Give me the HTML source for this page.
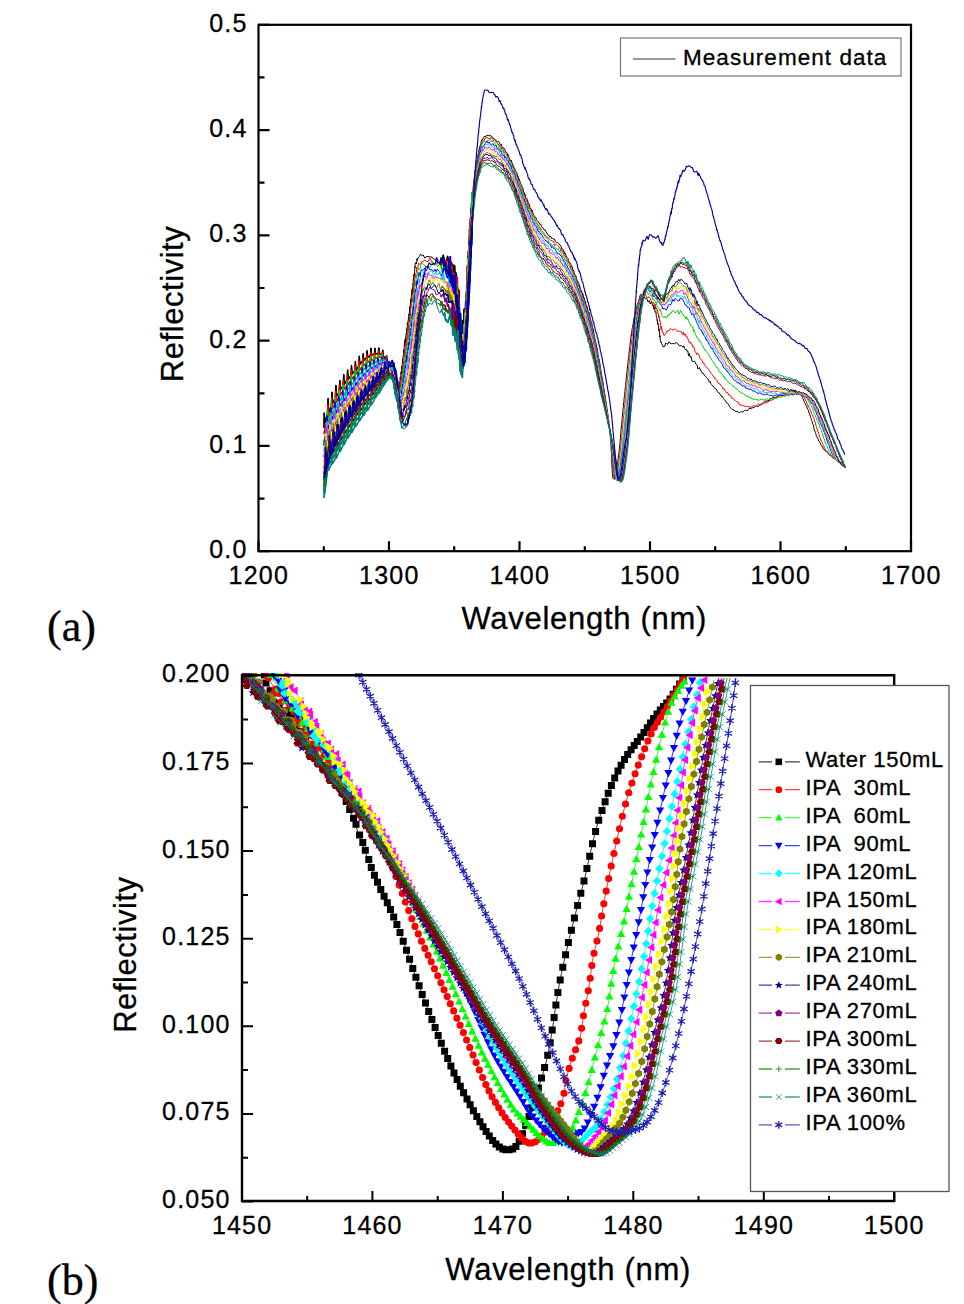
<!DOCTYPE html><html><head><meta charset="utf-8"><style>html,body{margin:0;padding:0;background:#fff;width:964px;height:1304px;overflow:hidden;position:relative}</style></head><body><svg width="964" height="1304" viewBox="0 0 964 1304" style="position:absolute;left:0;top:0">
<rect width="964" height="1304" fill="#fff"/>
<g fill="none" stroke-width="1.0" stroke-linejoin="round">
<path stroke="#000000" stroke-width="1.0" d="M324 428l.2-14.9 .6 9.9 2.8-9.8 .5-14.6 .6 13.8 2.8-7.1 .5-13.1 .6 11.3 2.8-5.9 .5-12.1 .6 10.9 2.8-4.9 .5-11.1 .6 9.3 2.8-4.1 .5-11 .6 9.9 2.8-4.9 .5-9.6 .6 9.5 2.8-4.2 .5-9.7 .6 8.5 2.8-3.6 .5-8.9 .6 8.8 2.8-4.8 .5-9.4 .6 8.2 2.8-3.7 .5-7 .6 6.9 2.8-3.1 .5-6.8 .6 6.7 2.8-2 .5-7.1 .6 6.6 2.8-.7 .5-5.9 .6 5.8 2.8-.7 .5-5.5 .6 5.9 2.8 .9 .5-4.5 .6 5.9 2.8 2.7 .5-3 .6 4.8 2.8 6.2 .5-1.7 .6 4.4 1.1-4.3 .5 6 .5-3.4 .4 1.8 .5 5.8 .4 2.4 .5-2.3 .5 1.6 .2 0 .3 1.3 .2 3.6 .2-1.8 .3 .8 .2 3.5 .5-.1 .5 4.6 1.1 .2 .3-1.6 .3-3.4 .2-2.3 .3-.7 .2-4.4 .1 3.7 .2-3.9 .2-1.3 .1-3 .2 1.4 .1-.2 .2-2.5 .1 2.2 .1-2.5 .2-4.3 .1 .8 .2 1.5 .1-4 .2-.7 .1-5 .2 1.7 .1-1.5 .2-1.7 .1-1.1 .2-.1 .1-1.6 .2-1.5 .1-3.5 .2 .6 .1 2.6 .2-5 .1-3.9 .2-1.3 .1 2.5 .2-4.4 .1-.9 .2-.9 .1 1.3 .2 2.6 .1-4.6 .2-1.4 .1-1.2 .2-.7 .2-1.5 .1 .8 .2 0 .1-2.5 .2-3.1 .2 .5 .1 .6 .2-6.4 .1-.6 .2 1.6 .2-.7 .1-1.5 .2-1.5 .2 .5 .1-3.6 .2 1.2 .2-.1 .1-4.8 .2 1.8 .1-2.1 .2 .1 .2-7 .1 4.9 .2-2.1 .2 .3 .1-1 .2-6.2 .2 1.3 .2-5.1 .2 1.9 .1 1.1 .2-6.2 .1 .1 .2-3 .1-.3 .2-1.1 .1-1.9 .1 5.2 .2-2 .1-4.1 .1 .8 .2-1.5 .1-2.3 .1-1.9 .2 .6 .1-1.9 .1-3.2 .2-.4 .1 .7 .1-1.1 .2-4.3 .2 1.5 .1 .5 .2-1.3 .2-2.8 .2-5.2 .2 1.2 .2-3.5 .2-1.6 .3 0 .3 .1 .3 1 .4-1.9 .3-3.5 .5 1.8 .6-2.4 1.2-1.3 1.2-2.4 1.3 1.2 1.4-.4 1.5 3 1.6-1.3 1.7-.1 1.9 .3 2.2 .2 1.1 1.6 1.2 .4 1.2 .8 1.2-2.6 1.1 2.9 1.2 1.4 1.1 2 1.1-2.5 2-6 1.7 8.4 1.4 .4 1.1-7.6 1 3.1 1.5 7.1 1.3-4.6 .7 2.4 .7 8.9 .5-1.5 .6-6.6 .4 4.7 .5-3.7 .4 12.6 .5-2.6 .2 4.5 .2-4.4 .2-3.2 .2 12.6 .2-2.2 .2-4.8 .2 11.4 .2-10.1 .1 7.8 .1-.5 .2 .4 .1 8.4 .1-2.4 .1 6.5 .1-1.1 .2-5.4 .1 2.8 .1 1 .1 8.2 .1-2.8 .2 6.1 .1-7.2 .1-11.5 .1 10.6 .1 8.6 .1-5.1 .1-.7 0 6.6 .1-2.1 .1 4.2 .1 2.1 0 7 .1 1.1 0-5.3 .1 7.7 .1-10 0 2.7 .1 2.5 0 5.9 .1-3.1 .1 4.9 0-12.3 .1 15.4 0-7 .1 6.5 .1 .1 .1 .7 0-1.1 .1 9.5 .1-9.4 .1 5.7 .1 6.7 .1-.2 .1-5.2 .1 2.7 .2 .5 .4 6.2 .5-4.1 .1-21.9 .2 14.6 .1 11.8 .2-15.1 .1 8.2 .1 2.2 .1-13.1 .1 4.5 .1-7.2 .1 5.1 .1-12.5 .1 5.7 .1-4.8 .1-11.1 .1 19.9 .1 .3 .1-3.6 .1-4.1 0 2.8 .1-2.7 .1-2.3 .1-4.4 .1 .3 .1-1.9 .1-4.8 0 9 .1-5.8 .1-2.3 .1 3.9 .1-8.1 .1-3.8 .1 2.1 0-2.9 .1 2.2 .1-.6 .1-1.3 .1-.1 .1 2.9 0-8 .1 5.9 .1-9.5 .1 4.4 .1-2.1 0 2.6 .1-8.9 .1 4.4 0-17.1 .1 8.2 .1-2 0 5.1 .1-2.2 0 2.3 .1-12.4 .1 8.7 0-3.8 .1-5.4 .1 7.2 0-4.4 .1-3.4 0-.2 .1 1.6 .1-12.9 0 1.1 .1-.6 0 4.1 .1-2.6 .1-7.9 0 5.8 .1 5.3 0-8.2 .1-5.9 .1-1.7 0 3.1 .1-1.6 0 1.6 .1 10.4 .1-9.9 0-.2 .1-12.3 .1 7.4 0-.3 .1-1.6 .1-7.2 0 2.3 .1 2.8 .1-6.2 0 2.2 .1-5.7 .1-.2 .1 2 .1-10.1 0 13 .1-9.2 .1-6.6 .1-1.6 .1 4.9 .1-1.7 .1-3.5 .1-4.2 0 7.5 .1-3.4 .1-1.8 .1-2.8 .1 4.9 .1-3.6 0-8.7 .1 8.2 .1-1 .1-10.3 0 5.6 .1-6 .1 4.3 .1-8.8 .1 .6 0 2.2 .1 4.4 .1 1.1 .1-7.5 .1-.4 .1-2 .1 0 .1-1.8 .1-1.5 .1-.4 .1-2 .1-2.4 .1-.1 .1-2.5 .1-.6 .1-.4 .1-2.5 .1-.6 .1-1.6 .1-.7 .1-1.6 .2 .1 .1-.8 .1-2 .1-.6 .2-1.1 .1-1 .1-1.3 .2-1.6 .1-1 .2-1.2 .2-1.8 .2-.6 .2-2.8 .2 .1 .2-1.5 .2-1.5 .2-.9 .2-.4 .2-1.5 .3-1.4 .2-.5 .2-1.2 .2-2.5 .2 .3 .2-1 .3-2 .3-.3 .3-3.2 .3 .4 .3-2.6 .3-.6 .3-.8 .3-1.3 .4-1 .5-2.3 .4-1.3 .8 .2 .8-2.6 .8-1 .9 .1 1.9-.8 1.1-.6 1.1 .8 1.3-.7 1.2 2 .9 0 .9 1.2 .9 .5 1 .7 1 1.5 .9 .4 .8 .1 .7 0 .7 1.6 .8 1.4 .7-.6 .8 2.5 .7 .5 .7 1.1 .8 0 .7 1.1 .7 2.6 .8 .1 .7 .8 .7 3 .7-1 .7 2.8 .6 1.4 .5 1.2 .6 .5 .5-.6 .6 2.1 .5 2.2 .5-.2 .4 1.4 .5 1.6 .5 .6 .5 .5 .4 1.8 .5 .8 .5 .8 .5 .5 .5 1.7 .5 3.1 .4-.8 .4 1.2 .4 2.7 .4-1.2 .4 1.4 .4 1.4 .4 1.2 .4 .9 .4 .8 .4 .7 .5 2.1 .4 0 .4 .7 .4 3 .4 1.2 .5 .1 .4 2.5 .5-.7 .4 3.1 .5 .6 .4 1 .5-.5 .4 2.9 .4-.5 .5 2 .4 1.1 .5-.2 .5 1.7 .4 2.7 .5 .6 .5-.1 .6 2.8 .5-1.3 .6 2.6 .5 1.5 .7 1.3 .7 .7 .6 1.5 .7-.2 .6 2.4 .6 .8 .9 1 .9 .6 .9 2.3 .9-.4 .8 2.3 .9 1.5 .9 .3 .9 1.8 .9-.3 .9 1.9 .9 1.5 1 1.9 .9 .2 1 1.9 .9-.7 .9 2.2 1-.1 .9 .5 .9 0 1 2.5 .9 .8 .9-.2 1 .9 .9 .9 1 1.4 .9 .6 .6 3 .6-.1 .7 .3 .6 2.4 .6-.3 .7 2.9 .6-1.1 .6 2.5 .6 1.4 .6 .4 .7 .9 .6 3 .6 .5 .7 1.6 .6-.1 .4 .6 .5 3.4 .5-.9 .4 .7 .5 3 .5 .5 .5-.4 .4 2.5 .5 1 .5 2.2 .4 .3 .5 0 .5 2.4 .5 1.7 .4 1.6 .5-.5 .5 1.9 .5-.1 .5 3.6 .4-.9 .4 2.4 .4 1.5 .4 .1 .4 2.3 .4-.4 .4 1.5 .4 1.8 .4-1.1 .4 3.3 .4 1.1 .3-.7 .4 2.5 .4 .1 .4 .9 .4 1.9 .3 1.7 .4 .3 .4 1.1 .4 .8 .3 2.1 .4 1.2 .3 2 .4 1.1 .4-.9 .3 1.5 .4 1.2 .3 1.6 .3 2.5 .4 .5 .3 1.9 .3 1.4 .2-.2 .3 .1 .3 1.6 .2 2.2 .3 .9 .2 .2 .3 2.5 .2-.7 .3 1.4 .2 2.1 .3 1.3 .2 2 .3-.2 .2 2.3 .3 .2 .2 .7 .2 2.9 .3 0 .2 1.7 .2 .1 .3 2.8 .2 .1 .2 .1 .3 1.2 .2 2 .2 1.4 .2 .4 .2 3.1 .3 .4 .2 2.2 .2 .5 .2 1.6 .2-.5 .2 .9 .3 1.7 .2 1.7 .2 .2 .2 3.2 .2 .1 .2 2 .2-.1 .2 2.6 .2 .3 .2 1.5 .2 1.3 .2 1.2 .2 .6 .2 1.1 .2 1.5 .2 1.4 .2 .2 .2 1.6 .2 .9 .2 2.6 .2 .9 .2 1.5 .1 .9 .2 0 .2 1.7 .2 2.2 .2 .5 .2 1 .2 .9 .2 2.5 .1-.2 .2 1.6 .2 1.2 .2 1.7 .1 1.7 .2 .9 .2 1.6 .2 0 .1 2 .2 1.1 .2 0 .1 2.2 .2 1.7 .2-.4 .1 1.5 .2 1.8 .1 1.2 .2 1.1 .1 1.8 .2 .2 .1 1.6 .1 .9 .2 1.7 .1 .3 .2 2.1 .1 1.1 .2 1.1 .1 1.7 .2 .8 .1 .6 .1 2.3 .1 0 .1 1.1 .1 1.6 .1 .9 .1 2 .1 .1 .1 2.1 0 .3 .1 .7 .1 1.7 .1 1.4 0 .5 .1 1.7 0 .9 .1 .4 0 1.2 .1 1.7 .1 1.7 0 .2 0 2.5 .1 .1 0 .6 .1 1.3 0 2.5 .1 1.1 0 .9 .1 .1 0 2.3 .1 .2 .1 1.7 .1 1 0 2.3 .1 1.7 .2 .3 .1 2.7 .2 .4 .2 1.8 .5-.1 1.2-.3 .3-1.3 .3-2.1 .3-.2 .4-1.5 .2-1.9 .2-1.5 .2-1.5 .3-.5 .2-2 .2-1.5 .2-.8 .2-1.7 .1-.2 .2-1.8 .2-1.4 .1-1.1 .2-1.4 .2-1.3 .1-1.6 .2-.4 .1-1 .1-1.9 .2-1 .1-1 .1-2.2 .1-.1 .2-1.8 .1-1 .1-1.4 .1-.5 .1-1.8 .1-.7 .1-2 .1-1.2 .1-.5 .1-.6 .1-2.4 .1-.1 .1-2 .1-1.4 .1 .1 .2-2.6 .1-.5 .1-.7 .1-1.2 .1-1 .1-2.4 .1-1.2 .1-.9 .1-.2 .2-1.1 .1-2.1 .1-1.4 .1-.6 .1-1.6 .1-1.9 .1-.1 .2-.6 .1-1.7 .1-1.1 .1-2.3 .2-.2 .1-.6 .1-2.4 .1-1.1 .2-1.4 .1-.6 .1-1.7 .1-.3 .2-1.5 .1-1.5 .1-.7 .1-2.1 .2-1.1 .1-.8 .1-1.2 .1-1.1 .1-.2 .2-2.3 .1-.2 .1-1.3 .1-2.1 .2-1 .1-1.9 .1 0 .1-1.5 .2-1.8 .1 .1 .1-2 .1-1.5 .2-.8 .1-1.8 .1-1 .1-.5 .2-1.2 .1-2.1 .1-.1 .2-1.1 .1-1.6 .1-1 .2-1.2 .1-.8 .1-1.3 .1-1 .2-1.6 .1-1.2 .1-1.7 .2-.1 .1-1.2 .1-.8 .2-1.4 .1-1.4 .1-1.9 .2-.1 .1-1.1 .2-2.2 .1-.9 .2-.8 .2-1.8 .1 .5 .2-2.9 .2 0 .1-.9 .2-2.6 .2-.4 .2-1.3 .2-.3 .2-1.2 .2-1.9 .3-1 .2-1.2 .3-2.7 .2-1.3 .3-.3 .3-.7 .2-1.6 .3-.8 .3-2.7 .4-1.2 .3-2.4 .4 .3 .3 .6 .3-4.5 .5-.5 .5-1.5 .5-.9 .5-2.4 .4-.5 .5-3 .8-1.5 1.5 1.3 1.3-.9 .8 3.1 .7 0 .9 .9 1 .1 1.1 3.3 1.1-1.4 1.2 3.3 1.2-2.2 1.2 4.2 .6-1 .6 4.3 .5-2.6 .5 4.8 .3 .8 .3-.5 .4-.3 .2 3.9 .2 1.2 .2 1.3 .3 .6 .2 1.9 .2-.7 .2 2.4 .2 2.3 .2-1.4 .2 1 .3 1.7 .2 0 .2 4.9 .2-1.7 .2 .5 .2 2.4 .2 2.1 .2 3.1 .2-1.3 .2 3.4 .3 1.6 .3 1.5 .3-.5 .4 1.6 .5 .9 .9 2.5 1.8-.3 .9-3.3 1 .3 1 1 1.2-2.6 1.2 1.5 1.4 .4 1.5-.1 1.6 .1 1.6-1.2 1.7 1.3 1.8 2.3 1.7-.7 1.7 1.9 .8-1.5 .8 2.6 .8 1.2 .8-.5 .8 2.1 .8-.3 .8 5.1 .8-2.5 .9 3.9 .8-.8 .9 4.5 .9 .8 .7-.5 .6-.3 .7 .3 .7 2.4 .7 .5 .7 .4 .8 4.2 .8-.4 .8-1.1 .9 2.7 .9 .9 .9 1.9 .7 .5 .7-.1 .7 1.8 .7 .8 .8 .5 .7 1.2 .7 .6 .8 .7 .7 1.2 .8 2.2 .7-.8 .7 1.8 .8 1.3 .7 1 .7 .1 .7 1.4 1 .7 .9 1.2 .9 .4 .8 2.2 .9 .9 .8 .1 .8 1.5 .7 .2 .8 2 .7-.2 .7 1 .7 1.4 .7 .7 .7 1.1 .7 .3 1 2.3 .9 .3 1 1 .9 2 1 1.5 .9 .7 .9 1 1-.1 .9 .8 1 1.1 1.7 .3 1.5 .5 1.3 .9 1.4-1.4 1.5 .6 2-1.4 1.2-.5 1.2 .5 1.1-.4 1-1.7 1.1-.3 1 0 1.1-.3 1-.4 1 0 1.1-1 1-.8 1 .9 1-.4 1.1-.9 1.1-.5 1.2-.3 1.1-.9 1.2-1 1.1-1.5 1-.2 1 .2 1-.7 1 .1 1.1-2 1 .3 1-1.1 1-.2 1-.3 1 .2 1-.4 1-.6 1.2-1 1.1-.3 1.1-.1 1.2-.6 1.1-1.4 1.3 .7 1.3-.5 1.2-.6 1.3-.6 1.4-.5 1.3-.9 1.4-.5 1.5 .1 1.6-.1 1.2 .6 1.1 1.7 1.9 .4 1.4 .6 .6 2.5 .6-.4 .6 1.9 .6 1.5 .6 .9 .7 2.5 .5 .4 .6 1.3 .5 1.6 .6 .3 .6 2.1 .6 1.2 .4 .8 .4 .8 .4 2.4 .5 .2 .3 1 .3 1.5 .4 .3 .3 1.5 .4 .7 .3 1.7 .3 .3 .4 1 .3 2.3 .4 .3 .3 .7 .4 1.4 .4 2.3 .3 1.4 .4 1.2 .4 .1 .3 1.2 .4 1.3 .4 1.7 .4 .8 .5 1.4 .5-.1 .6 2.1 .5 1.4 .6 .3 .5 1.4 .6 .5 .6 2.3 .7 .5 .7 .2 .7 2 .6 1.3 .8 0 .8 1.6 .8 .3 .8 .4 .9 1 .9 1.7 .8 .6 .9 0 .9 1 .9 .2 .9 1.6 .8 .7 1.2-.1 1.1 .9 1.2 1.9 1 0 1-.1 1.1 .8 1.3 2.2 1.3 1.1 .9-.7 1 2"/>
<path stroke="#000000" stroke-width="1.5" d="M324 428l.2-14.9 .6 9.9 2.8-9.8 .5-14.6 .6 13.8 2.8-7.1 .5-13.1 .6 11.3 2.8-5.9 .5-12.1 .6 10.9 2.8-4.9 .5-11.1 .6 9.3 2.8-4.1 .5-11 .6 9.9 2.8-4.9 .5-9.6 .6 9.5 2.8-4.2 .5-9.7 .6 8.5 2.8-3.6 .5-8.9 .6 8.8 2.8-4.8 .5-9.4 .6 8.2 2.8-3.7 .5-7 .6 6.9 2.8-3.1 .5-6.8 .6 6.7 2.8-2 .5-7.1 .6 6.6 2.8-.7 .5-5.9 .6 5.8 2.8-.7 .5-5.5 .6 5.9 2.8 .9 .5-4.5 .6 5.9 2.8 2.7 .5-3 .6 4.8 2.8 6.2 .5-1.7 .6 4.4 1.1-4.3 .5 6 .5-3.4 .4 1.8 .5 5.8 .4 2.4 .5-2.3 .5 1.6 .2 0 .3 1.3 .2 3.6 .2-1.8 .3 .8 .2 3.5 .5-.1 .5 4.6M440.2 263.6l1.1-2.5 2-6 1.7 8.4 1.4 .4 1.1-7.6 1 3.1 1.5 7.1 1.3-4.6 .7 2.4 .7 8.9 .5-1.5 .6-6.6 .4 4.7 .5-3.7 .4 12.6 .5-2.6 .2 4.5 .2-4.4 .2-3.2 .2 12.6 .2-2.2 .2-4.8 .2 11.4 .2-10.1 .1 7.8 .1-.5 .2 .4 .1 8.4 .1-2.4 .1 6.5 .1-1.1 .2-5.4 .1 2.8 .1 1 .1 8.2 .1-2.8 .2 6.1 .1-7.2 .1-11.5 .1 10.6 .1 8.6 .1-5.1 .1-.7 0 6.6 .1-2.1 .1 4.2 .1 2.1 0 7 .1 1.1 0-5.3 .1 7.7 .1-10 0 2.7 .1 2.5 0 5.9 .1-3.1 .1 4.9 0-12.3 .1 15.4 0-7 .1 6.5 .1 .1 .1 .7 0-1.1 .1 9.5 .1-9.4 .1 5.7 .1 6.7 .1-.2 .1-5.2 .1 2.7 .2 .5 .4 6.2 .5-4.1 .1-21.9 .2 14.6 .1 11.8 .2-15.1 .1 8.2 .1 2.2 .1-13.1 .1 4.5 .1-7.2 .1 5.1 .1-12.5 .1 5.7 .1-4.8 .1-11.1 .1 19.9 .1 .3 .1-3.6 .1-4.1 0 2.8 .1-2.7 .1-2.3 .1-4.4 .1 .3 .1-1.9 .1-4.8 0 9 .1-5.8 .1-2.3 .1 3.9 .1-8.1 .1-3.8 .1 2.1 0-2.9 .1 2.2 .1-.6 .1-1.3 .1-.1 .1 2.9 0-8 .1 5.9 .1-9.5 .1 4.4 .1-2.1 0 2.6 .1-8.9 .1 4.4 0-17.1 .1 8.2 .1-2 0 5.1 .1-2.2 0 2.3 .1-12.4 .1 8.7 0-3.8 .1-5.4 .1 7.2 0-4.4 .1-3.4 0-.2 .1 1.6 .1-12.9 0 1.1 .1-.6 0 4.1 .1-2.6 .1-7.9 0 5.8 .1 5.3 0-8.2 .1-5.9 .1-1.7 0 3.1 .1-1.6 0 1.6 .1 10.4 .1-9.9 0-.2 .1-12.3 .1 7.4 0-.3 .1-1.6 .1-7.2 0 2.3 .1 2.8 .1-6.2 0 2.2 .1-5.7 .1-.2 .1 2 .1-10.1 0 13 .1-9.2 .1-6.6 .1-1.6 .1 4.9 .1-1.7 .1-3.5 .1-4.2 0 7.5 .1-3.4 .1-1.8 .1-2.8 .1 4.9 .1-3.6 0-8.7 .1 8.2 .1-1 .1-10.3 0 5.6 .1-6 .1 4.3 .1-8.8 .1 .6 0 2.2 .1 4.4 .1 1.1 .1-7.5 .1-.4"/>
<path stroke="#ff0000" stroke-width="1.0" d="M324 433.8l.4-2.5 2.9-12.5 .5-13.6 .5 12.3 2.9-7.1 .5-12.8 .5 11.5 2.9-5.9 .5-11.7 .5 11.3 2.9-6.9 .5-10.9 .5 10.3 2.9-4.2 .5-10.9 .5 9.3 2.9-3.4 .5-10.2 .5 9.3 2.9-4.7 .5-10.3 .5 9 2.9-3.7 .5-9.9 .5 8.9 2.9-4.2 .5-9 .5 8.9 2.9-4 .5-7.6 .5 7.4 2.9-3.2 .5-7.7 .5 7.7 2.9-2.9 .5-7.2 .5 8.1 2.9-1.8 .5-6.6 .5 6.5 2.9-1.9 .5-6 .5 6.4 2.9-.8 .5-4.2 .5 5.5 2.9 2.4 .5-4.4 .5 6.5 2.9 4.9 .5-2.8 .5 4.5 1.5 2.5 .5-1.6 .5 5.1 .5-2.7 .4-.7 .5 5.4 .5 2.5 .5-1.6 .2-.1 .3 3 .2 5.8 .3-.1 .2-3.2 .3 2.2 .3 0 .2 .9 .6 6.6 1.1-4.8 .4 1.4 .3-2 .2-3.1 .3 2.6 .2-5.5 .2 2.4 .1-4.9 .2 1 .2-2.7 .2-.7 .1 3.8 .2-2.3 .1-4.6 .2 3 .1-5.9 .2 .1 .1 2 .2-2.7 .1-4.9 .2 5 .1-6.7 .2-.9 .1 2.4 .2-4.3 .1-1.5 .2-2.7 .1-1.1 .2 2.3 .2-3.6 .1 1.4 .2-2.7 .1-.6 .2 2.5 .1-4.5 .2-.7 .2 .7 .2-6.1 .2-1.5 .1 4.2 .2-1.7 .1-5.1 .2-1.5 .2 2.7 .1 .3 .2-6.3 .1 4.2 .2-1.6 .1-3.1 .2-2.4 .1-3.3 .2-1.6 .2 5.4 .1-6.2 .2 2.1 .1-4.2 .2 2.8 .1-2.7 .2-3.2 .2-1.9 .1 2.7 .2-5.7 .1 0 .2 1.2 .1 1 .2-2.8 .1-3.4 .2 3.3 .2-6 .1-2.7 .2 .5 .2-.1 .2-4.1 .2-.5 .2 0 .2 0 .1-4.4 .2 .5 .1 2.5 .1-.5 .2-3.4 .1-.9 .1-1.9 .2-4.3 .1-1.8 .1-1.3 .1 5.1 .2-2.6 .1 .7 .1-7.7 .2 3.2 .1-2.3 .2 .5 .1-4.3 .2 3.5 .2-7.8 .2 2 .2 .2 .1-.1 .2-2.4 .3-1.6 .3-.8 .3-.5 .3-5.1 .3 1.3 .3 .4 .6-1.5 .5-4.3 1.1 1 1.2-.5 1.3-2.5 1.4 .3 1.4-1.7 1.6 1.5 1.6 .2 1.9-3.7 2 4 1.2 2.7 1.1-.7 1.2-.8 1.1-2.2 1.1 2.7 1.2-.8 1.1-.7 1.1 4.1 1.9-6.9 1.7 7.3 1.4-6.6 1.1 6.4 1-.6 .9 3.8 .8-.3 .7-12.9 .6 15.7 .7-6 .7 8.1 .6 4.4 .6-1.9 .5-1.9 .5 8.3 .4-5.7 .5 1 .2 3.6 .2 6 .2 2.7 .2-9.6 .2 2.8 .2 3.3 .2 2.6 .2 6.3 .2-19 .2 23.7 .1-4.1 .1-8.6 .1 13.1 .1-5.8 .2-1.4 .1 6.7 .1 4.2 .1 5.5 .1-9.4 .2-3.6 .1 13.5 .1-4.9 .1 7.1 .1 0 .1-1.9 .1 14.8 0-7.8 .1-2.6 .1 7.6 .1-3.6 0 4.4 .1-3.4 .1-2.4 0 9.9 .1-.1 .1 3.8 0 2.4 .1-1.3 .1 2.9 .1-12 0 9.6 .1 3.7 .1-8.2 .1 2.7 0 9.8 .1-7.8 .1 9.3 .1 .7 .1-1.6 .1-4.5 .2 7.8 .2 4.4 .4-4.2 .5-.8 .4-3.8 .2 6.1 .1-1.9 .1-5.7 .2-5.8 .1 3.1 .1-7.9 .1 5.7 .1 2.7 .1-5.5 .1-7.1 .1 3.7 0 6 .1-7.4 .1-1.7 .1 5.4 .1-9.4 .1 3 .1-8.1 .1-2.7 0 1.6 .1 .1 .1 4.4 .1-9.7 .1 .5 .1 2.7 .1-3.5 .1 .9 .1-5.8 0 4.8 .1 1.8 .1-1.2 .1-2.9 .1 1 .1-9.3 0-2.5 .1 8.3 .1-10.2 0 3.1 .1-2.8 .1-5.2 0-4.6 .1 9.9 .1-1.1 .1-.3 0-2.2 .1-25 .1 20.6 0-.9 .1-6.5 0 8 .1-14.4 .1 13.7 0-3.7 .1-5.4 0-1.6 .1-7.1 0 10.5 .1-6.7 .1-1.8 0-4.6 .1-3.3 0 9.8 .1-.3 .1-7.6 0 .2 .1 3 .1 .3 0-3.1 .1-6.4 0 5.4 .1-2.8 .1-6.3 0-5.9 .1-3 .1 8.6 0-6.9 .1 4.9 0-1.3 .1-3 .1 5.4 0-5.4 .1 1.6 .1-3.4 .1-17.2 0-.2 .1 16.3 .1-6.8 0-.2 .1-.1 .1-9 .1 14.8 0-15.8 .1-1 .1 11.7 .1-10.4 .1 1.2 0-5.6 .1 2.7 .1 .9 .1-11.1 .1-.8 .1 8.7 .1 .8 .1-13.1 .1 17 .1-14.2 0 6.4 .1-7.6 .1 1.5 .1 2.4 .1-7.5 .1-2.3 .1-6.9 .1-.3 .1 6.4 .1-4.2 .1-.4 .1-1.6 .1-.3 .1-1.9 .1 0 0-1.3 .1-1.8 .1-2.5 .2-1.5 .1 .9 .1-1.4 .1-1.6 .1-1.9 .1-1.4 .1 0 .1-1.4 .1-1 .1-1 .2-.8 .1-2.6 .1-.9 .1 .7 .2-1.3 .1-1.3 .2-3.4 .1-1.1 .2-.6 .2-.9 .2-.7 .2-2.6 .2-.1 .2-2.5 .2-1 .2 .4 .2-1.5 .2-.9 .2-1.8 .3-1 .2-2 .3-1 .3-.2 .3-1 .2-3.2 .3-1 .3 .6 .4-1.9 .4-1 .4-2.8 .4-.6 .5-1.6 .4 .3 .8-2.6 .7-.6 .8 0 .9-2.7 1.9-.4 1.1 .6 1.1 .5 1.3-.8 1.2 .4 .9-.1 .9 2.7 .9-1.4 1 .9 .9 2.1 1 .7 .7 1.4 .8-.2 .7 2 .8-.9 .7 1.3 .7 2.1 .8-.6 .7 1.6 .8 2.1 .7 1 .7 0 .8 .7 .7 1.7 .7 2.1 .7 .2 .7 .5 .6 2.6 .5 .7 .6 1.9 .5 1.2 .6 .9 .5-.1 .5 2 .4-.3 .5 1.1 .5 1.3 .5 2.5 .4 1.1 .5-.5 .5 1.4 .5 1.2 .5 1.2 .5 1.3 .4 1 .4 .6 .4 2 .4 1.7 .4 .4 .4 1.8 .4 .4 .4 0 .4 2.6 .4 1.4 .5-.5 .4 .4 .4 2.3 .4 1.2 .4 1.2 .5 2.3 .4 .3 .5 1.6 .4-.7 .5 2.4 .4 1.7 .5-.7 .4 1 .4 2.8 .5 1.5 .4-1 .5 2.5 .5-.2 .4 2.6 .5 .8 .5 .1 .6 1 .5 2.5 .6 .5 .5 1.7 .7 .3 .7 1.1 .6 2.8 .7 .3 .6 .6 .6 1.2 .9 1.8 .9 1.4 .9 1.7 .9-.1 .8 2.2 .9 .8 .9 1.6 .9 1 .9 1.2 .9 1.3 .9 1.3 1 .2 .9 .6 1 1.4 .9 1.1 .9-.2 1 .7 .9 .1 .9 2.3 1 1.4 .9-.7 .9 .4 1 1.1 .9 1.6 1 .9 .9 3 .6-1.4 .6 1.6 .7 .5 .6 2.4 .6 1.3 .7-.5 .6 .8 .6 2.2 .6 1.4 .6 2 .7-1.1 .6 1.4 .6 1.5 .7 1.3 .6 1.3 .4 2.3 .5 .7 .5 0 .4 .9 .5 1.3 .5 .8 .5 2.6 .4-.1 .5 1.7 .5 1.8 .4 .2 .5 .6 .5 2.8 .5 1.3 .4-.3 .5 1.7 .5 2.3 .5 0 .5 .6 .4 .8 .4 3.4 .4 .6 .4 0 .4 1.4 .4 1 .4 .5 .4 3 .4 .2 .4 0 .4 .5 .3 2.3 .4 .9 .4 2.3 .4 .9 .4 .8 .4 0 .3 1.2 .4 1.6 .4 1 .3 2.8 .4 .2 .4 1.5 .3 2.2 .4-.7 .3 1.9 .4 .2 .3 2.8 .3-.7 .4 3.3 .3 1.3 .3 1.2 .3-.7 .3 1.8 .4 2.4 .3-.3 .2 2.1 .3 1 .2 2.4 .3 .1 .2 1.8 .3-.3 .2 2.4 .2 .1 .3 2.5 .2-1.1 .2 3.1 .3-.5 .2 2 .2 1.1 .3 .2 .2 2.9 .2-.2 .2 1.2 .3 .5 .2 1.8 .2 1.6 .2 1.8 .2 .3 .2 2 .2-.4 .3 2 .2 1.3 .2 2.5 .2 .8 .2 .7 .2-.5 .2 2.1 .2 1.9 .2 .3 .2 1.8 .2 1 .2 .3 .2 2.9 .2 .9 .2 0 .2 1.9 .2 .6 .2 1.3 .2 1.5 .2 .7 .2 1.2 .2 1.3 .2 1.6 .2 .5 .2 1.1 .2 2.1 .2 .5 .2 2.3 .2 .5 .2 1.4 .2 .5 .2 2.1 .2-.1 .2 1.3 .1 1.1 .2 2.2 .2 1.3 .2 .2 .2 1.6 .2 2 .1 .7 .2 .3 .2 1.4 .2 1.1 .1 1.1 .2 1.7 .2 .5 .2 2.7 .1 .3 .2 1.3 .1 1.4 .2 1.4 .2 1.2 .1 .3 .2 1.1 .1 1.2 .2 .4 .1 1.9 .2 1.6 .1 1.8 .2 .9 .1 1.1 .2 1.2 .2 .2 .1 1.9 .1 1.3 .2 1.9 .1 .3 .1 1.8 .1 1.4 .1 1.7 .1 1.2 .1 .7 .1 .4 .1 2.2 .1 1.4 0 .5 .1 .9 .1 1.4 0 .5 .1 2.2 .1 1.6 .1 .2 0 1.5 .1 1.4 0-.1 .1 2.5 .1 .6 0 .5 .1 1 .1 1.5 .1 1.8 .1 1.5 .1 .7 0 2.3 .1 .3 .2 1.5 .1 .8 .2 2.8 .2-.3 .3 2.7 .6 .3 1.2-1.7 .4-1.1 .3-1.7 .3-.4 .4-1.5 .2-1.6 .3-1.6 .2-2.1 .2 .1 .1-2 .2 0 .2-2.3 .2-.6 .2-.7 .1-2.4 .2-.5 .2-2.2 .2-1.4 .1-1.1 .2 .1 .2-1.4 .1-1.7 .1-1.9 .2-.6 .1-1.2 .2-1.8 .1-.8 .1-.8 .1-2.6 .1-.8 .1-.7 .2-1.8 .1-.9 .1-.9 .1-2 .2-.6 .1-1.8 .1-.6 .1-1.6 .1-.5 .1-2.3 .1 0 .1-2.1 .1 .3 .1-1.8 .2-1.4 .1-1.3 .1-.8 .1-1.1 .1-1 .1-1.2 .1-1.7 .1-.3 .2-1.4 .1-1.2 .1-2 .1-1.1 .1-1 .1-.6 .2-1.8 .1-1.2 .1-1.4 .1-.3 .2-2.2 .1-1.7 .1 0 .1-.9 .2-1.6 .1-1.5 .1-.9 .2-2.1 .1-.7 .1-2.1 .1-1 .2-.6 .1-1.1 .1-1.4 .1-1.7 .1-.1 .2-1.4 .1-1.8 .1-1.1 .1-1 .2-1.5 .1-1.5 .1 .3 .1-1.1 .2-1.8 .1-.9 .1-2 .1-.5 .2-2.3 .1-.3 .1-1.6 .2-.6 .1-2.7 .1 .1 .1-2.4 .2-.5 .1-.4 .1-2.9 .2-.8 .1-1.1 .1-1.1 .1-1.7 .2 .4 .1-1.3 .1-1.9 .2-1.2 .1-.7 .1-2.1 .2-1.2 .1 .4 .2-2.2 .1-.9 .1-.4 .2-1.1 .1-2 .2-1.7 .1-1 .2-.1 .2-1.2 .1-2.5 .2 0 .2-2.1 .2-1 .2-1.7 .2 0 .2-1 .2-2.6 .2-.6 .3-2.1 .2-.1 .3-2.9 .2-1 .3-.1 .2-2.4 .3 1.4 .3-1.5 .3-2.1 .3-3.9 .4 1.3 .3-.1 .3-3.4 .5-3.1 .5-.9 .4-.9 .5 .4 .4-3.3 .5-1.2 .8-1.4 .7 .9 1.4 .2 1.4-.9 .8 2 .9 1.7 1-.5 1.1-.6 1.2 1.5 1.3 4.1 1.2 .4 1.2 .1 .6 2.6 .6-1.5 .5 5 .6-1.2 .5 1.7 .5 1.4 .3-1.1 .3 3.6 .3-.3 .2 1.1 .3 3.6 .3-1.9 .3 2.1 .3 3.4 .2-1 .3 1.4 .3 2.4 .3-.4 .2 4.3 .3 1.5 .3-3.1 .4 3.2 .5 2.6 .9 .3 .9 3.2 1.9-2.6 1-2.4 1 .5 1.1-.6 1.1-2.1 1.3 1.1 1.4 .6 1.4-1 1.5 .2 1.5 1.9 1.7-.1 1.7 .2 1.7 3.1 .9-2.6 .9 3.5 .9-1.6 .9 3 .9-.3 .9 2.2 .7 2.4 .6 1 .6 1 .7-1.3 .6 2.2 .7-.2 .7 2.8 .6 .7 .7-.9 .7 3.7 .7 1.7 .7 .5 .8 2.5 .7-1.9 .8 1.1 .7 .5 .8 3.3 .8 1 .9 1.2 .8 .9 .9 2.1 .7-.3 .6 2.4 .7 .4 .7 .9 .7 1.4 .8 0 .7 .8 .7 1.3 .8 .5 .7 1.4 .8 1.6 .7 .8 .7 .5 .8 1.6 .7 0 .8 2.3 .7-.2 .8 1.1 .7 .7 .7 1.9 .7 1.1 .8 .8 .7-.4 .7 1.5 .9 .9 .9 .8 .9 2.4 .8-.7 .8 1.7 .9 1.5 .8 1.3 .8-.7 .8 1.5 .8 1.3 .8-.4 .8 1.2 1.2 2.3 1.1-.2 1.1 1.5 1.2 .9 1.1 1.1 1.1 .3 1.1 .6 1.1 2.5 1.1 .2 1.1 .6 1-.5 1.1 .5 1.7 1 1.7-.3 1.7 .4 1.8 .6 2.2-1.5 1.2-.3 1.3 .8 1.5-1 1.6-1.4 1.3 .3 1.3 0 1.2-1.4 1.2 0 1.2 .2 1.1-.1 1.2-.9 1 .1 1-1.2 1.1-.6 1 .4 1-1.2 1.1 .3 1.1-1.5 1-.2 1.1-.8 1.1 .3 1-1.1 1.1-.4 1.1-.4 1.1 .1 1-.7 1.3-.2 1.3 .5 1.2-.9 1.3-.1 1.1-1.5 1.2 .1 1.1-.8 1.1 .8 1.3-.6 1.2-.3 1.3-.5 1.4 .7 1.5 .4 1.1 .9 1.2 1.6 .9 .5 .9 .1 .8 1.2 .8 .8 .7 2.7 .6 .2 .7 2.2 .6 1.4 .5 1.4 .5-.5 .4 1.6 .6 1.2 .5 .6 .6 2.6 .6 .3 .5 2.1 .6 .8 .5 .4 .4 1.7 .4 .9 .4 .8 .5 1.5 .4 2 .4 .3 .4 1.8 .3 1.2 .4 1.3 .3 .3 .4 2.1 .3 .3 .3 1.9 .4 .9 .3 .1 .4 1.2 .3 1.2 .5 2.1 .4 .7 .5 1.2 .4 2.1 .5 0 .5 1.3 .5 1.2 .5 1 .5 .6 .5 1 .5 2 .5 .9 .8 1.5 .8 1.4 .8-.1 .9 1.6 .9 1.5 .9-.3 1 1.7 1 .8 1 1.4 .9 .7 1-.4 1 1.5 1-.3 .9 1.3 1 .6 1.3 .2 1.2 1.5 1.1 .6 1.1 1.1 1.6 .8"/>
<path stroke="#ff0000" stroke-width="1.5" d="M324 433.8l.4-2.5 2.9-12.5 .5-13.6 .5 12.3 2.9-7.1 .5-12.8 .5 11.5 2.9-5.9 .5-11.7 .5 11.3 2.9-6.9 .5-10.9 .5 10.3 2.9-4.2 .5-10.9 .5 9.3 2.9-3.4 .5-10.2 .5 9.3 2.9-4.7 .5-10.3 .5 9 2.9-3.7 .5-9.9 .5 8.9 2.9-4.2 .5-9 .5 8.9 2.9-4 .5-7.6 .5 7.4 2.9-3.2 .5-7.7 .5 7.7 2.9-2.9 .5-7.2 .5 8.1 2.9-1.8 .5-6.6 .5 6.5 2.9-1.9 .5-6 .5 6.4 2.9-.8 .5-4.2 .5 5.5 2.9 2.4 .5-4.4 .5 6.5 2.9 4.9 .5-2.8 .5 4.5 1.5 2.5 .5-1.6 .5 5.1 .5-2.7 .4-.7 .5 5.4 .5 2.5 .5-1.6 .2-.1 .3 3 .2 5.8 .3-.1 .2-3.2 .3 2.2 .3 0 .2 .9M441 266.2l1.9-6.9 1.7 7.3 1.4-6.6 1.1 6.4 1-.6 .9 3.8 .8-.3 .7-12.9 .6 15.7 .7-6 .7 8.1 .6 4.4 .6-1.9 .5-1.9 .5 8.3 .4-5.7 .5 1 .2 3.6 .2 6 .2 2.7 .2-9.6 .2 2.8 .2 3.3 .2 2.6 .2 6.3 .2-19 .2 23.7 .1-4.1 .1-8.6 .1 13.1 .1-5.8 .2-1.4 .1 6.7 .1 4.2 .1 5.5 .1-9.4 .2-3.6 .1 13.5 .1-4.9 .1 7.1 .1 0 .1-1.9 .1 14.8 0-7.8 .1-2.6 .1 7.6 .1-3.6 0 4.4 .1-3.4 .1-2.4 0 9.9 .1-.1 .1 3.8 0 2.4 .1-1.3 .1 2.9 .1-12 0 9.6 .1 3.7 .1-8.2 .1 2.7 0 9.8 .1-7.8 .1 9.3 .1 .7 .1-1.6 .1-4.5 .2 7.8 .2 4.4 .4-4.2 .5-.8 .4-3.8 .2 6.1 .1-1.9 .1-5.7 .2-5.8 .1 3.1 .1-7.9 .1 5.7 .1 2.7 .1-5.5 .1-7.1 .1 3.7 0 6 .1-7.4 .1-1.7 .1 5.4 .1-9.4 .1 3 .1-8.1 .1-2.7 0 1.6 .1 .1 .1 4.4 .1-9.7 .1 .5 .1 2.7 .1-3.5 .1 .9 .1-5.8 0 4.8 .1 1.8 .1-1.2 .1-2.9 .1 1 .1-9.3 0-2.5 .1 8.3 .1-10.2 0 3.1 .1-2.8 .1-5.2 0-4.6 .1 9.9 .1-1.1 .1-.3 0-2.2 .1-25 .1 20.6 0-.9 .1-6.5 0 8 .1-14.4 .1 13.7 0-3.7 .1-5.4 0-1.6 .1-7.1 0 10.5 .1-6.7 .1-1.8 0-4.6 .1-3.3 0 9.8 .1-.3 .1-7.6 0 .2 .1 3 .1 .3 0-3.1 .1-6.4 0 5.4 .1-2.8 .1-6.3 0-5.9 .1-3 .1 8.6 0-6.9 .1 4.9 0-1.3 .1-3 .1 5.4 0-5.4 .1 1.6 .1-3.4 .1-17.2 0-.2 .1 16.3 .1-6.8 0-.2 .1-.1 .1-9 .1 14.8 0-15.8 .1-1 .1 11.7 .1-10.4 .1 1.2 0-5.6 .1 2.7 .1 .9 .1-11.1 .1-.8 .1 8.7 .1 .8 .1-13.1 .1 17 .1-14.2 0 6.4 .1-7.6 .1 1.5 .1 2.4 .1-7.5 .1-2.3 .1-6.9 .1-.3 .1 6.4"/>
<path stroke="#00d000" stroke-width="1.0" d="M324 439.7l.1 4.2 2.8-19.2 .5-14.3 .6 12.3 2.8-7.4 .5-12.5 .6 12 2.8-5.6 .5-12 .6 11 2.8-6 .5-11.2 .6 10 2.8-4.9 .5-11.1 .6 11.3 2.8-6.1 .5-9.1 .6 8.7 2.8-3.8 .5-10.3 .6 9.4 2.8-3.9 .5-10.5 .6 8.9 2.8-3.2 .5-9.3 .6 7.7 2.8-2.8 .5-8.2 .6 6.7 2.8-3 .5-8.1 .6 7.7 2.8-2.3 .5-7.7 .6 7.8 2.8-3 .5-6.4 .6 7.6 2.8-2.4 .5-6 .6 6.5 2.8-1.4 .5-5.5 .6 5.4 2.8 1.7 .5-3.7 .6 5.7 2.8 3.8 .5-2.3 .6 4.4 1.8 1.5 .5 1.4 .5-2.4 .5 2.5 .5 2.5 .4 2.7 .6 3.8 .5 0 .3-2 .2 6.9 .3-1.3 .3 2.1 .2-.7 .3 2.9 .3 .9 .2 3.9 .6-2.9 1.3 3.1 .3-3.7 .4 2.5 .2-5.8 .2 .5 .3-.7 .2 .9 .2-5.2 .2 1.7 .2-2.9 .2-.8 .2 .1 .2 2.1 .2-4.7 .1 2.2 .2-6.7 .1 4.2 .2-5.1 .2-2.3 .1 2.7 .2 0 .1-7.5 .2 .6 .2 2.4 .1-4.2 .2-1.8 .1-2.8 .2-1 .2 2.9 .2 1.3 .1-1.3 .2-4.8 .2-4.7 .2 .8 .2 2 .2-1 .2-2.6 .2-4.2 .2 .8 .2-1.7 .1-.2 .2-3.9 .2 3.4 .2-1.7 .2-6.5 .2-.4 .2 2.7 .2-5.5 .2 3.3 .1-4.4 .2-.1 .2-1.3 .2-4.8 .2-.8 .2-1.6 .2 1.7 .1-1.3 .2-5.3 .2 3.9 .2-4.6 .2-2.6 .2 .1 .2 2.5 .1-4.3 .2-.8 .2 .7 .2-1.1 .2-2.7 .1-3.8 .2 .1 .1 1.1 .1-2 .2-2.6 .1-2.7 .1-1 .2 1.4 .1-2.3 .1-5 .1 3.7 .2 .2 .1-1.9 .1-.4 .2-1 .1-3.8 .1 .5 .2-4.3 .2-3.3 .2 .5 .1-1.5 .2 3.1 .2-3 .2-2.2 .3-.9 .2-4.9 .3 1.4 .3 0 .4-3.3 .3-2.2 .5-.2 .5-1.9 1.1 .7 1.2-5.1 1.2-1.2 1.3 1 1.4 2.4 1.5 .3 1.6-.9 1.8 1.8 2-3.9 1.1-2.2 1.1 3.4 1.1-.1 1.2-1.6 1.1 3.7 1.1-1.9 1-.4 1.1 .4 1.9 6.9 1.7-8.7 1.3 4.3 1.2-.1 1.1 0 .9 2.9 .8 7.7 .7-2 .7-2.2 .8 6.5 .7-4.1 .6 6.5 .6-2.8 .5-.6 .5 5.4 .5 .2 .4-.9 .3 .7 .2 1.7 .2-1.9 .2 6.9 .2-5.6 .2 4.7 .2 5.8 .2 5.2 .2-6.2 .2 6 .2 1.2 .1-1.1 .1-1 .2 2.8 .1 1.4 .1-2 .1 2.4 .1 9 .2 2.1 .1-6 .1 .5 .1 9 .1-8 .1-1.5 .1 1 0 3.2 .1 3 .1-.5 .1 10.7 0-9.5 .1 7.3 .1 1.1 0 5 .1-1 .1 1.2 0-1.9 .1 5.5 .1 4.1 .1 .3 0 2.6 .1-6.2 .1 3.6 0 4.4 .1-23.8 .1 5.1 .1 11.9 .1 8.2 .1 5.9 .1-9.5 .2 11.6 .2-8.6 .9 2.3 .2-3.1 .3-4.9 .1 11 .1-3.8 .1-6.9 .2 6.7 .1-15.2 .1 6.7 .1 3.6 .1-8 .1 6.2 .1-6.4 .1 .8 .1-4.8 .1-.8 .1-4.8 .1 10.5 0-11.1 .1-3.3 .1 6.2 .1-2.4 .1-.8 .1-5 .1 8.4 .1-8.2 .1-5.9 .1-.8 0 1 .1 6.7 .1-9.7 .1-.4 .1 2.4 .1-9.1 .1 8.7 .1-3.2 0-4.4 .1 4.5 .1-10.2 .1 5 0-3.3 .1-1.4 .1-2.1 0-1.6 .1 4.4 .1-4.3 0-1.4 .1 .5 0-4.8 .1-5.8 .1 9.6 0 1.3 .1-12.6 0 2.6 .1-3.5 .1-17.2 0 15.5 .1-3.8 0 2.5 .1 2 .1-7.5 0 8.9 .1-.1 0-9 .1 6.5 0-6.2 .1-5.1 0 6.7 .1-10 0 8 .1-10.9 .1 2 0-5.1 .1 5.1 0 3.4 .1-5.2 0 3 .1 2.7 .1-9.4 0 5.4 .1-9.3 0 3.7 .1-.7 0 .2 .1-8.2 .1-5.1 0-1.7 .1 .2 .1-1.3 0 4.3 .1 3 .1 .9 .1-9.3 0-2.9 .1 4.8 .1 .6 .1-8.7 0 1 .1-6.9 .1-.7 .1 3.9 0 1 .1-1.7 .1 4 .1-1.7 .1-8.7 .1 7.1 .1-4.4 .1-9.4 .1-2.1 0 3.9 .1 2.2 .1 .2 .1 .6 .1-13.3 .1 10.4 .1-6.8 .1-18.6 .1 16.1 .1 5.1 .1-6.8 .1-1.8 0-.4 .1-1.3 .1-.5 .1-1.6 .1-1.6 .1-1.4 .1-2.3 .1-.4 .1-1.2 .1-1.9 .1-1 .1-.6 .2-1.7 .1 0 .1-1.9 .1 .5 .1-2.1 .2-1.7 .1-1.4 .1-1.4 .2-1.7 .1 .8 .2-1.2 .1-1.8 .2-1.2 .1-2.4 .1-.1 .2-2.2 .2-.8 .2-.6 .2-2.2 .2-1.1 .2 .2 .2-1.7 .3-.1 .2-2.9 .2-1.3 .2 .9 .3-2.1 .2-1 .3-1.6 .3-2.2 .2 1 .3-2.4 .3-.1 .4-3.3 .4-1 .4-.6 .4-1.9 .4 .5 .5-2.6 .7-1.8 .7-1.1 .9-.6 .8 .9 1.9-1 1.1-.5 1.1-.6 1.3-.5 1.2 2.6 1.4-.9 1.3 1.1 1 1.5 .9 2 1-.9 1 .8 1 3.2 1-1.2 .7 2.8 .7-.6 .8 1.3 .7 .7 .8 1.7 .7 2.3 .7 .8 .8 .3 .7 0 .7 1.3 .7 1.5 .7 2.4 .6 1.4 .5-1.3 .6 1.9 .5 2.7 .6-1 .5 .9 .5 1.5 .4 2.7 .5-.5 .5 2.2 .5-.5 .4 2.5 .4-.3 .4 2.1 .4 1.5 .4 1.3 .4-.1 .5 2.5 .4-.5 .4 2.5 .4 1 .4 1.3 .4-1.2 .4 1.5 .4 2.2 .4 1.5 .4-.5 .4 2.4 .5 .3 .4-.1 .4 1.3 .4 .9 .4 1.6 .3 2.8 .4 .4 .4 1.5 .4 1.2 .4-.3 .4 1.8 .4 1 .5 1.2 .4-.5 .4 3.1 .5-.8 .4 1.9 .5 1.7 .5 1.2 .4 1.3 .5-.2 .5 1 .6 2.3 .5-.7 .6 3.3 .5-.4 .7 1.5 .7 1 .6 2.3 .7-.3 .6 .9 .6 .9 .6 1.1 .6 2.2 .6 1.9 .9-1.3 .9 2.4 .8 .9 .9 1 .9 1.2 .9 .5 .9 2 .9 .8 .9 .5 1 1.3 .9 3 1 .4 .9 1.5 .9 .3 1 .6 .9-.6 .9 .5 1 3.1 .9 .1 .9 .9 1-.5 .9 2.8 1 .5 .9 .1 .6 1.3 .6 2.9 .7 0 .6-.4 .6 1 .7 2.8 .6 0 .6 1.4 .6 .2 .6 1.2 .7 2 .6 1 .6 .6 .7 1.1 .6 2 .6 .4 .6 1.2 .6 2.4 .5-.1 .5 2.8 .5 1.2 .4 .8 .5 1.8 .5-.9 .4 1.7 .5 1.1 .5 .3 .5 3.2 .4-.9 .5 3.6 .5 .5 .5 2 .5-1.1 .5 3.4 .3 1.2 .4 .6 .4 .6 .4 1.2 .4 .6 .4 2.1 .4 .4 .4 1 .4 .7 .4 1.7 .4 1.1 .3 2 .4 .7 .4 0 .4 2.2 .4-.1 .3 1.8 .4 1.3 .4 1.7 .4-.5 .3 1.3 .4 1.3 .3 2.4 .4 0 .3 2.2 .4 2 .3 .1 .3 .7 .4 2.1 .3 .8 .3 1.3 .3 .5 .3 2.6 .3 .4 .4 2.9 .2 0 .3 1.7 .3 2 .3 1.4 .3-1.2 .2 3.4 .3-1 .2 3.3 .2 .7 .3-.3 .2 2.3 .2 .7 .2 .8 .3 1.6 .2 .7 .2 1.6 .2 1.2 .2-.6 .3 2.7 .2 1.3 .2 1.6 .2 .3 .2 1.1 .2 .1 .2 1.3 .2 2.9 .2-1 .2 3.3 .2-.8 .2 1.8 .2 1.7 .3-.4 .2 2.3 .2 1.8 .2 .4 .2 .7 .2 .9 .2 2.8 .2-.4 .2 2.1 .2 1.1 .2 .5 .2 1.7 .2 1.3 .2 .3 .2 1.2 .2 2.4 .2-.1 .2 1.6 .2 1.1 .2 1.8 .2 1.3 .2 1 .2 .9 .2 1.1 .2 .3 .2 2.1 .1 .9 .2 1.8 .2 .5 .2 .7 .2 1.6 .2 2 .2 .6 .2 1.5 .2 .1 .1 1.4 .2 1.3 .2 1.5 .2 .6 .2 2.6 .1 .1 .2 .5 .2 1.6 .2 1.6 .1 1.4 .2 1.5 .2-.2 .1 2.7 .2 .9 .1 .5 .2 1.3 .2 .5 .1 1 .2 1 .2 3 .2 1.2 .1 .5 .2 1.6 .1 1 .2 1.7 .1 .3 .2 2.5 .1 .1 .1 1.9 .1 1.2 .1 1.5 .1 .8 .1 .3 .1 2.3 .1 .4 .1 1.5 .1 1.6 .1 1.5 .1-.4 .1 1.7 0 .9 .1 2 .1 .4 .1 2 .1 .9 .1 .5 .1 1.9 .1 1.1 .1 .2 .1 1.5 .1 1 .1 2.6 .1 .5 .1 1.1 .2 2.1 .2 1.8 .2-.2 .3 2.2 .3 .3 1.3 1.4 .8-1.6 .3-1.3 .4-1.6 .2-1.9 .3 .2 .2-2.5 .3-.5 .2-.6 .3-2.6 .2-.8 .2-.7 .2-1.2 .2-1.7 .2-1 .1-.4 .2-1.5 .2-2.2 .2-.4 .2-1.1 .2-1.8 .2-.8 .1-2.4 .2-1.2 .1-.2 .2-2.3 .1-1.5 .1-1.1 .2 .2 .1-1.3 .1-2.2 .1-.2 .2-2.1 .1-.5 .1-2.4 .1-.2 .2-.9 .1-1.7 .1-1 .1-2 .1-.5 .1-.6 .1-1.8 .2-.5 .1-1.4 .1-.7 .1-1.3 .1-2 .1-.2 .1-1.2 .1-1.8 .2-.7 .1-1.7 .1-.9 .1-1.6 .1-.9 .1-1.5 .2-.1 .1-1.7 .1-1.2 .1-1.3 .1-1.3 .2-1.7 .1-.4 .1-1.5 .1-1.4 .2-.9 .1-1.8 .1-.1 .1-.9 .1-1.8 .1-1.5 .2 .4 .1-1.8 .1-1.6 .1-1.6 .1-.3 .1-1.9 .2 .1 .1-1.6 .1-2 .1-.9 .2-1.8 .1-.9 .1-.5 .1-.5 .1-1.9 .1-.2 .1-2.4 .1-1.4 .2 .2 .1-1.9 .1-1.3 .1-.8 .1-.9 .1-1.8 .1-1.3 .2-.3 .1-1 .1-1.3 .1-1.9 .1 .2 .1-1.9 .1-.9 .2-.5 .1-2.4 .1-.5 .1-1.2 .1-.7 .1-1.9 .2-1.1 .1-1.2 .1-.6 .2-1.7 .1 0 .1-1.3 .1-1.4 .2-1.8 .1-.4 .2-1.7 .1-.8 .1-.9 .2-2.8 .1 0 .2-1 .1-2.1 .2-1.3 .2-1.8 .1 .3 .2-2.4 .2-1.6 .2-1.1 .1-.4 .2-1 .2-.8 .2-1.6 .2-3.4 .3 2.3 .2-1.6 .3-1.6 .2-.8 .2-1.4 .3-1.8 .2-.8 .3-4.6 .3 2.9 .3-5.6 .3 .7 .3-.5 .3-1.4 .5-2.3 .4-.7 .4-2.1 .5 .2 .4-3.9 .4 .3 .8-.5 .7-2.1 1.4-3 1.4 2.3 1.7 3.1 1.1-.9 1.2 2.2 1.2 0 1.3 4.4 .7-1.1 .6 2.2 .7 .2 .6 1.8 .6-1 .6 3.3 1.2 2 1 1.4 .9 2 .4-1.3 .4 .9 .8 4.5 .8 1.6 .9 .6 .8 1 1-1.7 1.9 1.8 1.1-3.2 1 .8 1.1-2.7 1.1 .4 1.2-2.9 1.3 .4 1.3 1.9 1.4-.9 1.3-1.8 1.5 4.1 1.5-3.6 1.6 2.8 .9 2.1 .9 .2 .9 1.3 1 2.2 .6-2.7 .7 2.8 .7-.2 .7 2.7 .7 .5 .8 1.9 .5 1.7 .6-.3 .6 .6 .6 1.6 .6-.6 .6 4.3 .6-1.2 .5 1.6 .7 2.6 .6 1.1 .6 1.9 .6-.2 .7 .4 .6 .7 .6 2.7 .7 .4 .6-.3 .7 2.2 .6 1.3 .7 .5 .7 1.9 .6 .9 .7 1.4 .6-.1 .7 1.8 .7 .8 .7 .7 .7 .9 .7 .7 .7 2.5 .7 .1 .7 1.2 .8 .9 .7 1.7 .8 .9 .7 1.8 .8-.3 .7 1.6 .8 2 .7 1 .8-.3 .7 1.8 .8 2 .7 1.1 .8-.2 .7 1.8 .8 .2 .8 .5 .7 2.5 .7-.5 .8 2.5 .7-.1 1 1.8 1 .4 .9 1.9 1 .7 .9-.1 1 .7 .9 1.1 .9 1.6 1-.1 .9 .7 .9 1.3 1 .2 .9 1.1 .9 1.3 1-.1 1.3 1.9 1.4-.1 1.3 1 1.4 .8 1.3 1.5 1.3-.8 1.3 2 1.3-.7 1.3 2 1.2-.3 1.1 .7 1.1-.2 2.1 .7 2.1 .2 2.2-.9 1.2 0 1.2 1.3 1.3-1.4 1.3 0 1.5-.4 1.5 1.1 1.2-.1 1.1-1.5 1.2 1.4 1.3-1.7 1.4 .4 1.3-.3 1.1-.7 1.1-.2 1 0 1.1 .3 1.1-1.3 1.2-.3 1.1 1 1.1-1.5 1.1-.6 1.1 1.3 1.1-.3 1.1-1.5 1.4 .3 1.4 .4 1.4-1.2 1.3 0 1.3-.6 1.3 .2 1 1.1 1.1 .1 1.1 .9 1.4-.1 1.3 .5 1.1 1.2 1.1 .6 1 1.9 1 1.7 .5 .1 .6 1.7 .5 1.8 .6 .5 .5 .4 .5 1.7 .5 .2 .5 1.2 .5 2.4 .5 1.1 .5 1 .5 1.1 .5 .8 .6 2.1 .6 .7 .5 1.9 .6 1.1 .6 .6 .4 2 .4 .3 .5 1.5 .4 1.6 .4 1.4 .4 .5 .4 .5 .4 1.1 .5 2.4 .4 .3 .4 .9 .4 2 .4 .9 .4 1.8 .4 .2 .4 1.8 .5 1.9 .4-.2 .4 1.5 .4 1.1 .4 .6 .5 1 .4 1.3 .4 1.5 .6 .4 .6 2 .6 .6 .6 .8 .7 2 .6 .7 1 .6 1.1 .9 1.1 1.4 1.1 1.3 1.1 1 1.1 .7 1-.5 1.1 .9 .9 2.1 .9-.2 1.6 1 1.2 .1"/>
<path stroke="#00d000" stroke-width="1.5" d="M324 439.7l.1 4.2 2.8-19.2 .5-14.3 .6 12.3 2.8-7.4 .5-12.5 .6 12 2.8-5.6 .5-12 .6 11 2.8-6 .5-11.2 .6 10 2.8-4.9 .5-11.1 .6 11.3 2.8-6.1 .5-9.1 .6 8.7 2.8-3.8 .5-10.3 .6 9.4 2.8-3.9 .5-10.5 .6 8.9 2.8-3.2 .5-9.3 .6 7.7 2.8-2.8 .5-8.2 .6 6.7 2.8-3 .5-8.1 .6 7.7 2.8-2.3 .5-7.7 .6 7.8 2.8-3 .5-6.4 .6 7.6 2.8-2.4 .5-6 .6 6.5 2.8-1.4 .5-5.5 .6 5.4 2.8 1.7 .5-3.7 .6 5.7 2.8 3.8 .5-2.3 .6 4.4 1.8 1.5 .5 1.4 .5-2.4 .5 2.5 .5 2.5 .4 2.7 .6 3.8 .5 0 .3-2 .2 6.9 .3-1.3 .3 2.1 .2-.7 .3 2.9 .3 .9 .2 3.9M440.6 265l1.9 6.9 1.7-8.7 1.3 4.3 1.2-.1 1.1 0 .9 2.9 .8 7.7 .7-2 .7-2.2 .8 6.5 .7-4.1 .6 6.5 .6-2.8 .5-.6 .5 5.4 .5 .2 .4-.9 .3 .7 .2 1.7 .2-1.9 .2 6.9 .2-5.6 .2 4.7 .2 5.8 .2 5.2 .2-6.2 .2 6 .2 1.2 .1-1.1 .1-1 .2 2.8 .1 1.4 .1-2 .1 2.4 .1 9 .2 2.1 .1-6 .1 .5 .1 9 .1-8 .1-1.5 .1 1 0 3.2 .1 3 .1-.5 .1 10.7 0-9.5 .1 7.3 .1 1.1 0 5 .1-1 .1 1.2 0-1.9 .1 5.5 .1 4.1 .1 .3 0 2.6 .1-6.2 .1 3.6 0 4.4 .1-23.8 .1 5.1 .1 11.9 .1 8.2 .1 5.9 .1-9.5 .2 11.6 .2-8.6 .9 2.3 .2-3.1 .3-4.9 .1 11 .1-3.8 .1-6.9 .2 6.7 .1-15.2 .1 6.7 .1 3.6 .1-8 .1 6.2 .1-6.4 .1 .8 .1-4.8 .1-.8 .1-4.8 .1 10.5 0-11.1 .1-3.3 .1 6.2 .1-2.4 .1-.8 .1-5 .1 8.4 .1-8.2 .1-5.9 .1-.8 0 1 .1 6.7 .1-9.7 .1-.4 .1 2.4 .1-9.1 .1 8.7 .1-3.2 0-4.4 .1 4.5 .1-10.2 .1 5 0-3.3 .1-1.4 .1-2.1 0-1.6 .1 4.4 .1-4.3 0-1.4 .1 .5 0-4.8 .1-5.8 .1 9.6 0 1.3 .1-12.6 0 2.6 .1-3.5 .1-17.2 0 15.5 .1-3.8 0 2.5 .1 2 .1-7.5 0 8.9 .1-.1 0-9 .1 6.5 0-6.2 .1-5.1 0 6.7 .1-10 0 8 .1-10.9 .1 2 0-5.1 .1 5.1 0 3.4 .1-5.2 0 3 .1 2.7 .1-9.4 0 5.4 .1-9.3 0 3.7 .1-.7 0 .2 .1-8.2 .1-5.1 0-1.7 .1 .2 .1-1.3 0 4.3 .1 3 .1 .9 .1-9.3 0-2.9 .1 4.8 .1 .6 .1-8.7 0 1 .1-6.9 .1-.7 .1 3.9 0 1 .1-1.7 .1 4 .1-1.7 .1-8.7 .1 7.1 .1-4.4 .1-9.4 .1-2.1 0 3.9 .1 2.2 .1 .2 .1 .6 .1-13.3 .1 10.4 .1-6.8 .1-18.6 .1 16.1 .1 5.1"/>
<path stroke="#0000ff" stroke-width="1.0" d="M324 445.5l2.6-15.6 .5-13.9 .6 13.1 2.8-7.1 .5-14 .6 12.3 2.8-6.4 .5-11.8 .6 11.9 2.8-6.8 .5-10.8 .6 10.3 2.8-5.2 .5-10.6 .6 10.8 2.8-5.2 .5-11.2 .6 10.2 2.8-4.9 .5-8.8 .6 9.2 2.8-4.6 .5-9.3 .6 8.7 2.8-4.2 .5-9 .6 7.6 2.8-3.3 .5-8.8 .6 8.3 2.8-3.8 .5-8 .6 7.5 2.8-2.9 .5-7.3 .6 6.8 2.8-1.5 .5-6.7 .6 6.9 2.8-2.6 .5-6.4 .6 6.4 2.8-2.6 .5-4.8 .6 5.5 2.8-.6 .5-4.4 .6 6.1 2.8 2.9 .5-1.8 .6 4.7 2.1-.3 .5-.3 .5 4.3 .5-.1 .5 1.8 .5 1.5 .5 3.1 .3-.9 .3 5.2 .3 3.5 .3-2.5 .2 3.9 .3 3.1 .3-4.7 .3 2.2 .3 6 .3 1.6 .6 .5 .6-2.4 .7 .6 .7 2 .3-1 .2-1.7 .3-5.3 .3 3.2 .3-4.8 .2 1 .2-5.3 .2 4.5 .3-3.8 .2-.4 .1-4.7 .2 1.8 .2-1.4 .1-1 .2-2.7 .2 1.5 .1-3.9 .2-1.4 .2-2.1 .1 2.6 .2-5.2 .2-.3 .1-2.2 .2 3 .2-1.8 .2-1.3 .2-4.9 .2 1.6 .2-2 .1-3 .2-1.8 .2 5.7 .2-7.4 .2 0 .2-1.5 .2 1 .1-4.9 .2 1.5 .2-2.1 .2 2 .2-7.1 .2 1 .1-.2 .2 2 .2-4.5 .2-1.6 .2 .1 .1-4 .2-3.1 .2 1.9 .2 1.6 .1-2.6 .2-4.6 .2 1.6 .2-.1 .2-5.5 .1 1 .2-2.9 .2-2.1 .2-1 .1-1.9 .2-.3 .2-3.5 .2 1.2 .1-3.5 .2 3.5 .1-2.2 .1-5.3 .2 4.3 .1-5.2 .1 .9 .1-.7 .2-2.7 .1-1.4 .1-.1 .2-3.2 .1 3.9 .1-6.4 .1 3.9 .2-5.4 .1-.8 .2-.7 .2-3.9 .1-.6 .2 .3 .2-.6 .2 1.8 .2-.5 .2-7.7 .2 2.3 .2-3.9 .2 3.6 .3-4.6 .3 2.8 .3-3.6 .5-4.4 .5-2.3 .5 .7 .6 3.2 1.1-6.7 1.2 1.1 1.2-1.6 1.4-.8 1.4 2.7 1.6-4.5 1.7 3.3 2-.3 2.1 2.2 1.1-2.6 1.1 3.1 1.1-3 1.1 1.2 1 .7 1 3 1.9 1.4 1.7-7.1 1.3 1 1.2 4.8 1.1 3.6 .9-1.7 .9 7 .8-26.4 .7 26.6 .8 2.1 .7 .5 .7-1.2 .6 2.7 .5-6.5 .6 13.6 .5-8.4 .4-10.8 .3 13.7 .2 10.6 .2 0 .2-4.9 .3 6.2 .2-5.7 .1 10.3 .2-8.5 .2 5.4 .2 6.5 .2-9.5 .1 5.2 .2 4.2 .2 6.4 .1-.1 .1-3.3 .1-4.6 .2 2.9 .1-2.6 .1 16 .1-4.7 .1-2 .2-1.8 .1 11.8 0-5.4 .1 3.5 .1 11.6 .1-2 .1-.3 0-.3 .1-.7 .1-5.2 0 7.1 .1 1.9 .1 3.5 .1-4.3 0 2.8 .1 .2 .1 1.7 .1-.1 .1 9.4 .1-10.6 .1 6.5 .2 6.6 .2-3.4 .2 3 .9-7.7 .2-.7 .3 .5 .1-2.5 .1 .1 .2-4.9 .1-6.5 .1 6.8 .1-4 .1-.6 .1 6 .1 .2 .1-.6 .1 1.1 .1-12.3 .1 5.4 .1 2.5 .1-2.1 .1-5.2 .1-3.2 .1 2.6 .1-5.1 .1-3.7 .1-.4 .1 10 0-3.4 .1-13.7 .1 1.3 .1 5.3 .1 .6 .1-6.4 .1-5.7 0 3.3 .1 5.9 .1-6.6 .1-7 0 2.3 .1 .8 .1 4 .1-10.2 0 5.2 .1 4.1 .1-6 .1-2.6 0 3.4 .1-4.4 .1-4.6 0-1.9 .1 .4 0 1.6 .1 1.5 .1-4.6 0 1.5 .1 1.2 0-5.8 .1-5.5 0 2.5 .1-7.5 .1 8.7 0 .4 .1-2.2 0-10.3 .1 8.5 0-4.5 .1-8.5 0 4.5 .1 1.2 .1 2.5 0 7.3 .1-13.6 0 3.7 .1-4 0-2.4 .1-8.6 .1 10.4 0-3.9 .1-8.7 0 3 .1-6.1 0 4.4 .1-4.6 .1 8.1 0-7.6 .1-4.6 0-3 .1-1.9 .1 .5 0-3.9 .1 9 .1-1.8 0-8.7 .1 5.7 .1-8.2 0 4.1 .1 1.4 .1-10.1 .1 5 0 .3 .1-5.5 .1-.3 .1-3 0 7 .1-2.5 .1-8.2 .1 3.3 .1 2.4 .1-4.3 .1-6 .1 5.1 0-9 .1 8.4 .1-11.3 .1 5.9 .1 2.7 .1-5.8 .1-2.7 .1-1.2 .1 5.6 .1-4.3 .1 .9 .1-5.7 0-1.1 .1-1.9 .1-.3 .1-3.3 .1-.1 .1-2.4 .1 .1 .1-.9 .1-2.2 .1 .2 .1-2.1 .1-1.7 .1-1.1 .1-.1 .1-1.6 .1-2 .1-.5 .1 .7 .2-2.5 .1-.7 .1-1.9 .2-2.1 .1 .2 .1-2.2 .2-1.4 .1 .2 .2-.9 .1-2.9 .2 1.4 .1-3.5 .2-.8 .2-.8 .2 .1 .2-1.3 .2-1.2 .3-2.2 .2 0 .3-3.4 .2 .9 .3-3.6 .2-1 .3 .4 .2-1.2 .3-1.3 .3-2.2 .2 .5 .3-2 .4-2.1 .4-1.5 .4 1.1 .4-3.5 .4-.6 .4-.7 .7 .2 .8-1.4 .8-.8 .8-1.4 1.9-2.4 1.1 2 1.1-1.4 1.2 2.5 1.3 .6 1.3-1.5 1.4 2.7 1-.5 .9 .5 1 2.9 1-.1 1 .6 .9 1.8 .8-.4 .7 1.9 .8 1.5 .7 1.5 .8-.9 .7 3 .7-1 .8 1.3 .7 1.5 .7 .7 .7 .9 .7 2.6 .6 .4 .5 .5 .6 2 .5 0 .6 2.5 .5 1.9 .5-.2 .4 .9 .5 1.1 .5 1 .5 1.2 .4 .4 .4 1.3 .4 2.1 .4 .5 .4 0 .4 1.2 .5 2.8 .4-.1 .4 2.3 .4 .6 .4 1.1 .4 .4 .4 1.6 .4 .7 .4 1.4 .4 2.2 .4-1.1 .5 1.4 .4 2.9 .4 1.1 .4 .8 .4 1.2 .3-.9 .4 2.6 .4-.5 .4 3 .4-.2 .4 1.3 .4 1.2 .5 .3 .4 2 .4 1.9 .5 0 .4 1.1 .5 .9 .5 .7 .4 1.3 .5 2.6 .5 1.4 .6-.4 .5 .9 .6 1.2 .5 2.5 .7-.3 .7 1.1 .6 1.6 .7 .5 .6 1.2 .6 1.3 .6 2 .6 1.7 .6-.8 .9 1.3 .9 2 .8-.2 .9 1.3 .9 2.4 .9 .8 .9 .9 .9 1.3 .9 .1 1 1.7 .9 .7 1 1.1 .9 .4 .9 2.8 1-1.3 .9 1.8 .9 .1 1 .9 .9 2.3 .9 1.4 1 1 .9-.6 1 1.7 .9 1 .6 0 .6 1.8 .7 1.4 .6 .4 .6 2 .7 .1 .6 .7 .6 2.6 .6 .2 .6 .3 .7 2.8 .6 0 .6 1.5 .7 .8 .6 2.2 .6 1 .6 .5 .6 1.1 .5 2 .5 1.2 .5 .4 .4 1.8 .5 .1 .5 .8 .4 .9 .5 .9 .5 .9 .5 3.2 .4 .2 .5 0 .5 1.6 .5 1.8 .5 2.2 .5 1.4 .3 .8 .4-.1 .4 1.4 .4 2.4 .4-.4 .4 1.8 .4-.4 .4 2.2 .4 1.2 .4 2.2 .4 1.2 .4 .6 .3 .1 .4 2.6 .4 1.2 .4-1 .3 2.1 .4 1.5 .4 .5 .4 1.1 .3 2.6 .4-.3 .3 2.1 .4-.2 .3 2.3 .4 2.5 .3-1.3 .3 1.5 .4 3.2 .3 1.3 .3 .1 .3 .7 .3 1.2 .3 2.4 .3 .8 .3 .9 .3 1.9 .3-.3 .3 2 .3 2.5 .2 1.4 .3 .2 .3 2 .3 1.6 .2 .3 .2 .1 .3 1 .2 2.5 .2 .3 .2 1.5 .2-.2 .2 3.5 .2-.7 .2 2.1 .3 1 .2 .4 .2 .8 .2 2 .2 .5 .2 .4 .2 1.4 .2 .7 .2 3.4 .2-.7 .2 3 .2 .3 .2 2 .2-.2 .2 .8 .2 .8 .2 2 .2 1.3 .2 1.1 .2 1.5 .2-.4 .2 2.1 .2 1.3 .2 1.5 .2-.1 .2 2.3 .2-.5 .2 2.2 .2 .7 .2 1.5 .2 .5 .2 1.6 .2 1 .2 1.4 .2 1.1 .2 .8 .2 1.1 .2 1.7 .3 2.1 .1 .9 .2-.1 .2 2.1 .2 .3 .2 1.5 .2 2.3 .2 0 .2 .8 .2 1.9 .2 1.2 .2 1.1 .2 1.9 .1 .4 .2 .9 .2 .8 .2 1.8 .2 1.5 .2 .7 .1 .9 .2 .8 .2 2.2 .1 1.4 .2 .3 .2 1.4 .2 .5 .1 1 .2 1.1 .2 2.3 .2 1.8 .2 .9 .1 1.3 .2 1.6 .2 .5 .1 1.3 .1 .9 .2 2.1 .1 .9 .1 .9 .1 1.6 .1 1.4 .2-.4 .1 1.5 .1 1.6 .1 1.6 .1 .3 .1 1.5 .1 1.5 .1 .5 .1 1.8 .1 0 .1 1.7 .1 1.6 .1 1.6 .1 .6 .1 1.5 .1 1.2 .2 1.2 .1 .9 .1 1.1 .2 .9 .1 2.7 .2 1.1 .2 1.1 .2 1.5 .4 .4 .3 .9 1.5 .7 .8-1.8 .3-1.1 .4-.9 .3-2.1 .3-1.2 .2-.5 .3-1.1 .2-2 .3-1.3 .2-.6 .2-1.1 .2-2.7 .2 .5 .2-2.8 .2-.4 .2-1.3 .2-.4 .2-2.7 .2-1.7 .1 .3 .2-2.2 .2-1.2 .1-1.3 .2-1.5 .1-1.7 .2-.2 .1-1.8 .1-.6 .2-.2 .1-1.2 .1-2.3 .1-1.1 .2-1.6 .1-.4 .1-1.9 .1-1.4 .2 .2 .1-1.8 .1-.5 .1-2.3 .1-1.2 .1-.4 .1-.9 .2-2 .1-.5 .1-1.1 .1-1.2 .1-1.5 .1-.9 .1-1.8 .2-1.1 .1-1.3 .1 .3 .1-2.3 .1-.4 .1-2.2 .2 .3 .1-2.8 .1 .3 .1-1.7 .1-.5 .2-1.2 .1-2.8 .1-1.1 .1-.9 .2-1.5 .1 .3 .1-2.4 .1-.1 .1-.6 .1-1.6 .2-.6 .1-1.7 .1-1.6 .1-.1 .1-2.6 .2-.6 .1-1.5 .1-1 .1-1.6 .1-.1 .2-1.1 .1-1.7 .1-1.5 .1-.3 .1-1.2 .1-2.7 .1 .3 .2-2.5 .1-1.2 .1-.8 .1-1 .1-.9 .1-.3 .1-2.6 .2-.3 .1-1.4 .1-1.8 .1 .4 .1-1.3 .1-2.2 .1-.2 .2-1.9 .1-.7 .1-.7 .1-1.6 .1-1.7 .1-1.7 .2-.3 .1-1 .1-1.8 .1-.6 .2-2.3 .1-.7 .1-.8 .2-1.2 .1-.8 .1-2.1 .2-1.2 .1-.4 .2-2.1 .1-1.4 .2-.4 .1-1.8 .2-.8 .1-.5 .2-1.3 .1-1.5 .2-.9 .2-.8 .1-3.2 .2 1.3 .2-4.7 .2-.9 .2 .1 .2-3.1 .2 .8 .3-1.6 .2-2.8 .2 1.3 .2-4.1 .3 .7 .2-2.1 .3 1.6 .3-4.8 .3-.2 .3 .3 .2-2.9 .3 1.2 .4-4.6 .5-1.6 .4-1.5 .4 1.1 .4-1.5 .4-.9 .8-2.2 .7 .4 .7-3.9 1.3-1.1 1.6 .8 1 3.3 1 .6 1.2-1.6 .7 .4 .6 5.3 .7 .9 .7-2 .7 2.2 .6-1.1 .7 3.1 .7-.5 1.2 4 1.2-.9 1 2.9 .9 0 .8 1.6 .8 2.9 1.6-.9 1.9 2 1-1.7 1-3.2 1.1-1.2 1.1 1 1.1-1.7 1.2-4.1 1.2 1.9 1.3-2.7 1.3 1 1.3 1.3 1.3 .2 1.3-3 1.5 .6 1.5 1.7 .9 2.3 .9 2.5 1-.2 1 1.7 .7 1.3 .7-.5 .8 .7 .6 2.8 .6 .3 .6 2.1 .6 1.6 .6-1.2 .6 .6 .7 .2 .6 3.2 .6-.1 .5 1 .6 1.8 .5 2 .5 .9 .6 .1 .6 1.9 .5 .9 .6 2.4 .5 0 .6 .9 .6 0 .6 2.1 .5-.4 .6 2.5 .6-.4 .6 2.1 .5 .5 .6 .8 .6 2.1 .6-.2 .5 2 .6-.1 .6 1.1 .5 1.3 .8 1.5 .7 1.3 .7 .6 .7 2.1 .6-.5 .6 1.2 .6 1.3 .6 1.4 .6 1 .6 1.4 .6-.1 .6 1.5 .6 1.1 .6 0 .6 1.3 .6 1.1 .6 1.2 .6 .8 .6 .2 .8 1.3 .7 1.3 .8 .7 .7 2.4 .8 1.3 .8 .7 .8 .2 .7 1.7 .8-.1 .7 1.3 .8 1.1 .8 1.5 .7 .9 .8 .7 .8 .2 .7 1.4 1 1.4 1.1 1.2 1 0 1 1 1 1.6 1.1-.7 1 1.7 1-.2 1.1 1.9 1 .4 1.1-.5 1 .6 1 2.1 1-.6 1.1 1 1 .4 1 .1 1-.1 1.5 1.8 1.5-.1 1.4 .7 1.4 1.2 1.4 .7 1.4-.7 1.2 .5 1.3 1.1 1.2-.3 1.3 1 1.2-.8 1.2-.4 1.2 .6 1.2 1.2 1.3-.5 1.3 .8 1.3-.2 1.3-.2 1.5-.8 1.5 .5 1.6-.7 1.6 .6 1.2-.3 1.2 1.2 1.1-1.5 1.3 .2 1.2-.7 1.3 .1 1.3 .8 1.2-.7 1.3 .1 1.3 .4 1.2-.3 1.3-.9 1.2 1 1.2-.1 1.2-.1 1.1 0 1.1 1 1.1-.4 1.5-.3 1.4 2.1 1.3 .7 1.2 .4 .8 1.8 .7 1.1 .7 .6 .7 .6 .6 1.7 .7-.3 .6 1.1 .6 1.8 .6 1.4 .5 1.5 .6 1.3 .5 1 .6 1.1 .5 1.9 .6 1 .5 .7 .5 2 .6 1.1 .5 1.9 .6 1.1 .6 1.8 .5 .9 .6 .9 .6 1.6 .4 .4 .4 1.5 .5 1.9 .4-.5 .4 1.7 .4 1.2 .4 1.6 .4 .2 .4 2 .4 .1 .4 2.7 .4-.4 .4 2.1 .4 1.3 .4 .7 .4 .6 .4 1.2 .4 2 .4 .3 .4 1.2 .5 1.9 .5 .4 .5 1.8 .6 .7 .5 1.4 .5 .6 .8 .4 .8 1.3 .8 1.1 .8 .9 .9 1.4 .8 .5 1.6 1.1 1.6 .3 1.4 2.5 1.1-.2"/>
<path stroke="#0000ff" stroke-width="1.5" d="M324 445.5l2.6-15.6 .5-13.9 .6 13.1 2.8-7.1 .5-14 .6 12.3 2.8-6.4 .5-11.8 .6 11.9 2.8-6.8 .5-10.8 .6 10.3 2.8-5.2 .5-10.6 .6 10.8 2.8-5.2 .5-11.2 .6 10.2 2.8-4.9 .5-8.8 .6 9.2 2.8-4.6 .5-9.3 .6 8.7 2.8-4.2 .5-9 .6 7.6 2.8-3.3 .5-8.8 .6 8.3 2.8-3.8 .5-8 .6 7.5 2.8-2.9 .5-7.3 .6 6.8 2.8-1.5 .5-6.7 .6 6.9 2.8-2.6 .5-6.4 .6 6.4 2.8-2.6 .5-4.8 .6 5.5 2.8-.6 .5-4.4 .6 6.1 2.8 2.9 .5-1.8 .6 4.7 2.1-.3 .5-.3 .5 4.3 .5-.1 .5 1.8 .5 1.5 .5 3.1 .3-.9 .3 5.2 .3 3.5 .3-2.5 .2 3.9 .3 3.1 .3-4.7 .3 2.2 .3 6M440.2 274.1l1.9 1.4 1.7-7.1 1.3 1 1.2 4.8 1.1 3.6 .9-1.7 .9 7 .8-26.4 .7 26.6 .8 2.1 .7 .5 .7-1.2 .6 2.7 .5-6.5 .6 13.6 .5-8.4 .4-10.8 .3 13.7 .2 10.6 .2 0 .2-4.9 .3 6.2 .2-5.7 .1 10.3 .2-8.5 .2 5.4 .2 6.5 .2-9.5 .1 5.2 .2 4.2 .2 6.4 .1-.1 .1-3.3 .1-4.6 .2 2.9 .1-2.6 .1 16 .1-4.7 .1-2 .2-1.8 .1 11.8 0-5.4 .1 3.5 .1 11.6 .1-2 .1-.3 0-.3 .1-.7 .1-5.2 0 7.1 .1 1.9 .1 3.5 .1-4.3 0 2.8 .1 .2 .1 1.7 .1-.1 .1 9.4 .1-10.6 .1 6.5 .2 6.6 .2-3.4 .2 3 .9-7.7 .2-.7 .3 .5 .1-2.5 .1 .1 .2-4.9 .1-6.5 .1 6.8 .1-4 .1-.6 .1 6 .1 .2 .1-.6 .1 1.1 .1-12.3 .1 5.4 .1 2.5 .1-2.1 .1-5.2 .1-3.2 .1 2.6 .1-5.1 .1-3.7 .1-.4 .1 10 0-3.4 .1-13.7 .1 1.3 .1 5.3 .1 .6 .1-6.4 .1-5.7 0 3.3 .1 5.9 .1-6.6 .1-7 0 2.3 .1 .8 .1 4 .1-10.2 0 5.2 .1 4.1 .1-6 .1-2.6 0 3.4 .1-4.4 .1-4.6 0-1.9 .1 .4 0 1.6 .1 1.5 .1-4.6 0 1.5 .1 1.2 0-5.8 .1-5.5 0 2.5 .1-7.5 .1 8.7 0 .4 .1-2.2 0-10.3 .1 8.5 0-4.5 .1-8.5 0 4.5 .1 1.2 .1 2.5 0 7.3 .1-13.6 0 3.7 .1-4 0-2.4 .1-8.6 .1 10.4 0-3.9 .1-8.7 0 3 .1-6.1 0 4.4 .1-4.6 .1 8.1 0-7.6 .1-4.6 0-3 .1-1.9 .1 .5 0-3.9 .1 9 .1-1.8 0-8.7 .1 5.7 .1-8.2 0 4.1 .1 1.4 .1-10.1 .1 5 0 .3 .1-5.5 .1-.3 .1-3 0 7 .1-2.5 .1-8.2 .1 3.3 .1 2.4 .1-4.3 .1-6 .1 5.1 0-9 .1 8.4 .1-11.3 .1 5.9 .1 2.7 .1-5.8 .1-2.7 .1-1.2 .1 5.6 .1-4.3 .1 .9"/>
<path stroke="#00d8d8" stroke-width="1.0" d="M324 451.3l2.3-15.7 .5-13.8 .5 13 2.9-7.1 .5-14.1 .5 12.3 2.9-5.6 .5-12.1 .5 10.8 2.9-5.4 .5-11.8 .5 11.3 2.9-6.3 .5-10.7 .5 11.2 2.9-5.8 .5-10.4 .5 10.6 2.9-5.1 .5-10.5 .5 9.9 2.9-4.6 .5-10.1 .5 9.6 2.9-5.3 .5-8.6 .5 8.1 2.9-4.1 .5-7.2 .5 7.1 2.9-2.9 .5-8.5 .5 7.7 2.9-2.8 .5-7.5 .5 6.3 2.9-2.1 .5-6.7 .5 6 2.9-2.8 .5-5.1 .5 5.6 2.9-2.8 .5-5.3 .5 5.4 2.9-.3 .5-5.1 .5 5 2.9 3.2 .5-3.4 .5 4.7 2.5-1.8 .5 6.7 .6-2.6 .4 4.7 .5-1 .6 4.7 .5 3.4 .3 .2 .3 .7 .3 1.7 .3 1.2 .2 2.3 .2-2.4 .2 3.8 .2-.6 .2 5.5 .2 1.6 .3-4.6 .3 2 .3 5 .3 .2 .7-2.7 .8 3.8 .7 .7 .4-5.1 .4-2 .3 .2 .3 1.2 .3-6 .2-1 .2-1.9 .2 1.9 .3-2.3 .2-2.8 .2-.4 .2-3.8 .2 .6 .3 3.4 .2-4.1 .2-3.5 .2 3.2 .2-5.3 .2-2.1 .3-2.9 .2-.5 .2-.9 .2-1 .2 3.3 .2-5.5 .2-1.3 .1 1.3 .2 1 .2-5.6 .2 2.1 .2-4 .2 .1 .1-.9 .2 1.1 .2-2.5 .2-3 .1 1.1 .2-4.6 .2-1.2 .2 2.8 .1-4.2 .2 .3 .2-4.5 .1 2.9 .2-3.4 .2-3.8 .2 3.5 .1-4.6 .2-2.2 .2-1.8 .1-2.4 .2-.6 .2 2.2 .1-5.2 .2-.4 .2 0 .2-.6 .1-2.5 .2 1.6 .2-5.1 .1-.5 .2-.7 .1-3.2 .1-.5 .2-1.6 .1 2.9 .1-5.2 .1 2.5 .2-4.2 .1 1.8 .1-1.1 .1-3.2 .2 2.9 .1-3.1 .1-1.8 .1-4.7 .2 1.2 .2-2.4 .1 .1 .2 1.9 .2-1.8 .2-6.9 .2 3.1 .1 .5 .2-3.9 .2-4.2 .2 4.3 .2-4.2 .3 2.6 .3-2 .3-1.6 .5-.8 .5-7.6 .5 3.9 .5-4.7 .6-2.2 .5 .7 1.2-.1 1.2-5.3 1.3 2.1 1.4 1.6 1.5-2.6 1.7-.1 1.9-1.6 2.1 5.1 2.1-4.5 1 3.4 1.1 .2 2-3.7 1.8 9.4 1.6-6.8 1.4 8.3 1.2 .3 1.1 .7 1 2 .9-4.6 .8-4.6 .8 14.2 .8-2.1 .8-1.2 .7 .3 .6-3.7 .6 8.7 .5-.4 .5 9.4 .5-4 .3 .2 .2 1.7 .2-2.9 .3 1.6 .2 5.9 .2 1.1 .2 2.9 .1 2.5 .2-6.3 .2 7 .2-4.7 .1 8.6 .2 .3 .2 3.7 .2-2 .1-1 .2 5.7 .1 4.2 .1 1.8 .1-9.1 .1 8.8 .2 .7 .1 5.8 0-4.8 .1-5.1 .1 8.6 .1-2.8 .1 3.5 0-.7 .1 8.2 .1-5.9 0 10.2 .1-12.6 .1 13.4 0-8.6 .1-.1 .1 2.8 .1 9.1 .1-3.5 .1 9.5 .1-1.6 .1-1.8 .2 .6 .2-1 .2-2.2 .9 5.8 .2-9.3 .3-1.4 .1 .8 .2-2.9 .1 4 .1-6.9 .1 11.6 .1-2.2 .2-9.9 .1 8.7 .1-11.1 .1-11.5 .1 5.3 .1 10.2 .1 .7 .1-11.4 0 2.3 .1 4.5 .1 .5 .1-1.2 .1-1.3 .1-4.6 .1-7.6 .1-2.3 .1-2 .1 6 .1-7.2 .1 .8 .1 2.9 .1 2.3 0-10.7 .1-.9 .1 11.4 .1-11 .1 6.3 0-5.8 .1-3.4 .1 1.4 .1 2.9 0-7.3 .1-3.9 .1 10.8 .1-13 0-1.6 .1 2.2 .1-8.5 0 2.1 .1 1.5 0 5.7 .1-8.9 .1-3.2 0-.5 .1 2.9 0 1.2 .1 1.8 .1-1.4 0-7.9 .1 4.6 0-2.7 .1-5 0-3.8 .1 4.9 .1 1.9 0-11.2 .1-3.7 0 11 .1-5.8 0-15.9 .1 10 .1 1.1 0-10.1 .1 3.9 0 1.2 .1-2.3 0 5.4 .1-3.9 .1-9.5 0-6.8 .1 12.2 0-7.8 .1-2.1 .1 9.9 0-8.3 .1 7.8 0-1.1 .1-2.5 .1-2.5 0-1.1 .1-8.3 .1-4.4 0 3 .1 5.3 .1-7.8 0 7.6 .1-14.1 0 12.5 .1-16.6 .1 3.4 .1 9.7 .1-6.5 0-4.3 .1-.9 .1 4.6 .1-7.2 .1-2.3 0 4.6 .1-3 .1 3.1 .1-6.1 .1-5.6 .1 7.7 .1-12.1 .1 2.6 .1 6.2 .1-10.8 .1-5.7 .1 6.5 0-3.7 .1 1.4 .1-.6 .1-2.2 .1-.1 .1-.5 .1-1.5 .1-2.3 .1-.6 .1-2.1 .1-.2 .1-.4 .1-3.1 .1 .6 .1-.4 .1-3 .1-1.1 .2-.3 .1-2.6 .1-1 .1-.3 .2-1.5 .1-2 .1-1.1 .2-.4 .1-.2 .1-2.9 .2 0 .2-1.7 .1-1.9 .2-1 .2-.2 .2-3 .2 0 .2-1.3 .2-2.1 .2-.3 .2-1.9 .3-.7 .2-2.3 .3 .2 .2-.6 .3-1 .2-1 .3-2.9 .3 0 .4-2.5 .3-.5 .4-1.8 .4-.5 .3-2.1 .7 0 .6-2.8 .7-.3 .7-2.7 .8 .7 .8-2.2 1.9-.1 2.2 .1 1.2 1.2 1.3 .3 1.3 .1 1.4 2.5 1-1.5 .9 2 1-.1 1 1 .9 1.3 1 2.9 .8-1.5 .7 2.7 .8 .5 .7 1.6 .8 1.1 .7-.9 .7 3.1 .8-1 .7 1.1 .7 1.4 .7 2.4 .7 .8 .6 1.3 .5-.1 .6 1.8 .5 .6 .6 2.8 .5 .1 .5 1.4 .4 .4 .5 .3 .5 1 .5 1.4 .4 2.4 .4-.3 .4 1.8 .4 .7 .4 .5 .4 1.6 .5 1.4 .4 2.2 .4 .8 .4 .2 .4 .7 .4 1 .4 1.4 .4 1.6 .4 2.2 .4-1.2 .4 1.4 .5 1.7 .4 1.5 .4-.2 .4 1 .4 2.5 .3-.3 .4 3.1 .4 .7 .4 .5 .4 2.5 .4-.3 .4 2.3 .5-.8 .4 .8 .4 2 .5 1.4 .4 1.5 .5-.3 .5 2.6 .4 .1 .5 2.8 .5 .7 .6 1.1 .5-.8 .6 1.2 .5 1 .7 2.4 .7 .2 .6 1.6 .7 .8 .6 3.6 .6-.3 .6 .4 .6 .7 .6 1.2 .9 .9 .9 3 .8 1.5 .9 .9 .9-.8 .9 2.6 .9 1.8 .9 0 .9 2.1 1-.9 .9 2.2 1 1.6 .9 0 .9-.1 1 3.1 .9 .3 .9-.5 1 1.9 .9-.6 .9 2 1 1.3 .9 .7 1 .8 .9 2.2 .9 .3 1 .4 .6 1.2 .6 .9 .7 2.6 .6-.8 .6 3.3 .6 0 .6-.2 .7 3.3 .6 1.2 .6-.8 .7 2 .6 .3 .6 1 .6 1.1 .6 3.4 .5-.8 .5 1 .5 .9 .4 1.3 .5 2.8 .5-.8 .4 1 .5 .7 .5 2.9 .5-.4 .4 3 .5 1.5 .5-.5 .5 1.8 .5 2.1 .5 .5 .4 .6 .3 2.6 .4 1.3 .4-.9 .4 2.7 .4-1 .4 3.2 .4-.2 .4 2.8 .4-1.3 .4 1.6 .4 1.7 .3 1.4 .4 1.8 .4-.5 .4 1 .4 1.7 .3 .8 .4 3.4 .4 0 .3 .4 .4 1.5 .3 1.1 .4 1.6 .3 .9 .4 2 .3 .1 .3 2.4 .4 1.8 .3 .8 .3-.6 .3 2.2 .3 2.1 .3-.7 .3 3.4 .3-.9 .3 1.2 .3 1 .3 3.4 .2-1 .3 2.4 .3 1.6 .2 1 .3 2.5 .3 .2 .2-.3 .3 2.3 .2 .7 .3 3.1 .2-.4 .3 2.4 .2 .7 .3 1.2 .2 1.6 .2 .5 .3 2.3 .2 1.2 .3 1.8 .2 1.3 .2-.6 .3 3.2 .2 0 .2 3 .3 .2 .2 .6 .2 1.6 .2 1.2 .2 1 .2 .9 .2 1.4 .2 1 .2 1.6 .2 .3 .3 1.3 .2 .3 .2 2.4 .2-.1 .2 2.6 .2 .5 .2 1.2 .2 .8 .2 1.5 .2 .3 .2 1.2 .2 1.9 .2 .7 .3 1.5 .2 1.2 .2 2 .2 .6 .2 0 .2 2.3 .2 .6 .2 .9 .2 1.5 .2 2.1 .2 .9 .2 .6 .2 1.9 .2 .5 .2 .5 .2 2.1 .2 1.5 .1 .8 .2 .4 .2 1.5 .2 .5 .2 1.3 .2 .7 .2 2.8 .1 .6 .2 .7 .2 1.5 .2 1.2 .2 .9 .2 .9 .2 1.7 .2 1.3 .1 1 .2 1 .2 2 .2 1.4 .1 .5 .2 1 .1 2.2 .1 1.6 .2 .7 .1 1.3 .1 1 .1 .5 .2 1.5 .1 .9 .1 2.1 .1-.4 .1 2.8 .1-.5 .1 1.5 .2 1.5 .1 1.8 .1 1 .1 .9 .1 1 .1 1.4 .2 .4 .1 .8 .1 2.2 .2 .6 .1 1.7 .2 1.9 .1 1.6 .3-.2 .2 2.7 .2 .1 .3 1.6 .4 1.7 1.5-.3 .8-2.3 .3-.5 .4-2.7 .3-.1 .2-.9 .3-1.4 .3-2.8 .2-.9 .3-1.9 .2-.7 .2-1.1 .2-1.6 .2-.6 .1-.6 .2-1.5 .2-1.9 .2-1.5 .2-1.4 .2-.1 .2-2.3 .2-.8 .1-1.9 .2-.3 .1-2.3 .2-.6 .1-1.2 .1-1 .2-1.7 .1-.3 .1-.6 .1-2.4 .1-1.4 .2-.8 .1-1.1 .1-.3 .1-2.7 .2-1.2 .1-.3 .1-1.4 .1-1.7 .1-.5 .2-1.8 .1-.2 .1-2.6 .1-.6 .1-1.9 .2-1.2 .1 .4 .1-1.2 .1-1.4 .1-1.6 .1-.9 .1-1.9 .1-1.3 .2-1.1 .1-1.1 .1-.9 .1-1 .1-1.6 .1-1 .2-.4 .1-1.2 .1-2.2 .1-.6 .2-2 .1-.2 .1-1.1 .1-1.9 .1 .1 .1-1.6 .1-.4 .2-2.4 .1-1.3 .1-.1 .1-1.3 .1-2.2 .2-.8 .1-1.7 .1-.7 .1-.3 .2-2.5 .1-1 .1-.2 .1-1 .1-2 .1-1 .1-1.3 .1-.8 .2-.7 .1-1.2 .1-1.8 .1-1.3 .1-.5 .1-1.5 .2-.6 .1-2.7 .1-.1 .1-1 .1-2 .1-1.7 .1-.6 .2 0 .1-1.5 .1-1.9 .1-.2 .1-2.6 .1 .1 .2-1.5 .1-.4 .1-2.5 .1-1.1 .2-1.2 .1-1.1 .1-1.1 .2-1.7 .1-.8 .1-1.8 .1-.1 .2-.7 .1-2 .1-.9 .2-.1 .1-1.4 .1-1.3 .2-1.5 .1-.5 .2-2.2 .1-.6 .2-.1 .2-3.5 .1-1 .2-.2 .2-1 .2-1.3 .2-2.5 .2-1.9 .2 .9 .3-1.6 .2-2.2 .2-2.3 .2-1.9 .2 .8 .3 .6 .2-1.5 .3-1.8 .3-2.7 .3 .9 .3-1.1 .3-3.6 .4-.4 .4-2.2 .4-2 .4 0 .4-2.3 .4 2 .8-1.8 .7-4.7 .7-1.4 1.3-.8 1.6 3.4 1-1.9 1 2.9 1.2 2.3 .7-2 .7 3.2 .6-2.2 .7 .8 .7 3.9 .7-.5 .7 .7 .6 2.2 1.3 3.1 1.2-.3 1 1.4 .9 1.6 1.6-2 1.6 2 1.9-2.7 1 0 1-1.5 1.1-1.2 1.1 1.7 1.2-5.6 1.2 .7 1.2-2.8 1.3-.8 1.3 3.8 1.2-2 1.3 1.6 1.3-.7 1.5 .5 1.5 2 .9-2.4 .9 1.7 1 3.4 1 2.6 .7-2.4 .8 2 .7 2.4 .6 .6 .6 1.7 .7-1.9 .6 1.9 .5 2.9 .6 1.3 .5 .6 .5 1.6 .6 1 .5-2.5 .6 2.4 .5 .1 .6 1.3 .6 3.7 .6-.4 .5 3.3 .6-2.6 .6 3.1 .6 2.1 .6 0 .6 1.7 .6 1.5 .6 1 .5 .2 .6 1.3 .6 1.7 .6 .6 .6 .9 .6 2 .6-.2 .6 1.8 .6 .4 .6 1.5 .5 1.2 .6 1.2 .6 .8 .6 .4 .6 1.1 .6 1.1 .6 1.1 .5 1.3 .6-.6 .6 1 .6 2.6 .6 .4 .6 0 .6 1.4 .6 .7 .6 1.3 .6 .6 .7 2 .6-.1 .6 1.5 .6 .3 .6 1.5 .6 .7 .6 1.4 .6 .4 .7 .9 .7 1.3 .8 2.1 .8 1.2 .7-.4 .8 2 .8-.3 .8 1.5 .7 1.8 .8 .7 .8 .8 .7 .5 .8 .8 1.1 .2 1 2.1 1 .9 1.1 .3 1.1 .4 1 1 1.1 1.7 1.1-.7 1 1.6 1.1 .9 1.1 .5 1.1-.1 1 1.1 1.1-.4 1.1 .6 1 1.1 1.1-.5 1 1.1 1.5 .9 1.6-.6 1.5 .6 1.4 1.9 1.4 .5 1.4 .8 1.4-1.2 1.3 1.7 1.3-.3 1.3 .3 1.2-.5 1.3 .5 1.2-.2 1.3-.1 1.3 1.3 1.3-.9 1.4 .1 1.3 1.4 1.5 .2 1.4-1.1 1.6 .7 1.6-.5 1.1 .4 1.1 .1 1.2-.3 1.1 0 1.2 .2 1.2 .4 1.2-1 1.2-.1 1.2 .4 1.2-.3 1.2-.1 1.1-.1 1.2 1.3 1.1 .1 1.1-1.1 1.6 1.4 1.6 .1 1.4 0 1.4 .8 .8 2.5 .9-.9 .8 1.5 .7 1.3 .7 1.1 .8 .8 .6 0 .7 1.7 .6 .6 .6 2.4 .7 1.4 .6 .2 .5 2 .6 .7 .6 1.5 .5 1 .6 1.7 .5 1 .6 1.1 .5 2 .6 2.2 .5 .9 .6 1.3 .6 1 .5 .8 .6 1.5 .6 1 .4 2 .4 .3 .4 2 .5-.1 .4 2.4 .4 .2 .4 1 .4 1.6 .4 .7 .4 2.1 .4 .9 .4 .8 .4 1.2 .4 1.5 .4 .9 .4 .6 .5 1.6 .5 1.1 .5 1.7 .5 1.5 .5 1.1 .5 1.6 .8-.3 .7 1.6 .7 1.2 .8 2.7 .7-.2 .8 1.1 1.5 1.3 1.4 1.1 1.4 1.2 1.2 .5 1-.2"/>
<path stroke="#00d8d8" stroke-width="1.5" d="M324 451.3l2.3-15.7 .5-13.8 .5 13 2.9-7.1 .5-14.1 .5 12.3 2.9-5.6 .5-12.1 .5 10.8 2.9-5.4 .5-11.8 .5 11.3 2.9-6.3 .5-10.7 .5 11.2 2.9-5.8 .5-10.4 .5 10.6 2.9-5.1 .5-10.5 .5 9.9 2.9-4.6 .5-10.1 .5 9.6 2.9-5.3 .5-8.6 .5 8.1 2.9-4.1 .5-7.2 .5 7.1 2.9-2.9 .5-8.5 .5 7.7 2.9-2.8 .5-7.5 .5 6.3 2.9-2.1 .5-6.7 .5 6 2.9-2.8 .5-5.1 .5 5.6 2.9-2.8 .5-5.3 .5 5.4 2.9-.3 .5-5.1 .5 5 2.9 3.2 .5-3.4 .5 4.7 2.5-1.8 .5 6.7 .6-2.6 .4 4.7 .5-1 .6 4.7 .5 3.4 .3 .2 .3 .7 .3 1.7 .3 1.2 .2 2.3 .2-2.4 .2 3.8 .2-.6 .2 5.5 .2 1.6 .3-4.6M441.7 280.5l1.6-6.8 1.4 8.3 1.2 .3 1.1 .7 1 2 .9-4.6 .8-4.6 .8 14.2 .8-2.1 .8-1.2 .7 .3 .6-3.7 .6 8.7 .5-.4 .5 9.4 .5-4 .3 .2 .2 1.7 .2-2.9 .3 1.6 .2 5.9 .2 1.1 .2 2.9 .1 2.5 .2-6.3 .2 7 .2-4.7 .1 8.6 .2 .3 .2 3.7 .2-2 .1-1 .2 5.7 .1 4.2 .1 1.8 .1-9.1 .1 8.8 .2 .7 .1 5.8 0-4.8 .1-5.1 .1 8.6 .1-2.8 .1 3.5 0-.7 .1 8.2 .1-5.9 0 10.2 .1-12.6 .1 13.4 0-8.6 .1-.1 .1 2.8 .1 9.1 .1-3.5 .1 9.5 .1-1.6 .1-1.8 .2 .6 .2-1 .2-2.2 .9 5.8 .2-9.3 .3-1.4 .1 .8 .2-2.9 .1 4 .1-6.9 .1 11.6 .1-2.2 .2-9.9 .1 8.7 .1-11.1 .1-11.5 .1 5.3 .1 10.2 .1 .7 .1-11.4 0 2.3 .1 4.5 .1 .5 .1-1.2 .1-1.3 .1-4.6 .1-7.6 .1-2.3 .1-2 .1 6 .1-7.2 .1 .8 .1 2.9 .1 2.3 0-10.7 .1-.9 .1 11.4 .1-11 .1 6.3 0-5.8 .1-3.4 .1 1.4 .1 2.9 0-7.3 .1-3.9 .1 10.8 .1-13 0-1.6 .1 2.2 .1-8.5 0 2.1 .1 1.5 0 5.7 .1-8.9 .1-3.2 0-.5 .1 2.9 0 1.2 .1 1.8 .1-1.4 0-7.9 .1 4.6 0-2.7 .1-5 0-3.8 .1 4.9 .1 1.9 0-11.2 .1-3.7 0 11 .1-5.8 0-15.9 .1 10 .1 1.1 0-10.1 .1 3.9 0 1.2 .1-2.3 0 5.4 .1-3.9 .1-9.5 0-6.8 .1 12.2 0-7.8 .1-2.1 .1 9.9 0-8.3 .1 7.8 0-1.1 .1-2.5 .1-2.5 0-1.1 .1-8.3 .1-4.4 0 3 .1 5.3 .1-7.8 0 7.6 .1-14.1 0 12.5 .1-16.6 .1 3.4 .1 9.7 .1-6.5 0-4.3 .1-.9 .1 4.6 .1-7.2 .1-2.3 0 4.6 .1-3 .1 3.1 .1-6.1 .1-5.6 .1 7.7 .1-12.1 .1 2.6 .1 6.2 .1-10.8 .1-5.7 .1 6.5 0-3.7"/>
<path stroke="#ff00ff" stroke-width="1.0" d="M324 457.2l1.9-14 .6-16.6 .5 14.1 2.8-8.5 .6-12.1 .5 11.1 2.8-5.1 .6-12.3 .5 11.6 2.8-5.7 .6-12.5 .5 10.9 2.8-5 .6-11.5 .5 10.4 2.8-5.2 .6-9.5 .5 9.9 2.8-5 .6-10.8 .5 10.4 2.8-5.4 .6-9.8 .5 9.2 2.8-4.7 .6-9.4 .5 9.1 2.8-4.5 .6-8.2 .5 8.5 2.8-4.2 .6-8.2 .5 8.2 2.8-3.2 .6-8 .5 7.7 2.8-4.3 .6-6.7 .5 6.6 2.8-1.9 .6-6.7 .5 6.1 2.8-3.4 .6-5.5 .5 6.2 2.8-2.9 .6-5.1 .5 5.5 2.8 1.5 .6-2.1 .5 4 2.8 .9 .5 2.5 .6-.4 .5 7.4 .5-2.1 .3 .3 .2 1.6 .3 4.7 .3-2.5 .3 5.5 .3-2.7 .2 1.8 .2-1.4 .2 6.9 .2 .4 .2-1 .2-1.4 .3 3.9 .2 .3 .2 4.5 .3 2.2 .3 .2 .4-1.9 .3-.5 .7 7.4 1.6-1.1 .4-6.9 .4 1 .3-1.4 .3 2.3 .3-7.8 .3-1 .2 4.3 .2-3 .3-1.9 .2 1 .2-2.5 .3-.6 .2-4.3 .2-2.5 .2-1.8 .3 1 .2 .9 .2-3.1 .2-1.5 .3 .6 .2-.7 .2-1.9 .2-3.2 .2 2.4 .2-1.3 .2-.5 .2-1.2 .1-7.2 .2 3.4 .2-3.4 .2-.9 .2-.3 .1-3.8 .2-.5 .2 4 .1-5.8 .2 2.9 .2-2.9 .1-3.8 .2-1.2 .2 .8 .1-.6 .2-3.8 .2-3.2 .1-.5 .2 3.6 .1-2.2 .2-5.6 .2 3.8 .1-3 .2-3 .1 2.7 .2-6.7 .2-1.4 .1 .4 .2 1.5 .2-2.6 .1-1.7 .2 1.6 .2-4.9 .1 1.5 .2-6.6 .1 4.3 .1-5.5 .2 2.4 .1 .2 .1-2.4 .1-1.7 .2-1.3 .1 .2 .1-3.8 .1-2.1 .2 1.2 .1-1.4 .1-4 .1 1.8 .2-1.6 .1-3.2 .1 2.7 .2-.6 .1-4.1 .2 2.4 .1-.5 .2-3.5 .2-3.1 .2-2.1 .2-2.1 .2-.2 .2 4 .3-7.9 .3 4.7 .3-2.9 .3-.5 .3-5.8 .3 2.7 .5-4.5 .5 1.9 .5-.3 .5-1.7 .6-2.3 .6 1.5 1.1-6.2 1.3-1.8 1.3 3.9 1.5-6.4 1.6 2.1 1.9 0 2 3.6 2-2.9 1 1.8 1.1-.1 1.9 .8 1.8 .8 1.6 .9 1.4 2.2 1.2-.7 1.1 1 1.1 6.1 .9 3.6 .9-7.1 .8 8.7 .9-1.8 .7 .7 .8-6.6 .6 7.6 .6 .7 .6 1.9 .5 6.9 .5 4.7 .3-5.5 .2 2.3 .2-3.8 .3 8.8 .2-.2 .2 1.5 .2 3.8 .2-8.3 .1 11.5 .2 1.1 .2-7.2 .2 10.5 .1-2.2 .2-5.7 .2 13.4 .1-1.3 .2-3.5 .2 7 .1-3.5 .1 .4 .2 7.8 .1-6.4 0 10.4 .1-16 .1 7.9 .1 1.4 .1-.8 .1 10.1 .1-5.1 0 4.9 .1-2.3 .1 11.2 .1-4.5 .1 7.2 .1-4.7 .1 4.8 .1-1.1 .1-6.8 .1 3.8 .2 3.6 .2 3.9 .2-2.6 .9 3.4 .2-1 .3 1 .1-4.6 .2-9.1 .1 4 .2-5.1 .1 5.2 .1-4.5 .1-1.4 .1-4.6 .1 2.4 .1 6.2 .2-13 .1 .1 .1 7.8 .1-2.8 .1-3.7 .1-5 .1 9.2 .1-2 .1-4.9 .1-8.7 .1-.4 .1 8.2 .1-.6 .1-12.1 .1-1 .1 0 0 6 .1-2.8 .1-4.7 .1 2.9 .1-.2 0-9 .1 2.5 .1-4.6 .1 4.2 0-7.4 .1 6.6 .1-1.9 .1 1.3 .1-.5 0-12.4 .1 0 .1 1.5 0 3.8 .1 2.6 .1-6.9 0-6.2 .1 1.6 0 4.9 .1-1.7 .1-12 0 10.5 .1-4.1 0-15.4 .1 3.9 0 7.9 .1 2.4 .1-5.4 0-8.1 .1 10.7 0-10.5 .1 4.4 0-3.5 .1 1.2 0 1.7 .1-13.5 0 2.8 .1-.2 0 2.2 .1-8.7 0 3.2 .1 .6 0-.7 .1 4.8 .1-9.3 0 5.4 .1-3.9 0-9.9 .1-.3 0-1.6 .1 5.7 0 2.9 .1-12.2 .1 9.2 0-9.7 .1 5.7 0 2.1 .1 6.6 0-12.3 .1-7.5 .1 9.1 0-5 .1-19.2 .1 20.6 0-7.4 .1 .1 .1 4.8 .1-.5 0-8 .1-16.1 .1 22.1 .1-9.1 .1-5.8 0 1.3 .1-5.9 .1 9.9 .1-9.3 .1-2.6 .1 9.2 .1-11.8 .1-2.9 .1 4 .1-1.9 .1 2.7 0-9.3 .1 1 .1 2.1 .1-1.5 .1-1.4 .1-.8 .1-1.5 .1-.8 .1-.5 .1-.3 .1-1.4 .1-2.2 .1 .4 .1-2.6 .1-.9 .1-.8 .1-1 .1-1.4 .1-.7 .1-2.5 .1-1.1 .2-.9 .1-1 .1-1.7 .1-.3 .2-2.4 .1-.2 .1-1 .2-.8 .1-2.3 .2 .1 .2-1.7 .1-.1 .2-3.3 .2-.5 .2-.1 .2-.7 .1-1.4 .2-.9 .2-2.3 .3-1.8 .2-1.2 .3-.2 .2-1.2 .3-1.7 .2-1.7 .3 .6 .2-2.5 .3-1.6 .4 .2 .3-1.4 .4-1.4 .4-.9 .3-1.6 .6-1.3 .6-2 .7-1.7 .7 .9 1.6-3.5 1.9 1.1 2.2-1 1.2 1.6 1.3 .9 1.3 .5 1.4-1.1 .9 3 1-.9 1 .9 1 2.9 .9 .6 1-.8 .8 2.7 .7-.6 .8 1.8 .7 1.4 .8-.9 .7 1.3 .7 .8 .8 1.1 .7 3.1 .7-1.1 .7 1.8 .7 2.5 .6-1 .5 2.2 .6 2.1 .5 1.3 .6 .8 .5-.9 .5 1.1 .4 2.9 .5 .4 .5 1.2 .5 1.6 .4 1.4 .4-.3 .4 2.8 .4-.6 .4 2.5 .4-1 .5 1 .4 2.6 .4 1.5 .4 .8 .4-.3 .4 3.3 .4 1.1 .4 1.1 .4 .6 .4-.7 .4 2.3 .5 .5 .4 1.2 .4 1.8 .4 2.1 .4 .5 .3 2 .4-.6 .4 .4 .4 2.9 .4 1.3 .4 .1 .4 .4 .5 2.2 .4 .2 .4 1.5 .5 1.6 .4 1.5 .5 1.2 .5-.6 .4 1.9 .5 1.5 .5 .6 .6 .5 .5 1.6 .6 1.6 .5 1.7 .7 2.2 .7-.7 .6 2.2 .7 .2 .6 .9 .6 1.5 .6 1.3 .6 2.1 .6-.5 .9 3 .9 .8 .8 .2 .9 2.4 .9-.4 .9 .5 .9 2.3 .9 1.6 .9 1.3 1-.6 .9 .9 1 2.7 .9 1.5 .9-.3 1 1.5 .9-.8 .9 .7 1 1.7 .9 2.1 .9-1.3 1 2 .9 1.4 1-.5 .9 3.2 .9-.3 1 3 .6 .4 .6-.5 .7 1.3 .6 1.5 .6 .1 .6 2.7 .6 .2 .7 .3 .6 1.3 .6 2.3 .7 .5 .6 1.3 .6 .4 .6 1.4 .6 1.1 .7 1.9 .6 .5 .6 1 .5 3.5 .5 1.1 .4-1.4 .5 3.3 .5-.4 .5 1.8 .4 1.1 .5 .1 .5 1.9 .5 1.5 .5 1.6 .5 1.2 .4 .7 .4 1.4 .3 .1 .4 2.6 .4 .8 .4 .1 .4 1.8 .4 1.2 .4 1.2 .4 .4 .4 1.8 .4 1.4 .4 2.3 .3 .8 .4 .9 .4 .1 .4 1.7 .3 .6 .4 1.9 .4 1.7 .3 1.2 .4 1.6 .3 .7 .4 1.3 .4 .3 .3 .6 .3 1.5 .3 1.6 .4 1.1 .3 1.2 .3-.1 .3 3.7 .3-.4 .3 1 .3 2.6 .3 0 .3 2.2 .2-.6 .3 2.3 .3-.1 .3 2.4 .2 2 .3-.2 .2 2.2 .3 1.4 .2 .4 .3 .6 .2 2.6 .3 1.6 .2 1.4 .3 1.4 .2 .9 .2-.1 .3 2.3 .2 1.3 .2 .3 .3 2.5 .2-.8 .2 2.9 .3 1.1 .2 0 .2 1 .3 2.7 .2-.3 .3 1.8 .2 2.6 .2 .9 .3 .7 .2 1.3 .3 1 .2 1.9 .2 .8 .2 1.2 .2 .4 .2 2.3 .2-.1 .2 1.9 .3 1.7 .2 .9 .2-.4 .2 2 .2 1.5 .2 .6 .2 .9 .2 1 .3 1.4 .2 1.7 .2 .9 .2 1.7 .2 .2 .2 1.8 .2 1.7 .2 0 .3 1.3 .2 1 .2 .7 .2 1.4 .2 2.2 .2 .3 .2 1 .2 2.2 .2-.4 .2 1.7 .2 .9 .2 1.4 .2 .7 .2 2.2 .2 .3 .1 1.8 .2 .1 .2 2.4 .2-.2 .2 2.4 .2 .1 .2 1.8 .2 1.6 .2 .3 .2 2.1 .2 1.4 .2 .9 .2 1.9 .2 .9 .1 .2 .1 2.5 .2 1.5 .1-.4 .2 1.2 .1 1.9 .1 1.2 .2 .9 .1 .6 .1 1.7 .1 .9 .2 1.5 .1 1.8 .1 .2 .1 2.2 .1 1 .2-.2 .1 1.6 .1 .5 .2 1.3 .1 1.9 .1 .3 .2 2.5 .1 1.2 .2 1.8 .2 .8 .1 1.5 .3 .3 .2 2.5 .2-.1 .4 2.4 .4 1.1 1.5-.5 .8-1.8 .3-2.6 .4-.3 .3-2.3 .2-1.3 .3-1.4 .2-.2 .3-1.5 .3-2 .1-1.9 .2-1 .2 0 .2-1.4 .2-2 .2 0 .2-1.9 .2-2.2 .2 .4 .1-2.5 .2-1.2 .2-.5 .2-1.2 .1-2.4 .1-.1 .2-2.3 .1-1.7 .1-1 .2-.9 .1-.4 .1-1.7 .1 0 .1-2 .2-1.7 .1-.5 .1-1.9 .1-1.3 .1 .4 .1-2.7 .2-1.2 .1-1 .1-1.5 .1-.7 .2-.9 .1-1.7 .1-.9 .1-2 .1-.9 .1-1 .1-.5 .1-.9 .1-.7 .1-2.1 .1-1.6 .2-.9 .1-1.1 .1-.2 .1-1.6 .1-1.5 .1-1.2 .2-.8 .1-1.2 .1-.8 .1-1.9 .1-.8 .2-.8 .1-1.2 .1-2.4 .1 .3 .1-1.9 .1-.5 .1-1.1 .2-1.2 .1-1.2 .1-1.2 .1-.6 .1-1.9 .1-1.6 .1-.6 .1-1 .1-.7 .1-1.5 .1-1.4 .2-.6 .1-1.6 .1-1.6 .1 .1 .1-1.7 .1-1.2 .1-.8 .2-1.6 .1-1.4 .1-1.9 .1-.1 .1-1.8 .1-.6 .1-.6 .2-1.6 .1-1.1 .1-2.3 .1-.2 .1-.7 .1-1.8 .2-.9 .1-1.8 .1-.5 .1-1.9 .1-.7 .1-.7 .2-1.6 .1-1 .1-2 .2-.6 .1-1.1 .1-1.1 .1-2.1 .2-.6 .1-1.3 .1-1 .2-1.8 .1 .1 .1-1.5 .1-1.7 .2 .2 .1-1.8 .1-2.1 .2-.9 .1-1.5 .2-1.7 .1-1.7 .2-1.5 .2-1.3 .1 1.5 .2-2.7 .2-1.2 .2-1.2 .2 1.3 .2-1.5 .2-4.2 .2 .6 .3-.1 .2-1.6 .2-2.8 .2 .3 .2-3.7 .3 .9 .3-3.3 .3 .8 .2-2.9 .3 1.5 .3-4.6 .4-.5 .4-1.9 .4 0 .4-3.2 .4-.7 .4-.8 .8-2.9 .7 1.4 .6-.5 1.4-.6 1.6-2.2 1 .4 1 1.7 1.3 .5 .6-.5 .7 2.7 .7 2.9 .7-1.3 .7 1.3 .7 1.4 .6 3.1 .7-.9 1.3 1.6 1.2 .8 1 .3 1.7 3.7 1.6 0 1.7-1.6 1-1.7 1-2 1.1 0 1.1-1.8 1.1-3 1.2 .3 1.2-.6 1.2-2 1.3-2 1.3 2.5 1.2-.4 1.2-1.1 1.3-1.2 1.4 .3 1.6 4.2 .9-1.8 .9 .1 1 2.1 1 3.8 .7 1.1 .8 1.5 .8 1.1 .6 .4 .6 .6 .7 2 .6 .1 .6 2.8 .5-1.9 .6-.1 .5 4.1 .6 .1 .6 2.8 .6-.9 .5 1.7 .6-.8 .6 2.4 .5-.2 .5 .3 .5 2.4 .5 2.1 .5 1.3 .5-.5 .5 2.3 .5 .5 .6 .8 .5 .2 .5 2.7 .5 .4 .6 .2 .6 1.8 .6 .8 .6 1.2 .6 .6 .6 2.6 .6 .1 .6 .5 .6 1.2 .6 1.2 .6 2.2 .6 .2 .6 .7 .6 1.8 .6-.5 .6 2.2 .6-.2 .6 2 .6 1.2 .6 1.1 .6 .8 .6 .7 .6 2 .6 .7 .6-.4 .6 .9 .6 1.2 .7 1.5 .6 .5 .6 1.2 .6 .5 .6 1.4 .6 .8 .6 .9 .7 2.2 .7 .8 .8 1.3 .8 .3 .8 .7 .7 1 .8 1.8 .8 .2 .8 .8 .8 1.4 .7 .8 .8 .7 .8 1.1 1.1 1.5 1.1 .8 1 .3 1.1 1 1.1 1.8 1.1 .8 1.1-.5 1.1 .5 1.1 .6 1.1 .9 1.1 1.4 1.1-.9 1.1 1.3 1.2 .8 1.1-.8 1 1.6 1.1-.7 1.1 .8 1.1 .6 1 .2 1.1 .3 1.5 .3 1.5 1 1.5 1.3 1.4 .5 1.4-.5 1.4-.1 1.3 1.2 1.4 0 1.3 .7 1.3-.2 1.3-.2 1.3-.3 1.3 .8 1.4-.4 1.3 .3 1.4 .4 1.4 .6 1.5 .1 1.5 .2 1.5-.4 1.6 .2 1.7-.1 1.1 .3 1.1 .2 1.1 .2 1.1 .5 1.2-1.3 1.1 .5 1.1 1.4 1.1-.6 1.1-.6 1.6 1.5 1.6 .1 1.5 .3 1.5 1.3 1.4-.3 1.3 1.1 .8 .3 .8 1.9 .8-.3 .7 1.8 .8 1.4 .7 1.3 .7 .5 .6 .8 .7 1 .6 1.5 .6 .8 .6 2.9 .5-.4 .4 2.4 .4 .1 .5 .5 .4 2.5 .4 1.1 .5-.5 .4 2.6 .4-.3 .4 1.7 .4 .7 .5 .6 .5 1.5 .6 2.4 .6 .8 .5 1.2 .6 .8 .6 2.2 .4 .7 .4 1.4 .4 1.1 .5 1.6 .4 .5 .4 1.1 .4 .5 .4 .8 .4 2.6 .4-.1 .4 2.1 .4 .9 .4-.2 .4 2.4 .4-.1 .4 1.4 .5 .9 .5 1.7 .5 1.9 .4 .6 .5 1.8 .5 1.1 .7 .5 .7 2.2 .7 .6 .6 2 1.4 1.4 1.3 0 1.3 1.8 1.2-.4 1 1.7 1.6-.3"/>
<path stroke="#ff00ff" stroke-width="1.5" d="M324 457.2l1.9-14 .6-16.6 .5 14.1 2.8-8.5 .6-12.1 .5 11.1 2.8-5.1 .6-12.3 .5 11.6 2.8-5.7 .6-12.5 .5 10.9 2.8-5 .6-11.5 .5 10.4 2.8-5.2 .6-9.5 .5 9.9 2.8-5 .6-10.8 .5 10.4 2.8-5.4 .6-9.8 .5 9.2 2.8-4.7 .6-9.4 .5 9.1 2.8-4.5 .6-8.2 .5 8.5 2.8-4.2 .6-8.2 .5 8.2 2.8-3.2 .6-8 .5 7.7 2.8-4.3 .6-6.7 .5 6.6 2.8-1.9 .6-6.7 .5 6.1 2.8-3.4 .6-5.5 .5 6.2 2.8-2.9 .6-5.1 .5 5.5 2.8 1.5 .6-2.1 .5 4 2.8 .9 .5 2.5 .6-.4 .5 7.4 .5-2.1 .3 .3 .2 1.6 .3 4.7 .3-2.5 .3 5.5 .3-2.7 .2 1.8 .2-1.4 .2 6.9 .2 .4 .2-1 .2-1.4 .3 3.9 .2 .3 .2 4.5M441.3 279.2l1.6 .9 1.4 2.2 1.2-.7 1.1 1 1.1 6.1 .9 3.6 .9-7.1 .8 8.7 .9-1.8 .7 .7 .8-6.6 .6 7.6 .6 .7 .6 1.9 .5 6.9 .5 4.7 .3-5.5 .2 2.3 .2-3.8 .3 8.8 .2-.2 .2 1.5 .2 3.8 .2-8.3 .1 11.5 .2 1.1 .2-7.2 .2 10.5 .1-2.2 .2-5.7 .2 13.4 .1-1.3 .2-3.5 .2 7 .1-3.5 .1 .4 .2 7.8 .1-6.4 0 10.4 .1-16 .1 7.9 .1 1.4 .1-.8 .1 10.1 .1-5.1 0 4.9 .1-2.3 .1 11.2 .1-4.5 .1 7.2 .1-4.7 .1 4.8 .1-1.1 .1-6.8 .1 3.8 .2 3.6 .2 3.9 .2-2.6 .9 3.4 .2-1 .3 1 .1-4.6 .2-9.1 .1 4 .2-5.1 .1 5.2 .1-4.5 .1-1.4 .1-4.6 .1 2.4 .1 6.2 .2-13 .1 .1 .1 7.8 .1-2.8 .1-3.7 .1-5 .1 9.2 .1-2 .1-4.9 .1-8.7 .1-.4 .1 8.2 .1-.6 .1-12.1 .1-1 .1 0 0 6 .1-2.8 .1-4.7 .1 2.9 .1-.2 0-9 .1 2.5 .1-4.6 .1 4.2 0-7.4 .1 6.6 .1-1.9 .1 1.3 .1-.5 0-12.4 .1 0 .1 1.5 0 3.8 .1 2.6 .1-6.9 0-6.2 .1 1.6 0 4.9 .1-1.7 .1-12 0 10.5 .1-4.1 0-15.4 .1 3.9 0 7.9 .1 2.4 .1-5.4 0-8.1 .1 10.7 0-10.5 .1 4.4 0-3.5 .1 1.2 0 1.7 .1-13.5 0 2.8 .1-.2 0 2.2 .1-8.7 0 3.2 .1 .6 0-.7 .1 4.8 .1-9.3 0 5.4 .1-3.9 0-9.9 .1-.3 0-1.6 .1 5.7 0 2.9 .1-12.2 .1 9.2 0-9.7 .1 5.7 0 2.1 .1 6.6 0-12.3 .1-7.5 .1 9.1 0-5 .1-19.2 .1 20.6 0-7.4 .1 .1 .1 4.8 .1-.5 0-8 .1-16.1 .1 22.1 .1-9.1 .1-5.8 0 1.3 .1-5.9 .1 9.9 .1-9.3 .1-2.6 .1 9.2 .1-11.8 .1-2.9 .1 4 .1-1.9 .1 2.7 0-9.3 .1 1"/>
<path stroke="#e8e800" stroke-width="1.0" d="M324 463l1.6-13.9 .5-15.6 .6 12.7 2.8-8.1 .5-13.4 .6 12.9 2.8-6.7 .5-11.7 .6 10.7 2.8-5.6 .5-11.4 .6 10.5 2.8-4.7 .5-11.5 .6 11 2.8-4.9 .5-11.5 .6 10.8 2.8-5.1 .5-10.2 .6 8.5 2.8-4.3 .5-9.2 .6 8.5 2.8-4.8 .5-8.9 .6 8.4 2.8-3.7 .5-9 .6 8.1 2.8-3.7 .5-7.5 .6 6.7 2.8-3.9 .5-6.1 .6 6.9 2.8-3.4 .5-7.3 .6 6.2 2.8-3.5 .5-6.2 .6 6.3 2.8-3.8 .5-5.1 .6 5.7 2.8-3.5 .5-4.1 .6 4.9 2.8 .5 .5-3.8 .6 5 2.8 3.6 .3-1.5 .6 1.1 .5-1.3 .2 1.9 .3 1.7 .3 2.3 .2 .9 .3 2.3 .3 2 .3-.6 .3 .6 .3 2.8 .3 4.5 .2 0 .3 .2 .2 2.3 .2-2.8 .2 .4 .2 1.2 .2 1.4 .3 .5 .2 5.6 .2 3.2 .2-4.5 .3 5.1 .3 3.2 .4 .1 .7-2.6 1.6 2.4 .5-3.9 .4-1.8 .4-2.3 .3 2.4 .3 1.6 .3-7.1 .3-1.2 .4 .3 .2-3.6 .3 1.8 .2 .7 .2-3.1 .3-4.2 .2-1.2 .2-.1 .3 2.1 .2 .5 .2-4.1 .3-4 .2-.5 .2 .3 .2-3.3 .2-1.1 .2 1.1 .2 1.8 .2-5.3 .2 3.4 .1-1.1 .2-4.3 .2-2.6 .2-1.4 .1 2.3 .2-.1 .2-.9 .1-5.7 .2 .3 .1-4 .2 .8 .2-1.3 .1-2.3 .2-1.6 .1 5.2 .2-6 .1 .1 .2-1 .1-1.6 .2-.4 .1-1.9 .2-1.3 .1-4.1 .2 2.6 .1-.9 .2-.9 .2-4.1 .1-.2 .2 1.1 .2-1.8 .1-6 .2 .7 .1-2.5 .2 2.7 .1-3.3 .1-1.2 .1-2.2 .2 .5 .1 .7 .1-1.7 .1-4 .2 0 .1 .5 .1-5.1 .1 4.8 .2-7.3 .1 3.1 .1-4.5 .1 4.6 .2-3 .1-4.4 .1 .9 .2 1.3 .1-1.3 .2-2.6 .2-1.5 .2-.5 .2 0 .2-4 .2-.5 .1 .2 .3-3.4 .3-3.4 .3 1.2 .3-2.8 .3 1.4 .3-.9 .5-.5 .5-7.1 .5-2 .5 5 .5-2.5 .5 .7 .6-2.3 .6 0 1.2-7.2 1.3-1.1 1.4 2 1.6 .5 1.8-4.5 1.9 6.2 2-4.4 2 .8 1.9 2.6 1.7-1.7 1.6 .1 1.4 .8 1.2 .6 1.2 2.4 1 6.5 1 3.4 1-3.7 .8-2.8 .9 5.6 .8 1.2 .7 6.7 .7-8.5 .6 2.6 .6 6.4 .6 4.5 .5 4 .2-8.6 .3 5.4 .2 2.1 .3-17.4 .2 19.4 .2 1.9 .2-3.1 .2 1.6 .1 1.7 .2 7.1 .2-1.5 .2-3.7 .1 7.9 .2 7.7 .2-3.5 .1-2.9 .2 3.3 .2 4 .1-6.1 .1 13 .2-7.5 .1 10.4 0 1.5 .1-.1 .1-7 .1 10.3 .1-6.4 .1 1.2 .1 2 0-2 .1-6.4 .1 7.1 .1 13.5 .1 .7 .1-1.1 .1 2 .1 1.2 .1-6 .1 2.6 .1 5.8 .5-5.5 .9-19.9 .3 15.9 .2-3.9 .2-10.2 .1 11.8 .1-3 .2 4 .1 .7 .1-6.5 .1 1.2 .1 7 .2-5.6 .1 2.6 .1-15 .1 12.6 .1-2 .1-2.7 .1-6.6 .1-.3 .1 .6 .1-3.7 .1 1.3 .1 .4 .1-20.5 .1 13.2 .1 .6 .1 3.5 .1-7.1 .1 2.9 .1 1.1 .1-1.1 .1-10.6 .1 2.1 0-4.2 .1 4.3 .1-7.7 .1 9.5 0-10.3 .1-.6 .1 7.9 0-9.6 .1-5.4 .1 .9 .1 8.4 0-12.4 .1 2 0 2.8 .1-2.5 .1-6.9 0 8 .1-4.4 0 6.5 .1-2.4 0-1 .1-12.3 0 10.9 .1-4.1 .1 1.1 0-11.4 .1 6.9 0-3.9 .1-2.6 0-5.7 .1 8.7 0-7.2 .1 5 0 .9 .1-27.7 0 21.4 .1-14 0 6.5 .1-2.9 .1 5.1 0 3.6 .1-7.1 0-4.5 .1-6.5 0 6.8 .1-4.7 0 6.8 .1-1.9 0-9 .1-3 .1 1.8 0-1.6 .1 9.3 0-14.1 .1 5.7 0-12 .1 6.7 .1 6.5 0-2.8 .1-8 0 4.5 .1 .9 .1-9.4 0 7.6 .1-8.9 .1 7.7 0-4.5 .1-2.6 .1-5.6 0-3.2 .1 6 .1 .8 .1-7.8 .1-4.2 0 2.2 .1 5.2 .1-10.2 .1 .2 .1 7.7 .1-6.4 .1 0 .1-8.4 .1 9.2 .1-9.3 0 6.1 .1-5.9 .1-3.9 .1 1.1 .1-.5 .1-2.6 .1 1.2 .1-2.5 .1-1 .1 .1 .1-2.6 .1-2.2 .1-.3 .1-2 .1-1.2 .1 .9 .1-1.4 .1-1.5 .1-1.4 .2-2 .1-.6 .1-1.9 .1-.4 .1-.7 .2-2.2 .1-1.5 .1-1.1 .2-1.6 .2 .5 .1-1.6 .2-2.6 .2-1.7 .1-.2 .2-.5 .2-2.4 .1 0 .3-2.3 .2-1.8 .3 .2 .2-1.5 .2-2.1 .3-.4 .2-2.2 .3 0 .2-1.3 .3-1.4 .2-1.7 .2-.2 .4-2.3 .3 .6 .3-2.3 .4-.6 .3-2.9 .4-.9 .6-.7 .6-1.7 .7-.5 .7-.4 1.5-.9 1.9-2.2 2.2 1.7 1.2-1 1.3 2.1 1.3 1.1 1.4 .4 .9-.1 1 .7 .9 1.8 1 1.3 1-1 1 1.4 .8 2.4 .7 .7 .8-.6 .7 .7 .8 .7 .7 1.6 .7 2.5 .8 .3 .7 .1 .7 1.1 .7 .9 .7 1.9 .6 .4 .5 1.1 .6 2.2 .5 .1 .6 .7 .5 1.2 .5 3.1 .4 .8 .5-.6 .5 3.6 .5 .8 .4-1.1 .4 3.4 .4-1.3 .4 1.7 .4 .8 .4 2.2 .5 1.4 .4 0 .4 2.1 .4 1.6 .4-.7 .4 1.4 .4 2.7 .4-.9 .4 1.9 .4 1.1 .4 2 .5-.4 .4 1.1 .4 2.8 .4 1.4 .4-.6 .3 2.5 .4 0 .4 2.7 .4 .7 .4 1 .4 .1 .4 1.7 .5 2.5 .4-.1 .4 1.6 .5 1.4 .4-.1 .5 1.2 .5 2.9 .4 .4 .5-.2 .5 2.1 .6 .6 .5 2.1 .6 1.1 .5 1.7 .5 .2 .5-.2 .5 2 .5-.1 .7 2.1 .6 1 .6 1 .6 .6 .6 .8 .6 1.2 .9 2.3 .9 0 .8 2 .9 2.5 .9 1.2 .9 .6 .9 .5 .9 1.4 .9 .9 1 2.1 .9-.1 1-.1 .9 3 .9-.9 1 2.6 .9 .7 .9-.8 1 .7 .9 2.5 .9 .9 1 0 .9-.1 1 2.2 .9 2.3 .9-.2 1 2.1 .9 2 1 .4 .6 .4 .6 1.6 .6 .2 .6 2.4 .7-.6 .6 2.4 .6 .5 .7 .3 .6 2.9 .6 1.2 .6-.9 .6 1.7 .7 2.7 .6-.6 .6 2.8 .5-.1 .5 1.5 .4 .6 .5 .4 .5 2.4 .5 2.2 .4-.7 .5 2.5 .5-.3 .5 3.3 .5-1 .5 1.9 .4 1.1 .4 2.1 .4 .8 .3 1.5 .4 .8 .4 1.9 .4-.6 .4 1.2 .4 2 .4 1.7 .4 .3 .4 2.4 .4-.5 .4 2.8 .3 .2 .4 1.8 .4 1.8 .4 1 .3 .9 .4 .9 .4 .3 .3 2.2 .4 .9 .3 1.1 .4 0 .3 3.1 .3 1 .3 1.5 .4 0 .3 .8 .3 1.8 .3 1.9 .3-.2 .3 1.1 .3 2 .3 2 .2 .2 .3 1.6 .3 .2 .3 .2 .2 3.3 .3 .1 .2 1.6 .3 .2 .2 2.6 .3-.6 .2 2.2 .2 2.1 .3 .8 .2-.6 .2 3.2 .3 1.5 .2 1.1 .2-.6 .3 .6 .2 2.6 .2 1.4 .3-.1 .2 2.1 .2 .1 .3 1.3 .2 3.4 .2 .4 .3 .4 .2 2 .2 .4 .3 1.6 .2 1.9 .3 .5 .2 .9 .3 2.8 .2-.3 .3 2.3 .2 .9 .3 1.5 .2 1.5 .2 .2 .2 1.4 .2 .9 .3 1.4 .2 1.4 .2 .8 .2 1.8 .2 .9 .3 1.1 .2 .7 .2 .9 .2 1.6 .2 1.3 .3 .9 .2 2 .2-.3 .2 1.8 .2 1.9 .3-.1 .2 2 .2 1.1 .2 1.5 .2 .2 .2 .9 .2 1.9 .2 1.2 .2 .8 .2 1 .3 .3 .1 1.8 .2 .9 .2 1.8 .2 1.5 .2 .2 .2 1.7 .2 .4 .3 1.3 .2 1.7 .2 .4 .2 1.7 .2 .6 .2 1.8 .2 2.2 .2 1.5 .2-.1 .1 1.7 .2 1.1 .1 .2 .2 1.4 .1 2 .2 .2 .1 2.5 .1 1.2 .2 0 .1 .7 .2 1.2 .1 1.2 .1 2.5 .1 .7 .2 1.7 .1 .5 .1 1.3 .2 .5 .1 1.6 .2 1.7 .1-.2 .2 1.1 .1 1.1 .2 1.9 .2 1.1 .1 1.3 .2 1.5 .3 1.4 .2 1.2 .3 1 .3 2.1 .4-.2 1.6 .8 .7-2.2 .4-2.7 .4-.8 .2-.3 .3-2 .2-2.1 .2 .2 .2-2.2 .2-.4 .2-.7 .2-2.6 .1 .6 .2-2.8 .2-1.3 .2-.8 .2-1.7 .2-.1 .2-1.7 .1-1.2 .2-1.2 .2-2.2 .2-.9 .1-.1 .2-1.3 .1-1.8 .1-1.3 .2-.7 .1-.9 .1-2.7 .1-.4 .1-.1 .1-1.5 .2-1.3 .1-1.1 .1-2.3 .1 0 .1-1.6 .1-2 .1-1 .2-1.2 .1-1 .1-1.4 .1-.5 .1-1.2 .1-1.1 .2-1.5 .1-1.1 .1-1.3 .1-.8 .1-1 .1-2.3 .1 .2 .1-.9 .1-1.1 .1-2.4 .1-1.3 .1 .1 .1-1.4 .1-2.5 .2-.3 .1-1.1 .1-2.1 .1 .4 .1-2.5 .2 0 .1-2.4 .1-1.5 .1-.7 .1-1.5 .1 .1 .1-1.3 .2-1.8 .1-.1 .1-2.1 .1-.9 .1-1.3 .1-.6 .1-.4 .1-1.3 .1-1 .1-1.1 .1-1.4 .2-1.9 .1-.6 .1-1.4 .1-1 .1-1.4 .1-1.5 .1 0 .2-1.5 .1-1.3 .1-1.3 .1-1.9 .1-.5 .1-2 .1-.5 .2-1.3 .1-.9 .1-.9 .1-2.1 .1-1.2 .1-1.2 .2-.9 .1-.4 .1-2.1 .1-.7 .1-1.8 .1 .3 .2-1.1 .1-1.2 .1-1.3 .1-2.6 .2-.6 .1-1.5 .1-1.1 .2-.8 .1-.7 .1-1.3 .1-2.4 .2-.1 .1-.7 .1-1.7 .2-1.7 .1 .4 .1-4.1 .1-.5 .2-2.1 .1 .2 .2-.8 .2-.1 .1-3.3 .2-2 .2 .9 .1-3.3 .2 1.7 .2-2.1 .2-1.9 .2-.8 .2-3.4 .2 1 .3-1.6 .2 .8 .2-1.1 .2-1.4 .2-4.9 .3-.4 .3 2 .2-1.6 .3-.8 .3-2.4 .3-3.3 .4-.5 .4-1.4 .4 .7 .4-4 .4 .6 .4-1.3 .7-.3 .7-2.3 .7-1.3 1.3-1.3 1.6-1.3 1 .4 1.1 1.2 1.2 .3 .7 4.3 .7-3 .7 3.5 .7 2.8 .7 1.3 .7-2 .6 1.3 .7 .8 1.3 5.1 1.2 .3 1-1.4 1.7 2.6 1.6-2.9 .8-1.9 .9 .8 1-1.1 1 .1 1.1-4 1.1 1.4 1.1-2.6 1.2-4 1.2-1.3 1.3-1.8 1.3 2.9 1.3-2.3 1.2 1.7 1.2-1.1 1.3-2.2 1.3 1.1 1.6 3.6 .9-1.3 .9 .6 .6 3.9 .7 1.9 .7-1.8 .8 3.9 .7 1.2 .8-1 .7 1.5 .6-.2 .7 4.2 .6 1 .6 .3 .6-.6 .5 .8 .6-.2 .6 5.1 .6-.3 .6 0 .6 .1 .6 3.7 .6 2.6 .5 .3 .5-1.1 .5 2.1 .6-.2 .5 2.7 .5 .6 .5 .5 .5 1.3 .6 .7 .5 1.1 .5 1.2 .5 1.5 .6 .6 .5 1.5 .5 .1 .5 1.6 .5 .6 .6 1.2 .6 1.1 .6 .5 .6 1.8 .6 .2 .6 .4 .6 1 .6 2.7 .6-.1 .6 1 .6 2.2 .6-.6 .6 1.3 .6 2 .6 .5 .6 1.2 .6 .1 .7 2.3 .6-.1 .6 1.6 .6 1.1 .6 1.8 .6-.1 .6 .8 .6 1.3 .6 1.1 .6 1.3 .7 .9 .6 1.5 .6 0 .6 1.9 .8 .1 .8 .8 .8 1.8 .7 .7 .8 .7 .8 1.9 .8 1.4 .8-.1 .8 1.9 .8 .5 .8 .1 .8 .4 1 1.7 1.1 1.8 1.1 .3 1.1 .6 1.1 1.4 1.2 .5 1.1 1 1.1 .1 1.2 .8 1.1 .1 1.1 1.5 1.2 .4 1.1-.7 1.2 .8 1.1-.3 1.1 .4 1.1 2 1.1 .2 1.1 .5 1.1-.6 1.1 .3 1-.1 1.1 1.3 1-.1 1.5 1 1.5 .4 1.4 .5 1.4 .3 1.4-.2 1.4 .5 1.3-.2 1.4 1.2 1.3-.7 1.4 .2 1.3 1.5 1.4 .2 1.4 .3 1.3-.8 1.5 .5 1.4 .5 1.5 .3 1.5 .5 1.5-.1 1.6-.7 1.6 1.2 1.6-.7 1.6 0 1.6 .1 1.6-.2 1.6 1.6 1.5 .1 1.5 .6 1.4 .5 1.4-.3 1.4 .9 1.3 2.1 .7 1.3 .8 .3 .8 1 .7 1.6 .8-.2 .7 .8 .6 1.1 .7 1.2 .7 1.4 .5 1.2 .4 2.3 .5 .9 .5 .5 .4 .2 .4 1.7 .5 1.9 .4 1.2 .5-.6 .4 1.1 .4 1.6 .5 1.4 .4 .2 .4 2.4 .4 .3 .5 1.2 .5 .9 .6 2.4 .6 .6 .6 1.1 .5 1.5 .6 2.3 .4 1.1 .4 .4 .5 1.5 .4 1.1 .4 .2 .4 2 .4 .9 .4 .6 .4 .8 .4 1.5 .4 1.1 .4 1.2 .5 .6 .5 2.5 .5 0 .5 1.3 .5 2.8 .5-.4 .5 2.1 .4 1 .5 1.3 .7 1.6 .6 1.2 .7 1.4 .6-.4 1.3 1.9 1.2 1.8 1.1 .4 1-.2 1.7 1.9"/>
<path stroke="#e8e800" stroke-width="1.5" d="M324 463l1.6-13.9 .5-15.6 .6 12.7 2.8-8.1 .5-13.4 .6 12.9 2.8-6.7 .5-11.7 .6 10.7 2.8-5.6 .5-11.4 .6 10.5 2.8-4.7 .5-11.5 .6 11 2.8-4.9 .5-11.5 .6 10.8 2.8-5.1 .5-10.2 .6 8.5 2.8-4.3 .5-9.2 .6 8.5 2.8-4.8 .5-8.9 .6 8.4 2.8-3.7 .5-9 .6 8.1 2.8-3.7 .5-7.5 .6 6.7 2.8-3.9 .5-6.1 .6 6.9 2.8-3.4 .5-7.3 .6 6.2 2.8-3.5 .5-6.2 .6 6.3 2.8-3.8 .5-5.1 .6 5.7 2.8-3.5 .5-4.1 .6 4.9 2.8 .5 .5-3.8 .6 5 2.8 3.6 .3-1.5 .6 1.1 .5-1.3 .2 1.9 .3 1.7 .3 2.3 .2 .9 .3 2.3 .3 2 .3-.6 .3 .6 .3 2.8 .3 4.5 .2 0 .3 .2 .2 2.3 .2-2.8 .2 .4 .2 1.2 .2 1.4 .3 .5M440.9 280.3l1.6 .1 1.4 .8 1.2 .6 1.2 2.4 1 6.5 1 3.4 1-3.7 .8-2.8 .9 5.6 .8 1.2 .7 6.7 .7-8.5 .6 2.6 .6 6.4 .6 4.5 .5 4 .2-8.6 .3 5.4 .2 2.1 .3-17.4 .2 19.4 .2 1.9 .2-3.1 .2 1.6 .1 1.7 .2 7.1 .2-1.5 .2-3.7 .1 7.9 .2 7.7 .2-3.5 .1-2.9 .2 3.3 .2 4 .1-6.1 .1 13 .2-7.5 .1 10.4 0 1.5 .1-.1 .1-7 .1 10.3 .1-6.4 .1 1.2 .1 2 0-2 .1-6.4 .1 7.1 .1 13.5 .1 .7 .1-1.1 .1 2 .1 1.2 .1-6 .1 2.6 .1 5.8 .5-5.5 .9-19.9 .3 15.9 .2-3.9 .2-10.2 .1 11.8 .1-3 .2 4 .1 .7 .1-6.5 .1 1.2 .1 7 .2-5.6 .1 2.6 .1-15 .1 12.6 .1-2 .1-2.7 .1-6.6 .1-.3 .1 .6 .1-3.7 .1 1.3 .1 .4 .1-20.5 .1 13.2 .1 .6 .1 3.5 .1-7.1 .1 2.9 .1 1.1 .1-1.1 .1-10.6 .1 2.1 0-4.2 .1 4.3 .1-7.7 .1 9.5 0-10.3 .1-.6 .1 7.9 0-9.6 .1-5.4 .1 .9 .1 8.4 0-12.4 .1 2 0 2.8 .1-2.5 .1-6.9 0 8 .1-4.4 0 6.5 .1-2.4 0-1 .1-12.3 0 10.9 .1-4.1 .1 1.1 0-11.4 .1 6.9 0-3.9 .1-2.6 0-5.7 .1 8.7 0-7.2 .1 5 0 .9 .1-27.7 0 21.4 .1-14 0 6.5 .1-2.9 .1 5.1 0 3.6 .1-7.1 0-4.5 .1-6.5 0 6.8 .1-4.7 0 6.8 .1-1.9 0-9 .1-3 .1 1.8 0-1.6 .1 9.3 0-14.1 .1 5.7 0-12 .1 6.7 .1 6.5 0-2.8 .1-8 0 4.5 .1 .9 .1-9.4 0 7.6 .1-8.9 .1 7.7 0-4.5 .1-2.6 .1-5.6 0-3.2 .1 6 .1 .8 .1-7.8 .1-4.2 0 2.2 .1 5.2 .1-10.2 .1 .2 .1 7.7 .1-6.4 .1 0 .1-8.4 .1 9.2 .1-9.3 0 6.1 .1-5.9 .1-3.9"/>
<path stroke="#808000" stroke-width="1.0" d="M324 468.8l1.3-11.9 .5-16.3 .5 12.6 2.9-9.7 .5-12.8 .5 12.5 2.9-6.2 .5-13 .5 11.5 2.9-5.4 .5-11.1 .5 10.2 2.9-5.3 .5-11.2 .5 11.1 2.9-5.1 .5-11.3 .5 10.8 2.9-6.4 .5-9 .5 9.5 2.9-6 .5-8.7 .5 8.7 2.9-4.2 .5-10.1 .5 8.9 2.9-4 .5-8.8 .5 7.5 2.9-4.4 .5-6.7 .5 6.9 2.9-3 .5-8.7 .5 8 2.9-3.5 .5-6.9 .5 5.4 2.9-3.2 .5-7 .5 7 2.9-4.1 .5-5.2 .5 4.7 2.9-2.5 .5-5.3 .5 4.4 2.9-.8 .5-2.8 .5 3.7 2.9 3.8 .6-3.7 .6 5.6 .5-2.1 .3 4 .2 .8 .3 1.2 .3-1.7 .3 4.9 .3 3.1 .3-3 .3 1.4 .3 5.5 .3-.8 .3-.9 .2-.6 .2 6.5 .2-1.5 .2 2.1 .3 0 .2 3.9 .2 2 .3-1.6 .2-.4 .3 7.6 .2 .7 .4-4.8 .3 5.3 .8 2.8 1.7-2.5 .5 1.2 .5 .5 .3-3.7 .3-2.5 .4-2.4 .3-1 .3-2 .4-1.6 .2-.4 .3 3.3 .2-3.3 .3 .8 .2-.4 .3-1.9 .2-6.5 .3 5 .2-7 .2 3.6 .2-.7 .3-2.4 .2-2.9 .2-3.4 .2-1 .2 2.8 .3-4.2 .2 .7 .3-3.3 .2-2.1 .2-.6 .2 1.6 .2-2.8 .2-1.8 .1-.4 .2-.7 .1-1.4 .2-1.6 .1 2.5 .2-2.7 .1-4.8 .1-.6 .2-2.1 .1 .1 .2-3.6 .1 3.9 .2-2.5 .1-2.2 .1 2.1 .2-5.2 .1 .6 .2 1.2 .1-3.8 .2-.9 .2-2.9 .1 3.2 .2-3 .1-4.4 .2-1 .2 .4 .1-1.6 .1-1.1 .1-3.4 .1 1.6 .2-.2 .1-.7 .1-3.3 .1-1.2 .2-.7 .1-.9 .1-1.6 .1-4.3 .1 .6 .2 3.9 .1-2.2 .1-3.7 .2 .9 .1-4.9 .1-.7 .1 .6 .2 0 .2-6 .2 1.8 .1 1.7 .2-3.2 .2 1.4 .2-7.4 .2 4.4 .3-1.9 .3-7.1 .2 2.2 .3 .3 .3-5 .3 1.8 .3 .3 .3-1.6 .3-3.6 .5-4.2 .5 1.9 .5-3.8 .5 1.1 .6-3.1 .5-.6 .6 .4 .6 .9 1.2-.5 1.4-5.1 1.5-3.4 1.8 5.1 1.8-2.5 1.9 3.7 2 1.5 1.8-4.5 1.7 6.7 1.6-3.4 1.4 1.4 1.2 1.3 1.2 3.2 1.1-1.6 1 3.9 1-3.7 .9 9.3 .9-5.1 .9 1.8 .7 9.7 .7-5.2 .7 5.1 .6 1.8 .5-3.2 .6 2.2 .5 4.3 .2 9 .3-5.5 .2-2.2 .2 9.6 .2-5.2 .2 7.2 .2-5.3 .1 .7 .2-2.1 .2 8 .1 6.9 .2-8.8 .2 0 .1 11.1 .2 4.2 .2-7.7 .1 9.8 .1-6.1 .2 7.9 .1-.5 0-6.4 .1 10 .1-5 .1-3.8 .1 12.9 .1-9.5 .1 0 0 7.2 .1-2 .1 10 .1-.7 .1-6.2 .1 10.8 .2-7.6 .1 3.2 .1-1.5 .1 9.3 .4-2.2 1 .5 .3 1.7 .2-10.7 .2 2.5 .1 1.8 .2 2.5 .1-2.4 .2-6.7 .1 5.7 .1-1.6 .2-14.4 .1 1.1 .1-3.5 .2-4.5 .1 10 .1-5.5 .1-1.8 .1 2.9 .1-1.5 .1 1.2 .1-2.4 .1 3.5 .1-13.1 .1 3.9 .1 2.7 .1 5.2 .1-16.8 .1-.8 .1 5.4 .1-9.2 0-.2 .1-.6 .1 13.4 .1-14 .1-8 .1 6.3 0-1.2 .1-21.1 .1 21 .1-2.3 .1 4.2 0-8.7 .1 4.8 .1-2 0-9.5 .1-1.6 .1 11.3 0-11.3 .1 5.4 0-8.9 .1 3 .1-3.3 0 2.2 .1-6.4 0 9.2 .1-4.1 0 .8 .1-10.9 0 4.9 .1-2.4 0 1.4 .1-23 0 15.6 .1 6.7 .1-12.1 0 10.5 .1 .4 0-6.9 .1-.2 0 .5 .1-2.9 0 1.1 .1-15.3 .1 3.2 0 7 .1-18 0 14.7 .1-6.5 0 4.8 .1 2.2 0-7.9 .1 2 .1-.8 0-14.2 .1 6 0 4.6 .1-5 0-7.4 .1 2.5 .1 2.3 0-23 .1 18.3 .1-3.2 0 7.7 .1 1.6 .1-15.4 0 7.4 .1-5.6 .1 2.2 0-9.6 .1 3 .1 3.9 .1-7.7 0 6.6 .1 .3 .1-8.7 .1 .7 .1 1.5 .1-.5 .1-3.2 0 3.2 .1-6 .1 1 .1-.6 .1 3.3 .1-19.3 .1 7.9 .1-1 .1 .8 .1-1.6 .1-2.3 .1-.9 .1-.8 .1-1.9 .1-1.6 .1-.3 .1-.1 0-.8 .1-2 .2-.8 .1-2.2 .1-.3 .1-1.1 .1-1 .1-3.1 .2-.2 .1-2.3 .1 .1 .1-1.4 .2-.8 .1-1.3 .1-1.8 .2-1.7 .1-.8 .2-.1 .2-2.6 .1 .7 .2-1.5 .2-2.6 .2-.7 .1-.2 .3-3.4 .2 .7 .2-2.2 .3-.6 .2-2.9 .2 .5 .3-2.7 .2-.5 .3-.5 .4-1.4 .3-2 .3-1.5 .3-.9 .3-1.4 .6-1.7 .5-1.5 .6-.6 .6-.5 .6-.7 .7-2.1 1.6 .3 1.8-2 2.2 1.5 1.2 .4 1.2 .3 1.4 1.2 1.4 0 .9 1.5 1-.9 .9 1.4 1 1.1 1 .8 1-.3 .8 1.4 .7 1.8 .8 .2 .7 1.7 .8 1.1 .7 .5 .7-.1 .8 1.8 .7 2.4 .7-.5 .7 .6 .7 2.9 .6 0 .5 .7 .6 1.9 .5 2.2 .6 .2 .5 .2 .5 .6 .4 2.2 .5 .7 .5 3 .5 .9 .4 1.3 .4 .9 .4-.5 .4 2 .4 .9 .4 1 .5 1.1 .4 .3 .4 1 .4 .9 .4 2.8 .4-.2 .4 3 .4 .6 .4 .2 .4 2.7 .4-.9 .5 1.4 .4 2.7 .4 .1 .4 2.6 .4 0 .3-.2 .4 3.5 .4 1.3 .4-.3 .4 1.8 .4 1 .4-.3 .5 2.8 .4 .5 .4 1.7 .5-.6 .4 2.2 .5 .6 .5 3.1 .4-1.2 .5 1.1 .5 2 .6 2.4 .5-.4 .6 2.4 .5 1.5 .5 .5 .5 .4 .5 1.9 .5-.6 .7 1.5 .6 2.7 .6-.6 .6 1.1 .6 .7 .6 2 .9 2.3 .9-.7 .8 2.2 .9 2.2 .9-1 .9 2.2 .9 .8 .9 1.8 .9 2.2 1 1.1 .9-.6 1 .6 .9 1.7 .9 1.9 1-1 .9 .9 .9 1 1 2.3 .9-.8 .9 .5 1 1.6 .9 1.3 1 .3 .9 2.6 .9-.2 1 2.1 .9 .9 1 2.6 .6 1.2 .6-.4 .6 .7 .6 1 .7 1.6 .6-.3 .6 .8 .7 1.6 .6 1.8 .6 .6 .6 .7 .6 2.1 .7 2.3 .6 1.3 .6-.6 .5 .9 .5 2.3 .4 1.5 .5-.9 .5 2.2 .5 .7 .4 2.8 .5 1.1 .5-.5 .5 3.1 .5-.8 .5 1.5 .4 2.9 .4-.4 .4 2.6 .4 .2 .4 1.2 .3 1.9 .4 .7 .4 .1 .4 1.4 .4 .9 .4 .9 .4 1.4 .4 2.2 .4 .5 .4 .2 .3 3.1 .4 .8 .4 1.9 .3 .3 .4 .6 .4 2.4 .3 .9 .4 .9 .3 1.2 .4 .6 .3 .9 .3 .5 .3 2.2 .4 1.4 .3 .3 .3 3.1 .3 1 .3-.4 .3 .7 .3 1 .2 2.5 .3 1.5 .3 .2 .2 2.1 .3-.3 .3 1.3 .2 .9 .3 .6 .2 1.1 .2 3.4 .3-.8 .2 1 .2 2.6 .3 .3 .2 1.7 .2-.2 .3 1.2 .2 2.2 .2 2.4 .2-.9 .3 1.1 .2 2.8 .2 1.1 .2 .5 .3 1.8 .2 .1 .2 .9 .3 1.5 .2 1 .2 2 .3 1.7 .2 1.1 .2 .9 .3 .4 .2 2.2 .3 .4 .3 1.1 .2 1.7 .3 2.3 .2 .2 .2 1.6 .3 1.3 .2 .8 .2 .3 .2 2 .3 1.1 .2 .4 .2 .8 .2 1 .3 2.3 .2 1.5 .2-.5 .3 1.9 .2 1.8 .2 1.2 .2 1 .3 .1 .2 1.4 .2 .6 .2 1.8 .3 1.7 .2 .3 .2 2.4 .2-.2 .2 1.6 .3 1.2 .2 1.1 .2 1.4 .2 .8 .2 1.6 .3 .9 .2 2 .3 1 .2 1.4 .2 1.4 .3 .7 .2 .8 .2 .8 .2 1.4 .3 1.7 .2 1.7 .2 .8 .2 .5 .2 1.7 .2 1.7 .1 .4 .2 2.5 .2 0 .1 .8 .2 2.6 .1 .3 .2 .7 .1 .9 .2 1.9 .1 1.9 .2 0 .1 1.2 .2 2 .1 .7 .1 1.4 .2-.3 .1 2.6 .1 1.3 .2 .1 .2 2 .1 0 .2 1.4 .1 2.4 .2 0 .2 1.5 .2 1.2 .2 .9 .3 2.7 .2-.3 .3 2.9 .4-.1 .4 1.7 1.5-1.1 .4-1.1 .4-.5 .4-.9 .3-2.1 .3-2.1 .2-.5 .3-1.2 .2-.6 .1-2.1 .2-.2 .2-1.9 .2-.3 .2-2 .1-1.7 .2-.4 .2-.9 .2-2.6 .2-.9 .2-1 .1-.6 .2-1.3 .2-2.6 .2-.6 .1-1.2 .1-1.4 .2-2.1 .1-.5 .1-.4 .1-2.2 .1 .1 .2-1.4 .1-1.8 .1-1.4 .1-1.1 .1 0 .1-1.6 .1-.8 .1-1.9 .1-.8 .1-1.7 .2-1.6 .1-.7 .1-1.7 .1-.8 .1-1.4 .1-1.6 .1-.9 .1 0 .1-1.2 .1-1.1 .1-2.3 .1-.7 .1-.7 .1-2.1 .1-.7 .2-.5 .1-.8 .1-2.6 .1-.6 .1-1.1 .1-1.3 .1-.4 .1-2.7 .2 .2 .1-1.1 .1-2 .1-.5 .1-1.1 .1-1.8 .1-1.6 .1-1 .2 .2 .1-2.2 .1-.3 .1-2.4 .1 .2 .1-2.1 .1-.4 .1-1.8 .1-.3 .1-1.1 .2-.6 .1-2.5 .1-.8 .1-.3 .1-1.6 .1-2.1 .1-1.2 .1-.3 .1-2 .2-1.3 .1-.4 .1-1.5 .1-.9 .1-1.1 .1-.9 .2-2.1 .1 .2 .1-2.7 .1 .1 .1-1.9 .1-1.1 .2-1 .1-1.5 .1-1 .1-.2 .1-1.9 .1-1.2 .2-1.7 .1 0 .1-1.6 .1-1.8 .1 .1 .1-2.4 .2 .2 .1-1.1 .1-1.4 .1-2 .1 .1 .1-1.9 .2-2 .1-.3 .1-.9 .1-1.7 .2-2.9 .1-.4 .1-.9 .2-.6 .1-1.6 .2 .2 .1-.3 .2-2.2 .1-1.6 .2-2.5 .2-.3 .2-1.8 .1-.9 .2-1.7 .2 1.8 .2-3.3 .2-1.8 .2 .9 .3-2.8 .2 .1 .2-1.4 .2-.4 .2-4.2 .3 .5 .3-.3 .2-3.4 .3 1.1 .3-4.7 .2-1 .4-.8 .4-.9 .4-1.7 .4-1.1 .4 0 .4-.9 .7-3.3 .7 .9 .7-.8 1.4-1.4 1.5-1.2 1.1 1.7 1-.3 1.3 2.5 .6-.8 .7 3.2 .7-3 .7 4.2 .7 1.1 .8-1.3 .6 4.2 .7-.9 1.3 4.1 1.2 1.4 1.9-2.2 1.7 1.1 .7-4.6 .9-.8 .8 1.8 1-1.5 1-3.3 1.1-1 1.2-1.7 1.1-.5 1.2-4.7 1.2 .9 1.3-.6 1.3-.4 1.3-3.2 1.2 .6 1.2-.1 1.2 1.2 1.4 1.7 1.5 .6 .9 .3 .9 1.2 .6 2.8 .7 1.4 .7 0 .6-1.1 .6-.1 .6 3.5 .6-1.8 .7 2.2 .6 .7 .7 1.7 .7 .3 .6 1.2 .5 5.1 .6 .8 .6-2.7 .6 4.8 .5 .7 .5 1.7 .5 .3 .5-1.2 .6 3 .5-1.9 .5 3 .5 1.5 .6-.3 .5 1.3 .5 2.4 .6 .2 .5 .5 .5 1.4 .6 1 .5 .5 .6 2.5 .5 .3 .5 1.3 .6 1.1 .5 1.5 .5 .8 .6 .5 .5 .7 .6 1.5 .6 .4 .7 1 .6 2.1 .6 1.5 .6 .9 .6-.4 .6 2.2 .6 1 .6 1.1 .6 .4 .7 1.2 .6 1.6 .6-.1 .6 1.5 .6 .5 .6 2 .6 .5 .6 1.8 .6-.2 .6 2.6 .6 .3 .7 .8 .6 .4 .6 1.4 .6 1.7 .6 .5 .6 .5 .7 .9 .6 1.7 .8 .2 .7 2.1 .8 .9 .8 1.3 .8 .2 .8 2.3 .8-.2 .8 2 .8 .9 .8 1.1 .8 .4 .8 .9 1.1 1 1.1 .4 1.1 .8 1.2 .8 1.1 1.8 1.1 .2 1.2 .6 1.2 1.5 1.1 .2 1.2 .4 1.2 .5 1.1-.4 1.2 1.1 1.2-.2 1.1 1.5 1.2-.1 1.1-.2 1.2 .7 1.1 1.4 1.1 .1 1.1-.3 1.1 0 1 .2 1.1 .9 1.5-.2 1.6 1.3 1.4 .3 1.5 .3 1.4 .9 1.4-.5 1.4 1.1 1.4-.8 1.4 1.2 1.4-.3 1.3 .1 1.4 .2 1.4-.1 1.4 .5 1.4-.2 1.4 1 1.5 .7 1.4-.5 1.5 .6 1.5 0 1.5 0 1.6 1.8 1.5 .2 1.5-.2 1.5-.5 1.5 1.6 1.4-.9 1.5 .8 1.3 .1 1.4 2.5 1.2-.5 1.3 2.4 .8 .8 .7 .8 .8 1.2 .7 1.2 .7 .4 .8 1.4 .6 1 .7 1 .7 1.4 .5 1.9 .4 1 .5 .1 .5 1.3 .4 1.2 .5 .9 .4 .7 .5 1.8 .4 .1 .5 2.9 .4-.2 .5 1.8 .4 .8 .4 1.5 .4 1.3 .5-.3 .6 1.5 .5 2.8 .6 1.2 .6 .2 .5 2 .6 .5 .4 1.5 .5 1.2 .4 1.5 .4 .4 .4 1.3 .4 .8 .4 .9 .4 .7 .4 1.6 .4 1.7 .4 1.4 .4 0 .5 2.2 .5 .1 .5 2.3 .5 1.5 .5 1.2 .5 1.5 .4 1 .5 .9 .4-.1 .7 2.2 .6 1.5 .6 .9 .6 .9 1.1 1.8 1.1-.3 1 2.1 1.6 .6 1.2-.5"/>
<path stroke="#808000" stroke-width="1.5" d="M324 468.8l1.3-11.9 .5-16.3 .5 12.6 2.9-9.7 .5-12.8 .5 12.5 2.9-6.2 .5-13 .5 11.5 2.9-5.4 .5-11.1 .5 10.2 2.9-5.3 .5-11.2 .5 11.1 2.9-5.1 .5-11.3 .5 10.8 2.9-6.4 .5-9 .5 9.5 2.9-6 .5-8.7 .5 8.7 2.9-4.2 .5-10.1 .5 8.9 2.9-4 .5-8.8 .5 7.5 2.9-4.4 .5-6.7 .5 6.9 2.9-3 .5-8.7 .5 8 2.9-3.5 .5-6.9 .5 5.4 2.9-3.2 .5-7 .5 7 2.9-4.1 .5-5.2 .5 4.7 2.9-2.5 .5-5.3 .5 4.4 2.9-.8 .5-2.8 .5 3.7 2.9 3.8 .6-3.7 .6 5.6 .5-2.1 .3 4 .2 .8 .3 1.2 .3-1.7 .3 4.9 .3 3.1 .3-3 .3 1.4 .3 5.5 .3-.8 .3-.9 .2-.6 .2 6.5 .2-1.5 .2 2.1 .3 0 .2 3.9M440.5 289.8l1.6-3.4 1.4 1.4 1.2 1.3 1.2 3.2 1.1-1.6 1 3.9 1-3.7 .9 9.3 .9-5.1 .9 1.8 .7 9.7 .7-5.2 .7 5.1 .6 1.8 .5-3.2 .6 2.2 .5 4.3 .2 9 .3-5.5 .2-2.2 .2 9.6 .2-5.2 .2 7.2 .2-5.3 .1 .7 .2-2.1 .2 8 .1 6.9 .2-8.8 .2 0 .1 11.1 .2 4.2 .2-7.7 .1 9.8 .1-6.1 .2 7.9 .1-.5 0-6.4 .1 10 .1-5 .1-3.8 .1 12.9 .1-9.5 .1 0 0 7.2 .1-2 .1 10 .1-.7 .1-6.2 .1 10.8 .2-7.6 .1 3.2 .1-1.5 .1 9.3 .4-2.2 1 .5 .3 1.7 .2-10.7 .2 2.5 .1 1.8 .2 2.5 .1-2.4 .2-6.7 .1 5.7 .1-1.6 .2-14.4 .1 1.1 .1-3.5 .2-4.5 .1 10 .1-5.5 .1-1.8 .1 2.9 .1-1.5 .1 1.2 .1-2.4 .1 3.5 .1-13.1 .1 3.9 .1 2.7 .1 5.2 .1-16.8 .1-.8 .1 5.4 .1-9.2 0-.2 .1-.6 .1 13.4 .1-14 .1-8 .1 6.3 0-1.2 .1-21.1 .1 21 .1-2.3 .1 4.2 0-8.7 .1 4.8 .1-2 0-9.5 .1-1.6 .1 11.3 0-11.3 .1 5.4 0-8.9 .1 3 .1-3.3 0 2.2 .1-6.4 0 9.2 .1-4.1 0 .8 .1-10.9 0 4.9 .1-2.4 0 1.4 .1-23 0 15.6 .1 6.7 .1-12.1 0 10.5 .1 .4 0-6.9 .1-.2 0 .5 .1-2.9 0 1.1 .1-15.3 .1 3.2 0 7 .1-18 0 14.7 .1-6.5 0 4.8 .1 2.2 0-7.9 .1 2 .1-.8 0-14.2 .1 6 0 4.6 .1-5 0-7.4 .1 2.5 .1 2.3 0-23 .1 18.3 .1-3.2 0 7.7 .1 1.6 .1-15.4 0 7.4 .1-5.6 .1 2.2 0-9.6 .1 3 .1 3.9 .1-7.7 0 6.6 .1 .3 .1-8.7 .1 .7 .1 1.5 .1-.5 .1-3.2 0 3.2 .1-6 .1 1 .1-.6 .1 3.3 .1-19.3"/>
<path stroke="#000080" stroke-width="1.0" d="M324 474.7l1-9.5 .5-17.5 .5 11.2 2.9-10 .5-13.2 .5 12.8 2.9-6.2 .5-12.3 .5 11.4 2.9-5.9 .5-11 .5 10.4 2.9-5.2 .5-10.9 .5 10.5 2.9-5.2 .5-11.6 .5 10 2.9-4.5 .5-10.3 .5 8.9 2.9-4.3 .5-9.4 .5 9 2.9-5.8 .5-8.9 .5 8 2.9-3.2 .5-9.6 .5 8.7 2.9-4.4 .5-8 .5 7.5 2.9-3.5 .5-7.8 .5 6.6 2.9-4 .5-6.6 .5 7.2 2.9-5 .5-5.9 .5 6 2.9-4.6 .5-6.1 .5 6.2 2.9-3.9 .5-5.6 .5 5.2 2.9-2.6 .5-3.1 .5 4.1 2.9 2.8 .5-1.5 .4 2.2 .6 2.1 .2-.9 .3-2 .3 1.6 .3 1.2 .2 .8 .3 5.3 .3 .5 .3-1 .3 6.3 .4-.6 .3 2.7 .3 1.8 .3 .3 .2 .2 .2 4.5 .3-4.5 .2 5.3 .2 2.8 .3-1.4 .2 3.8 .3-3.1 .2 3 .3 .3 .2 2.2 .3 3.2 .2-2.9 .3 2.5 .4 4.6 .4-2.7 .9-.5 .9 5.3 .5-4.2 .5-4.6 .5 2.4 .5-4.5 .4-1.1 .3 2.7 .4-1.8 .3-3 .4-.8 .3-1.1 .3-1.8 .2-3.6 .3 3.6 .2-1.1 .3-3.6 .2-1.2 .2 .4 .3-2.1 .3-1.8 .3 1.9 .2-1.2 .3-6.6 .2-1.2 .3 3 .2-.2 .2-3 .2-4.4 .2-3.1 .2 4 .2-.8 .2-2.3 .1-1.2 .2 .5 .1-4.2 .1 1.7 .2-5.9 .1-2.4 .1 4.2 .2-2.1 .1-.5 .1-5.8 .2 0 .1 .8 .1-4.8 .2 .6 .1 .7 .2 1.2 .1-2.8 .2-3.4 .1-1.1 .2-.6 .1 .3 .2 .6 .2-8.2 .1 5 .2-2.2 .1-6.6 .2 .1 .1-1 .1-1.6 .1-1.5 .1-1.3 .2 2.7 .1-2.8 .1-3.5 .1 4 .2-1.2 .1-5.1 .1 2.9 .1-1.5 .2-2.9 .1-4.2 .1 3.3 .2-.2 .2-1.3 .1-.9 .2-6.8 .2 4.5 .2-7.4 .2 .6 .2 0 .2-.4 .2-1.8 .2 1.5 .2-2 .3-.7 .2-2.6 .3-2.8 .3-4.3 .3 3.2 .3 .7 .3-6.3 .3 4.5 .3-8 .5 1.1 .5 1 .5-1.7 .6-2.3 .5-3.2 .6-1.4 .6-1.7 .6 2.6 1.3-5.7 1.5 0 1.7 4.1 1.7-1.5 1.9-2.2 1.8 3.9 1.9 4.7 1.6-1.6 1.6-1.3 1.3-.3 1.3 4.9 1.2-1.3 1.2 1.7 1.1-.6 1 7.4 .9 .2 1-1.3 .8 1.6 .8-2 .7 13.8 .7-7.3 .6 12.8 .6-8.5 .6 10.3 .5-9.1 .2 4.8 .3 3.8 .2 4.9 .2-5.8 .2 .1 .2 3 .2 6.2 .1 4 .2-10.8 .2 1.6 .1 13.9 .2-11.1 .2 3.7 .1 4.3 .2 6.9 .2-6.2 .1-.8 .1 1.3 .2 .7 .1 10.2 .1-1.7 .1 4.5 .1 3 .1-1.9 .1 .6 .1-.3 0 4.5 .1-6.8 .1 .8 .1 3.7 .1-1.9 .1 8.1 .2-1.2 .1-1.4 .2-.3 .4 5 1 3.3 .3-5.3 .2-.4 .2 4.5 .2-4.7 .2-6.6 .2-5.3 .1-2.1 .2 8.5 .1 4.9 .2-8.2 .1 1.4 .1-1.8 .1 .3 .1-3.4 .1-4.5 .1 2 .2-9.3 .1 3.9 .1 1.9 .1-2.9 .1-5.7 .1 1.9 .1-7.1 .1 6.3 .1-.5 .1 5.6 .1-7.3 0-3.9 .1 3.5 .1-4.8 .1-10 .1 2.3 .1-2.7 0-4.7 .1 12.5 .1-11.9 .1-6.8 0 7.7 .1 1.3 .1-.5 0-4.1 .1 2.4 .1-11.3 0 2.5 .1 .5 .1-11 0 11.3 .1-7.6 0 8.2 .1-9.7 .1 11.3 0-22.7 .1 19.6 0-7.1 .1-3.3 0-5.5 .1 6.2 0 4.1 .1-5.6 .1 3.5 0-4.3 .1-3.1 0 1.7 .1-3.6 0-7.8 .1-8.1 0 9.1 .1-5.1 0 3.4 .1-1.1 0 6.2 .1-5.1 0-5.7 .1-3.4 0 .5 .1-.3 0-3.1 .1 6.1 0-6.8 .1 2.6 0-5.6 .1-3.9 0 1.6 .1-4.7 0 4.9 .1-6.6 .1 2.8 0 3.9 .1-18.7 0 19.2 .1-4.5 0 .7 .1-1.4 0-.5 .1-.3 .1-5.5 0-7.3 .1 .1 0 1 .1 4.7 .1-3.3 0-1.6 .1-8 .1 5.1 0 2.6 .1-4.3 .1-3 0-.4 .1 2.4 .1-4 .1 2.1 0-1.8 .1-3.3 .1 1.2 .1-10.4 .1 1.2 0 8.4 .1-12.7 .1 9.5 .1-4 .1-2.2 .1-3.1 .1-.8 .1 .6 .1-1.4 .1-.9 .1-1.9 0-.3 .1-3.4 .1-.1 .1-2 .1 1.3 .1-1.4 .1-1.6 .1-1.5 .2-1.2 .1-1.1 .1-2 .1-1.6 .1 .7 .1-1.1 .2-2.6 .1-.7 .1-1.1 .1-.2 .2-2.2 .1-.3 .2-2.7 .1 .9 .2-1.9 .1-1.9 .2-.8 .2-.6 .2-1.5 .1-2.2 .2-1 .2-1.4 .3 .1 .2-.3 .2-3.5 .3 .8 .2-1.3 .2-2.5 .3-.5 .3-2.3 .3 .5 .3-2.2 .3-.1 .3-2.3 .3-1.1 .6-1.1 .5-.8 .5-1.7 .6-.9 1.3-2.3 1.6-1.6 1.8-.3 2.2 1.8 1.2-1.6 1.2 2.5 1.4 0 1.3 .3 1 1 1 .6 .9 1.5 1 1 1 1.4 1-.3 .8 1.3 .7-.4 .8 2.2 .7-.9 .7 3.1 .8 1.2 .7-.3 .8 .2 .7 1.2 .7 2.3 .7-.5 .7 1.9 .6 .4 .5 1.2 .6 1.2 .5 3.3 .6 .7 .5 .3 .5 1.8 .4-.4 .5 2.7 .5-.1 .5 2.4 .4 .2 .4 2.4 .4-1 .4 1.1 .4 3.2 .4 1 .5-.1 .4 .6 .4 2.2 .4 1.1 .4 .9 .4 2.3 .4-.8 .4 2 .4 1.8 .4 .8 .4 1 .5 1.6 .4 .1 .4 2 .4 0 .4 1.7 .3 .5 .4 1.8 .4 .5 .4 3.6 .4 .9 .4-1.2 .4 1.4 .5 3.3 .4 1.2 .4 1.2 .5 1.3 .4-.1 .5 2.4 .5 1.2 .4-.6 .5 1.7 .5 1.1 .6 2.5 .5 .3 .6 .4 .5 2.3 .5-.1 .5 1.7 .5 .2 .5 1.4 .7 1.3 .6 0 .6 2.7 .6 1.4 .6-1 .6 1.4 .9 2.4 .9 .6 .8 .4 .9 1.8 .9 1 .9 3.1 .9 .8 .9-.6 .9 2.1 1 2.2 .9-.3 1 .7 .9 .8 .9 1.2 1 1.9 .9 1.2 .9 .8 1 .6 .9-1.4 .9 2.5 1 .9 .9-.4 1 .9 .9 2.3 .9 .8 1 2.7 .9 .8 1 .5 .9 2.4 .9-.7 .6 2.2 .7 .3 .6 1 .6 1.7 .7 1.3 .6 1.8 .6-.1 .6 .4 .6 2.9 .7 1 .6 1.3 .6 .4 .5-.3 .5 3 .4-.8 .5 2 .5 .5 .5 2.5 .4 .5 .5 2.4 .5 1.2 .5-.3 .5 1.2 .5 2.5 .4 1.5 .4 1.2 .4 0 .4 .6 .4 .9 .4 2.6 .3 0 .4 2.5 .4 1.5 .4 .4 .4 .8 .4 2.3 .4 .6 .4 .9 .4 1.2 .3 1 .4 .6 .4 .5 .4 2.7 .3-.3 .4 2.2 .3 1 .4 2.3 .3 .9 .4 1.7 .3 .4 .3 .9 .4 .4 .3 1.3 .3 1.5 .3 1.4 .3 .9 .3 .4 .3 1.3 .3 2.6 .2 .5 .3 0 .2 1.4 .3 1.1 .3 .5 .2 2.6 .2 .7 .3 .9 .2 2 .3 .7 .2 1.1 .2 1.6 .3 .7 .2-.5 .2 3.1 .2 1.4 .2 .7 .3-.8 .2 3.1 .2 .7 .2 .4 .2 1.8 .3 .7 .2 2 .2 .7 .2 1.3 .3 1.1 .2 .4 .2 0 .2 2.6 .3 1 .2 1.5 .3 1.4 .2 1 .3 .3 .2 1.4 .3 1 .3 2.6 .2-.1 .3 1.2 .2 2.6 .2 .5 .3 1.2 .2 1.6 .2-.7 .2 2.1 .3 .7 .2 2 .2-.2 .3 1.2 .2 2.1 .2 1.5 .3 .8 .2 .3 .3 1.4 .2 .9 .2 1.4 .3 1 .2 1.7 .2 1.3 .2 .4 .3 1.4 .2 1.7 .2 0 .3 2.2 .2-.2 .2 1.4 .2 1.9 .3 .6 .2 1 .2 1.5 .3 .6 .3 1.8 .2 1 .3 .8 .2 2.2 .2 1.4 .3 .2 .2 1.2 .2 1.3 .2 1.3 .3 1.4 .2 1.9 .2 .9 .2 .9 .2 1.8 .1 1.4 .2 1.1 .2 1.3 .1 .8 .2 .7 .2 1.5 .1 .5 .2 2.2 .1-.4 .2 2.5 .1 .1 .2 2.2 .1 1.1 .2 1.3 .1 .6 .2 .7 .1 1 .2 1 .2 2.3 .1 .2 .2 1.4 .2 1.1 .2 1 .2 1.9 .2 1.8 .2 .6 .3 1 .2 .5 .3 2.5 .4 .7 .4 .8 1.6-.9 .4-.4 .4-.4 .3-3.3 .4-.1 .2-2.5 .3-1.5 .2-.6 .2-2 .2-1.1 .1 .2 .2-1 .2-2.4 .2-.8 .2-1.1 .1-1.6 .2-1.6 .2-1.2 .2-.2 .1-2.3 .2-1.5 .2-.7 .2-.9 .1-1.3 .2-1.8 .1-1.1 .1-1.5 .2-.3 .1-1.4 .1-2.2 .1-1.2 .2-1.3 .1-.5 .1-1.9 .1-1 .1-.9 .1-1.6 .1-1.7 .1-.5 .1-1.3 .2-.9 .1-1.9 .1-.6 .1-2 .1-.8 .1-1.2 .1-1 .1-.7 .1-.6 .1-1.7 .1-1.2 .1-.8 .1-2.1 .1-.5 .1-.7 .1-1.7 .1-1.4 .1-.7 .1-1.6 .1-.4 .1-1.8 .1-1.2 .2-.1 .1-2.1 .1-1.2 .1-1.1 .1-2 .1-.8 .1-.6 .2-2 .1 .1 .1-.7 .1-1.8 .1-.6 .1-1.3 .1-1.5 .1-2.1 .1-.3 .1-.5 .1-1.8 .2-.2 .1-1.6 .1-1.8 .1-1 .1-1.2 .1-.3 .1-1.7 .1-2 .1-.2 .2-.6 .1-2.4 .1-1.2 .1-1.1 .1-.2 .1-1.4 .2-2 .1-.8 .1-1.2 .1-.9 .1-2 .1-.2 .2-2 .1-1.1 .1-1.6 .1-.9 .1-.3 .1-1.6 .2-2 .1 .3 .1-1.5 .1-1.5 .1-1.1 .2-.7 .1-1.9 .1 0 .1-2.6 .1-.9 .1-.8 .1-1.3 .2-1.2 .1-1 .1-.3 .1-2.1 .2 .4 .1-2.5 .1-1.8 .1 2 .2-2.1 .1-3.1 .2-1.2 .1 .7 .2-1.5 .2-3.1 .1-1.7 .2 2 .2-1.2 .2-2.4 .1-1.2 .2-1.5 .2-.6 .2-.6 .3-3.4 .2 .3 .2-3.9 .2 .7 .2-1 .2-3.8 .3-.8 .2 2.2 .3-2.3 .3-.5 .2-2.5 .3-2.6 .4 .2 .4 .3 .4-3.1 .4-2.2 .4-2.2 .3 2.2 .4-2.3 .4-2 .7-.5 .6-1.1 .7-1.5 1.4 .3 1.8-.2 1.2 2.5 1.2-.2 .7 .4 .7 1.2 .7 3.8 .7 1.2 .7 .9 .7 .1 .7 2.8 .7-1.6 1.3 2.6 1.2 .1 2-1.5 .8 2.9 .8-2.3 .8-2.8 .8-2.1 .9-.3 .9 .1 1.1-2.1 1.1-2.8 1.1-.8 1.2-2.7 1.2 .5 1.2-2.3 1.3-2.2 1.3 .6 1.3-2.9 1.1 2 1.2-2 1.2 .8 1.4 1.6 1.5 2.5 .9-.8 .9 .3 .6 2.3 .7 2 .7 1.4 .6 1.1 .6-2.8 .6 3.1 .6-.9 .6 3.4 .5 0 .6 3.5 .5-2.8 .6 .7 .6 2.6 .6-.1 .6 2 .6 4.2 .6-2.4 .5 3.9 .5 1.2 .6-1.8 .5 1.5 .5 1 .6 2.1 .5 1.2 .6 .1 .5 2 .5 0 .6 2 .5 .7 .6 2 .5 .9 .6 1.1 .5 .4 .6 2.2 .5 .3 .6 1 .5 1.8 .6 0 .5 .6 .6 2.3 .5 .7 .7 1.5 .6 .6 .6 1 .6 1.5 .7 1.1 .6 .7 .6 .3 .6 1.7 .6 1.2 .7 1.6 .6-.3 .6 2.7 .6 .7 .6 .6 .6 .4 .6 1.9 .6 .4 .6 1.2 .7 1 .6 1.6 .6 1 .6 .7 .6 1 .6 .5 .6 1.3 .7 1 .6 1.6 .6 1.6 .6-.4 .6 1.4 .7 .9 .6 .9 .6 .4 .7 1.8 .6 1.2 .8 0 .8 1.8 .8 .1 .8 1.6 .8 .9 .8 .6 .8 1.1 .8 .5 .9 1.9 .8 .4 .9 .5 .8 1 1.2 0 1.1 1.1 1.2-.1 1.2 1.3 1.2 1.7 1.2-.5 1.2 1.1 1.2-.4 1.2 1.7 1.2 .1 1.2 0 1.2 .3 1.1 .7 1.2 .7 1.2 .4 1.1-.4 1.2 .3 1.1 .7 1.1 .1 1.1 .2 1.1 .6 1.5 .7 1.6-.3 1.5 1.4 1.5 .4 1.5-.5 1.5 .1 1.4 1.4 1.4 .5 1.4-.1 1.4-.9 1.4 1.4 1.4 .6 1.4-.9 1.4 1.6 1.4-1.3 1.4 2.1 1.4-1.3 1.5 1.2 1.4 .4 1.5 1.1 1.4-.3 1.4 .8 1.5-1.3 1.4 1.4 1.4 .4 1.4-.4 1.4 1.2 1.3 .4 1.3 1 1.3 1.5 .8 .6 .8 .7 .8-.2 .8 1.4 .8 1.8 .7-.5 .7 1.5 .7 .9 .8 2.4 .5 .6 .5 .6 .5 1 .5 .8 .5 1.3 .4 1.3 .5 1.3 .5 1.9 .5 .5 .4 .7 .5 2.2 .5 .1 .4 .9 .4 1 .5 1.3 .4 1.4 .5 .8 .4 .7 .5 1.2 .4 2.2 .4 1.5 .5-.1 .4 1.6 .4 1 .6 .9 .6 2.4 .5 0 .4 .7 .5 1.7 .4 1.5 .4 1.3 .4 .9 .4 .5 .4 1.2 .4 1.1 .4 1.8 .4 .7 .4 .6 .4 1.8 .5 .7 .5 1.3 .5 .9 .5 1 .5 1.5 .4 2 .5 1.1 .4-.5 .5 1.8 .6 .6 .6 2.8 1.1 .3 1 2.1 .9 1.6 1.6 .2 1.2 1"/>
<path stroke="#000080" stroke-width="1.5" d="M324 474.7l1-9.5 .5-17.5 .5 11.2 2.9-10 .5-13.2 .5 12.8 2.9-6.2 .5-12.3 .5 11.4 2.9-5.9 .5-11 .5 10.4 2.9-5.2 .5-10.9 .5 10.5 2.9-5.2 .5-11.6 .5 10 2.9-4.5 .5-10.3 .5 8.9 2.9-4.3 .5-9.4 .5 9 2.9-5.8 .5-8.9 .5 8 2.9-3.2 .5-9.6 .5 8.7 2.9-4.4 .5-8 .5 7.5 2.9-3.5 .5-7.8 .5 6.6 2.9-4 .5-6.6 .5 7.2 2.9-5 .5-5.9 .5 6 2.9-4.6 .5-6.1 .5 6.2 2.9-3.9 .5-5.6 .5 5.2 2.9-2.6 .5-3.1 .5 4.1 2.9 2.8 .5-1.5 .4 2.2 .6 2.1 .2-.9 .3-2 .3 1.6 .3 1.2 .2 .8 .3 5.3 .3 .5 .3-1 .3 6.3 .4-.6 .3 2.7 .3 1.8 .3 .3 .2 .2 .2 4.5 .3-4.5 .2 5.3 .2 2.8 .3-1.4M440.1 291.7l1.6-1.3 1.3-.3 1.3 4.9 1.2-1.3 1.2 1.7 1.1-.6 1 7.4 .9 .2 1-1.3 .8 1.6 .8-2 .7 13.8 .7-7.3 .6 12.8 .6-8.5 .6 10.3 .5-9.1 .2 4.8 .3 3.8 .2 4.9 .2-5.8 .2 .1 .2 3 .2 6.2 .1 4 .2-10.8 .2 1.6 .1 13.9 .2-11.1 .2 3.7 .1 4.3 .2 6.9 .2-6.2 .1-.8 .1 1.3 .2 .7 .1 10.2 .1-1.7 .1 4.5 .1 3 .1-1.9 .1 .6 .1-.3 0 4.5 .1-6.8 .1 .8 .1 3.7 .1-1.9 .1 8.1 .2-1.2 .1-1.4 .2-.3 .4 5 1 3.3 .3-5.3 .2-.4 .2 4.5 .2-4.7 .2-6.6 .2-5.3 .1-2.1 .2 8.5 .1 4.9 .2-8.2 .1 1.4 .1-1.8 .1 .3 .1-3.4 .1-4.5 .1 2 .2-9.3 .1 3.9 .1 1.9 .1-2.9 .1-5.7 .1 1.9 .1-7.1 .1 6.3 .1-.5 .1 5.6 .1-7.3 0-3.9 .1 3.5 .1-4.8 .1-10 .1 2.3 .1-2.7 0-4.7 .1 12.5 .1-11.9 .1-6.8 0 7.7 .1 1.3 .1-.5 0-4.1 .1 2.4 .1-11.3 0 2.5 .1 .5 .1-11 0 11.3 .1-7.6 0 8.2 .1-9.7 .1 11.3 0-22.7 .1 19.6 0-7.1 .1-3.3 0-5.5 .1 6.2 0 4.1 .1-5.6 .1 3.5 0-4.3 .1-3.1 0 1.7 .1-3.6 0-7.8 .1-8.1 0 9.1 .1-5.1 0 3.4 .1-1.1 0 6.2 .1-5.1 0-5.7 .1-3.4 0 .5 .1-.3 0-3.1 .1 6.1 0-6.8 .1 2.6 0-5.6 .1-3.9 0 1.6 .1-4.7 0 4.9 .1-6.6 .1 2.8 0 3.9 .1-18.7 0 19.2 .1-4.5 0 .7 .1-1.4 0-.5 .1-.3 .1-5.5 0-7.3 .1 .1 0 1 .1 4.7 .1-3.3 0-1.6 .1-8 .1 5.1 0 2.6 .1-4.3 .1-3 0-.4 .1 2.4 .1-4 .1 2.1 0-1.8 .1-3.3 .1 1.2 .1-10.4 .1 1.2 0 8.4 .1-12.7 .1 9.5 .1-4"/>
<path stroke="#800080" stroke-width="1.0" d="M324 480.5l.6-4.6 .5-19.6 .6 10.3 2.8-11.7 .5-13.8 .6 13.6 2.8-7.1 .5-12.6 .6 12 2.8-5.8 .5-11.6 .6 10.8 2.8-5.9 .5-10.9 .6 10.5 2.8-5.1 .5-11.2 .6 9.8 2.8-5.1 .5-9.6 .6 9.3 2.8-4.7 .5-9.5 .6 8.4 2.8-5.4 .5-8.2 .6 8.5 2.8-5.2 .5-8.2 .6 7.5 2.8-3.4 .5-8.2 .6 7.5 2.8-3.8 .5-8.7 .6 7.6 2.8-3.8 .5-7 .6 6 2.8-4.5 .5-6.1 .6 5.3 2.8-3.4 .5-7.3 .6 6.2 2.8-3.9 .5-6.3 .6 5.6 2.8-2.8 .5-4.5 .6 4.7 2.8 1.5 .5-1.1 .6 2 .2-5.4 .6 4.5 .2-.7 .3 5.3 .3-1.8 .3 .4 .3 2.4 .3 2.2 .3 3.7 .3-.5 .3 .3 .4 4.1 .2-3.3 .2 2.3 .2 4.4 .3 1.8 .2-3.1 .3 1.1 .1 4.2 .2 2.2 .2-3.4 .2 4.1 .2-.1 .2-.2 .2 1.8 .2 1.9 .2 2.7 .3-1.1 .3 4.9 .2 3 .3-.2 .3-3.2 .4 5.3 .4 1.1 .9-3.4 1 1.5 1 .7 .5 .7 .6-1.5 .3-3.6 .4-1.1 .4 1.5 .3-6.6 .4 .8 .4-4.5 .3 3.6 .4-2.2 .3-4.5 .3-1.5 .4 .9 .3 .2 .3-5.6 .3 0 .3 0 .2-3 .2 3.1 .3-2.4 .2 .3 .2-3.5 .2-1.1 .2-4.1 .2 .1 .2-1.9 .2-1.1 .2-4.3 .1 4.1 .2-6 .1 1 .1 2.2 .1-4 .2 1.4 .1-5.4 .1 .3 .1-1.7 .2-1.6 .1-.8 .1-.7 .2 1.6 .1-.2 .2-7.4 .1 2.9 .2-2.2 .1-2.1 .2-3.8 .1 1 .2-1.6 .1-1 .2 .2 .1-2.9 .2-1.9 .1-1.2 .1 3.8 .1-5.3 .1 3 .2-6.8 .1 2.4 .1-1.9 .1-.1 .1-2.5 .2 1.4 .1-3.1 .1-5 .1 3.4 .2-1.6 .1-3.7 .2 2 .1-.6 .2-5.2 .2-2.3 .2-.3 .1 .9 .2-2.3 .2-3.8 .2 1.5 .2-.5 .2-.9 .2-2.7 .3 1.7 .3-2.2 .2-4.3 .3-.7 .3 2.7 .3-6.2 .3 .3 .3-2.2 .3 .7 .3 .3 .3-5.9 .3-.7 .5-2.4 .5-1.1 .5 1.4 .6-1.5 .5 2.1 .6-4.5 1.3-1 1.4-4.3 1.6 1.2 1.8 1 1.7 .4 1.8 5 1.8-1.3 1.6-.7 1.5 4.1 1.4-2.6 1.3 1.5 1.3 5.7 1.2-3.7 1.1 8.2 1-1.6 1.1 8.9 .9 0 .9-6.2 .8 8.4 .7 5.1 .7-17 .7 7.7 .6 15.7 .6 2 .5-2.8 .5-6.4 .4 15 .4-6.6 .4 7.3 .1 5.2 .2-10.6 .1-.1 .2 2.9 .2 5.5 .1 10.8 .2-4.2 .2-1.4 .2 1.3 .2-3.5 .1-.7 .1 11.4 .1-1.4 .1-4.6 .1 15.6 .1-11.5 .2 4.7 .1 .4 .1 9.4 .1-7.7 .1 3.7 .1 2.2 .2-6.6 .2 10.9 .4 3.6 .5-10.2 .5 8 .3-8.6 .3 2.9 .2-7 .2 4.5 .2 0 .1-6.7 .2-5.5 .1 9.3 .2-.2 .1-4.4 .1-8.1 .1-10.5 .2 7.1 .1 5.6 .1 2.9 .1-12 .1-2.9 .1 .7 .1 2.8 .1-5.5 .1 1.5 .1-.4 .1 6.2 .1-4.8 .1-3 .1-6.6 .1 7.2 .1-11.4 .1-.7 .1 2.6 .1-.8 .1 0 .1-6.5 0 6 .1-7.2 .1 9.3 0-10 .1-.3 .1 7.4 .1-8.5 0 1.7 .1-.9 0-9.1 .1 5.1 .1 3.4 0-5.2 .1 4.4 0-10.7 .1 4.7 .1-2.8 0 2.4 .1-5.6 0-5.5 .1 7.5 0 1.2 .1-10.5 0-2 .1 .3 0 8 .1-5.2 0-9 .1-2.2 0 6.5 .1-5.5 0 2.8 .1-1.9 0 2.8 .1-1.1 0-5.6 .1 3.5 0-7.3 .1 5.6 0-6.7 .1 .8 .1-5.9 0 8.4 .1-3.8 0-3.5 .1-4.1 0 4.3 .1-.9 0-.3 .1-5.7 0 2.1 .1-9.6 0 5.7 .1-10 0 7.4 .1-8.1 .1 5.9 0-4.1 .1 .5 0-6 .1 .7 0 4.4 .1-6.3 0 .1 .1-4.5 .1 3.7 0 2.4 .1-11.2 .1 7.6 0-7.8 .1-12.9 0 19.8 .1-4.3 .1-5.3 .1-3.5 0 .7 .1 5.4 .1 1 .1-1.2 0-2.4 .1-6.8 .1 .8 .1-7.3 0 3.9 .1-5.5 .1-2.2 .1 3.5 .1-1 .1 1.1 .1-3.4 .1 .4 .1-2.3 0-.5 .1-1.4 .1-.9 .1-2.2 .1-1 .2-1.6 .1 .4 .1-3.1 .1 .5 .1-2.3 .1-1.6 .1 .7 .2-1.4 .1-2.7 .1-.9 .1 .2 .2-2.5 .1-.1 .1-1.7 .2-1.4 .1-1.9 .2-.5 .2-.3 .1-3.2 .2-.2 .1-1.1 .2-2.6 .2-.6 .3-1.5 .2-.1 .2-1.2 .2-1.3 .3-1.8 .2-.2 .3-1.3 .3-1.8 .3-3.1 .3-.9 .3 .4 .3-2.8 .3-.1 .3-.2 .4-2.7 .5-1 .4-1.5 .6-.6 .6-1.6 1.3-1.8 1.5 1 1.8-1.8 2.2 1.8 1.2-.9 1.2-.4 1.4 1 1.3 1.2 1 2.2 1-.7 .9-.2 1 1.5 1 1 1 1.4 .8-.4 .7 1.3 .8 .3 .7 1.4 .7 1.4 .8 1.7 .7-.7 .8 .9 .7 1.2 .7 1.8 .7 2.4 .7 1.4 .6-.2 .5 2.2 .6-.4 .5 1.2 .6 .8 .5 1.9 .5 .4 .4 2.8 .5 .9 .5 1 .5 1 .4 .3 .4 1.1 .4 1.9 .4 .4 .4 1.7 .4 .1 .5 2.2 .4 1.8 .4 .7 .4 .3 .4 1.1 .4 1.3 .4 1.2 .4 2.4 .4-.7 .4 2.6 .4 .1 .5 2.1 .4 1.6 .4 .5 .4 .6 .4 2.1 .3 .4 .4 1.8 .4 1.6 .4 .1 .4 1.7 .4 1.2 .4 1 .5 .6 .4 1 .4 2.9 .5-.6 .4 1.1 .5 .8 .5 3.7 .4-.6 .5 2.3 .5 .3 .6 1.9 .5 1.1 .6 .4 .5 1.5 .5 2.4 .5 .4 .5-.4 .5 2.8 .7 .1 .6 .1 .6 2.5 .6 1.8 .6 .4 .6 .1 .9 2.1 .9 .1 .8 1.2 .9 1.2 .9 2.4 .9 1.2 .9 .9 .9 1.8 .9 .1 1 3.1 .9-1.1 1 1.6 .9 1.4 .9-.5 1 3.1 .9-1.6 .9 2.5 1-.9 .9 1.9 .9 1.9 1 .3 .9-.1 1 2.9 .9-.8 .9 1.2 1 2.1 .9 1.6 1 .5 .9 1.7 .9 1.3 1 .5 .9 1.9 .6 .4 .7 2.8 .6 .3 .6-.2 .6 1.9 .6 .6 .7 2.3 .6 2 .6-.7 .5 2 .5 .1 .4 1.4 .5 1.2 .5 1.1 .5 1.2 .4 1.2 .5 1.2 .4 1.8 .4 1.1 .4-.7 .4 1.9 .4 1.7 .4 1.5 .4-.3 .4 .7 .4 2.3 .4 1.7 .4-.8 .4 1.5 .4 2.2 .3-.3 .4 1.5 .4 1.5 .4 1 .4 1.8 .4 1 .4 .5 .3 2.6 .4 .7 .4 1.8 .4-.6 .3 3.4 .4-.1 .3 1.9 .4 .8 .3 2.3 .4 1.1 .3 0 .3 .8 .4 .1 .3 1.4 .3 1.4 .3 2.6 .3-.2 .3 .7 .3 2.5 .2-.4 .4 1.4 .3 2 .3 2.8 .3-.3 .3 1.8 .3 1.3 .3 0 .3 2 .3 1 .2 1.5 .3 1.5 .3 1.6 .3 1.4 .2 1.3 .3 .6 .3 1.3 .2 .7 .2 3.2 .2 .3 .2 .3 .2 1.6 .3 0 .2 3.4 .2 1.1 .3 0 .2 .9 .2 .4 .3 3.1 .2-.3 .3 1.7 .2 2 .3 1.2 .2-.3 .3 1.7 .3 1.9 .2 1.3 .3 .5 .3 1.8 .3 1 .2 2.1 .3 1.3 .3 1.1 .2 .7 .2 1 .3 1.2 .2 .1 .2 2 .3 .8 .2 1.1 .3 .8 .2 1.1 .3 1.4 .2 1.9 .2 1.3 .3 .2 .2 1.2 .3 1.6 .2 .3 .2 2.3 .3 .2 .2 .4 .2 1.5 .3 1.6 .2 1.7 .2 0 .3 1.4 .3 1.4 .2 .6 .3 1.1 .3 2.7 .2-.1 .3 2.4 .2 1.4 .3 1.3 .2-.3 .2 2.1 .3 .4 .2 1.4 .2 1.5 .3 1.6 .1 1 .2 .7 .2 1.7 .2 1.5 .2 .5 .1 1.7 .2 .5 .2 2 .2 1 .1 .7 .2 .9 .2 1 .1 1 .2 .7 .2 2 .1 1.5 .2 .5 .2 1.2 .2 2 .2 0 .1 1.5 .2 2 .2 1 .3 .1 .2 1.7 .2 1.6 .3 .7 .3 2.1 .3 1.3 .3-.1 .4 2 .5-.1 1.7 .1 .4-2.1 .4-.1 .2-2.1 .3-1.2 .3 .1 .2-2.6 .3-.8 .2-1.9 .2-.3 .2-1.7 .2-.9 .2-.6 .2-1.6 .2-.9 .1-1.1 .2-2.4 .2-1.1 .2-1.4 .2-.2 .2-1.6 .1-2.1 .2-1.3 .2-1.5 .2-.7 .1-1.6 .2-.9 .1-1 .1-.8 .2-1.5 .1-1.4 .1-1.6 .2-.5 .1-2.3 .1-1.2 .1-.9 .1 .1 .1-2.7 .1 .1 .2-1.1 .1-1 .1-1.2 .1-1.7 .1-2.2 .1-1.1 .1-.2 .1-1.3 .1-1.6 .1-1.7 .2-.2 .1-2.3 .1-.8 .1-.7 .1-2 .1-.7 .1-1.7 .1-.4 .1-1 .1-2.6 .2-.4 .1-.2 .1-1.2 .1-2 .1-1.9 .1-1.2 .1 .2 .2-1.6 .1-2.1 .1 .3 .1-2.7 .1-.7 .1-.4 .1-2.4 .1-.2 .2-1.2 .1-.7 .1-1.7 .1-1 .1-1.2 .1-1.6 .1-.2 .1-1.8 .1-.6 .1-1.3 .1-.8 .2-1.2 .1-2.1 .1-.2 .1-1.3 .1-1.5 .1-1.8 .1-1.6 .2 .4 .1-1.6 .1-2.2 .1 .4 .1-1.6 .1-1.8 .1-1 .1 .1 .1-2.4 .1-1 .1-.6 .1-1.6 .2-1.6 .1-.4 .1-2.1 .1-1.4 .1 0 .2-.5 .1-.5 .1-4.8 .1-1 .1-.7 .1-1.5 .2-1.4 .1 .1 .1-1.5 .1 .9 .1-3.8 .1 .8 .2 .7 .1-4.9 .1-1.3 .1 .6 .2 .2 .1-3.3 .1-1.5 .1 1.1 .2-2.9 .1-.8 .1-.6 .2-1.6 .1-1.1 .1-.4 .2 .6 .1-1.1 .2-3.9 .2-2.7 .1 1.4 .2-2 .2-1.4 .2 .6 .2-4.8 .2 1.6 .2-1 .2-.8 .2-1.3 .2-2.1 .3-2 .2-.8 .3-2.5 .3-2.2 .4-.3 .4 .4 .3-1.1 .4-2.4 .4-2.9 .3-1.7 .4 .7 .4 1.2 .3-4.8 .7-1.6 .7-2.2 .6 1.2 .7-1.1 1.6-1.1 1.1-1.4 1.1 2.7 .6 2.6 .7-.3 .7 2.6 .7 .7 .7 2.5 .8-2.8 .7 4.8 .8 .1 .7 2.6 .7 .5 1.4 2.7 1.2 .8 1-1.2 .9-4.3 .4 .2 .4-.8 .4 .4 .4-2.8 .4-1.9 .4-.8 .4-2.5 .4 .1 .4-4.7 .5 1.7 .5-.7 .5-2 .5-1.2 .5 .6 .6-1.3 .6-2.9 .6 1.3 .6-4.4 .6 1 .6-3.4 .7 1.4 .6-2.2 1.3-2.4 1.3-.4 1.3-2.3 1.2 2.6 1.1-.8 2.2 1 1.3 .4 1.4 .5 .9-.9 .9 3 .7-.3 .7 3.7 .8-.4 .6 1.8 .7 1 .6 1.3 .7 .8 .6-.5 .6 .9 .6 1.6 .6 2.5 .6 .6 .6-.2 .5 2.1 .6 2.4 .5 .8 .6 .1 .5 3.5 .5-2 .6 2 .5 1.4 .5 .5 .5 .9 .5 2.1 .5 .1 .5 1.4 .5 .3 .6 .8 .5 1.2 .5 1.9 .5 1.7 .6 .9 .5 1 .5 .2 .5 1.9 .6 .4 .5 .8 .5 .6 .5 2.3 .5 .3 .6 1.5 .5 1 .5 .3 .5 .7 .5 1.2 .5 1.6 .6 .7 .6 .7 .5 1.4 .6 1.6 .6 .6 .5 2.2 .6 .2 .5 1.7 .6 .7 .5-.1 .5 1.3 .6 1.9 .5 .7 .5 .8 .5 .3 .6 1.1 .5 .8 .5 .6 .6 1.9 .7 1.1 .6 1.8 .6-.3 .6 1.2 .7 1.5 .6 2 .6 .5 .6 1.6 .6 1.4 .7 .1 .6 1.9 .6 .6 .6 1.4 .7 .2 .6 1.9 .7 .1 .6 1.8 .6 .5 .7 1.6 .8-.1 .8 2.2 .9 1.1 .8 0 .8 1.6 .9 1 .9 .5 .8 .9 .9 .8 .9 .7 .9 .7 1-.1 1.2 .8 1.3 2.2 1.3-.1 1.3 1.3 1.3-.1 1.3 .8 1.3-.1 1.4 1.2 1.3-.3 1.3 .8 1.4-.2 1.3 .7 1.3 .3 1.3 .2 1.3-.1 1.3-.4 1.3 1 1.2 .3 1.2 1 1.2-.7 1.2 1.5 1.2 .2 1.1-.6 1.2 0 1.1 .8 1.2 1.3 1.1-.4 1.1 .5 1.1 .1 1.1 .8 1.1-1.3 1.1 .5 1 1.3 1.6-.3 1.6-.3 1.5 1.6 1.5 .6 1.4-.2 1.4 .4 1.4 1.3 1.4-.6 1.2 2.1 1.3 .1 1.2 1.1 1.1-.7 1.1 2.3 1.1-.7 1.1 1.2 1 1.3 1 1 1-.3 1 2.4 1 .2 1 2.5 1 .3 .7 1.4 .6 0 .7 1.6 .7 1 .7 2.4 .7 0 .5 1.3 .5 1 .6 .9 .5 1.4 .5 1.9 .5-.2 .5 1.2 .6 1.8 .5 2.2 .5-.2 .5 2.3 .5 1.4 .4 .1 .4 2.3 .4 .8 .4-.4 .4 1.7 .5 1.3 .5 1.9 .5 .6 .4 1.1 .5 .9 .5 2.3 .4 .8 .5 1.7 .4 .6 .5 1.5 .4 .9 .5 .1 .5 1.1 .6 1.5 .6 1.9 .5 2.2 .6-.1 .5 1.3 .6 1.2 .5 2.1 .5 1.4 .6 1.7 .5 1 .5 .6 .5 2.2 .4-.3 .5 2.6 .5 .7 .4 1.6 .4-.3 .6 1.1 .5 1.3 .5 1.4 .5 .8 .7 2.6 .8 1.5"/>
<path stroke="#800080" stroke-width="1.5" d="M324 480.5l.6-4.6 .5-19.6 .6 10.3 2.8-11.7 .5-13.8 .6 13.6 2.8-7.1 .5-12.6 .6 12 2.8-5.8 .5-11.6 .6 10.8 2.8-5.9 .5-10.9 .6 10.5 2.8-5.1 .5-11.2 .6 9.8 2.8-5.1 .5-9.6 .6 9.3 2.8-4.7 .5-9.5 .6 8.4 2.8-5.4 .5-8.2 .6 8.5 2.8-5.2 .5-8.2 .6 7.5 2.8-3.4 .5-8.2 .6 7.5 2.8-3.8 .5-8.7 .6 7.6 2.8-3.8 .5-7 .6 6 2.8-4.5 .5-6.1 .6 5.3 2.8-3.4 .5-7.3 .6 6.2 2.8-3.9 .5-6.3 .6 5.6 2.8-2.8 .5-4.5 .6 4.7 2.8 1.5 .5-1.1 .6 2 .2-5.4 .6 4.5 .2-.7 .3 5.3 .3-1.8 .3 .4 .3 2.4 .3 2.2 .3 3.7 .3-.5 .3 .3 .4 4.1 .2-3.3 .2 2.3 .2 4.4 .3 1.8 .2-3.1 .3 1.1 .1 4.2 .2 2.2 .2-3.4 .2 4.1M441.2 297.1l1.4-2.6 1.3 1.5 1.3 5.7 1.2-3.7 1.1 8.2 1-1.6 1.1 8.9 .9 0 .9-6.2 .8 8.4 .7 5.1 .7-17 .7 7.7 .6 15.7 .6 2 .5-2.8 .5-6.4 .4 15 .4-6.6 .4 7.3 .1 5.2 .2-10.6 .1-.1 .2 2.9 .2 5.5 .1 10.8 .2-4.2 .2-1.4 .2 1.3 .2-3.5 .1-.7 .1 11.4 .1-1.4 .1-4.6 .1 15.6 .1-11.5 .2 4.7 .1 .4 .1 9.4 .1-7.7 .1 3.7 .1 2.2 .2-6.6 .2 10.9 .4 3.6 .5-10.2 .5 8 .3-8.6 .3 2.9 .2-7 .2 4.5 .2 0 .1-6.7 .2-5.5 .1 9.3 .2-.2 .1-4.4 .1-8.1 .1-10.5 .2 7.1 .1 5.6 .1 2.9 .1-12 .1-2.9 .1 .7 .1 2.8 .1-5.5 .1 1.5 .1-.4 .1 6.2 .1-4.8 .1-3 .1-6.6 .1 7.2 .1-11.4 .1-.7 .1 2.6 .1-.8 .1 0 .1-6.5 0 6 .1-7.2 .1 9.3 0-10 .1-.3 .1 7.4 .1-8.5 0 1.7 .1-.9 0-9.1 .1 5.1 .1 3.4 0-5.2 .1 4.4 0-10.7 .1 4.7 .1-2.8 0 2.4 .1-5.6 0-5.5 .1 7.5 0 1.2 .1-10.5 0-2 .1 .3 0 8 .1-5.2 0-9 .1-2.2 0 6.5 .1-5.5 0 2.8 .1-1.9 0 2.8 .1-1.1 0-5.6 .1 3.5 0-7.3 .1 5.6 0-6.7 .1 .8 .1-5.9 0 8.4 .1-3.8 0-3.5 .1-4.1 0 4.3 .1-.9 0-.3 .1-5.7 0 2.1 .1-9.6 0 5.7 .1-10 0 7.4 .1-8.1 .1 5.9 0-4.1 .1 .5 0-6 .1 .7 0 4.4 .1-6.3 0 .1 .1-4.5 .1 3.7 0 2.4 .1-11.2 .1 7.6 0-7.8 .1-12.9 0 19.8 .1-4.3 .1-5.3 .1-3.5 0 .7 .1 5.4 .1 1 .1-1.2 0-2.4 .1-6.8 .1 .8 .1-7.3 0 3.9 .1-5.5 .1-2.2 .1 3.5"/>
<path stroke="#800000" stroke-width="1.0" d="M324 486.3l.3 .8 .5-21.3 .6 9.4 2.8-14 .5-14.8 .6 13.4 2.8-5.8 .5-12.5 .6 11.6 2.8-6.4 .5-11.4 .6 11.8 2.8-7.1 .5-10.9 .6 11.4 2.8-6.3 .5-11 .6 10.1 2.8-4.5 .5-11 .6 9.7 2.8-5 .5-9.4 .6 8.6 2.8-5.7 .5-8.5 .6 7.8 2.8-4.7 .5-8.5 .6 8.8 2.8-5.1 .5-7.6 .6 6.9 2.8-4.3 .5-7.8 .6 8.1 2.8-4 .5-8.1 .6 6.6 2.8-4.7 .5-6 .6 5.5 2.8-4.7 .5-5.6 .6 5.4 2.8-4.6 .5-6.2 .6 5.7 2.8-3.7 .5-4.7 .6 3.5 2.8 1 .5-1.6 .6 3.4 .5 .8 .3-1.8 .3-.6 .3-.4 .2 4.7 .3 .7 .3 .8 .3 5.3 .3 .4 .3-3.6 .4 6.9 .3-4.7 .3 6.1 .3-1.2 .2 4.1 .3 2.7 .2-1.5 .2 3.1 .3-3.5 .2 5.4 .2-2.6 .2 3.5 .2 .3 .2-.6 .2 5.9 .2-3.4 .2 2.3 .2-.1 .2 5.2 .2-1.4 .2-.7 .3 1.1 .2 2.6 .3 3.2 .5-2.1 .4 1.4 .9 5.7 1.1-1.8 1-3.7 .6 0 .5-2.5 .4-.1 .4-.2 .4-2.3 .4-1.4 .3-1 .4-.7 .4 .4 .3 1 .4-3 .3-2.7 .4-4.4 .3 0 .3 1.8 .3-2.8 .3 1.9 .2-.8 .3-5.5 .2-.7 .2-1.7 .2 1.3 .2-5.3 .2 0 .2 2.9 .2-4.9 .1 2.8 .2-5.4 .2 1.8 .1-4.1 .2-4 .1 2 .2-3.7 .1 3.9 .1-2.7 .1-2.3 .1 1.6 .2-3.7 .1 1.8 .1-2.9 .1-4.9 .2-.4 .1 2.7 .2-6.4 .1 4.9 .2-7.8 .1 3.7 .2-2.2 .1-2.8 .2 0 .1-1.4 .1-2.9 .2-1.7 .1-2.7 .1 3.1 .1 .4 .1-4.6 .2 2.2 .1-4.3 .1-2.2 .1 2.7 .1-.3 .2-6.9 .1 4.3 .1-5 .2 2.1 .1-4.5 .1 3.5 .2-6 .2-2.2 .1-2.5 .2-.7 .2-1.6 .2 3.9 .2-6.9 .2-.5 .1-.3 .2-1.8 .2 3.2 .2-6.4 .2 3.6 .2-3.4 .2-2.5 .3-.9 .3 .7 .3-3.4 .2-.4 .3-1.4 .3-.3 .3-.1 .3-4.2 .3 1 .3-.4 .3-4.1 .3 2.1 .5-6.3 .6 1.4 .5-2.2 .6-2.8 1.2 2 1.4 .5 1.5-2.8 1.7-.4 1.7 4.7 1.7 1.8 1.7-1.1 1.7 .9 1.4 2.2 1.4 1.9 1.3 1.1 1.3 .1 1.2 3.7 1.2 1.6 1.1 1.4 1.1-2.1 .9 3.7 .9 1.3 .9 8.1 .8 1.6 .7 2.5 .6-8.3 .7 13.6 .5-10.6 .6 2.2 .5-13.2 .4 22.6 .4 2.5 .4 4.1 .3 2.8 .3-1.9 .2 1.7 .1 5.6 .2-7.6 .2 3.1 .2 5.5 .2 4.2 .1-8 .1 12.2 .1-1.1 .1-6 .1 4.6 .1 .3 .2 7.6 .1-2 .1-4.6 .1 4.3 .1 8.7 .1-11.6 .2 13.1 .2 1.7 .4-9.6 .5 9.3 .5-6.7 .3-7.2 .3 9.5 .2-11.7 .2 5.2 .2-7.1 .1 7.3 .2-4.6 .1-4.1 .2 4.3 .1-5.1 .2-3.6 .1 5.6 .1-7.7 .1 3.4 .1 7.7 .2-18.7 .1 9.4 .1-14.1 .1 14.8 .1-9.5 .1 1.2 .1-5.2 .1 1.3 .1 1.4 .1-17.8 .1-.4 .1 10.2 .1-3.6 .1-2 .1 9.8 .1-5 0-6.2 .1 5.8 .1-10.3 .1-4.8 .1 7.6 0 3.3 .1 1 .1-12.9 .1 7.4 0-9.5 .1 .7 0-8.5 .1 10.6 .1 3.5 0-9.3 .1-5.9 0 4.8 .1-3.4 .1 1.2 0-22.7 .1 25.9 0-6.6 .1-6.4 0 10.2 .1-10.3 0-4.3 .1 12.3 0-7.4 .1-7.5 0-.7 .1-13.6 0 11.5 .1 9 0-.5 .1-9.9 0-3.6 .1 3.7 0-3.4 .1-13.2 0 19.6 .1-2.6 0-9.2 .1 3.7 0 .3 .1 3.3 0-4.7 .1 2.9 0-4.5 .1 1.6 0-7.1 .1 .5 0-6.8 .1 8.2 0-3.2 .1-.9 0-10.6 .1 1.3 0-3.9 .1-6.3 0 9.9 .1-4.4 .1 1.7 0 4 .1-8.1 0 6.1 .1-9.9 0 6.1 .1-2.1 .1-1.1 0-9.4 .1 .8 .1 3 0-9.7 .1 3.3 0 9.4 .1-2.4 .1-16 .1 4.8 0 9 .1-11.8 .1 1.7 0 2.1 .1-10.1 .1 4.9 .1-10.8 .1 7.9 0-4.9 .1 8.8 .1-6.7 .1 1 .1-3 .1-.8 0-1.8 .1-.7 .1-1.4 .1 .4 .1-.6 .1-3.3 .1-.8 .1 .3 .1-1.9 .1-.5 .1-2.6 .2-1.9 .1-.3 .1-1.3 .1-1.8 .1 .2 .1-.9 .2-1.6 .1-.8 .1-1 .1-.9 .2-1.6 .1-2.3 .2 .3 .1-1.2 .2-1.3 .1-.9 .2-3.5 .1 1.1 .2-1.1 .2-2.6 .2-1.7 .2 .3 .2-1.1 .3-2.3 .2-2.1 .2-.9 .3-.7 .3-.5 .3-1 .3-3.1 .3-1.3 .3 .2 .3-1.6 .4-1.4 .5-.4 .4-3.6 .5 .4 .6-1.7 .5-.5 1.3-2.2 1.5 .7 1.8-1.3 2.1 .6 1.3 .8 1.2-.1 1.4-.1 1.3 1.7 1-.3 .9 1.6 1 1.2 1 1.3 1-.1 1 .9 1 1.1 1 1.1 1 .3 .7 1.3 .8 .1 .7 1 .8 2.8 .7-.6 .7 .9 .7 3.6 .7-1.1 .6 1.1 .5 1.2 .6 2 .5 1.3 .6 .4 .5 2.5 .5 1.2 .4 .3 .5 .5 .5 1 .5 3.1 .4-.7 .4 3 .4-.3 .4 2.7 .4-.5 .4 2.1 .5-.6 .3 1.8 .4 2.2 .3 1.4 .4 1 .4 1.1 .3 1.2 .4 .3 .3 .4 .4 .4 .3 2.2 .4 1.5 .4 .4 .3 .2 .4 2.1 .3 1.1 .4 .5 .4 .5 .3 2.6 .4-.3 .4 .8 .4 2.8 .4 .9 .4 2.2 .4-.7 .3 1.1 .4 2.4 .4 .4 .3 1.7 .4 .9 .4 .6 .5 .1 .5 1.9 .4 2.5 .5-1.3 .5 2.9 .6 1.8 .5 .7 .6 .6 .5 1.6 .5 .7 .5 .7 .5 2.6 .5 .8 .7-.5 .6 .7 .6 3 .6 .2 .6 1.3 .6 0 .9 3.4 .9 1.2 .8 .6 .9 2 .9-1.1 .9 2.5 .9 0 .9 3.2 .9 .3 1 1.7 .9 .2 1 .2 .9 1.3 .9 1.5 1 1.2 .9 1.4 .9 .4 1 .8 .9 1 .9-.4 1 1.5 .9-.1 1 1.6 .9 2.3 .9-.3 1 1.1 .9 1.5 1 .3 .9 1.9 .9 .9 1 2.2 .9 .6 .6 2.5 .7 .3 .6 1.4 .6-.1 .6 1.8 .6 2.1 .7 1 .6-.1 .6 1.7 .5 1 .5-.2 .4 2.8 .5-.5 .5 1.7 .5 .1 .4 2.8 .5 1 .4 1.8 .4-.8 .4 .7 .4 .9 .4 .9 .4 3.2 .4-.2 .4 .7 .4 2.1 .4 .6 .4 2.7 .4-1.1 .4 3.2 .4 .8 .4 1.9 .3-.6 .4 2.3 .4-.4 .4 3 .4-.4 .4 1 .3 2.5 .4 2.1 .4 .8 .3 1.3 .4 1 .3 1.1 .4 1.6 .3-.9 .4 1.8 .3 .7 .3 1 .4 3.3 .3-1.1 .3 3.5 .4-.4 .3 1.9 .4 .8 .3 2.1 .3 .8 .4 .8 .3 .8 .3 3.4 .3-.9 .3 3 .2 1.6 .3-.8 .3 1.3 .3 2 .2 2.3 .3-.2 .3 1.1 .2 2.8 .3 1.7 .2-.3 .3 3.1 .3-1.2 .2 2.6 .3 1.2 .3 2.3 .3 1.7 .2 .3 .3 1.8 .3 .8 .2-.1 .2 3 .3-.5 .2 1.4 .3 2.4 .3 1.2 .2 .8 .3 .8 .3 .9 .3 1.2 .2 .9 .3 1.2 .3 1.3 .3 2.1 .2 1.2 .3 1.7 .2 .9 .3 .3 .2 .5 .3 2.1 .2 1.4 .3 .1 .2 .9 .3 2.7 .2 .5 .3 .5 .2 1.8 .3-.1 .2 1.5 .3 2.2 .2 .3 .3 1.6 .2 1.2 .2 .9 .3 .6 .2 1 .3 1.3 .2 1.6 .3 .8 .3 .4 .2 2.1 .3 1.3 .3 1.4 .2 1 .3 1.3 .3 1.8 .2 1.1 .3 .4 .2 .8 .2 2.6 .3 .8 .2 .2 .3 2.1 .2 1.4 .1 1.7 .2 0 .2 .7 .2 1.7 .2 .5 .2 2.4 .2-.1 .2 2.7 .1-.7 .2 2.3 .2 1.8 .2-.3 .1 1.2 .2 .8 .2 1.9 .2 1.1 .1 .6 .2 1.8 .2 .9 .2 1.3 .2 1.6 .2 .5 .3 1.6 .2 1.5 .3 .6 .2 1.4 .3 2 .3 0 .4 1.4 .9 2.6 1.7-.5 .4-2.4 .4-.4 .3-2.5 .2-.9 .3-.7 .2-1.7 .3-1.3 .2-.8 .2-1 .2-1.5 .2-1.2 .2-2.3 .1 .3 .2-1.5 .2-2.4 .2-.5 .2-1.9 .1-1.5 .2-.4 .2-1.1 .2-1 .1-2.1 .2-1.9 .2-1 .1-1 .2-1.7 .1 .4 .1-2.4 .1-.2 .2-2.2 .1-.4 .1-1.9 .1-1.5 .2-.6 .1-1.7 .1-1.1 .1-.2 .1-1.8 .1-.6 .1-1.2 .1-1.2 .1-1.1 .1-1 .1-2.8 .1-.5 .1-1 .1-1.2 .1-2.1 .2-.6 .1-.5 .1-2.2 .1-1.6 .1-.4 .1-1 .1-1.4 .1-.6 .1-1.1 .1-2 .1-.5 .1-1 .1-2.3 .1-1.6 .2 .1 .1-1.1 .1-2.3 .1-.2 .1-1.5 .1-1.7 .1-1.5 .1-1 .2 .2 .1-2.4 .1 .1 .1-2.3 .1-1.1 .1 0 .1-2.2 .1-.8 .1-.7 .1-2.3 .1-1 .2-.4 .1-1.3 .1-1.3 .1-.3 .1-2.6 .1-.7 .1-1 .1-.3 .2-1.7 .1-1.7 .1-.2 .1-1.3 .1-1.3 .1-1.1 .1-1.1 .1-2.2 .1-.6 .1-1.2 .1-1.4 .1-1.5 .2-1.2 .1-.9 .1-1.4 .1 .2 .1-.5 .1-2 .2-1.3 .1-2.3 .1-2.3 .1 2.4 .1-1.9 .2-3.8 .1 .9 .1-2.8 .1-1.6 .1-.3 .1 .4 .2-1.3 .1-1.1 .1-.3 .1-.8 .1-2.8 .2 .7 .1-4.6 .1 1.9 .1-3.4 .2-.7 .1-.6 .1-1.6 .2-1.4 .1-1.1 .1-2.2 .2-1.4 .1 2.2 .2-4 .1 .7 .2-2.5 .2-.3 .2-.9 .2-1.8 .2 .3 .2-2.3 .2-1.7 .2-3.2 .1 0 .2 .7 .2-2.1 .3-.3 .2-3.4 .3 .5 .3-3.5 .4-1.2 .4-.5 .3-2.1 .4-1.9 .4-.1 .3-2.9 .4 1.9 .4-2.9 .3 .5 .7-1.8 .6-2.3 .7-1.8 .7 .9 1.6-2.5 1.1-1.2 1.1 3.5 .6-.5 .7 2.9 .7 1.2 .7 .8 .7 1.1 .8 0 .7 3 .8-.9 .7 4.8 .7-2 1.4 .9 1.2 1.2 1 2.4 1-2.6 .4-3.1 .4 1.3 .4-1.6 .4-2.9 .3-2.3 .4 1.2 .4-5.1 .4-.8 .5 .2 .4-4.1 .5 1.9 .5-2 .5-.5 .6-4.2 .6-.8 .5 2.2 .6-4.4 .6 0 .7-2.4 .6 1 .6-1.2 .7-.4 1.3-2.7 1.3-2.2 1.3 1.5 1.2-2.7 1.1 2 2.2 .3 1.2 1.1 1.5-.1 .8 2 .9-.6 .8 2.9 .7 1.8 .7-1 .7 1.5 .6 1.9 .7 2.3 .6-1.2 .7 0 .6 2.9 .6 2 .6 1.2 .6 1.6 .6 1.6 .6-1.2 .5-.4 .6 1 .6 3.7 .5-.1 .5 2.5 .5 1 .6 .8 .5-.2 .5 1.5 .5 2.4 .5-.3 .6 .7 .5 1.7 .5 1.3 .6 1 .5 1.9 .5-.2 .6 1.8 .5 .6 .5 1.6 .6 .7 .5 1.8 .5 1.4 .6 .7 .5 .1 .5 1.2 .5 1.3 .6 .3 .5 2.6 .5 .4 .5 1.6 .5 .6 .6 1.5 .6 .7 .6 1.2 .5 .7 .6 .7 .6 1.5 .5 1 .6 .5 .5 1.5 .6 1.1 .5 1 .6 .5 .5 .5 .5 1.7 .5 .3 .6 2.4 .5-.2 .5 1.8 .7 .8 .6 .8 .6 1.5 .6 1.4 .6 1.1 .7 .1 .6 1.6 .6 1.2 .6 2.1 .7 .8 .6 .1 .6 2.4 .6 .4 .7 .7 .6 1.6 .6 0 .7 1.6 .6 .5 .7 1.4 .6 1.5 .8-.2 .9 .9 .8 2.7 .8 1.1 .9-.3 .9 .7 .8 1.4 .9 1.6 .9 .1 .9 1.3 1 .6 .9 1.2 .9-.4 1 .5 1 .2 1 .3 1.3 1.7 1.3 .5 1.4 .8 1.3-.1 1.4-.4 1.3 1.8 1.4 .1 1.3-1.3 1.4 1.3 1.3 .9 1.3-1 1.4 1.3 1.3 .3 1.3 .5 1.2 .4 1.3-1.1 1.2 .1 1.2 .8 1.2 .9 1.1 .2 1.2-.1 1.2 1.1 1.1 .3 1.2 .7 1.1-1.1 1.1 0 1.2 .3 1.1 1.3 1.1-.8 1.1 .3 1.5 .3 1.6 .4 1.5 .6 1.6 .4 1.4 1.4 1.4 .3 1.4 .2 1.3 1.1 1.3 1.5 1.2 0 1.2 1 1.1 .7 1 .1 1.1 .8 .9 1.7 1 1.2 1 .9 .9 1 .9-.3 1 2 .9 .5 .9 1.7 .7 .9 .6 1.5 .7 .4 .7 1.8 .7 .8 .6 2.3 .6-.2 .5 2.7 .5 .9 .5 .8 .5 1.6 .6 .3 .5 2.3 .5 1.1 .4 0 .4 1 .4 1.2 .5 1 .4 .8 .4 1.9 .4 1.1 .4 .9 .4 .5 .4 .6 .5 1.3 .5 2.4 .5 1.1 .5 1.7 .4 .8 .5 .3 .5 1.8 .4 2 .5 .8 .4 1.4 .5 1 .4 .4 .6 1.5 .5 1.8 .6 1.2 .6 .6 .5 1.3 .6 1.3 .5 1.6 .5 .9 .6 2.5 .5 1.3 .5-.2 .5 2.4 .5 1.1 .5 1 .4 .8 .7 1.5 .6 1.5 .6 .7 .5 1.1 .5 1.5 .4 .5 .6 2.7 .6-.3 0-.8"/>
<path stroke="#800000" stroke-width="1.5" d="M324 486.3l.3 .8 .5-21.3 .6 9.4 2.8-14 .5-14.8 .6 13.4 2.8-5.8 .5-12.5 .6 11.6 2.8-6.4 .5-11.4 .6 11.8 2.8-7.1 .5-10.9 .6 11.4 2.8-6.3 .5-11 .6 10.1 2.8-4.5 .5-11 .6 9.7 2.8-5 .5-9.4 .6 8.6 2.8-5.7 .5-8.5 .6 7.8 2.8-4.7 .5-8.5 .6 8.8 2.8-5.1 .5-7.6 .6 6.9 2.8-4.3 .5-7.8 .6 8.1 2.8-4 .5-8.1 .6 6.6 2.8-4.7 .5-6 .6 5.5 2.8-4.7 .5-5.6 .6 5.4 2.8-4.6 .5-6.2 .6 5.7 2.8-3.7 .5-4.7 .6 3.5 2.8 1 .5-1.6 .6 3.4 .5 .8 .3-1.8 .3-.6 .3-.4 .2 4.7 .3 .7 .3 .8 .3 5.3 .3 .4 .3-3.6 .4 6.9 .3-4.7 .3 6.1 .3-1.2 .2 4.1 .3 2.7 .2-1.5 .2 3.1 .3-3.5 .2 5.4 .2-2.6 .2 3.5M440.8 302.2l1.4 1.9 1.3 1.1 1.3 .1 1.2 3.7 1.2 1.6 1.1 1.4 1.1-2.1 .9 3.7 .9 1.3 .9 8.1 .8 1.6 .7 2.5 .6-8.3 .7 13.6 .5-10.6 .6 2.2 .5-13.2 .4 22.6 .4 2.5 .4 4.1 .3 2.8 .3-1.9 .2 1.7 .1 5.6 .2-7.6 .2 3.1 .2 5.5 .2 4.2 .1-8 .1 12.2 .1-1.1 .1-6 .1 4.6 .1 .3 .2 7.6 .1-2 .1-4.6 .1 4.3 .1 8.7 .1-11.6 .2 13.1 .2 1.7 .4-9.6 .5 9.3 .5-6.7 .3-7.2 .3 9.5 .2-11.7 .2 5.2 .2-7.1 .1 7.3 .2-4.6 .1-4.1 .2 4.3 .1-5.1 .2-3.6 .1 5.6 .1-7.7 .1 3.4 .1 7.7 .2-18.7 .1 9.4 .1-14.1 .1 14.8 .1-9.5 .1 1.2 .1-5.2 .1 1.3 .1 1.4 .1-17.8 .1-.4 .1 10.2 .1-3.6 .1-2 .1 9.8 .1-5 0-6.2 .1 5.8 .1-10.3 .1-4.8 .1 7.6 0 3.3 .1 1 .1-12.9 .1 7.4 0-9.5 .1 .7 0-8.5 .1 10.6 .1 3.5 0-9.3 .1-5.9 0 4.8 .1-3.4 .1 1.2 0-22.7 .1 25.9 0-6.6 .1-6.4 0 10.2 .1-10.3 0-4.3 .1 12.3 0-7.4 .1-7.5 0-.7 .1-13.6 0 11.5 .1 9 0-.5 .1-9.9 0-3.6 .1 3.7 0-3.4 .1-13.2 0 19.6 .1-2.6 0-9.2 .1 3.7 0 .3 .1 3.3 0-4.7 .1 2.9 0-4.5 .1 1.6 0-7.1 .1 .5 0-6.8 .1 8.2 0-3.2 .1-.9 0-10.6 .1 1.3 0-3.9 .1-6.3 0 9.9 .1-4.4 .1 1.7 0 4 .1-8.1 0 6.1 .1-9.9 0 6.1 .1-2.1 .1-1.1 0-9.4 .1 .8 .1 3 0-9.7 .1 3.3 0 9.4 .1-2.4 .1-16 .1 4.8 0 9 .1-11.8 .1 1.7 0 2.1 .1-10.1 .1 4.9 .1-10.8 .1 7.9 0-4.9 .1 8.8"/>
<path stroke="#008000" stroke-width="1.0" d="M324 492.2l.5-16.6 .5 8.8 2.9-17.9 .5-14.3 .5 12.5 2.9-5.3 .5-12.5 .5 11.7 2.9-5.8 .5-12.2 .5 10.7 2.9-5.4 .5-11 .5 9.8 2.9-4.6 .5-11.6 .5 10.1 2.9-5.8 .5-8.9 .5 9.2 2.9-5.1 .5-10.1 .5 8.2 2.9-4.7 .5-9 .5 8 2.9-3.7 .5-9.5 .5 7.8 2.9-3.7 .5-9.2 .5 8.8 2.9-5.1 .5-7.6 .5 6.9 2.9-4.2 .5-7.8 .5 6.4 2.9-3.5 .5-7.7 .5 6.7 2.9-5.5 .5-5.4 .5 5.4 2.9-4.9 .5-5.9 .5 4.7 2.9-3.9 .5-5.7 .5 4.4 2.9-1.4 .5-2.7 .5 4.8 .9 .2 .3-2.2 .3 .8 .3 1.9 .3 .8 .3 5.7 .2-2.8 .4-1.1 .3 2 .3 6 .3 3.5 .4-1.9 .3 1.6 .3 1.6 .2 2.6 .3-2.4 .2 3.8 .1 .8 .2 1.6 .2-2 .2 1.2 .2 2.5 .2 5.2 .2-2.8 .2 3 .2-.8 .2-.2 .3 1 .2 6.4 .2 .9 .2-1.6 .2 3.3 .3 1.3 .3 2.9 .3 1.7 .5-2.4 .4 5.5 1 1.3 1-3.2 1.1 1.4 .6-3.9 .6-1.9 .6-2.4 .6 2.9 .4-6.1 .4-1.8 .4 4 .3-1.5 .4-3.3 .4 1.3 .3-6.8 .4 .2 .3-1 .3-.3 .3-2.9 .3-1.8 .2 .7 .3 2.8 .2-.6 .2-2.8 .2-3.1 .2-2.8 .2 3.7 .2-4.3 .2 .2 .1-6.2 .2-.1 .1 3.1 .2-1.7 .1-.7 .1-3.4 .2-2.6 .1-.4 .2 .5 .1-4.9 .1 .5 .1-3 .1 2.4 .2-6.5 .1 3.6 .1 .7 .2-7.6 .1 2.7 .2-.9 .1 .3 .2-3.1 .1-3.7 .2-.3 .1 2.6 .1-1.7 .2-6.5 .1-1.4 .1-1.1 .1-1.6 .1 1.8 .1-3.3 .2 4 .1-2.7 .1-4.8 .1 1.7 .2-2.6 .1 0 .1-3 .1-1.5 .2-1 .1 .2 .1 1.2 .2-2.2 .1-4.6 .1 3.5 .2-.1 .2-2 .1-1.2 .2-6.8 .2 2 .2-4 .2 3.7 .2-5.3 .2 2.6 .2-4.4 .1 2 .2-3.8 .2-3.1 .2 1.3 .2-1.7 .2 3 .2-5.3 .2 .3 .2-.8 .2 1.7 .3-7.4 .3 2.1 .3-2 .3 .3 .3 .3 .3-5.8 .3 1.6 .3-2.3 .4-.9 .5-4.8 .5 3.9 .6 .2 .6-5.3 1.3-1.3 1.5 4.5 1.6-5.7 1.7 .7 1.6 1.3 .9 5.9 .8 .3 1.6-.7 1.4 2.9 1.4-4.7 1.3 7.7 1.3-.5 1.3 2.5 1.2 .5 1.2 1.5 1.1-3 1 4.6 .9 9.9 .9-3 .4 0 .4 4.5 .3-6.6 .4 6.8 .3 6.6 .4-2.6 .3 1.6 .3 1.5 .6-4.2 .6 4 .5 8.2 .4-4.3 .4 1 .4-.4 .3 1 .3 14.1 .3 2.3 .2-2.5 .2-4.1 .2 6.2 .2 5.2 .1-8.6 .1-.3 .1 1.8 .1 2.3 .1 10.6 .1-5.8 .2-1 .1 2.7 .1-1.5 .2-.6 .1 14.3 .2-11.7 .2 1.5 .4 10.4 .5-11 .5 0 .3 3.5 .3-2.7 .2 4.5 .2-16.5 .2 8.3 .2-3.7 .1 7.4 .2-2.8 .1-10.5 .2 8.2 .1-5.5 .1 1.1 .2-3.1 .1-3 .1-1 .1 2.7 .1-12.6 .1 11.1 .1-22 .1 17.1 .2 1 .1-9 .1 4.8 .1 .9 .1 .2 .1-17 .1 10.8 .1-6.2 .1 3.2 0 3.8 .1-.4 .1-10.9 .1 8.4 .1-1 .1-8.3 0 6.5 .1-14 .1 7.3 0 .9 .1-9.4 .1 4.1 0-5.7 .1 3.7 0 1.4 .1-12.7 .1 2.5 0 7.7 .1-16.6 0 11 .1-.1 .1-3 0-1.3 .1-5.1 0 4.5 .1 .3 0-8.1 .1 .6 0-2.8 .1 5.3 .1-3.2 0 1 .1 2.4 0-9.7 .1 1.6 0 4.7 .1-11.9 0 7 .1-11.7 0 9.6 .1-6.2 0 1.2 .1-.2 0-.4 .1-8.1 0 6.5 .1-9.5 0-.1 .1 3.9 0 1.6 .1-3.2 0-7.6 .1 2.7 0-5 .1 .5 0-.7 .1-3.6 0 2 .1 5.3 0-13.2 .1 6.8 0-2.5 .1-3 0 2.5 .1-5.3 .1 2.9 0-2.9 .1 2.1 0-5.3 .1 .6 .1-8.2 0-.1 .1 1.1 0-14.3 .1 9.4 .1 8.5 0-11.5 .1-1.1 .1 7.8 0-2 .1-9.8 .1-5 .1 9.6 0-1.9 .1-8.3 .1 3.2 .1-.6 0-5.7 .1 10.9 .1-6.4 .1-2.1 .1 .8 .1-3.3 0 1.2 .1-1.6 .1-1.3 .1-1.6 .1-2.1 .1-.7 .1-.3 .1-1.2 .1-1.8 .1-.1 .1-3.2 .1-.6 .1-1.7 .1-.6 .2 0 .1-1.3 .1-2.9 .1-.9 .2-1.8 .1 .1 .2-1.9 .1-1.7 .2-.8 .1 .1 .2-2.3 .1-.5 .2-1.5 .2-1.8 .2-1.1 .2-1.8 .2-1.7 .2-.4 .2-1.7 .2-1.2 .3-1.5 .2 .8 .2-2.3 .2-1.7 .3-1.8 .3-.8 .3 .4 .3-2.5 .3-.3 .3-2.3 .4-.3 .5-2 .4-.4 .5-1.6 1.1-2.2 1.2-1.5 1.5 .2 1.8 .5 2.1 0 1.3-.2 1.2 0 1.4 2.2 1.3 .5 1-1.1 .9 2 1 .9 1 .5 1 1.6 1 .6 1-.6 1 3 1-.7 .7 1.1 .8 2.5 .7-1.2 .8 1.6 .7 1.7 .7 .2 .7 1.1 .7 2.5 .6 .7 .5 1.4 .6 1.3 .5 1.3 .6 1.2 .5 1 .5 1.6 .4-.1 .5 1.7 .5 .7 .5 2.4 .4 .3 .4 .6 .4 1.7 .4 .2 .4 .7 .4 1.8 .5 .5 .3 .7 .4 1.3 .3 2 .4 1.9 .4-.8 .3 2.6 .4-.3 .3 2.1 .4 .5 .3 1.4 .4 1.8 .4 .3 .3 1 .4 1.9 .3-.5 .4 1.7 .4 2.1 .3 1.5 .4 1.5 .4-.7 .4 2.1 .4 .4 .4 2.2 .4 1.4 .3-.8 .4 1.6 .4 2.6 .3-.5 .4 1.8 .4 1.5 .5-.2 .5 2.5 .4-.8 .5 2.1 .5 .8 .6 1.7 .5 .9 .6 .7 .5 3.3 .5-.6 .5 2 .5 1 .5 1.8 .7 1.2 .6 .6 .6 0 .6 2.6 .6-.8 .6 3.2 .9-.2 .9 1.2 .8 1.1 .9 1.8 .9 2.2 .9 1.4 .9 .9 .9 1.2 .9-.1 1 1.4 .9 .9 1 1.4 .9 2 .9 1.2 1-1.6 .9 3.1 .9 .7 1-.4 .9 1.4 .9 1.1 1-.6 .9 2 1 2.1 .9 .8 .9 1.2 1-.9 .9 2.7 1 .6 .9 2.3 .9-.8 1 2.3 .9 .1 .6 2.7 .7 .7 .6-.9 .6 1.7 .6 .6 .6 2.3 .7 1.2 .6-.4 .6 3.5 .7 1.4 .6-.1 .6 1.7 .5 .6 .5 1.7 .4 .7 .5 1.2 .4 1.9 .4-.5 .4 1.4 .4 2.2 .4-.4 .4 .8 .4 3.3 .4-.8 .4 1.7 .4 .9 .4 1.1 .4 1.4 .4 1.7 .4 0 .4 2.3 .4 0 .3 1.3 .4 1.5 .4 1.3 .4 1.5 .4 1.1 .3 2.6 .4 .8 .4 .7 .4 2 .3 .9 .4 .2 .3 2 .4 1.5 .3 .6 .3 1.7 .3 .8 .4 1.9 .3-.6 .3 2.1 .4 2.1 .3 .2 .4 2.3 .3-.9 .3 2.9 .3 .1 .3 2.5 .3 .4 .3 1.5 .3 .5 .3 1.2 .3 2.8 .2 .6 .3 1.2 .2-.1 .3 1.6 .2 3 .3-.8 .2 2.1 .3 1.6 .3 .8 .2 1.4 .3 2.3 .2 .7 .3-.1 .3 1.8 .3 1.3 .2 2 .3 1.1 .2 0 .3 2.2 .2 .4 .3 .4 .2 1.7 .3 1.3 .3 .9 .3 2 .2 1.8 .3 1.1 .3 .7 .3 1.7 .3 .6 .3 1.4 .2 1.6 .3-.4 .2 1.6 .3 1.1 .2 1 .3 1.2 .2 .5 .3 2.2 .3 1.6 .2-.2 .3 1 .2 1.4 .3 1.9 .2 .1 .3 2 .3 .1 .2 1.8 .3 1.3 .2 1 .3 .1 .2 2.6 .3 .9 .2 .4 .3 1.8 .3 .8 .2 .5 .3 1.6 .3 2 .3 .7 .3 .4 .2 1.4 .3 1.3 .3 1.9 .2 1.3 .3 .9 .2 1.1 .3 2.2 .2 .2 .3 1.8 .2 .2 .2 1.7 .2 .5 .2 1 .2 1.5 .2 .7 .2 1.6 .1 1.6 .2 .9 .2 1.6 .2 .5 .2 .5 .2 2.4 .2 .7 .3 2 .2 1.6 .2 .5 .2 .7 .2 1.4 .2 1.4 .2 .9 .3 .7 .2 1.8 .3 1.7 .2 1.5 .3 1.2 .3 1.4 .3 1 .3 .5 1 2.4 1.7-2.2 .4 .1 .4-1.4 .2-2 .3-.8 .2-1.5 .3-.5 .2-2.1 .3-.8 .1-.9 .2-1.5 .2-1.9 .2-1.3 .1-.2 .2-1.3 .2-2.6 .2-1 .1-.5 .2-1.3 .2-2.2 .2-1 .1-.4 .2-2.9 .2-1 .1-.6 .2-.8 .1-1.1 .1-2 .1-.6 .2-.8 .1-2.4 .1-1.5 .1-1.2 .1-.3 .2-2.4 .1-.4 .1-.5 .1-2.4 .1-.4 0-1.3 .1-.3 .1-2 .1-1.3 .1-.4 .1-1.5 .1-2.3 .1 0 .2-2 .1-.2 .1-1.3 .1-2.1 .1-1.4 .1-1.6 .1-1 .1-1.3 .1-1.2 .1-.1 .1-2.4 .1-.1 .1-1.2 .1-.9 .1-1.5 .1-.5 .1-2.3 .1-1.6 .1-.3 .2-1.7 .1 .1 .1-1.2 .1-1.6 .1-.9 .1-2.2 .1-.7 .1-1.3 .1-1.2 .1-1.1 .2-.9 .1-.9 .1-2.2 .1-.2 .1-1.9 .1 .4 .1-1.9 .1-1.1 .1-1.7 .1-.5 .2-1.2 .1-.9 .1-1.8 .1-1.8 .1-.5 .1-2.3 .1 .1 .1-1.9 .2-.4 .1-2.2 .1-.3 .1-1.8 .1-1.4 .1-.7 .1-.1 .1-1.9 .1-.9 .1-.6 .1-.8 .1-3 .1 .9 .1-.8 .1-1 .2-3.1 .1-.5 .1 .3 .1-3.5 .1-.1 .1-.5 .1-.2 .1-3.8 .2 .7 .1-3.1 .1-1.4 .1 .3 .1-.4 .2-1.2 .1 .2 .1-4.6 .1 .4 .2-1.4 .1-2.1 .1 1.7 .1-4.5 .2-.6 .1-2.1 .1 1.6 .2-1.1 .1-3 .1 2 .2-2.4 .1-3.2 .2 2 .2-1.6 .1-3.6 .2 1.1 .2-4.5 .2-.4 .2-1 .2 1.1 .2-4 .2-.7 .2-1.8 .2 1.6 .2-4 .3 1.7 .2-3.5 .4-.6 .3-.1 .4-4 .4-.2 .3-.7 .4-1.5 .3-2 .4-.1 .4-2.6 .3-1.9 .7-2.6 .7 1 .6-1.5 .7 .1 1.6-3.6 1.1 2.9 1.1-.3 .6 1.3 .7 2.4 .7-.1 .7 1 .8 2.4 .7-.8 .8 4.6 .7-.1 .8-.9 .7 3.1 1.3 3.6 1.3 .6 1-3.3 .9-2.5 .4 1.7 .4-4.2 .4-2.7 .4-.5 .3-.1 .2-.2 .3-3.7 .3 0 .2 .7 .3-2.8 .4-2.2 .5 .8 .5-2.5 .5-.1 .5-2 .6 .3 .5-2.5 .6 .9 .6-1.9 .6-1.5 .6-2.1 .7-.6 .6-2 .7-2.3 1.3 2 1.3-1.6 1.3-1 1.2 0 1.1-1.8 2.1 2 1.3-1.5 1.4 3.7 .9-2.8 .9 2.4 .7 1.9 .7 2.2 .8-.2 .6 2.3 .7-.7 .7 2.5 .6 1.7 .5 .1 .6-1.6 .5 3.8 .5-1.9 .5 2.3 .5 .2 .6 4 .6-1.5 .6 3.6 .5-1.7 .6 1.7 .6 3.3 .5 1 .5-.5 .5 2 .6 .7 .5 1.5 .5 .1 .5 .9 .6 1.2 .5 2.6 .5 .4 .6 1.3 .5 .3 .6 2.1 .5 1.5 .5-.2 .6 2.1 .5 1.3 .6 1.3 .5 .3 .5 1.3 .6 .5 .5 1.8 .5 .2 .6 1.6 .5 1.1 .5 1.7 .5 .6 .6-.2 .5 1.2 .6 1.5 .6 1.1 .6 1.7 .6 .2 .5 1.6 .6 .8 .5 .8 .6 1.6 .5 .6 .6 2 .5-.6 .5 2.4 .6 .6 .5 .6 .5 .3 .6 2.1 .5 1.2 .5 .2 .5 1.6 .6 .7 .5 .2 .5 2.3 .5 0 .6 1.4 .7 1.7 .6 1.3 .6 1.1 .6 .2 .7 1.9 .6-.1 .6 1.7 .6 .9 .7 1.8 .6 .7 .7 .9 .6 1.2 .6 .2 .7 1.1 .8 .5 .9 1.5 .8 .8 .8 2 .9-.1 .9 2.3 .8 .3 .9 .7 .9 .1 1 1.3 .9 .9 .9 0 1 2 1-.5 1 .6 .9 .3 1.4 .7 1.3 .3 1.4 1.6 1.4-1 1.3 .9 1.4 .8 1.4 0 1.3 .1 1.4 .5 1.3-.5 1.4 .7 1.3 .5 1.3 .9 1.3-.3 1.3 .2 1.3 .8 1.2-.4 1.2 .9 1.2-.3 1.2 1.1 1.2 .2 1.2 .5 1.1 .7 1.2 .2 1.1 .6 1.2-1.1 1.1 1.5 1.1-.6 1.1 .1 1.2 .4 1 1.1 1.1 .3 1.1 0 1.5-.4 1.5 .1 1.5 .7 1.4 1.4 1.4 .8 1.3-.5 1.2 .7 1.3 2.5 1.1-.4 1.1 .2 1 1.6 1 .2 .9 2.2 .9 .4 .9 1.2 .9 1.6 .9-.3 .9 1.3 .9 2.4 .9 1.1 .6 .8 .7 .9 .6 1.5 .7 1.9 .7 1.3 .6 1.2 .6 1.2 .5-.4 .5 1 .5 2.5 .5 .2 .6 1.8 .5 1.1 .5 2.2 .4 0 .4 .5 .4 1.2 .5 2.3 .4 .9 .4-.2 .4 2.6 .4 0 .4 1.7 .4 .8 .4 1.5 .4 .4 .4 .2 .4 2 .4 1.6 .5 .4 .5 1.9 .4 .6 .5 1 .4 1.1 .5 .9 .4 1.6 .5 1.9 .5 .7 .6 1.6 .6 .3 .5 1.7 .6 1.7 .5 1 .6 .6 .5 2.8 .5 0 .6 2.2 .5 1.8 .5-.1 .4 1.1 .5 1.2 .5 1.5 .6 2.3 .6 0 .6 1.5 .5 2.4 .9 .9 .6 2"/>
<path stroke="#008000" stroke-width="1.5" d="M324 492.2l.5-16.6 .5 8.8 2.9-17.9 .5-14.3 .5 12.5 2.9-5.3 .5-12.5 .5 11.7 2.9-5.8 .5-12.2 .5 10.7 2.9-5.4 .5-11 .5 9.8 2.9-4.6 .5-11.6 .5 10.1 2.9-5.8 .5-8.9 .5 9.2 2.9-5.1 .5-10.1 .5 8.2 2.9-4.7 .5-9 .5 8 2.9-3.7 .5-9.5 .5 7.8 2.9-3.7 .5-9.2 .5 8.8 2.9-5.1 .5-7.6 .5 6.9 2.9-4.2 .5-7.8 .5 6.4 2.9-3.5 .5-7.7 .5 6.7 2.9-5.5 .5-5.4 .5 5.4 2.9-4.9 .5-5.9 .5 4.7 2.9-3.9 .5-5.7 .5 4.4 2.9-1.4 .5-2.7 .5 4.8 .9 .2 .3-2.2 .3 .8 .3 1.9 .3 .8 .3 5.7 .2-2.8 .4-1.1 .3 2 .3 6 .3 3.5 .4-1.9 .3 1.6 .3 1.6 .2 2.6 .3-2.4 .2 3.8 .1 .8 .2 1.6 .2-2 .2 1.2 .2 2.5M440.4 306.1l1.4-4.7 1.3 7.7 1.3-.5 1.3 2.5 1.2 .5 1.2 1.5 1.1-3 1 4.6 .9 9.9 .9-3 .4 0 .4 4.5 .3-6.6 .4 6.8 .3 6.6 .4-2.6 .3 1.6 .3 1.5 .6-4.2 .6 4 .5 8.2 .4-4.3 .4 1 .4-.4 .3 1 .3 14.1 .3 2.3 .2-2.5 .2-4.1 .2 6.2 .2 5.2 .1-8.6 .1-.3 .1 1.8 .1 2.3 .1 10.6 .1-5.8 .2-1 .1 2.7 .1-1.5 .2-.6 .1 14.3 .2-11.7 .2 1.5 .4 10.4 .5-11 .5 0 .3 3.5 .3-2.7 .2 4.5 .2-16.5 .2 8.3 .2-3.7 .1 7.4 .2-2.8 .1-10.5 .2 8.2 .1-5.5 .1 1.1 .2-3.1 .1-3 .1-1 .1 2.7 .1-12.6 .1 11.1 .1-22 .1 17.1 .2 1 .1-9 .1 4.8 .1 .9 .1 .2 .1-17 .1 10.8 .1-6.2 .1 3.2 0 3.8 .1-.4 .1-10.9 .1 8.4 .1-1 .1-8.3 0 6.5 .1-14 .1 7.3 0 .9 .1-9.4 .1 4.1 0-5.7 .1 3.7 0 1.4 .1-12.7 .1 2.5 0 7.7 .1-16.6 0 11 .1-.1 .1-3 0-1.3 .1-5.1 0 4.5 .1 .3 0-8.1 .1 .6 0-2.8 .1 5.3 .1-3.2 0 1 .1 2.4 0-9.7 .1 1.6 0 4.7 .1-11.9 0 7 .1-11.7 0 9.6 .1-6.2 0 1.2 .1-.2 0-.4 .1-8.1 0 6.5 .1-9.5 0-.1 .1 3.9 0 1.6 .1-3.2 0-7.6 .1 2.7 0-5 .1 .5 0-.7 .1-3.6 0 2 .1 5.3 0-13.2 .1 6.8 0-2.5 .1-3 0 2.5 .1-5.3 .1 2.9 0-2.9 .1 2.1 0-5.3 .1 .6 .1-8.2 0-.1 .1 1.1 0-14.3 .1 9.4 .1 8.5 0-11.5 .1-1.1 .1 7.8 0-2 .1-9.8 .1-5 .1 9.6 0-1.9 .1-8.3 .1 3.2 .1-.6 0-5.7 .1 10.9"/>
<path stroke="#008080" stroke-width="1.0" d="M324 498l.1-11 .6 6.8 2.8-22.3 .5-12.9 .6 11.6 2.8-6.2 .5-11.9 .6 11.8 2.8-5 .5-12.7 .6 12.1 2.8-7 .5-10.9 .6 11 2.8-6.1 .5-10.5 .6 9.8 2.8-6.5 .5-9.1 .6 9.1 2.8-5.8 .5-9.9 .6 10 2.8-5.6 .5-8.8 .6 8.3 2.8-4.7 .5-9.4 .6 8.3 2.8-4.7 .5-8.8 .6 8.6 2.8-5.4 .5-7.2 .6 7.4 2.8-5 .5-8.1 .6 7.5 2.8-5 .5-7.7 .6 5.9 2.8-4.3 .5-7.3 .6 6.7 2.8-5.5 .5-6 .6 4.8 2.8-4.2 .5-4.7 .6 3.1 2.8-3.5 .5-2.1 .6 3 1.2-.1 .3 .8 .3 .4 .3 3 .3 .3 .3-1.6 .3 7.8 .3-2.9 .3 2.1 .2 .9 .3 4.8 .2 1.3 .2-2 .3 .4 .2-1 .3 6.9 .2-3.8 .3 3.9 .2-.2 .2 1.1 .2 1.3 .2 .1 .2 .2 .2 4.8 .2 3.1 .2 .2 .2-1.8 .2 4.7 .2-3.1 .2 3.8 .3 4.1 .2 1.9 .2-2 .2 3.9 .3-1 .4 1.6 .3 1.8 .4 4.4 .5-.1 1-.2 1.1 1.4 1.1-1 .6-3 .6 2 .7-1.1 .6-2.8 .4 1.2 .4-7.5 .4 2.3 .4-.2 .4-3.2 .4-2.4 .3 2.5 .4-3 .3-2.3 .3-2.7 .3 5.4 .3-5.4 .2-2.7 .3-.4 .2-.8 .2 3.1 .2-5.9 .2-.5 .2-2.4 .2 1.4 .1-3.1 .2-.3 .1 1.5 .1 .1 .2-2 .1-6.9 .1 1.1 .2 1.9 .1-7.1 .1-.2 .2 .6 .1-2.2 .2 1.1 .1-1.4 .1-2.9 .2-2.6 .1-1.3 .1-1 .2-2.6 .1 3 .2-4.8 .1 3.8 .1-3 .2-5.4 .1 1.7 .1-.4 .2-5 .1 2 .1-4.3 .1 4 .1-6.4 .2 3.2 .1 1.3 .1-2.1 .1-5.4 .1 1 .2-3.9 .1 .2 .1 2.5 .1-1.4 .2-6.8 .1 1.5 .1 .7 .2-4.4 .1 3.3 .2-.7 .1-3.7 .2-2.7 .2 2.1 .2-3.6 .1-3.5 .2-.6 .2-2.1 .2 3.6 .2-3.5 .2 .1 .1-.4 .2-.1 .2-6.7 .2 .3 .2 2.1 .2-2 .2-3.9 .2 .7 .2-4.4 .2-1.4 .2-1.9 .2 1.1 .2-2.1 .2 .6 .3 1.7 .3-7.1 .3 1.6 .3 .9 .4-3 .5-2 .5 .2 .5-6.3 .6 5.4 1.3-2.9 1.4 .6 1.5 .6 1.6-4.1 1.6 1.2 .8 1.5 .8 3.1 1.6 4.6 1.4 2.4 1.4-3.6 1.3 3.6 1.4 2.8 .6-3.2 .7 7.3 .6 .7 .6-1.3 .6 2.8 .6-.1 .6 .1 .6-4.2 .5-2.2 .5-4 .5 6.6 .5 4.2 .4 3.1 .5-.7 .4 .5 .4 9 .4 .9 .3-3.8 .4-4.3 .3 3.7 .4-2.6 .3 7.4 .3 5.3 .3-9.2 .6 6.4 .5 4.8 .5 3 .3 3.9 .4-4.5 .3-15.4 .3 20.3 .3-1.4 .4 7.9 .2-7.4 .2 9.2 .1-3.2 .2 11.3 .1-6.3 .1-2 .1 11.6 .1-.2 .2 1.7 .1-7.8 .2 7.9 .1 .3 .4 1.5 .7 2.5 .7 1.6 .3-12 .3-2.9 .2-2.5 .2 2.3 .2-3.9 .2 7 .2-9.4 .1 6 .2-10.2 .1 10 .1 .7 .2-19.2 .1 10.3 .1-6.6 .1 1.2 .2 1.6 .1 .7 .1-6.7 .1-3 .1-.8 .1 5.3 .1-.1 .1-4 .1-4.1 .2-6.5 .1 8.6 .1 3.6 0-6.8 .1 1.3 .1-8.6 .1 9.4 .1-9.8 .1 6.5 .1-9.1 0 6 .1-8.3 .1-4.5 0 2.7 .1 .8 .1-16.9 0 18.9 .1-2.9 .1-.7 0-10.1 .1 1.5 .1 6.7 0-8.3 .1 10.8 0-5.8 .1-.2 .1-13.2 0 2.8 .1-1.5 0-3.5 .1 2.2 0-3.9 .1 .2 0 2.2 .1 2.9 0-8.3 .1-.6 0 5.1 .1-1.5 0-10 .1 3.3 0-3.9 .1-1.7 0 10 .1-15.7 0 2.2 .1 8.6 0-3.6 .1-3.9 0-.8 .1-1.2 0-16.1 .1 7.3 0 1.4 .1 2.6 0-6.5 .1 6.5 0-3.5 .1-7.9 0 9.6 .1-10.9 0-4.2 .1 7.4 .1-2.7 0-4.7 .1 5.4 0 2.5 .1-9.4 0-3.2 .1 7.9 0-6.3 .1 6.9 0-8.9 .1 3.7 0-4.9 .1 3 0-13.1 .1 11.3 .1-5.2 0-7.2 .1 4.4 0 1.7 .1 .5 .1-2.8 0 3.1 .1-6.6 0-3.5 .1-1.8 .1 3.8 .1-1.5 0-6.1 .1 4.4 .1-.7 .1-8.3 0 7.1 .1-6.4 .1-2.2 .1-.7 .1-1.1 0-1.1 .1-.3 .1-2.3 .1-1 .1-1.2 .1 .6 .1-.5 .1-1.7 .1-1.8 .1-2.1 .1 .5 .1-2.8 .1-1.3 .1-.1 .1-.3 .1-2.6 .1 .3 .1-2.6 .2 .4 .1-1.9 .2-.9 .1-1 .2-1.7 .1-2.7 .1-.4 .2-1 .1-.7 .2-2.4 .2-.4 .2-2 .2-1.6 .2-.6 .2-.2 .2-1.8 .2-1.7 .2-1.5 .3-1 .3-1.4 .3-1.7 .3-1.1 .3-1.5 .3-1.1 .3-.1 .3-1.2 .2-1.1 .5-.5 .4-2 .4-2.5 .5-.3 1-1.3 1.3-.5 1.4-1.1 1.8-1.2 2.1 1.4 1.3 .9 1.2 .7 1.3-.2 1.4 0 1 .2 .9 1.8 1 1.3 1-.9 1 1.9 1 1 1 .9 1 .2 1 .6 .7 .8 .8 1.6 .7 2.5 .8-.3 .7 2.6 .7 .7 .7 .5 .7 .7 .6 1.5 .5 1.9 .6-.2 .5 .7 .6 3.1 .5 .5 .5 .5 .4 1.2 .5 .4 .5 2.4 .5 1.8 .4 .4 .4 1.7 .4 1.2 .4 .1 .4 2 .4 2 .5 .5 .3-.3 .4 2.3 .3 1 .4 1.4 .4 .9 .3 1.6 .4 1.3 .3-1 .4 1.8 .3 0 .4 3.5 .4-1.2 .3 1.9 .4 1.6 .3 .6 .4 .4 .4 2 .3 .5 .4 1.9 .4 1.7 .4 .1 .4 1.6 .4 1.6 .4 .9 .3 1.7 .4 1.3 .4 1.3 .3-1.1 .4 1.9 .4 .1 .4 2.6 .4 .2 .4 2.2 .4 .1 .4 1.8 .4-.9 .6 2.7 .5 .8 .6 2.3 .5-.7 .5 1 .5 2.6 .5 .1 .5 1.4 .7 1.1 .6 2.7 .6 .2 .6 1.6 .6 1.1 .6 1 .9 .3 .9 1 .8 1.8 .9 2.3 .9 1.2 .9 .2 .9 2.3 .9 .9 .9-.7 1 2.7 .9 1.4 1-.9 .9 1.7 .9 1.6 1 .5 .9 .8 .9-.3 1 1.2 .9 2.4 .9-.5 1 1.3 .9 1.2 1 .3 .9 1.4 .9 1.3 1 2.1 .9 1.1 1-.7 .9 2 .9 1.8 1 1.6 .9 .2 .9 1.6 1 1.3 .6 1.1 .6 1.6 .6 1.2 .7 1.1 .6-1.1 .6 2.7 .7 .4 .6 1 .6 .9 .5 3.2 .5 1.1 .4 .2 .5 1.1 .4 .2 .4 3 .4 .6 .4-.5 .4 2.1 .4 2.2 .4-.8 .4 1.5 .4 1.1 .4 1.1 .4 .6 .4 2.5 .4 .2 .4 2.3 .4 .7 .4 2.2 .4 .9 .3 1.5 .4-.6 .4 2.9 .4 1.2 .4-.1 .3 .5 .4 1.5 .4 2.9 .3 1.7 .4-1.1 .3 1.6 .4 1.6 .3 .3 .3 2.6 .3 1.6 .4 1.1 .3-.6 .3 3 .3 .9 .4-.4 .3 3.1 .4 1.5 .3 1.1 .3 .9 .3 1.3 .3 .5 .3-.2 .2 2.9 .3 .7 .3 .3 .2 1.1 .3 3.1 .2 1.2 .3-1.1 .2 1.1 .3 2.9 .2 .1 .3 2.7 .2 .1 .3 1.9 .2-.6 .3 3.1 .3-.2 .2 1.8 .3 1.4 .3 .9 .3 1.1 .3 1.9 .3 .3 .3 1.9 .3 1.1 .3 2.4 .2 .2 .3 2.4 .3 1 .3-.1 .3 2.5 .3 1.4 .3 .3 .3 1.3 .3 1.6 .3 .9 .3 .9 .3 2.1 .3 .4 .3 1.4 .2 .4 .3 1.6 .3 2 .2-.1 .3 1.2 .3 1.4 .2 .9 .3 .6 .3 1.2 .2 1.3 .3 2.2 .2 1 .3 1.2 .3 .8 .2 1.7 .3-.3 .2 1.9 .3 .8 .3 2.1 .3 .4 .3 1.7 .3 1.4 .3 1.5 .3 .8 .2 .4 .3 1.8 .3 1.4 .3 1.5 .2 0 .3 2.1 .2 1.2 .3 .2 .2 1 .2 1.9 .2 1.2 .2 .6 .2 1.6 .2 .2 .2 1.9 .2 1.1 .2 1.6 .2 .9 .2 0 .2 2 .3 .5 .2 2 .2 1.6 .2 1.3 .3 0 .2 2.1 .2 .6 .2 1.7 .3 1.2 .2 1.1 .2 1.8 .3 .3 .3 1.6 .2 .8 .4 1.1 .3 2 .3 .3 1 3 1.7-2 .4-1.7 .4-.1 .3-2.6 .2-.7 .2-.6 .2-2.2 .2 .1 .2-1.3 .2-.3 .1-2.4 .2-.3 .2-1 .1-2.1 .2-2 .2-.8 .1-.5 .2-2.7 .2-.2 .2-1.5 .1-.9 .2-1.9 .2-.4 .1-2.8 .2-.8 .2-1.5 .1-.7 .1-1.8 .1-.9 .1-1 .1-.3 .2-2.9 .1-.8 .1-1.5 .1-.2 .1-1.2 .1-2.5 .1 .3 .1-.9 .1-1.9 .1-.9 .1-.8 .1-.9 .1-2.5 .1-.3 .1-2.3 .1-.7 0-.2 .2-1.7 .1-1.5 .1-1.4 .1-1.2 .1-2 .1-.3 .1-.5 .1-2.6 .1-1.3 .1-.8 .1-1.8 .1-1.8 .1-.2 .2-1.1 .1-2 .1-.1 .1-1.7 .1-.7 .1-2.2 .1-.9 .1-.6 .1-1.1 .1-.8 .1-1 .2-1.6 .1-2.4 .1-.3 .1-.8 .1-.9 .1-2 .1-1.6 .1-.2 .1-1.8 .1-.6 .1-1.7 .1 .1 .1-2.7 .1-.1 .1-.5 .1-1.5 .2-2 .1-.4 .1-.6 .1-1.4 .1-.6 .1-1.3 .1-1.9 .1-1.6 .1-.1 .1-1.5 .1-.5 .1-1.8 .1-.6 .1-2.2 .1 0 .1-.9 .1-.4 .2-1.3 .1-1.5 .1-3.3 .1-.4 .1-1.3 .1-1.1 .1 .2 .1-2.1 .1 .2 .1-.1 .1-.7 .2-5.5 .1 1.5 .1-1.3 .1-1.8 .1 .2 .2-.5 .1-4 .1 .6 .1-3.3 .1 .1 .2-1.5 .1 .9 .1-.8 .1-1.3 .2-2.7 .1-.3 .1-1.4 .2-1.6 .1-2.9 .1-.5 .2 1.9 .1-2.7 .2-3.4 .1-.1 .2-2.3 .2-1.3 .1-.1 .2-1.7 .2-2.5 .2 .8 .2 .6 .3-3.5 .2-1.7 .3-1.6 .2-1.7 .3-.9 .2-1.8 .4-.5 .3 .6 .4-3.7 .3 .9 .4-2.9 .4-.6 .3-1.9 .4-1.6 .4 1 .3-2.4 .7-3.8 .6-1.2 .7-.9 .7-.3 1.6-1.7 1.1 .2 1.1 .8 .6 4.1 .7-.1 .7 1.9 .7 1.5 .5-2.3 .5 2.7 .5 1.8 .8 .4 .7 1.6 .8 1.7 .7 1.2 1.4-.5 1.2-.2 1 0 .5-2 .5 .2 .4-2.6 .4-1.1 .2 1.3 .3-3.1 .3 1.2 .2-2.5 .3 .7 .2-2.4 .3 .2 .3-3.2 .2-1.2 .3 1.2 .3-2.1 .3-2.2 .5 .6 .5-2 .5-1.5 .6-3.9 .6 2.6 .6-4.7 .6-1.6 .6 .3 .6-1.8 .7-.9 .6 .1 .6-.9 1.4-.9 1.3-.4 1.3-1.5 1.2 .2 1.1-2.3 2.1-1.2 1.2 3.2 1.4 2.7 .9-2.4 .9 3.1 .7 .1 .8 3.7 .7-3.1 .7 3.2 .7 .6 .6 1.2 .7 2.8 .5-2.2 .6 2.2 .5 4 .5-1.2 .5-1 .6 3.7 .5 1.2 .4 2.2 .5 .8 .5 1.3 .5-2.1 .5 1.3 .5 2.1 .6 .5 .5 1.1 .5 .5 .6 1.4 .5 1 .5 1.5 .6 1.7 .5 .2 .6 1.3 .5 .7 .6 1.8 .5 1.4 .6 1.2 .5 1.2 .5 .9 .6 1.4 .5 1.3 .6 1.2 .5-.4 .6 2.8 .5 .3 .6 2 .5 .6 .5 .5 .6 .3 .5 1.2 .5 2.3 .6-.4 .6 1.2 .6 2.3 .5 .9 .6 1.2 .6 0 .6 2.7 .6 .7 .5-.4 .6 2.1 .5 .5 .6 .9 .5 1.7 .5 1.7 .6-.7 .5 2.4 .5 1.2 .6-.5 .5 2.5 .5-.6 .5 1.5 .6 .4 .5 1.3 .5 1 .5 1.7 .7 .9 .6 2.1 .6 .7 .6-.1 .7 1.2 .6 1.4 .6 2.1 .6 1 .7 1.1 .6 1.2 .6 .7 .7 .7 .6 1.4 .7 1 .6 1 .9 1.2 .8 .4 .8 .3 .9 2 .9 1.1 .8 1.4 .9 .5 .9 1.2 .9 .8 1-.4 .9 1.8 1 .1 .9 .3 1 .5 1 .7 1 .3 1.4 1.1 1.4-.3 1.3 .8 1.4 .8 1.4 .9 1.4-.1 1.4 0 1.4 0 1.4 .7 1.3 .8 1.4-1.4 1.4 .9 1.3 .1 1.3 1.1 1.3 .1 1.3-.9 1.2 2 1.3-.6 1.2-.1 1.2 .3 1.2 .3 1.2 .6 1.2 0 1.2 1.4 1.1-.7 1.2 .8 1.2 .7 1.1-.2 1.1 0 1.2 .6 1 .3 1.1 .5 1.1 .3 1.6 0 1.5 1.1 1.5 .9 1.4 .8 1.4 .1 1.3 .1 1.2 .3 1.2 1.6 1 1.8 1.1 .9 .9 .4 1-.1 .9 1 .8 .9 .9 1.6 .8 2.1 .8-.1 .8 2.4 .6 .4 .6 .5 .6 1.3 .6 .4 .6 2.1 .6 1.6 .5 0 .5 2.1 .5-.2 .5 1.1 .5 1.8 .5 .3 .5 .8 .5 2 .6 1.2 .5 .7 .5 1.3 .5 1.2 .5 1.2 .4 1 .4 1.9 .4 1.5 .4 .6 .5 .4 .4 1.7 .4 1.8 .4 0 .4 1.7 .4-.2 .4 2.4 .4 1.2 .4 .5 .4 1.7 .5 .7 .5 1.5 .5 .8 .4 1 .5 .9 .4 1.6 .5 1.5 .4-.2 .6 2.5 .5 .2 .6 2.4 .5 1.5 .6 1.6 .6 .9 .5 1.3 .5 1.3 .6 1.3 .5 1.2 .5 1.2 .5 1.5 .5 .2 .4 2.1 .5-.2 .6 1.2 .6 1.4 .6 2.1 .5 1.8 .8 .6 .5 2.6-.4-1.7"/>
<path stroke="#008080" stroke-width="1.5" d="M324 498l.1-11 .6 6.8 2.8-22.3 .5-12.9 .6 11.6 2.8-6.2 .5-11.9 .6 11.8 2.8-5 .5-12.7 .6 12.1 2.8-7 .5-10.9 .6 11 2.8-6.1 .5-10.5 .6 9.8 2.8-6.5 .5-9.1 .6 9.1 2.8-5.8 .5-9.9 .6 10 2.8-5.6 .5-8.8 .6 8.3 2.8-4.7 .5-9.4 .6 8.3 2.8-4.7 .5-8.8 .6 8.6 2.8-5.4 .5-7.2 .6 7.4 2.8-5 .5-8.1 .6 7.5 2.8-5 .5-7.7 .6 5.9 2.8-4.3 .5-7.3 .6 6.7 2.8-5.5 .5-6 .6 4.8 2.8-4.2 .5-4.7 .6 3.1 2.8-3.5 .5-2.1 .6 3 1.2-.1 .3 .8 .3 .4 .3 3 .3 .3 .3-1.6 .3 7.8 .3-2.9 .3 2.1 .2 .9 .3 4.8 .2 1.3 .2-2 .3 .4 .2-1 .3 6.9 .2-3.8 .3 3.9 .2-.2 .2 1.1 .2 1.3 .2 .1 .2 .2 .2 4.8M441.4 309.5l1.3 3.6 1.4 2.8 .6-3.2 .7 7.3 .6 .7 .6-1.3 .6 2.8 .6-.1 .6 .1 .6-4.2 .5-2.2 .5-4 .5 6.6 .5 4.2 .4 3.1 .5-.7 .4 .5 .4 9 .4 .9 .3-3.8 .4-4.3 .3 3.7 .4-2.6 .3 7.4 .3 5.3 .3-9.2 .6 6.4 .5 4.8 .5 3 .3 3.9 .4-4.5 .3-15.4 .3 20.3 .3-1.4 .4 7.9 .2-7.4 .2 9.2 .1-3.2 .2 11.3 .1-6.3 .1-2 .1 11.6 .1-.2 .2 1.7 .1-7.8 .2 7.9 .1 .3 .4 1.5 .7 2.5 .7 1.6 .3-12 .3-2.9 .2-2.5 .2 2.3 .2-3.9 .2 7 .2-9.4 .1 6 .2-10.2 .1 10 .1 .7 .2-19.2 .1 10.3 .1-6.6 .1 1.2 .2 1.6 .1 .7 .1-6.7 .1-3 .1-.8 .1 5.3 .1-.1 .1-4 .1-4.1 .2-6.5 .1 8.6 .1 3.6 0-6.8 .1 1.3 .1-8.6 .1 9.4 .1-9.8 .1 6.5 .1-9.1 0 6 .1-8.3 .1-4.5 0 2.7 .1 .8 .1-16.9 0 18.9 .1-2.9 .1-.7 0-10.1 .1 1.5 .1 6.7 0-8.3 .1 10.8 0-5.8 .1-.2 .1-13.2 0 2.8 .1-1.5 0-3.5 .1 2.2 0-3.9 .1 .2 0 2.2 .1 2.9 0-8.3 .1-.6 0 5.1 .1-1.5 0-10 .1 3.3 0-3.9 .1-1.7 0 10 .1-15.7 0 2.2 .1 8.6 0-3.6 .1-3.9 0-.8 .1-1.2 0-16.1 .1 7.3 0 1.4 .1 2.6 0-6.5 .1 6.5 0-3.5 .1-7.9 0 9.6 .1-10.9 0-4.2 .1 7.4 .1-2.7 0-4.7 .1 5.4 0 2.5 .1-9.4 0-3.2 .1 7.9 0-6.3 .1 6.9 0-8.9 .1 3.7 0-4.9 .1 3 0-13.1 .1 11.3 .1-5.2 0-7.2 .1 4.4 0 1.7 .1 .5 .1-2.8 0 3.1 .1-6.6 0-3.5 .1-1.8 .1 3.8 .1-1.5 0-6.1 .1 4.4 .1-.7 .1-8.3 0 7.1"/>
<path stroke="#0000a0" stroke-width="1.15" d="M324 478l2.1-7.3 .5-17.3 .6 13.6 2.8-11.4 .5-14 .6 12.6 2.8-7.9 .5-13.1 .6 12.1 2.8-6.7 .5-13.4 .6 11.6 2.8-6.5 .5-12.6 .6 12.1 2.8-7 .5-11.5 .6 11.2 2.8-6.4 .5-10.1 .6 10.5 2.8-5.7 .5-9.5 .6 9.3 2.8-4.5 .5-10.2 .6 9.1 2.8-5 .5-9.6 .6 8.9 2.8-3.7 .5-9.3 .6 8 2.8-4 .5-8.7 .6 8.1 2.8-5.3 .5-7.8 .6 8 2.8-5.4 .5-6.3 .6 6.1 2.8-4 .5-6.7 .6 5.5 2.8-5.1 .5-6 .6 6 2.8-2 .5-4.9 .6 4.5 2.6-5.6 .8 3 .8-.3 .3 3.4 .4 2.5 .4-.9 .3 5.5 .4-3.6 .4 2.7 .3 1.6 .2 2.3 .3 3.9 .2-1.7 .2 3.6 .2 2.8 .2-4.3 .2 6.3 .1-.8 .2 2.2 .2 .1 .1-.3 .2-1 .1 1.5 .2 1.4 .1 1.2 .2 .9 .1 1.6 .2 3.6 .1 2.7 .2 1.3 .1 1.5 .2-4 .1 6.1 .2-3.4 .1 .3 .2 2.6 .1 3.3 .2-2.6 .2 2.4 .2 2.4 .2 4.3 .2-1.8 .2 1.4 .3 1.2 .3-.5 .2 6.7 .3 1.6 .5 .6 .4-.6 .4 1.3 1.6-1 .7 1.2 .7-1.6 .3-3.4 .4 2.9 .4-2.4 .4-4.9 .2 3.1 .3-2.1 .3-4 .2-1 .3 1.8 .3-6 .1 1.3 .2 2.5 .2-6.1 .2 .5 .2 1.8 .1-1.4 .2-1.7 .1-2.9 .2 1.7 .1-5.8 .1 3.2 .2-4.4 .1 .6 .1-1.4 .2-3.4 .1 1.6 .1-1.7 .1 1.6 .1-3.4 .1-2.7 .1-1.6 .1 2.4 .1-4.9 .1 1.2 .1-1 .1 .8 .1-6.5 .1 2.2 .1-4.6 0 2.2 .1-1.1 .1-.6 .1-.3 .1-5.7 .1 3.3 .1-4.8 .1-.8 .1-3.2 .1 1.7 .1-5 .1 1 .1 1.3 .1-.7 .1-5.3 .1 3.1 .1-3.6 0-2.8 .1 2.6 .1-1.3 .1-3.1 .1-.8 .1-.6 .1-1.1 .1-.2 .1-1.2 .1-5.1 .1-2.4 .1-.5 .1 .2 .1 .8 .1 1.5 0-4.9 .2-1.6 .1 .2 .1 1.5 .1-3.7 .1-3.3 .1 2.1 .1 .4 .1-2.5 .1-3.9 .1-2.7 .1 .9 .1-3.4 .1-1.1 .1 1 .1 1.7 .1-2.1 .1-3.1 .1 2.6 .1-6.6 .1-.6 .1-1 .1 1 .1 1.1 .1-4.6 .1 2 0-.4 .1-4.3 .1 1.8 .1-1.3 .1-4.1 .2-3.4 .1-1.9 .1-.1 .1 .3 .1-4.3 .1 1 .1 0 .2-2.3 .1 1.6 .1-2.3 .1-1.6 .2-.6 .1-1.6 .2-2.5 .1-3 .2 1.8 .2-4.9 .2-1.2 .1 1 .2-1.9 .3 2.5 .2-5.4 .3 .8 .2 .6 .4-3.2 .4 1.4 .3-6 .7-1.1 .6-.6 .7-.5 .7 .4 1.4-4 1.5 1.5 1.5 .3 1.4-1 1.4 .6 1.3-5.7 1.3 3.9 1.2 .2 1.3 1.8 1.2-6.3 1.2 .1 1.3 7.9 1.2 .4 .6-3.8 .7 8 .7-.4 .6 .2 .7 3.9 .7-12.3 .4 12.8 .5-9.3 .4 16.1 .4-12.2 .5 13.6 .4-8.2 .4 9 .4-8.8 .5 12.3 .3-.1 .4-11.7 .4 7.6 .3 10.3 .4-.5 .3-8.3 .2 .4 .2 8.6 .3-2.8 .2 11.6 .2-5.4 .1 7.1 .2-9.2 .2 4.4 .2-2.7 .2 11.9 .1-3.5 .2 .2 .1-9.9 .2 17.2 .1-7 .2 .7 .1 3.2 .1 2.9 .2 6.1 .1-5.6 .1 5.4 .2-4.3 .1 .9 .1 4.6 .2 6.3 .1 .4 .1 2.7 .2-1.4 .1-.9 .1 1.7 .2 .9 .1-.3 .1-3.7 .2 10.9 .1-6.9 .1-15.5 .2 9.1 .1 11.4 .1 1.1 .2 1.9 .1-1.2 .1 1.8 .1 3 .2 .5 .1 7 .1-1.9 .1 .4 .2 4.4 .1-6.2 .1 3.9 .1-7.3 .1 8 .2 9.2 .2-3.4 .1 8.2 .5 2.2 .5-3.9 .5-7.3 .2 7.9 .1-4.8 .2-2.2 .1-3.8 .1-7.3 .2-.5 .1 7.9 .1-1 .1-2.1 .1 1.8 .1-.4 .1-7.7 .1-7.3 .1 14.4 0-12 .1-9.1 .1 8.2 .1 2.9 .1-.8 0-2.2 .1-9.4 .1 4 .1 3.8 0-2.5 .1-3.2 .1 3.2 0-4.7 .1-10.4 .1 4.8 .1 5.3 0-11.2 .1 5.5 .1-8.1 0 7.7 .1-10.6 .1 6.6 .1-5.7 0 1.5 .1-8 .1-1.5 0 5.5 .1-8.8 .1 8.7 .1-7.4 0-.4 .1-11.7 .1 4.9 0 10.7 .1-8.6 .1 3 0-3.3 .1-23.1 0 24.7 .1-8.7 .1-1.8 0 .2 .1-5.4 0 11.1 .1-1.2 0-2.5 .1-4 0 3.8 .1-6.7 .1 2.8 0-12.7 .1 3.4 0-5.4 .1 11.6 0-2.9 .1-8.2 0 3.9 .1-6.7 .1-.5 0-3.8 .1-2.1 0 9.7 .1-8.2 0 6.6 .1-1.3 0-8.8 .1 6.5 .1-9.7 0-3.8 .1 1.1 0 .5 .1 2.4 0-8.7 .1 6.3 0 2.8 .1-6.9 .1-2.9 0-3.2 .1 .6 0-1.7 .1-2.8 0 2.6 .1 2.8 0-10.3 .1-1.9 .1 11.2 0-1.6 .1-3.9 .1-10.6 0 8 .1-5.1 0 3.2 .1-4.3 .1-2.5 0-1.6 .1-.7 0 .8 .1-2.6 .1 .1 0-1 .1-1.3 0-2.1 .1-1.8 0-.3 .1-.7 .1-1.3 0-2.9 .1-1.1 0-1.2 .1-.5 0-.8 .1-1.1 0-.2 .1-1.1 .1-2.3 0-1 .1 .3 0-1.7 .1-3 .1-.5 .1-2 0-2.1 .1-.7 .1-.5 0-2.6 .1-1 .1 .3 0-2.4 .1-1.2 .1 .3 .1-1.3 0-2.9 .1-2.1 .1-.7 0 .8 .1-1.9 .1-2.4 .1 .5 .1-1.3 0-1.6 .1-3 .1 .1 .1-2 .1-1.1 0-.8 .1-1.2 .1 .1 .1-2.5 .1-1.8 .1-1.2 .1-.4 .1-1.7 .1 .2 .1-1.7 .1-1 .1-2.7 .1-.2 .1-.9 .1-2.8 .1-.2 .1-.4 .2-2.5 .1 1 .1-3.1 .1-1.3 .1 .3 .1-.3 .1-1.7 .1-1.8 .1-1.7 .1-1.4 .1-1.5 .1-.7 .1-.1 .2-2.1 .1 .8 .1-3.3 .1-.8 .1-.7 .1 .3 .2-2.7 .1-1.5 .1 .2 .1-2.9 .2-.2 .1-1.8 .1 .8 .2-2.6 .1-1 .2-.1 .1-2.1 .2-.4 .1-2.7 .2-.1 .1-2.4 .2-1.7 .2 .5 .2-2.2 .2-2.5 .2-.2 .2-1 .2-2.7 .2-.4 .2-1.3 .2-1.9 .3 .1 .3-1.7 .3-.9 .3-1.4 .6-1.1 1.3 0 1.6 .4 1.1 1.8 1.3 .5 1.4-.4 1.6 .3 .8 1.7 .8 .5 .9 2.2 .9-.6 .9 .5 .8 1.4 .9 3.2 .9-.7 .6 3.1 .6-.1 .6 1.3 .6 1.8 .6 1.6 .6-.6 .4 2.3 .5 .1 .5 3.2 .4 .7 .5-.1 .5 1.5 .5 2.9 .4 1.3 .4 .6 .4-.8 .4 1.5 .4 2.1 .3 .1 .4 1.9 .4-.2 .4 2.4 .4 1.1 .4 2.1 .3-.1 .4 2.5 .4-.5 .4 .5 .4 2.3 .4 .3 .3 3.2 .4 .7 .4 1.4 .4-.8 .4 3 .5 1.4 .4-.3 .5 2.6 .4 .1 .5 .7 .4 2.5 .5 .4 .4 1.1 .5 2.1 .4 1.3 .4-.5 .5 1.3 .4 2.5 .4 .1 .5 1.2 .4 3.4 .4 1.2 .5 .6 .4 1.7 .4 .6 .5 1.8 .4-1.3 .4 2.2 .5 1.1 .4 1 .4 1 .5 1.2 .4 2.2 .4 1.6 .5 1 .4-.3 .5 1.6 .4 .1 .5 1.2 .4 2.6 .6 .3 .6 .1 .6 2.2 .6 2 .7 .9 .6-.3 .6 1.9 .6 .9 .7 .9 .6 1.1 .6 2.6 .6 .3 .7 1.7 .6 0 .6 2.1 .7-1.1 .6 1.9 .6 .6 .7 1.2 .6 2.2 .6-.5 .6 2.9 .7 .2 .6 1.8 .6-1.3 .6 1.1 .7 1 .6 3.4 .6-.4 .7-.1 .6 1.5 .6 1 .6 .7 1 1.5 .9 1.2 .6 .9 .7 1.4 .6 .1 .6 2.2 .6 1.5 .6-.7 .7 2.2 .6 1.1 .6 0 .7 1.3 .6 .4 .6 2.3 .6 2.1 .7 .6 .6-.4 .6 1.7 .7 1.4 .6 .6 .7 2.9 .6 1 .7 .1 .7 .7 .6 2.6 .7 .6 .6 1.8 .6 1.6 .7 1.6 .6 .8 .6-.2 .6 2.2 .5 1.4 .4-.4 .5 3.1 .4-.8 .4 2.5 .5-1.1 .4 1.2 .4 .8 .4 1.3 .4 1 .4 1.1 .4 2.7 .3 1.6 .4 .8 .3 1.1 .4 1 .3-.5 .4 1.7 .3 .2 .4 1.5 .3 1.2 .3 1.8 .4 2.3 .3-.3 .3 2 .3 1.1 .4 .3 .3 .4 .3 1.7 .3 1.1 .3 2.1 .4 .6 .3 2.1 .3 1.2 .4-.1 .3 3.2 .4 .1 .3 .7 .4 .8 .3 2.4 .4 .4 .3 2.9 .4-.1 .4 1.2 .3 2 .4 .4 .4 3.4 .4 1.2 .3-1 .3 1.5 .3 2.6 .3 .9 .3 .5 .3 1.4 .3 .5 .3 1.5 .3 1.1 .3 1.5 .3 1.7 .3-.1 .3 .1 .3 2.8 .3 1.7 .3 0 .3 2.2 .3 .7 .3 1.2 .3 1.2 .3 .8 .3-.1 .3 1.3 .3 3.1 .3 .6 .3 .1 .3 1.4 .3 2.9 .3-.6 .3 2.4 .2 1.6 .3-.1 .2 .4 .3 2.1 .2 1.8 .3 1.5 .2 .7 .3 .2 .2 1.4 .3 1.8 .2 .7 .3 1 .2 1.3 .3 2.4 .2 .5 .3 2.2 .2 1.4 .3 .2 .2 1.7 .2 .2 .2 1.2 .2 1 .2 1.7 .2 .3 .2 2.4 .2 .9 .2 .1 .2 1.4 .2 1 .3 2.4 .2 1 .2-.1 .1 1.8 .2 1.3 .2 .7 .2 .7 .2 2.1 .2-.4 .2 2.7 .2 .9 .2 1 .2 .6 .2 .9 .2 1.8 .2 1.4 .2 1.3 .2 .5 .2 1.5 .1 .8 .2 .9 .2 2 .2 1.1 .1 1.3 .2 .9 .1 1.5 .2 1.6 .1 .2 .1 1.4 .2 1 .1 1.1 .1 .2 .2 1.3 .1 2 .1 1.1 .1 .7 .1 1.1 .1 .6 .1 2.2 .2 1 .1 .3 .1 1.4 .1 1.4 .1 1.4 .1 1.8 .1 1.6 .1 .8 .2 1.7 .1 .3 .1 1.4 .1 1.7 .1 1.5 .1 1.3 .1 .8 .1 .2 .1 1.8 .1 .2 .1 1.3 .1 1.5 .1 1.5 .1 .5 .1 1.6 .2 1.1 .1 .9 .1 2.6 .2 1.1 .1 1.2 .1 .1 .2 2.4 .1 1.4 .1-.3 .1 1.6 .2 1.2 .1 1.1 .1 1.8 .1 1.5 .2 1.2 .1 2 .2 .9 .2 1.5 .1 .7 .2 1.8 .2 .4 .3 2 .5 1.5 1.1-.2 .3-1.1 .3-1.7 .2-.4 .2-1.7 .2-.6 .2-1.4 .2-1.6 .2-.6 .2-1.8 .2-1 .1-.7 .2-2.1 .1-.4 .2-2.1 .2-1.9 .1-.9 .2-1.2 .1-.5 .2-2 .2-.4 .1-1.7 .2-.5 .1-.7 .2-1.5 .2-1.2 .2-1.4 .2-1.2 .3-1.7 .3-1 .3-2 .3-1.4 .3-.8 .3-1.7 .2-2.5 .2-.7 .2-1.3 .1-1.3 .2-1.4 .2-.6 .1-1.3 .1-1 .2-1.7 .1-.5 .1-1.4 .2-1 .1-2.8 .1 .2 .1-.9 .1-2 .1-1.2 .1-.6 .1-2.2 .1-.3 .1-1.7 0-.5 .1-1.3 .1-1.6 .1-1.7 .1-.9 0-.5 .1-1.7 .1-1.4 .1-1 0-.8 .1-1 .1-.9 .1-2.4 0-.2 .1-2.1 .1-.3 0-1.8 .1-.2 .1-1.6 .1-1.9 0-.4 .1-1.2 .1-.7 0-.8 .1-1 0-1.2 .1-2.7 .1-.3 0-1.4 .1-.4 .1-2.1 .1-2.5 .1-1.2 0-.9 .1-1 .1-.3 0-1.8 .1-.8 0-.7 .1-2.4 .1-.5 0-.8 .1-1 .1-2.3 0-.6 .1-.6 0-2.1 .1-1.3 .1 .2 0-2.3 .1-.4 0-1.5 .1-.9 .1-.4 0-1.3 .1-1.2 .1-.9 0-1.1 .1-1.4 0-2.3 .1-.3 .1-1.8 0 .1 .1-1.4 .1-1 0-1.7 .1-1.4 .1-1.3 .1-1.3 .1-2.5 0-1.3 .1-.1 0-1.8 .1-.7 .1-1 0-1.5 .1-1.7 .1-.4 0-.4 .1-1.9 .1-1.7 0-1.2 .1 .4 .1-1.6 0-1.8 .1-.8 .1-.4 0-1.9 .1-1.6 .1 0 .1-1.7 0-1.3 .1-1.8 .1-.4 .1-1.3 .1-1.7 0 .1 .1-2.1 .1-1 .1-1 .1-3.1 .1-1.7 .1 2.5 0-3.6 .1-.7 .1-2.3 .1 .5 .1-.5 .1-2.8 .1-.9 .1-2.2 .1 .6 .1-2.5 .1 1 .1-.9 .1-4.9 .1 1.4 .1-2.3 .1-1.5 .1-1.2 .1-.9 .1-2.2 .1-1 .1-1.5 .2 0 .1 1.3 .2-3.8 .1 .9 .1-4.2 .2 1.3 .1-.1 .2-4.4 .1 .6 .2-.7 .2-4.6 .2-1.2 .3 .6 .2-2 .2-.8 .3-.8 .4-.5 .3-3.5 .3 1.5 .7-4 .6 .7 1.5-.1 1.9-4.4 1.2 3.1 1.3-4.7 1.5 0 1.6 2.2 1.5-.1 1.5 1.4 1.3-.9 1.1-1.7 .9 2.3 .8 3.2 .6 .8 .6 1.2 .5-.6 .5 1.9 1.1 1 .5-3.1 .5 .3 .4-1.4 .5-2.3 .2 .5 .3-3.5 .3-.5 .3 .5 .3-2.7 .3-1.6 .3-.3 .3-1.2 .2-1.7 .3-1.9 .3-.2 .3 .5 .2-3.4 .3 0 .3-2.9 .3 0 .2-2.2 .3-1.1 .3-1.7 .2-1.3 .3-1.5 .3-1.4 .2 2.8 .3-2.4 .2-3.2 .3-.1 .2 .6 .3-4.3 .2-.9 .3-1.6 .3 .4 .2-1.2 .3-3 .3 1 .3-1.1 .2-.7 .3-1.6 .3-3.6 .3-1.1 .3 .7 .3-2.3 .3-.9 .2 .5 .3-1 .3-2.6 .3 1.1 .3-4.2 .3-1.1 .3-.8 .3 2.1 .5-2.7 .4-.7 .4-4.1 .4 1.2 .5 .1 .5-2.5 .5-.1 .6-2.7 .5-1.2 1.1 1.2 1.1-1.4 1.2-3.8 1.1 .8 1.2-1 1.2 .3 1.2 1.2 1.3 .2 1.2 3.6 1.2 .8 .9-.3 .8-.5 .8 1.2 .8 3.3 .8-2.5 .8 2.5 .6 .7 .5 1.9 .6 .7 .6 1.1 .6 .4 .5 1.7 .6 .9 .5 2.6 .4 .2 .4 .3 .3 1.3 .4 1.5 .3 .8 .4 1.5 .4 1.8 .3 .3 .4 1.5 .3 .6 .4 2.3 .4 .7 .3 1.8 .3 .3 .3 1.9 .3-.3 .3 2.5 .3 .4 .3 .4 .3 2 .3 .7 .3 .6 .3 1.3 .3 1 .3 1.9 .3 1.9 .3 .7 .3 1.3 .3 .2 .3 2.1 .3 .8 .3 .6 .3 1.7 .3 1.8 .3 .8 .3 1.3 .2-.3 .3 1.5 .3 2.5 .3-.6 .4 1.3 .3 1.6 .4 .6 .3 1.4 .4 2.4 .3 .7 .3 1.1 .4 1.2 .3 1.3 .4-.3 .3 1.3 .3 .7 .4 1.6 .3 1.7 .4 .5 .3 1.5 .3 1.7 .4 .1 .4 1.5 .4 1.2 .4 1.1 .4 .6 .4 1.7 .4 2 .4 1.1 .4 1.4 .4 1.3 .4 1.1 .4 .3 .4 2.2 .4 .1 .3 1.1 .4 .8 .4 1.3 .4 1.9 .4 1.2 .4-.2 .4 2.4 .5 1.5 .5 .6 .5 .5 .5 2 .5 .8 .5 1.7 .5 .1 .5 1.2 .5 1.6 .5 .9 .5 1.9 .5-.3 .6 1.4 .6 2.1 .7 1.3 .6 1.5 .6 .6 .6 .2 .7 1.1 .6 1.8 .6 .6 .7 0 .6 1.9 .7 .6 1 1.8 1 0 1 2.2 1.1 1.9 .8 .1 .7 .6 .8 .4 .8 .7 .8 1.4 .9 .7 .8 1 .9-.1 .9 1.2 .9 1.5 .9-.6 1 .9 .9 1.7 .9-.5 1 .9 .9 1 1 1.2 1 .6 .9-.3 1 .8 .9 .7 1 .2 .9 1.3 1-.5 .9 1.7 .9-.4 .9 1.2 .9 .7 .9 1.5 .9-.3 .9 1.1 .9 .8 .9 0 .9 1.8 1-.1 .9 .5 .9 2.4 .9 .6 .9 0 .9 .3 .8 1 .9 .9 .9 1.2 .9-.3 .8 .6 1.3 2.4 1.2 .9 1.2 .9 1.2 .7 1.1 .5 1.2 1.4 1.1 .9 1.1 .7 1-.7 1.1 .9 1 .6 1 1.3 1-.4 1 2.1 .9 .9 1-.3 .9 1 .9 2 .8 .5 .9 .8 .8 1.9 .8 .8 .5 2.1 .5 .8 .5 .9 .5 2 .4 1 .5 0 .4 1.6 .5 1.4 .4 .6 .4 1.4 .5 1.6 .4 2.1 .4 .9 .4 .9 .5 2.2 .3 1.4 .3 .3 .3 1 .4 .9 .3 1.5 .3 .4 .4 .9 .3 2.2 .3 .2 .4 2.2 .3 .9 .4 1.4 .3 .5 .3 2.3 .4-.3 .3 1.2 .3 2.1 .4 .8 .3 .9 .3 2.1 .4 2 .3 .5 .3 1.3 .4 2 .3 1.4 .4 .2 .3 2.2 .3 1.2 .4 .7 .3 .9 .4 2.6 .3 .2 .4 1.7 .3 1.2 .4 1.8 .3 .9 .4 1.5 .4 1.6 .3 .6 .4 0 .4 2.9 .4 .1 .4 1.2 .4 .9 .5 2.2 .4 .3 .5 .6 .4 1.9 .5 .8 .5 1.5 .4 .4 .5 2.6 .5 1.3 .4 .7 .5 .7 .5 .6 .4 1.2 .5 1.8 .4 .1 .5 1.7 .5 2.1 .6 1.4 .5 .9 .5 .6 .4 .7 .5 1.2 .5 1.7 .5 .2"/>
<path stroke="#0000a0" stroke-width="2.0" d="M324 478l2.1-7.3 .5-17.3 .6 13.6 2.8-11.4 .5-14 .6 12.6 2.8-7.9 .5-13.1 .6 12.1 2.8-6.7 .5-13.4 .6 11.6 2.8-6.5 .5-12.6 .6 12.1 2.8-7 .5-11.5 .6 11.2 2.8-6.4 .5-10.1 .6 10.5 2.8-5.7 .5-9.5 .6 9.3 2.8-4.5 .5-10.2 .6 9.1 2.8-5 .5-9.6 .6 8.9 2.8-3.7 .5-9.3 .6 8 2.8-4 .5-8.7 .6 8.1 2.8-5.3 .5-7.8 .6 8 2.8-5.4 .5-6.3 .6 6.1 2.8-4 .5-6.7 .6 5.5 2.8-5.1 .5-6 .6 6 2.8-2 .5-4.9 .6 4.5 2.6-5.6 .8 3 .8-.3 .3 3.4 .4 2.5 .4-.9 .3 5.5 .4-3.6 .4 2.7 .3 1.6 .2 2.3 .3 3.9 .2-1.7 .2 3.6 .2 2.8 .2-4.3 .2 6.3 .1-.8M440.1 264.4l1.2-6.3 1.2 .1 1.3 7.9 1.2 .4 .6-3.8 .7 8 .7-.4 .6 .2 .7 3.9 .7-12.3 .4 12.8 .5-9.3 .4 16.1 .4-12.2 .5 13.6 .4-8.2 .4 9 .4-8.8 .5 12.3 .3-.1 .4-11.7 .4 7.6 .3 10.3 .4-.5 .3-8.3 .2 .4 .2 8.6 .3-2.8 .2 11.6 .2-5.4 .1 7.1 .2-9.2 .2 4.4 .2-2.7 .2 11.9 .1-3.5 .2 .2 .1-9.9 .2 17.2 .1-7 .2 .7 .1 3.2 .1 2.9 .2 6.1 .1-5.6 .1 5.4 .2-4.3 .1 .9 .1 4.6 .2 6.3 .1 .4 .1 2.7 .2-1.4 .1-.9 .1 1.7 .2 .9 .1-.3 .1-3.7 .2 10.9 .1-6.9 .1-15.5 .2 9.1 .1 11.4 .1 1.1 .2 1.9 .1-1.2 .1 1.8 .1 3 .2 .5 .1 7 .1-1.9 .1 .4 .2 4.4 .1-6.2 .1 3.9 .1-7.3 .1 8 .2 9.2 .2-3.4 .1 8.2 .5 2.2 .5-3.9 .5-7.3 .2 7.9 .1-4.8 .2-2.2 .1-3.8 .1-7.3 .2-.5 .1 7.9 .1-1 .1-2.1 .1 1.8 .1-.4 .1-7.7 .1-7.3 .1 14.4 0-12 .1-9.1 .1 8.2 .1 2.9 .1-.8 0-2.2 .1-9.4 .1 4 .1 3.8 0-2.5 .1-3.2 .1 3.2 0-4.7 .1-10.4 .1 4.8 .1 5.3 0-11.2 .1 5.5 .1-8.1 0 7.7 .1-10.6 .1 6.6 .1-5.7 0 1.5 .1-8 .1-1.5 0 5.5 .1-8.8 .1 8.7 .1-7.4 0-.4 .1-11.7 .1 4.9 0 10.7 .1-8.6 .1 3 0-3.3 .1-23.1 0 24.7 .1-8.7 .1-1.8 0 .2 .1-5.4 0 11.1 .1-1.2 0-2.5 .1-4 0 3.8 .1-6.7 .1 2.8 0-12.7 .1 3.4 0-5.4 .1 11.6 0-2.9 .1-8.2 0 3.9 .1-6.7 .1-.5 0-3.8 .1-2.1 0 9.7 .1-8.2 0 6.6 .1-1.3 0-8.8 .1 6.5 .1-9.7 0-3.8 .1 1.1 0 .5 .1 2.4 0-8.7 .1 6.3 0 2.8 .1-6.9 .1-2.9 0-3.2 .1 .6 0-1.7 .1-2.8 0 2.6 .1 2.8 0-10.3 .1-1.9 .1 11.2 0-1.6 .1-3.9 .1-10.6 0 8 .1-5.1 0 3.2"/>
</g>
<rect x="258.5" y="24.8" width="652.5" height="526.4000000000001" fill="none" stroke="#000" stroke-width="2.2"/>
<path d="M258.5,551.2V541.2M323.8,551.2V546.2M389.0,551.2V541.2M454.2,551.2V546.2M519.5,551.2V541.2M584.8,551.2V546.2M650.0,551.2V541.2M715.2,551.2V546.2M780.5,551.2V541.2M845.8,551.2V546.2M911.0,551.2V541.2M258.5,551.2H269.5M258.5,498.6H264.5M258.5,445.9H269.5M258.5,393.3H264.5M258.5,340.6H269.5M258.5,288.0H264.5M258.5,235.4H269.5M258.5,182.7H264.5M258.5,130.1H269.5M258.5,77.4H264.5M258.5,24.8H269.5" stroke="#000" stroke-width="2.2"/>
<g font-family='"Liberation Sans", sans-serif' font-size="25" fill="#000" stroke="#000" stroke-width="0.3" style="letter-spacing:1.2px">
<text x="247.5" y="558.2" text-anchor="end">0.0</text>
<text x="247.5" y="452.9" text-anchor="end">0.1</text>
<text x="247.5" y="347.6" text-anchor="end">0.2</text>
<text x="247.5" y="242.4" text-anchor="end">0.3</text>
<text x="247.5" y="137.1" text-anchor="end">0.4</text>
<text x="247.5" y="31.8" text-anchor="end">0.5</text>
<text x="258.8" y="583.8" text-anchor="middle">1200</text>
<text x="389.3" y="583.8" text-anchor="middle">1300</text>
<text x="519.8" y="583.8" text-anchor="middle">1400</text>
<text x="650.3" y="583.8" text-anchor="middle">1500</text>
<text x="780.8" y="583.8" text-anchor="middle">1600</text>
<text x="911.3" y="583.8" text-anchor="middle">1700</text>
</g>
<text x="584.3" y="629.2" text-anchor="middle" font-family='"Liberation Sans", sans-serif' font-size="31" stroke="#000" stroke-width="0.3" style="letter-spacing:0.72px">Wavelength (nm)</text>
<text transform="translate(183,303.9) rotate(-90)" text-anchor="middle" font-family='"Liberation Sans", sans-serif' font-size="31" stroke="#000" stroke-width="0.3" style="letter-spacing:0.55px">Reflectivity</text>
<text x="47" y="641.3" font-family='"Liberation Serif", serif' font-size="44" stroke="#000" stroke-width="0.3">(a)</text>
<rect x="620.5" y="38" width="280.5" height="38" fill="#fff" stroke="#777" stroke-width="1.2"/>
<line x1="633" y1="59" x2="675.5" y2="59" stroke="#334" stroke-width="1.2"/>
<text x="683" y="64.9" font-family='"Liberation Sans", sans-serif' font-size="22.5" stroke="#000" stroke-width="0.3" style="letter-spacing:1.05px">Measurement data</text>
<defs><clipPath id="bclip"><rect x="242" y="673" width="660" height="530"/></clipPath></defs>
<g clip-path="url(#bclip)">
<path fill="none" stroke="#000000" stroke-width="0.8" d="M264.5 675l.5 1.2 .6 1.5 .7 1.8 .9 2.1 .9 2.1 .9 2.2 1 2.1 1 2 1 1.9 1 1.9 1.1 1.8 1.2 1.9 1.1 1.9 1.2 1.8 1.2 1.9 1.2 1.9 1.3 1.9 1.3 1.9 1.3 1.8 1.3 1.9 1.3 1.9 1.4 1.8 1.3 1.9 1.3 1.9 1.3 1.9 1.2 1.9 1.3 1.8 1.2 1.9 1.3 1.9 1.3 1.8 1.2 1.9 1.3 1.9 1.4 1.9 1.3 1.9 1.4 1.8 1.4 1.9 1.4 1.9 1.4 1.8 1.4 1.9 1.4 1.9 1.3 1.9 1.4 1.9 1.4 1.8 1.4 1.9 1.3 1.9 1.4 1.8 1.3 1.9 1.3 1.9 1.3 1.9 1.3 1.9 1.2 1.8 1.2 1.9 1.3 1.9 1.2 1.8 1.3 1.9 1.3 1.9 1.2 1.5 1.1 .8 1 .6 1.1 .7 1.3 1.2 1.5 2.1 1.8 3.3 2.3 4.8 2.8 6.8 3.4 8.7 3.7 10 3.9 10.8 4 11.1 4 10.8 3.8 10 3.5 8.8 3.2 7.5 3 6.6 2.9 6.1 2.8 5.8 2.8 5.6 2.8 5.8 2.7 6 2.8 6.6 2.8 7.2 2.9 7.6 2.8 7.9 2.8 8 2.8 8 2.7 7.8 2.6 7.5 2.6 7 2.4 6.6 2.4 6.2 2.2 6 2.2 5.8 2.2 5.7 2.2 5.6 2.2 5.5 2.2 5.6 2.2 5.6 2.3 5.6 2.2 5.5 2.2 5.4 2.3 5.4 2.2 5.3 2.3 5.1 2.3 5.1 2.3 5 2.4 4.8 2.3 4.8 2.4 4.6 2.4 4.6 2.4 4.5 2.4 4.4 2.4 4.3 2.5 4.3 2.6 4.4 2.6 4.3 2.6 4.2 2.6 4 2.5 3.7 2.4 3.3 2.2 2.8 2 2.3 1.9 1.9 1.8 1.6 1.7 1.3 1.7 .9 1.6 .6 1.6 .3 1.7 .1 1.6 0 1.6-.1 1.5-.3 1.5-.7 1.5-1.1 1.7-1.8 1.7-2.5 1.9-3.5 2.1-4.8 2.4-6 2.6-7 2.6-7.5 2.6-7.8 2.4-7.6 2.3-7.1 2-6.2 1.7-5.3 1.4-4.5 1.3-4.2 1.2-3.9 1-4.1 1.1-4.3 1.1-4.9 1.2-5.8 1.2-6.7 1.3-7.6 1.3-8.2 1.2-8.4 1.2-8.6 1.3-8.3 1.3-8 1.2-7.2 1.2-6.6 1.3-6.2 1.3-6 1.2-5.6 1.2-5.5 1.3-5.4 1.3-5.4 1.2-5.3 1.3-5.4 1.3-5.4 1.3-5.4 1.3-5.2 1.3-5.1 1.3-4.8 1.1-4.6 1.1-4.1 .9-3.5 .7-2.8 .7-2.3 .6-2.2 .6-2.3 .7-2.6 .8-3.2 1-4.1 1.2-5.1 1.3-5.9 1.4-6.5 1.5-6.8 1.6-7 1.6-6.9 1.7-6.7 1.7-6.1 1.7-5.8 1.9-5.7 1.8-5.6 2-5.4 1.9-5.2 1.9-5.1 2-4.7 1.8-4.5 1.8-4.1 1.7-3.8 1.7-3.5 1.7-3.3 1.7-3.1 1.7-3.1 1.8-3 1.9-3.1 2-3.1 2.1-3 2.2-2.9 2.2-2.9 2.2-2.9 2.2-2.8 2.1-2.7 2-2.7 1.9-2.7 1.8-2.6 1.8-2.6 1.7-2.6 1.8-2.5 1.6-2.4 1.7-2.4 1.7-2.2 1.7-2.1 1.6-1.8 1.6-1.8 1.6-1.7 1.6-1.7 1.6-1.8 1.6-1.9 1.7-2.2 1.8-2.6 2-2.9 2-3.2 2-3.2 1.9-3.2 1.8-2.8 1.4-2.4 1.1-1.7"/>
<path fill="#000000" d="M264.5 675m-3.5 -3.5l7 0 0 7 -7 0zM265.9 683m-3.5 -3.5l7 0 0 7 -7 0zM270.1 690.7m-3.5 -3.5l7 0 0 7 -7 0zM274.9 692.8m-3.5 -3.5l7 0 0 7 -7 0zM274.3 702.9m-3.5 -3.5l7 0 0 7 -7 0zM279.2 704.4m-3.5 -3.5l7 0 0 7 -7 0zM286.9 710.4m-3.5 -3.5l7 0 0 7 -7 0zM289.3 715.2m-3.5 -3.5l7 0 0 7 -7 0zM291.3 718m-3.5 -3.5l7 0 0 7 -7 0zM294.5 726.8m-3.5 -3.5l7 0 0 7 -7 0zM297 730.9m-3.5 -3.5l7 0 0 7 -7 0zM301 731.8m-3.5 -3.5l7 0 0 7 -7 0zM304.7 739.2m-3.5 -3.5l7 0 0 7 -7 0zM305.6 740.8m-3.5 -3.5l7 0 0 7 -7 0zM311.8 747.6m-3.5 -3.5l7 0 0 7 -7 0zM314.2 753.9m-3.5 -3.5l7 0 0 7 -7 0zM317.6 758.7m-3.5 -3.5l7 0 0 7 -7 0zM319.4 762.7m-3.5 -3.5l7 0 0 7 -7 0zM323 768m-3.5 -3.5l7 0 0 7 -7 0zM328.1 769m-3.5 -3.5l7 0 0 7 -7 0zM328.2 774.6m-3.5 -3.5l7 0 0 7 -7 0zM334.8 779.9m-3.5 -3.5l7 0 0 7 -7 0zM336.7 782.1m-3.5 -3.5l7 0 0 7 -7 0zM339.5 786m-3.5 -3.5l7 0 0 7 -7 0zM342.1 793.1m-3.5 -3.5l7 0 0 7 -7 0zM346.2 801.4m-3.5 -3.5l7 0 0 7 -7 0zM349.7 809.6m-3.5 -3.5l7 0 0 7 -7 0zM353.5 818.3m-3.5 -3.5l7 0 0 7 -7 0zM356 824.2m-3.5 -3.5l7 0 0 7 -7 0zM359.6 835m-3.5 -3.5l7 0 0 7 -7 0zM362.8 842.5m-3.5 -3.5l7 0 0 7 -7 0zM365.3 850.2m-3.5 -3.5l7 0 0 7 -7 0zM368.8 859.6m-3.5 -3.5l7 0 0 7 -7 0zM371.3 867.6m-3.5 -3.5l7 0 0 7 -7 0zM374.4 875.2m-3.5 -3.5l7 0 0 7 -7 0zM377.5 882.3m-3.5 -3.5l7 0 0 7 -7 0zM380.8 889.4m-3.5 -3.5l7 0 0 7 -7 0zM384.1 896.2m-3.5 -3.5l7 0 0 7 -7 0zM387.3 902.7m-3.5 -3.5l7 0 0 7 -7 0zM390.5 909.4m-3.5 -3.5l7 0 0 7 -7 0zM393.7 916.9m-3.5 -3.5l7 0 0 7 -7 0zM396.9 924.4m-3.5 -3.5l7 0 0 7 -7 0zM400 932.5m-3.5 -3.5l7 0 0 7 -7 0zM403.2 941.3m-3.5 -3.5l7 0 0 7 -7 0zM406.5 950.3m-3.5 -3.5l7 0 0 7 -7 0zM409.6 959.2m-3.5 -3.5l7 0 0 7 -7 0zM412.8 968.5m-3.5 -3.5l7 0 0 7 -7 0zM415.9 977.2m-3.5 -3.5l7 0 0 7 -7 0zM419.1 985.8m-3.5 -3.5l7 0 0 7 -7 0zM422.2 994.4m-3.5 -3.5l7 0 0 7 -7 0zM425.5 1002.9m-3.5 -3.5l7 0 0 7 -7 0zM428.7 1011.4m-3.5 -3.5l7 0 0 7 -7 0zM431.9 1019.6m-3.5 -3.5l7 0 0 7 -7 0zM435.1 1027.6m-3.5 -3.5l7 0 0 7 -7 0zM438.2 1035.6m-3.5 -3.5l7 0 0 7 -7 0zM441.3 1043.3m-3.5 -3.5l7 0 0 7 -7 0zM444.6 1051.2m-3.5 -3.5l7 0 0 7 -7 0zM447.7 1058.6m-3.5 -3.5l7 0 0 7 -7 0zM450.9 1066.1m-3.5 -3.5l7 0 0 7 -7 0zM454 1073m-3.5 -3.5l7 0 0 7 -7 0zM457.1 1079.5m-3.5 -3.5l7 0 0 7 -7 0zM460.3 1086.2m-3.5 -3.5l7 0 0 7 -7 0zM463.6 1092.7m-3.5 -3.5l7 0 0 7 -7 0zM467 1099m-3.5 -3.5l7 0 0 7 -7 0zM470.1 1104.8m-3.5 -3.5l7 0 0 7 -7 0zM473.4 1110.7m-3.5 -3.5l7 0 0 7 -7 0zM476.8 1116.5m-3.5 -3.5l7 0 0 7 -7 0zM479.9 1121.7m-3.5 -3.5l7 0 0 7 -7 0zM483 1126.8m-3.5 -3.5l7 0 0 7 -7 0zM486.1 1131.5m-3.5 -3.5l7 0 0 7 -7 0zM489.3 1136.1m-3.5 -3.5l7 0 0 7 -7 0zM492.7 1140.6m-3.5 -3.5l7 0 0 7 -7 0zM495.9 1144.1m-3.5 -3.5l7 0 0 7 -7 0zM499.3 1147.1m-3.5 -3.5l7 0 0 7 -7 0zM502.8 1149.1m-3.5 -3.5l7 0 0 7 -7 0zM506 1149.8m-3.5 -3.5l7 0 0 7 -7 0zM509.1 1149.8m-3.5 -3.5l7 0 0 7 -7 0zM512.7 1149.1m-3.5 -3.5l7 0 0 7 -7 0zM515.9 1146.4m-3.5 -3.5l7 0 0 7 -7 0zM519.2 1141.3m-3.5 -3.5l7 0 0 7 -7 0zM522.5 1133.8m-3.5 -3.5l7 0 0 7 -7 0zM525.7 1125.6m-3.5 -3.5l7 0 0 7 -7 0zM529 1116.6m-3.5 -3.5l7 0 0 7 -7 0zM532.1 1107.4m-3.5 -3.5l7 0 0 7 -7 0zM535.3 1097.6m-3.5 -3.5l7 0 0 7 -7 0zM538.4 1087.9m-3.5 -3.5l7 0 0 7 -7 0zM541.5 1078.1m-3.5 -3.5l7 0 0 7 -7 0zM544.6 1067.4m-3.5 -3.5l7 0 0 7 -7 0zM547.7 1055.2m-3.5 -3.5l7 0 0 7 -7 0zM550.2 1042.8m-3.5 -3.5l7 0 0 7 -7 0zM552.2 1030.1m-3.5 -3.5l7 0 0 7 -7 0zM554.1 1017.5m-3.5 -3.5l7 0 0 7 -7 0zM555.9 1005.1m-3.5 -3.5l7 0 0 7 -7 0zM557.9 992.5m-3.5 -3.5l7 0 0 7 -7 0zM560.2 979.9m-3.5 -3.5l7 0 0 7 -7 0zM562.8 967.2m-3.5 -3.5l7 0 0 7 -7 0zM565.6 954.7m-3.5 -3.5l7 0 0 7 -7 0zM568.4 942.4m-3.5 -3.5l7 0 0 7 -7 0zM571.4 930.2m-3.5 -3.5l7 0 0 7 -7 0zM574.4 917.9m-3.5 -3.5l7 0 0 7 -7 0zM577.6 905.6m-3.5 -3.5l7 0 0 7 -7 0zM580.8 893.3m-3.5 -3.5l7 0 0 7 -7 0zM584 881.1m-3.5 -3.5l7 0 0 7 -7 0zM586.9 868.5m-3.5 -3.5l7 0 0 7 -7 0zM589.7 856.2m-3.5 -3.5l7 0 0 7 -7 0zM592.5 843.7m-3.5 -3.5l7 0 0 7 -7 0zM595.6 831.4m-3.5 -3.5l7 0 0 7 -7 0zM598.7 820.2m-3.5 -3.5l7 0 0 7 -7 0zM602 810.4m-3.5 -3.5l7 0 0 7 -7 0zM605.1 801.7m-3.5 -3.5l7 0 0 7 -7 0zM608.2 793.2m-3.5 -3.5l7 0 0 7 -7 0zM611.4 785.5m-3.5 -3.5l7 0 0 7 -7 0zM614.7 778m-3.5 -3.5l7 0 0 7 -7 0zM618 771.1m-3.5 -3.5l7 0 0 7 -7 0zM621.1 765.3m-3.5 -3.5l7 0 0 7 -7 0zM624.5 759.6m-3.5 -3.5l7 0 0 7 -7 0zM627.7 754.4m-3.5 -3.5l7 0 0 7 -7 0zM631.1 749.7m-3.5 -3.5l7 0 0 7 -7 0zM634.2 745.5m-3.5 -3.5l7 0 0 7 -7 0zM637.3 741.5m-3.5 -3.5l7 0 0 7 -7 0zM640.7 737.1m-3.5 -3.5l7 0 0 7 -7 0zM644 732.6m-3.5 -3.5l7 0 0 7 -7 0zM647.3 727.8m-3.5 -3.5l7 0 0 7 -7 0zM650.5 723.1m-3.5 -3.5l7 0 0 7 -7 0zM653.6 718.6m-3.5 -3.5l7 0 0 7 -7 0zM657 714m-3.5 -3.5l7 0 0 7 -7 0zM660.3 710.1m-3.5 -3.5l7 0 0 7 -7 0zM663.5 706.6m-3.5 -3.5l7 0 0 7 -7 0zM666.7 703.1m-3.5 -3.5l7 0 0 7 -7 0zM670 699m-3.5 -3.5l7 0 0 7 -7 0zM673.2 694.3m-3.5 -3.5l7 0 0 7 -7 0zM676.4 689.2m-3.5 -3.5l7 0 0 7 -7 0zM679.7 683.9m-3.5 -3.5l7 0 0 7 -7 0zM682.9 678.7m-3.5 -3.5l7 0 0 7 -7 0z"/>
<path fill="none" stroke="#ff0000" stroke-width="0.8" d="M266.6 675l.7 1.2 .9 1.5 1.1 1.8 1.2 2.1 1.2 2.1 1.4 2.2 1.3 2.1 1.3 2 1.2 1.9 1.3 1.9 1.4 1.8 1.3 1.9 1.4 1.9 1.4 1.8 1.4 1.9 1.4 1.9 1.5 1.9 1.4 1.9 1.5 1.8 1.5 1.9 1.5 1.9 1.5 1.8 1.5 1.9 1.4 1.9 1.5 1.9 1.4 1.9 1.4 1.8 1.4 1.9 1.3 1.9 1.4 1.8 1.4 1.9 1.4 1.9 1.4 1.9 1.5 1.9 1.4 1.8 1.4 1.9 1.4 1.9 1.5 1.8 1.4 1.9 1.3 1.9 1.4 1.9 1.4 1.9 1.3 1.8 1.3 1.9 1.3 1.9 1.4 1.8 1.3 1.9 1.2 1.9 1.3 1.9 1.3 1.9 1.2 1.8 1.2 1.9 1.2 1.9 1.3 1.8 1.2 1.9 1.3 1.9 1.3 1.9 1.3 1.9 1.3 1.8 1.4 1.9 1.3 1.9 1.4 1.8 1.3 1.9 1.4 1.9 1.4 1.9 1.4 1.9 1.4 1.8 1.5 1.9 1.4 1.9 1.4 1.8 1.4 1.9 1.3 1.9 1.3 1.9 1.2 1.9 1.2 1.8 1.2 1.9 1.2 1.9 1.1 1.8 1.2 1.9 1.1 1.9 1 1.4 .8 .7 .7 .5 .7 .6 .8 1.1 1.2 2.1 1.7 3.4 2.2 5.2 3 7.4 3.7 9.6 4.1 11 4.5 11.9 4.5 12.2 4.5 11.8 4.1 10.9 3.7 9.2 3.2 7.6 2.9 6.6 2.6 5.8 2.6 5.4 2.5 5.2 2.5 5.3 2.7 5.7 3 6.4 3.2 7.1 3.4 7.4 3.5 7.8 3.6 7.9 3.6 8 3.6 8 3.6 8 3.5 7.8 3.4 7.8 3.4 8 3.4 8.1 3.3 8 3.3 7.8 3.4 7.5 3.4 7.2 3.4 6.6 3.5 6.2 3.8 6 3.7 5.7 3.8 5.4 3.7 5 3.5 4.4 3.2 4 2.8 3.3 2.4 2.7 2.1 2.1 1.7 1.6 1.6 1 1.5 .7 1.5 .3 1.5-.1 1.7-.3 1.8-.7 1.9-1.2 1.9-1.5 1.9-1.9 1.9-2.2 1.9-2.4 1.9-2.5 1.8-2.6 1.9-2.8 1.9-3.2 2-3.5 1.9-3.6 1.8-3.7 1.7-3.6 1.5-3.4 1.3-3.2 1-2.9 .7-2.8 .4-2.6 .4-2.6 .3-2.5 .3-2.5 .4-2.5 .5-2.6 .6-2.6 .7-2.6 .7-2.6 .8-2.6 .7-2.7 .8-2.6 .8-2.6 .9-2.7 .9-2.7 1.1-2.7 1-2.6 1.1-2.8 1.1-2.7 1-2.8 1-2.8 .8-2.9 .7-3 .6-3 .4-3.2 .5-3.1 .4-3.2 .4-3.2 .5-3.2 .5-3.1 .6-3.1 .6-3.1 .6-3 .7-3 .7-3.1 .6-3.2 .6-3.2 .6-3.3 .5-3.5 .5-3.5 .5-3.7 .4-3.7 .5-3.8 .5-3.7 .5-3.6 .6-3.5 .7-3.4 .7-3.3 .8-3.2 .8-3.2 .8-3.2 .8-3.2 .7-3.2 .7-3.3 .6-3.2 .5-2.9 .4-2.9 .5-2.9 .4-3.1 .6-3.5 .7-3.9 .8-4.6 1-5.3 1.1-5.8 1.2-6.3 1.4-6.7 1.3-6.9 1.5-7 1.5-7 1.5-7 1.6-7.1 1.6-7.4 1.7-7.5 1.8-7.6 1.8-7.6 1.8-7.3 1.9-7 1.8-6.5 1.9-6.1 1.9-6 2-5.7 2-5.4 1.9-5.1 1.9-4.9 1.8-4.6 1.6-4.2 1.5-3.8 1.3-3.4 1.3-3 1.1-2.8 1.2-2.6 1.1-2.4 1.2-2.5 1.3-2.5 1.3-2.5 1.4-2.4 1.4-2.3 1.4-2.2 1.4-2.1 1.4-2.2 1.4-2.1 1.3-2.2 1.3-2.2 1.3-2.1 1.2-2.1 1.3-2.2 1.2-2.1 1.2-2.1 1.3-2.1 1.2-2.1 1.3-2.2 1.4-2.4 1.5-2.5 1.4-2.5 1.4-2.3 1.2-2 1-1.8 .8-1.3"/>
<path stroke="#ff0000" stroke-width="7.14" stroke-linecap="round" fill="none" d="M266.6 675h.01M268.5 677.7h.01M275.5 689.1h.01M273.7 693h.01M279 693.4h.01M281.4 701.7h.01M288.2 701.3h.01M289.8 705.6h.01M293.7 711.5h.01M297.9 719.3h.01M298.8 723.5h.01M300.9 722.4h.01M305.9 726.8h.01M307 733.3h.01M312.3 736.1h.01M312.5 744h.01M317.1 748.6h.01M323.2 750h.01M324.4 755.3h.01M328.6 760.4h.01M331.4 765.1h.01M336.3 769.4h.01M337.3 775.3h.01M339.7 778.3h.01M345.9 783.8h.01M347.6 786.6h.01M350.4 793.4h.01M352.2 798h.01M357.6 800.1h.01M360.8 805.7h.01M364.3 810.1h.01M367.7 816.4h.01M368.8 819.5h.01M374.1 827.3h.01M376.1 829.2h.01M380.4 835.8h.01M383 843.3h.01M386.2 852h.01M389.2 859.7h.01M392.7 868h.01M395.9 876.6h.01M399.1 885.1h.01M402.3 893.5h.01M405.4 902h.01M408.7 910.5h.01M411.9 918.7h.01M415 926.4h.01M418.3 933.9h.01M421.5 941.3h.01M424.8 948.4h.01M428.1 955.3h.01M431.2 961.8h.01M434.5 968.8h.01M437.7 975.8h.01M440.9 982.8h.01M444 989.7h.01M447.2 996.6h.01M450.3 1003.7h.01M453.6 1010.9h.01M456.9 1018.2h.01M460.1 1025.3h.01M463.4 1032.6h.01M466.6 1040h.01M469.8 1047.5h.01M473 1055h.01M476.1 1062.6h.01M479.3 1070h.01M482.6 1077.5h.01M485.8 1084.6h.01M489 1090.9h.01M492.1 1096.7h.01M495.4 1102.4h.01M498.7 1107.7h.01M502 1112.9h.01M505.2 1117.5h.01M508.6 1122h.01M511.7 1126.1h.01M514.9 1130.1h.01M518.3 1134.2h.01M521.7 1137.9h.01M525.2 1141.4h.01M528.8 1142.9h.01M531.9 1143h.01M535.3 1141.7h.01M538.6 1139.6h.01M541.7 1136.3h.01M544.9 1132.2h.01M548 1128h.01M551.3 1122.8h.01M554.5 1117.1h.01M557.6 1110.8h.01M560.8 1103.8h.01M564 1093.2h.01M565.9 1080.5h.01M569.1 1068.4h.01M572.3 1058.3h.01M575.6 1049.7h.01M578.8 1040.9h.01M581.6 1028.3h.01M583.4 1015.7h.01M585.8 1003.3h.01M588.3 990.8h.01M590.2 978.3h.01M591.8 965.6h.01M594 953.3h.01M597 941h.01M599.6 928.4h.01M601.6 916h.01M603.8 903.7h.01M606.2 891.1h.01M608.7 878.6h.01M611.2 866h.01M613.9 853.5h.01M616.7 841h.01M619.5 828.8h.01M622.4 816.3h.01M625.5 804h.01M628.7 792.8h.01M631.9 783.1h.01M635.1 773.8h.01M638.3 765.1h.01M641.6 756.7h.01M644.7 748.7h.01M647.9 741h.01M651.1 733.9h.01M654.3 727.5h.01M657.5 722.3h.01M660.7 717.2h.01M664 712h.01M667.3 706.5h.01M670.5 701h.01M673.7 695.5h.01M676.9 690.1h.01M680.2 684.4h.01M683.5 678.9h.01"/>
<path fill="none" stroke="#00ff00" stroke-width="0.8" d="M271 675l.6 1.2 .9 1.5 1.1 1.8 1.1 2.1 1.3 2.1 1.3 2.2 1.3 2.1 1.2 2 1.2 1.9 1.3 1.9 1.3 1.8 1.3 1.9 1.3 1.9 1.4 1.8 1.3 1.9 1.4 1.9 1.3 1.9 1.5 1.9 1.4 1.8 1.4 1.9 1.5 1.9 1.4 1.8 1.5 1.9 1.4 1.9 1.3 1.9 1.4 1.9 1.4 1.8 1.3 1.9 1.4 1.9 1.3 1.8 1.3 1.9 1.4 1.9 1.4 1.9 1.3 1.9 1.4 1.8 1.4 1.9 1.4 1.9 1.3 1.8 1.4 1.9 1.3 1.9 1.3 1.9 1.3 1.9 1.3 1.8 1.2 1.9 1.3 1.9 1.3 1.8 1.2 1.9 1.2 1.9 1.3 1.9 1.2 1.9 1.2 1.8 1.2 1.9 1.1 1.9 1.2 1.8 1.3 1.9 1.2 1.9 1.3 1.9 1.2 1.9 1.3 1.8 1.3 1.9 1.3 1.9 1.3 1.8 1.4 1.9 1.3 1.9 1.3 1.9 1.4 1.9 1.4 1.8 1.4 1.9 1.4 1.9 1.4 1.8 1.3 1.9 1.3 1.9 1.3 1.9 1.2 1.9 1.2 1.8 1.2 1.9 1.2 1.9 1.1 1.8 1.2 1.9 1.1 1.9 1 1.4 .5 .6 .4 .3 .5 .5 .8 1 1.2 2.1 1.9 3.6 2.8 5.5 3.9 8 5 10.2 5.8 11.8 6.1 12.8 6.3 13.1 6.2 12.8 5.7 11.9 4.9 10.4 4.2 8.9 3.7 8 3.4 7.4 3.2 6.9 3 6.8 3.1 6.7 3.1 7 3.3 7.3 3.5 7.8 3.4 8 3.5 8.1 3.5 8.1 3.6 8.1 3.5 7.9 3.5 7.7 3.5 7.3 3.6 7.2 3.7 7.2 3.7 7.1 3.8 6.8 3.6 6.5 3.4 6.1 3.3 5.4 2.9 4.7 2.6 3.8 2.2 3.1 2.1 2.4 1.9 1.9 1.7 1.6 1.8 1.6 1.8 1.7 1.9 1.9 2 2.2 2.1 2.2 2.1 2.2 2.1 2.2 2.1 2.1 2 1.9 1.8 1.7 1.8 1.5 1.6 1.3 1.4 1.1 1.3 1 1.3 .8 1.2 .6 1.3 .3 1.4 .1 1.5-.2 1.7-.6 2-1.1 2-1.4 2.1-1.6 2-1.7 2-1.7 1.7-1.5 1.5-1.4 1.2-1 .9-.6 .7-.5 .6-.6 .6-.7 .7-1 .8-1.7 1-2.3 1.3-3.2 1.5-3.9 1.6-4.5 1.8-4.8 1.7-5 1.7-5 1.5-4.8 1.4-4.4 1.2-4.1 1.2-4.1 1-4 1-4 .9-3.9 .9-3.7 .9-3.7 .9-3.5 .9-3.4 .8-3.2 .8-3 .8-3 .8-3 .8-2.9 .7-3 .8-3 .8-3 .8-2.9 .7-2.8 .8-2.8 .8-3 .8-3.1 .7-3.5 .8-3.8 .8-4.3 .8-4.8 .7-5.1 .8-5.3 .8-5.4 .7-5.2 .8-5 .8-4.5 .8-4.1 .8-3.9 .7-3.7 .8-3.6 .8-3.4 .8-3.4 .7-3.4 .8-3.5 .7-3.2 .6-2.8 .7-2.6 .6-2.6 .6-2.9 .8-3.5 .9-4.2 1.1-5.2 1.3-6.3 1.4-7.3 1.6-8 1.7-8.6 1.7-8.9 1.8-9.1 1.8-9 1.7-8.8 1.7-8.8 1.7-9 1.7-9.2 1.8-9.2 1.7-9.3 1.8-9.1 1.8-8.8 1.8-8.6 1.9-8.5 1.9-8.7 2-8.6 2-8.4 1.9-8 1.9-7.4 1.8-6.7 1.6-5.7 1.5-4.6 1.4-3.7 1.3-2.9 1.2-2.4 1.1-1.9 1.2-1.8 1.1-1.7 1.2-2 1.2-2.1 1.3-2 1.3-1.9 1.3-1.8 1.2-1.6 1.1-1.5 .9-1.2 .7-.9"/>
<path fill="#00ff00" d="M270.9 675m0 -4.2l4.1 7.2 -8.2 0zM276.1 677.4m0 -4.2l4.1 7.2 -8.2 0zM278 687.9m0 -4.2l4.1 7.2 -8.2 0zM279.5 689.6m0 -4.2l4.1 7.2 -8.2 0zM286 694.5m0 -4.2l4.1 7.2 -8.2 0zM285.3 700.4m0 -4.2l4.1 7.2 -8.2 0zM291.6 702.7m0 -4.2l4.1 7.2 -8.2 0zM292.5 708.4m0 -4.2l4.1 7.2 -8.2 0zM298.7 713.2m0 -4.2l4.1 7.2 -8.2 0zM302 715.8m0 -4.2l4.1 7.2 -8.2 0zM302.1 722.7m0 -4.2l4.1 7.2 -8.2 0zM308.3 725.9m0 -4.2l4.1 7.2 -8.2 0zM308 728.7m0 -4.2l4.1 7.2 -8.2 0zM312.8 733.5m0 -4.2l4.1 7.2 -8.2 0zM317.6 741.6m0 -4.2l4.1 7.2 -8.2 0zM317.7 743.2m0 -4.2l4.1 7.2 -8.2 0zM324 749.4m0 -4.2l4.1 7.2 -8.2 0zM327.2 752.6m0 -4.2l4.1 7.2 -8.2 0zM327.2 757.1m0 -4.2l4.1 7.2 -8.2 0zM333.7 762.1m0 -4.2l4.1 7.2 -8.2 0zM334.7 767.5m0 -4.2l4.1 7.2 -8.2 0zM338.4 772.7m0 -4.2l4.1 7.2 -8.2 0zM343.7 776.7m0 -4.2l4.1 7.2 -8.2 0zM343.1 784.7m0 -4.2l4.1 7.2 -8.2 0zM349.8 789.4m0 -4.2l4.1 7.2 -8.2 0zM351.4 794m0 -4.2l4.1 7.2 -8.2 0zM356.5 795.8m0 -4.2l4.1 7.2 -8.2 0zM359.1 802.5m0 -4.2l4.1 7.2 -8.2 0zM362.2 805.9m0 -4.2l4.1 7.2 -8.2 0zM364.2 810.1m0 -4.2l4.1 7.2 -8.2 0zM367.4 814.2m0 -4.2l4.1 7.2 -8.2 0zM371.7 820.2m0 -4.2l4.1 7.2 -8.2 0zM375.6 824.6m0 -4.2l4.1 7.2 -8.2 0zM379.2 831m0 -4.2l4.1 7.2 -8.2 0zM382.3 837.4m0 -4.2l4.1 7.2 -8.2 0zM385.5 843.1m0 -4.2l4.1 7.2 -8.2 0zM386.5 849.7m0 -4.2l4.1 7.2 -8.2 0zM390 855m0 -4.2l4.1 7.2 -8.2 0zM394 862.3m0 -4.2l4.1 7.2 -8.2 0zM397.3 869.1m0 -4.2l4.1 7.2 -8.2 0zM400.6 875.9m0 -4.2l4.1 7.2 -8.2 0zM403.9 882.8m0 -4.2l4.1 7.2 -8.2 0zM407.2 889.5m0 -4.2l4.1 7.2 -8.2 0zM410.5 896.4m0 -4.2l4.1 7.2 -8.2 0zM413.8 903.2m0 -4.2l4.1 7.2 -8.2 0zM417.1 910.1m0 -4.2l4.1 7.2 -8.2 0zM420.3 917m0 -4.2l4.1 7.2 -8.2 0zM423.6 923.8m0 -4.2l4.1 7.2 -8.2 0zM426.8 930.5m0 -4.2l4.1 7.2 -8.2 0zM430.1 937.5m0 -4.2l4.1 7.2 -8.2 0zM433.4 944.6m0 -4.2l4.1 7.2 -8.2 0zM436.6 951.6m0 -4.2l4.1 7.2 -8.2 0zM439.8 958.5m0 -4.2l4.1 7.2 -8.2 0zM443 965.7m0 -4.2l4.1 7.2 -8.2 0zM446.3 973m0 -4.2l4.1 7.2 -8.2 0zM449.4 979.9m0 -4.2l4.1 7.2 -8.2 0zM452.6 986.8m0 -4.2l4.1 7.2 -8.2 0zM455.8 994.1m0 -4.2l4.1 7.2 -8.2 0zM459.1 1001.6m0 -4.2l4.1 7.2 -8.2 0zM462.4 1009.1m0 -4.2l4.1 7.2 -8.2 0zM465.6 1016.5m0 -4.2l4.1 7.2 -8.2 0zM468.8 1024m0 -4.2l4.1 7.2 -8.2 0zM472.1 1031.5m0 -4.2l4.1 7.2 -8.2 0zM475.4 1038.8m0 -4.2l4.1 7.2 -8.2 0zM478.6 1045.7m0 -4.2l4.1 7.2 -8.2 0zM481.8 1052.5m0 -4.2l4.1 7.2 -8.2 0zM484.9 1058.8m0 -4.2l4.1 7.2 -8.2 0zM488.1 1065.1m0 -4.2l4.1 7.2 -8.2 0zM491.4 1071.3m0 -4.2l4.1 7.2 -8.2 0zM494.6 1077.2m0 -4.2l4.1 7.2 -8.2 0zM497.7 1083m0 -4.2l4.1 7.2 -8.2 0zM501 1088.9m0 -4.2l4.1 7.2 -8.2 0zM504.3 1094.5m0 -4.2l4.1 7.2 -8.2 0zM507.4 1099.7m0 -4.2l4.1 7.2 -8.2 0zM510.7 1104.8m0 -4.2l4.1 7.2 -8.2 0zM513.9 1109.6m0 -4.2l4.1 7.2 -8.2 0zM517.4 1113.6m0 -4.2l4.1 7.2 -8.2 0zM520.5 1116.8m0 -4.2l4.1 7.2 -8.2 0zM523.7 1119.7m0 -4.2l4.1 7.2 -8.2 0zM526.9 1123.1m0 -4.2l4.1 7.2 -8.2 0zM530.1 1126.4m0 -4.2l4.1 7.2 -8.2 0zM533.3 1129.7m0 -4.2l4.1 7.2 -8.2 0zM536.4 1132.9m0 -4.2l4.1 7.2 -8.2 0zM539.9 1136.2m0 -4.2l4.1 7.2 -8.2 0zM543.2 1138.9m0 -4.2l4.1 7.2 -8.2 0zM546.3 1141.4m0 -4.2l4.1 7.2 -8.2 0zM549.6 1142.9m0 -4.2l4.1 7.2 -8.2 0zM553 1143m0 -4.2l4.1 7.2 -8.2 0zM556.2 1141.5m0 -4.2l4.1 7.2 -8.2 0zM559.5 1139.2m0 -4.2l4.1 7.2 -8.2 0zM562.8 1136.6m0 -4.2l4.1 7.2 -8.2 0zM566.1 1133.7m0 -4.2l4.1 7.2 -8.2 0zM569.3 1131m0 -4.2l4.1 7.2 -8.2 0zM572.7 1127.6m0 -4.2l4.1 7.2 -8.2 0zM575.8 1120.4m0 -4.2l4.1 7.2 -8.2 0zM578.9 1112m0 -4.2l4.1 7.2 -8.2 0zM582.2 1102.7m0 -4.2l4.1 7.2 -8.2 0zM585.4 1092.9m0 -4.2l4.1 7.2 -8.2 0zM588.6 1082.2m0 -4.2l4.1 7.2 -8.2 0zM591.8 1069.9m0 -4.2l4.1 7.2 -8.2 0zM594.9 1057.5m0 -4.2l4.1 7.2 -8.2 0zM598.1 1045.3m0 -4.2l4.1 7.2 -8.2 0zM601.3 1033m0 -4.2l4.1 7.2 -8.2 0zM604.4 1021.5m0 -4.2l4.1 7.2 -8.2 0zM607.3 1009.1m0 -4.2l4.1 7.2 -8.2 0zM609.4 996.4m0 -4.2l4.1 7.2 -8.2 0zM611.3 983.7m0 -4.2l4.1 7.2 -8.2 0zM613.3 971m0 -4.2l4.1 7.2 -8.2 0zM615.7 958.7m0 -4.2l4.1 7.2 -8.2 0zM618.4 946.4m0 -4.2l4.1 7.2 -8.2 0zM621.1 934m0 -4.2l4.1 7.2 -8.2 0zM624 921.4m0 -4.2l4.1 7.2 -8.2 0zM626.6 909.1m0 -4.2l4.1 7.2 -8.2 0zM629 896.8m0 -4.2l4.1 7.2 -8.2 0zM631.5 884.3m0 -4.2l4.1 7.2 -8.2 0zM634 871.8m0 -4.2l4.1 7.2 -8.2 0zM636.4 859.3m0 -4.2l4.1 7.2 -8.2 0zM638.8 847m0 -4.2l4.1 7.2 -8.2 0zM641.2 834.6m0 -4.2l4.1 7.2 -8.2 0zM643.6 822m0 -4.2l4.1 7.2 -8.2 0zM645.9 809.5m0 -4.2l4.1 7.2 -8.2 0zM648.3 797m0 -4.2l4.1 7.2 -8.2 0zM650.8 784.5m0 -4.2l4.1 7.2 -8.2 0zM653.5 772m0 -4.2l4.1 7.2 -8.2 0zM656.2 759.8m0 -4.2l4.1 7.2 -8.2 0zM659 747.3m0 -4.2l4.1 7.2 -8.2 0zM662 734.8m0 -4.2l4.1 7.2 -8.2 0zM665.1 722.6m0 -4.2l4.1 7.2 -8.2 0zM668.2 711.8m0 -4.2l4.1 7.2 -8.2 0zM671.5 702.7m0 -4.2l4.1 7.2 -8.2 0zM674.8 696.5m0 -4.2l4.1 7.2 -8.2 0zM678 691m0 -4.2l4.1 7.2 -8.2 0zM681.3 685.8m0 -4.2l4.1 7.2 -8.2 0zM684.5 681.4m0 -4.2l4.1 7.2 -8.2 0z"/>
<path fill="none" stroke="#0000ff" stroke-width="0.8" d="M274 675l.6 1.2 .9 1.5 1 1.8 1.2 2.1 1.3 2.1 1.2 2.2 1.3 2.1 1.2 2 1.2 1.9 1.3 1.9 1.2 1.8 1.3 1.9 1.2 1.9 1.3 1.8 1.4 1.9 1.3 1.9 1.3 1.9 1.4 1.9 1.4 1.8 1.4 1.9 1.4 1.9 1.4 1.8 1.4 1.9 1.4 1.9 1.3 1.9 1.4 1.9 1.3 1.8 1.3 1.9 1.3 1.9 1.3 1.8 1.4 1.9 1.3 1.9 1.3 1.9 1.3 1.9 1.4 1.8 1.3 1.9 1.4 1.9 1.3 1.8 1.3 1.9 1.3 1.9 1.2 1.9 1.3 1.9 1.2 1.8 1.3 1.9 1.2 1.9 1.2 1.8 1.2 1.9 1.2 1.9 1.2 1.9 1.2 1.9 1.2 1.8 1.1 1.9 1.2 1.9 1.2 1.8 1.2 1.9 1.2 1.9 1.2 1.9 1.2 1.9 1.3 1.8 1.3 1.9 1.3 1.9 1.2 1.8 1.3 1.9 1.3 1.9 1.4 1.9 1.3 1.9 1.4 1.8 1.4 1.9 1.3 1.9 1.4 1.8 1.3 1.9 1.3 1.9 1.2 1.9 1.3 1.9 1.2 1.8 1.2 1.9 1.1 1.9 1.2 1.8 1.1 1.9 1.2 1.9 .9 1.4 .5 .6 .3 .3 .4 .5 .7 1 1.2 2.1 2 3.6 3 5.5 4.3 8 5.4 10.2 6.2 11.9 6.7 12.8 6.9 13.1 6.8 12.9 6.3 11.8 5.5 10.3 4.8 8.7 4.4 7.8 4.1 7 3.9 6.6 3.7 6.4 3.7 6.5 3.7 6.7 3.7 7.3 3.8 7.9 3.7 8.3 3.7 8.6 3.7 8.6 3.6 8.6 3.5 8.2 3.5 7.7 3.5 7.1 3.5 6.5 3.6 6.2 3.5 5.8 3.5 5.4 3.4 5.1 3.1 4.7 2.9 4.4 2.5 3.9 2.1 3.4 1.6 2.8 1.3 2.3 1.1 1.9 1 1.8 1.1 1.8 1.2 1.9 1.6 2.1 1.8 2.4 2.1 2.5 2.1 2.5 2.2 2.5 2.2 2.5 2.3 2.4 2.2 2.2 2.1 2 2.1 1.9 2 1.9 2.1 1.8 2 1.6 2 1.5 2 1.1 1.9 .8 1.9 .4 1.9-.2 1.9-.7 1.9-1.1 1.8-1.4 1.8-1.6 1.7-1.5 1.6-1.4 1.4-1.1 1.3-.7 1-.5 1-.3 .8-.3 .9-.4 .9-.8 .9-1.2 1.2-1.8 1.3-2.5 1.5-3.1 1.6-3.6 1.6-3.9 1.6-4 1.6-4.1 1.4-4 1.4-3.8 1.2-3.6 1.1-3.6 1.1-3.5 .9-3.5 1-3.6 1-3.7 1.1-3.7 1.1-3.8 1.2-3.9 1.3-4 1.4-4 1.4-4 1.4-4.2 1.3-4.2 1.3-4.3 1.2-4.4 1.1-4.5 1.1-4.5 1-4.7 1-4.7 .9-4.8 1-4.8 .9-5 1-5 1-5.1 1-5.2 1-5.3 .9-5.4 1-5.4 1-5.5 1.1-5.5 1-5.6 1.1-5.5 1.1-5.5 1.1-5.5 1.1-5.6 1.1-5.7 1.2-5.9 1.1-6 1.2-6.3 1.2-6.5 1.1-6.7 1.2-6.8 1.1-7.1 1.2-7.2 1.3-7.3 1.4-7.6 1.5-7.8 1.6-8.1 1.8-8.5 1.9-8.7 1.9-8.9 2-8.9 2-8.9 1.9-8.6 1.9-8.4 1.8-8.2 1.8-8.2 1.8-8.2 1.7-8 1.8-7.8 1.7-7.5 1.7-7.3 1.7-6.8 1.8-6.7 1.8-6.6 1.9-6.5 1.9-6.1 1.7-5.6 1.6-5 1.3-4.2 1-3.3"/>
<path fill="#0000ff" d="M274 675m0 4.2l4.1 -7.2 -8.2 0zM278.3 680.9m0 4.2l4.1 -7.2 -8.2 0zM279.9 689.2m0 4.2l4.1 -7.2 -8.2 0zM284.4 690.4m0 4.2l4.1 -7.2 -8.2 0zM285.2 698.5m0 4.2l4.1 -7.2 -8.2 0zM289.8 702.6m0 4.2l4.1 -7.2 -8.2 0zM292.4 703.7m0 4.2l4.1 -7.2 -8.2 0zM296.9 712.1m0 4.2l4.1 -7.2 -8.2 0zM297.9 716.1m0 4.2l4.1 -7.2 -8.2 0zM305.5 720.6m0 4.2l4.1 -7.2 -8.2 0zM308.2 720.5m0 4.2l4.1 -7.2 -8.2 0zM310.4 730.1m0 4.2l4.1 -7.2 -8.2 0zM310.5 731.5m0 4.2l4.1 -7.2 -8.2 0zM315.1 737.6m0 4.2l4.1 -7.2 -8.2 0zM319.2 741.9m0 4.2l4.1 -7.2 -8.2 0zM324.4 744.3m0 4.2l4.1 -7.2 -8.2 0zM324 749.6m0 4.2l4.1 -7.2 -8.2 0zM327.5 754.1m0 4.2l4.1 -7.2 -8.2 0zM334.8 762.9m0 4.2l4.1 -7.2 -8.2 0zM334.1 766.5m0 4.2l4.1 -7.2 -8.2 0zM338.4 770.8m0 4.2l4.1 -7.2 -8.2 0zM341.8 777.5m0 4.2l4.1 -7.2 -8.2 0zM346.1 781.3m0 4.2l4.1 -7.2 -8.2 0zM347.7 786m0 4.2l4.1 -7.2 -8.2 0zM350.6 791.5m0 4.2l4.1 -7.2 -8.2 0zM356.2 795.6m0 4.2l4.1 -7.2 -8.2 0zM357.2 799.5m0 4.2l4.1 -7.2 -8.2 0zM361.4 805.3m0 4.2l4.1 -7.2 -8.2 0zM366 809.2m0 4.2l4.1 -7.2 -8.2 0zM369.2 814.7m0 4.2l4.1 -7.2 -8.2 0zM371.2 819m0 4.2l4.1 -7.2 -8.2 0zM374.6 825.2m0 4.2l4.1 -7.2 -8.2 0zM377.6 829.8m0 4.2l4.1 -7.2 -8.2 0zM380.8 833.8m0 4.2l4.1 -7.2 -8.2 0zM384.2 840.8m0 4.2l4.1 -7.2 -8.2 0zM386.2 846m0 4.2l4.1 -7.2 -8.2 0zM390.4 853.2m0 4.2l4.1 -7.2 -8.2 0zM394.7 858.5m0 4.2l4.1 -7.2 -8.2 0zM397.2 865.1m0 4.2l4.1 -7.2 -8.2 0zM400.5 871.3m0 4.2l4.1 -7.2 -8.2 0zM403.7 877.5m0 4.2l4.1 -7.2 -8.2 0zM407 883.8m0 4.2l4.1 -7.2 -8.2 0zM410.4 890.2m0 4.2l4.1 -7.2 -8.2 0zM413.6 896.4m0 4.2l4.1 -7.2 -8.2 0zM416.9 902.6m0 4.2l4.1 -7.2 -8.2 0zM420.2 908.9m0 4.2l4.1 -7.2 -8.2 0zM423.3 914.8m0 4.2l4.1 -7.2 -8.2 0zM426.5 920.7m0 4.2l4.1 -7.2 -8.2 0zM429.6 926.5m0 4.2l4.1 -7.2 -8.2 0zM432.8 932.4m0 4.2l4.1 -7.2 -8.2 0zM436 938.3m0 4.2l4.1 -7.2 -8.2 0zM439.4 944.3m0 4.2l4.1 -7.2 -8.2 0zM442.7 950.1m0 4.2l4.1 -7.2 -8.2 0zM446.1 955.8m0 4.2l4.1 -7.2 -8.2 0zM449.4 961.5m0 4.2l4.1 -7.2 -8.2 0zM452.7 967.1m0 4.2l4.1 -7.2 -8.2 0zM455.8 972.6m0 4.2l4.1 -7.2 -8.2 0zM459 978.5m0 4.2l4.1 -7.2 -8.2 0zM462.3 984.8m0 4.2l4.1 -7.2 -8.2 0zM465.5 991.3m0 4.2l4.1 -7.2 -8.2 0zM468.7 998.2m0 4.2l4.1 -7.2 -8.2 0zM471.9 1005.3m0 4.2l4.1 -7.2 -8.2 0zM475 1012.3m0 4.2l4.1 -7.2 -8.2 0zM478.3 1020m0 4.2l4.1 -7.2 -8.2 0zM481.5 1027.6m0 4.2l4.1 -7.2 -8.2 0zM484.6 1035m0 4.2l4.1 -7.2 -8.2 0zM487.9 1042.3m0 4.2l4.1 -7.2 -8.2 0zM491.2 1049.3m0 4.2l4.1 -7.2 -8.2 0zM494.4 1055.5m0 4.2l4.1 -7.2 -8.2 0zM497.6 1061.3m0 4.2l4.1 -7.2 -8.2 0zM500.8 1066.6m0 4.2l4.1 -7.2 -8.2 0zM503.9 1071.8m0 4.2l4.1 -7.2 -8.2 0zM507.1 1076.9m0 4.2l4.1 -7.2 -8.2 0zM510.5 1082m0 4.2l4.1 -7.2 -8.2 0zM513.6 1086.7m0 4.2l4.1 -7.2 -8.2 0zM516.7 1091.5m0 4.2l4.1 -7.2 -8.2 0zM520 1096.7m0 4.2l4.1 -7.2 -8.2 0zM523.2 1102.1m0 4.2l4.1 -7.2 -8.2 0zM526.4 1107.6m0 4.2l4.1 -7.2 -8.2 0zM529.7 1112.6m0 4.2l4.1 -7.2 -8.2 0zM532.9 1116.6m0 4.2l4.1 -7.2 -8.2 0zM536.2 1120.6m0 4.2l4.1 -7.2 -8.2 0zM539.4 1124.2m0 4.2l4.1 -7.2 -8.2 0zM542.7 1127.8m0 4.2l4.1 -7.2 -8.2 0zM545.9 1130.9m0 4.2l4.1 -7.2 -8.2 0zM549.1 1133.9m0 4.2l4.1 -7.2 -8.2 0zM552.4 1136.9m0 4.2l4.1 -7.2 -8.2 0zM555.6 1139.4m0 4.2l4.1 -7.2 -8.2 0zM558.7 1141.5m0 4.2l4.1 -7.2 -8.2 0zM562 1142.7m0 4.2l4.1 -7.2 -8.2 0zM565.2 1142.3m0 4.2l4.1 -7.2 -8.2 0zM568.7 1141m0 4.2l4.1 -7.2 -8.2 0zM571.9 1138.4m0 4.2l4.1 -7.2 -8.2 0zM575.1 1135.5m0 4.2l4.1 -7.2 -8.2 0zM578.3 1133.3m0 4.2l4.1 -7.2 -8.2 0zM581.4 1132m0 4.2l4.1 -7.2 -8.2 0zM584.6 1128.4m0 4.2l4.1 -7.2 -8.2 0zM587.8 1122.4m0 4.2l4.1 -7.2 -8.2 0zM591 1114.9m0 4.2l4.1 -7.2 -8.2 0zM594.2 1106.8m0 4.2l4.1 -7.2 -8.2 0zM597.4 1097.8m0 4.2l4.1 -7.2 -8.2 0zM600.6 1087.2m0 4.2l4.1 -7.2 -8.2 0zM603.8 1075.8m0 4.2l4.1 -7.2 -8.2 0zM607 1065.6m0 4.2l4.1 -7.2 -8.2 0zM610.1 1056m0 4.2l4.1 -7.2 -8.2 0zM613.3 1046.2m0 4.2l4.1 -7.2 -8.2 0zM616.4 1035m0 4.2l4.1 -7.2 -8.2 0zM619.3 1022.6m0 4.2l4.1 -7.2 -8.2 0zM621.9 1010m0 4.2l4.1 -7.2 -8.2 0zM624.3 997.4m0 4.2l4.1 -7.2 -8.2 0zM626.7 984.9m0 4.2l4.1 -7.2 -8.2 0zM628.9 972.6m0 4.2l4.1 -7.2 -8.2 0zM631.3 960m0 4.2l4.1 -7.2 -8.2 0zM633.7 947.5m0 4.2l4.1 -7.2 -8.2 0zM636.2 934.9m0 4.2l4.1 -7.2 -8.2 0zM638.7 922.3m0 4.2l4.1 -7.2 -8.2 0zM641 910m0 4.2l4.1 -7.2 -8.2 0zM643.2 897.3m0 4.2l4.1 -7.2 -8.2 0zM645.3 884.9m0 4.2l4.1 -7.2 -8.2 0zM647.4 872.4m0 4.2l4.1 -7.2 -8.2 0zM649.7 860m0 4.2l4.1 -7.2 -8.2 0zM652.2 847.4m0 4.2l4.1 -7.2 -8.2 0zM654.7 835.1m0 4.2l4.1 -7.2 -8.2 0zM657.4 822.8m0 4.2l4.1 -7.2 -8.2 0zM660.1 810.4m0 4.2l4.1 -7.2 -8.2 0zM662.9 797.9m0 4.2l4.1 -7.2 -8.2 0zM665.7 785.5m0 4.2l4.1 -7.2 -8.2 0zM668.4 773.1m0 4.2l4.1 -7.2 -8.2 0zM671.1 760.5m0 4.2l4.1 -7.2 -8.2 0zM673.9 748.1m0 4.2l4.1 -7.2 -8.2 0zM676.7 735.7m0 4.2l4.1 -7.2 -8.2 0zM679.6 723.5m0 4.2l4.1 -7.2 -8.2 0zM682.8 711.7m0 4.2l4.1 -7.2 -8.2 0zM686 701m0 4.2l4.1 -7.2 -8.2 0zM689.1 690.5m0 4.2l4.1 -7.2 -8.2 0zM692.3 680.4m0 4.2l4.1 -7.2 -8.2 0z"/>
<path fill="none" stroke="#00ffff" stroke-width="0.8" d="M277.4 675l.7 1.2 .8 1.5 1.1 1.8 1.1 2.1 1.3 2.1 1.2 2.2 1.3 2.1 1.2 2 1.1 1.9 1.2 1.9 1.2 1.8 1.2 1.9 1.3 1.9 1.2 1.8 1.3 1.9 1.3 1.9 1.3 1.9 1.3 1.9 1.4 1.8 1.3 1.9 1.4 1.9 1.4 1.8 1.3 1.9 1.3 1.9 1.4 1.9 1.3 1.9 1.3 1.8 1.2 1.9 1.3 1.9 1.3 1.8 1.3 1.9 1.3 1.9 1.3 1.9 1.3 1.9 1.2 1.8 1.3 1.9 1.3 1.9 1.3 1.8 1.3 1.9 1.2 1.9 1.2 1.9 1.2 1.9 1.2 1.8 1.2 1.9 1.2 1.9 1.2 1.8 1.1 1.9 1.2 1.9 1.2 1.9 1.1 1.9 1.2 1.8 1.1 1.9 1.1 1.9 1.2 1.8 1.1 1.9 1.2 1.9 1.2 1.9 1.2 1.9 1.3 1.8 1.2 1.9 1.2 1.9 1.3 1.8 1.3 1.9 1.2 1.9 1.3 1.9 1.4 1.9 1.3 1.8 1.3 1.9 1.4 1.9 1.3 1.8 1.3 1.9 1.3 1.9 1.2 1.9 1.2 1.9 1.2 1.8 1.2 1.9 1.2 1.9 1.2 1.8 1.1 1.9 1.2 1.9 .9 1.4 .5 .6 .4 .4 .4 .5 .7 1.1 1.2 2.1 2 3.5 2.9 5.4 4.1 7.7 5.1 10 6 11.4 6.4 12.5 6.6 12.7 6.5 12.4 6.1 11.4 5.3 9.9 4.7 8.3 4.4 7.5 4.1 6.8 3.9 6.3 3.7 6.1 3.7 6 3.7 6.3 3.8 6.7 3.8 7.1 3.7 7.4 3.6 7.5 3.7 7.6 3.5 7.4 3.6 7.3 3.5 7 3.6 6.7 3.5 6.3 3.5 6 3.5 5.7 3.4 5.6 3.5 5.5 3.5 5.3 3.5 5.3 3.6 5.3 3.7 5.4 3.9 5.4 3.9 5.4 3.9 5.3 3.9 5.1 3.8 4.9 3.6 4.4 3.3 4.1 3.1 3.8 2.8 3.6 2.7 3.4 2.6 3.1 2.5 2.6 2.4 2.2 2.4 1.5 2.5 .8 2.5-.1 2.6-1 2.5-1.6 2.5-2.2 2.4-2.4 2.4-2.5 2.1-2.3 2-1.9 1.7-1.5 1.5-1.1 1.2-1 1.2-1.1 1.2-1.3 1.2-1.7 1.4-2.2 1.6-3.1 1.9-3.9 2-4.5 2.3-5.1 2.2-5.6 2.3-5.8 2.3-6 2.1-6.1 1.9-6 1.7-6 1.6-6.1 1.5-6.3 1.4-6.4 1.4-6.6 1.4-6.7 1.5-6.9 1.5-7 1.6-7.3 1.6-7.5 1.7-7.8 1.7-7.9 1.7-8 1.6-7.9 1.6-7.9 1.5-7.7 1.4-7.6 1.3-7.6 1.2-7.6 1.2-7.6 1.2-7.5 1.2-7.4 1.2-7.4 1.3-7.3 1.3-7.1 1.3-6.9 1.3-6.8 1.3-6.7 1.4-6.8 1.4-6.9 1.5-7.3 1.5-7.5 1.6-7.9 1.7-8.3 1.7-8.5 1.8-8.6 1.7-8.7 1.9-8.8 1.8-8.7 1.8-8.5 1.9-8.7 1.9-8.9 2.1-9.1 2-9 1.9-8.7 1.9-8.3 1.8-7.6 1.5-6.7 1.4-6 1.3-5.4 1.2-4.9 1-4.4 1-3.8 .8-3.4 .7-2.8 .6-2.3"/>
<path fill="#00ffff" d="M277.4 675m0 -4.2l4.2 4.2 -4.2 4.3 -4.2 -4.2zM283.4 682.7m0 -4.2l4.2 4.2 -4.2 4.3 -4.2 -4.2zM282.2 685.9m0 -4.2l4.2 4.2 -4.2 4.3 -4.2 -4.2zM284.5 693.5m0 -4.2l4.2 4.2 -4.2 4.3 -4.2 -4.2zM291.3 699.1m0 -4.2l4.2 4.2 -4.2 4.3 -4.2 -4.2zM295.3 702.4m0 -4.2l4.2 4.2 -4.2 4.3 -4.2 -4.2zM298 706.4m0 -4.2l4.2 4.2 -4.2 4.3 -4.2 -4.2zM297.5 711.2m0 -4.2l4.2 4.2 -4.2 4.3 -4.2 -4.2zM300.1 712.8m0 -4.2l4.2 4.2 -4.2 4.3 -4.2 -4.2zM307.9 716.9m0 -4.2l4.2 4.2 -4.2 4.3 -4.2 -4.2zM307.3 722.1m0 -4.2l4.2 4.2 -4.2 4.3 -4.2 -4.2zM314.9 727.2m0 -4.2l4.2 4.2 -4.2 4.3 -4.2 -4.2zM313.5 735.6m0 -4.2l4.2 4.2 -4.2 4.3 -4.2 -4.2zM317.3 740.1m0 -4.2l4.2 4.2 -4.2 4.3 -4.2 -4.2zM323.4 744.8m0 -4.2l4.2 4.2 -4.2 4.3 -4.2 -4.2zM328 748.1m0 -4.2l4.2 4.2 -4.2 4.3 -4.2 -4.2zM330.3 750.2m0 -4.2l4.2 4.2 -4.2 4.3 -4.2 -4.2zM333.3 757.6m0 -4.2l4.2 4.2 -4.2 4.3 -4.2 -4.2zM336.3 760.9m0 -4.2l4.2 4.2 -4.2 4.3 -4.2 -4.2zM339.6 769.8m0 -4.2l4.2 4.2 -4.2 4.3 -4.2 -4.2zM339.7 772.3m0 -4.2l4.2 4.2 -4.2 4.3 -4.2 -4.2zM345.1 779.7m0 -4.2l4.2 4.2 -4.2 4.3 -4.2 -4.2zM347 782m0 -4.2l4.2 4.2 -4.2 4.3 -4.2 -4.2zM350.2 788.5m0 -4.2l4.2 4.2 -4.2 4.3 -4.2 -4.2zM355.5 792.7m0 -4.2l4.2 4.2 -4.2 4.3 -4.2 -4.2zM357.4 797.5m0 -4.2l4.2 4.2 -4.2 4.3 -4.2 -4.2zM360.6 802.2m0 -4.2l4.2 4.2 -4.2 4.3 -4.2 -4.2zM363.1 807.3m0 -4.2l4.2 4.2 -4.2 4.3 -4.2 -4.2zM369.2 811.6m0 -4.2l4.2 4.2 -4.2 4.3 -4.2 -4.2zM371.7 816m0 -4.2l4.2 4.2 -4.2 4.3 -4.2 -4.2zM374.8 823m0 -4.2l4.2 4.2 -4.2 4.3 -4.2 -4.2zM377.8 827.1m0 -4.2l4.2 4.2 -4.2 4.3 -4.2 -4.2zM380.6 832.8m0 -4.2l4.2 4.2 -4.2 4.3 -4.2 -4.2zM384.9 837.3m0 -4.2l4.2 4.2 -4.2 4.3 -4.2 -4.2zM386 844.7m0 -4.2l4.2 4.2 -4.2 4.3 -4.2 -4.2zM391.3 850.5m0 -4.2l4.2 4.2 -4.2 4.3 -4.2 -4.2zM393.5 857.2m0 -4.2l4.2 4.2 -4.2 4.3 -4.2 -4.2zM397 863.2m0 -4.2l4.2 4.2 -4.2 4.3 -4.2 -4.2zM400.2 869.5m0 -4.2l4.2 4.2 -4.2 4.3 -4.2 -4.2zM403.5 875.7m0 -4.2l4.2 4.2 -4.2 4.3 -4.2 -4.2zM406.8 882.1m0 -4.2l4.2 4.2 -4.2 4.3 -4.2 -4.2zM410.1 888.4m0 -4.2l4.2 4.2 -4.2 4.3 -4.2 -4.2zM413.3 894.6m0 -4.2l4.2 4.2 -4.2 4.3 -4.2 -4.2zM416.6 900.9m0 -4.2l4.2 4.2 -4.2 4.3 -4.2 -4.2zM419.7 906.8m0 -4.2l4.2 4.2 -4.2 4.3 -4.2 -4.2zM422.8 912.7m0 -4.2l4.2 4.2 -4.2 4.3 -4.2 -4.2zM425.9 918.5m0 -4.2l4.2 4.2 -4.2 4.3 -4.2 -4.2zM429.1 924.4m0 -4.2l4.2 4.2 -4.2 4.3 -4.2 -4.2zM432.3 930.2m0 -4.2l4.2 4.2 -4.2 4.3 -4.2 -4.2zM435.5 935.9m0 -4.2l4.2 4.2 -4.2 4.3 -4.2 -4.2zM438.8 941.6m0 -4.2l4.2 4.2 -4.2 4.3 -4.2 -4.2zM442 947m0 -4.2l4.2 4.2 -4.2 4.3 -4.2 -4.2zM445.2 952.1m0 -4.2l4.2 4.2 -4.2 4.3 -4.2 -4.2zM448.4 957.3m0 -4.2l4.2 4.2 -4.2 4.3 -4.2 -4.2zM451.6 962.5m0 -4.2l4.2 4.2 -4.2 4.3 -4.2 -4.2zM454.7 967.7m0 -4.2l4.2 4.2 -4.2 4.3 -4.2 -4.2zM457.9 973.1m0 -4.2l4.2 4.2 -4.2 4.3 -4.2 -4.2zM461.2 978.9m0 -4.2l4.2 4.2 -4.2 4.3 -4.2 -4.2zM464.4 984.7m0 -4.2l4.2 4.2 -4.2 4.3 -4.2 -4.2zM467.7 991.1m0 -4.2l4.2 4.2 -4.2 4.3 -4.2 -4.2zM470.9 997.5m0 -4.2l4.2 4.2 -4.2 4.3 -4.2 -4.2zM474.1 1004m0 -4.2l4.2 4.2 -4.2 4.3 -4.2 -4.2zM477.3 1010.6m0 -4.2l4.2 4.2 -4.2 4.3 -4.2 -4.2zM480.4 1017.2m0 -4.2l4.2 4.2 -4.2 4.3 -4.2 -4.2zM483.6 1023.6m0 -4.2l4.2 4.2 -4.2 4.3 -4.2 -4.2zM486.8 1030.1m0 -4.2l4.2 4.2 -4.2 4.3 -4.2 -4.2zM490.1 1036.4m0 -4.2l4.2 4.2 -4.2 4.3 -4.2 -4.2zM493.3 1042.2m0 -4.2l4.2 4.2 -4.2 4.3 -4.2 -4.2zM496.5 1047.9m0 -4.2l4.2 4.2 -4.2 4.3 -4.2 -4.2zM499.6 1053.2m0 -4.2l4.2 4.2 -4.2 4.3 -4.2 -4.2zM502.8 1058.4m0 -4.2l4.2 4.2 -4.2 4.3 -4.2 -4.2zM505.9 1063.6m0 -4.2l4.2 4.2 -4.2 4.3 -4.2 -4.2zM509.1 1068.6m0 -4.2l4.2 4.2 -4.2 4.3 -4.2 -4.2zM512.3 1073.5m0 -4.2l4.2 4.2 -4.2 4.3 -4.2 -4.2zM515.5 1078.4m0 -4.2l4.2 4.2 -4.2 4.3 -4.2 -4.2zM518.8 1083.2m0 -4.2l4.2 4.2 -4.2 4.3 -4.2 -4.2zM522 1087.9m0 -4.2l4.2 4.2 -4.2 4.3 -4.2 -4.2zM525.2 1092.5m0 -4.2l4.2 4.2 -4.2 4.3 -4.2 -4.2zM528.5 1097m0 -4.2l4.2 4.2 -4.2 4.3 -4.2 -4.2zM531.8 1101.6m0 -4.2l4.2 4.2 -4.2 4.3 -4.2 -4.2zM535.1 1106.1m0 -4.2l4.2 4.2 -4.2 4.3 -4.2 -4.2zM538.4 1110.3m0 -4.2l4.2 4.2 -4.2 4.3 -4.2 -4.2zM541.5 1114.4m0 -4.2l4.2 4.2 -4.2 4.3 -4.2 -4.2zM544.7 1118.5m0 -4.2l4.2 4.2 -4.2 4.3 -4.2 -4.2zM548 1122.6m0 -4.2l4.2 4.2 -4.2 4.3 -4.2 -4.2zM551.2 1126.4m0 -4.2l4.2 4.2 -4.2 4.3 -4.2 -4.2zM554.3 1130.4m0 -4.2l4.2 4.2 -4.2 4.3 -4.2 -4.2zM557.6 1134.6m0 -4.2l4.2 4.2 -4.2 4.3 -4.2 -4.2zM560.9 1138.5m0 -4.2l4.2 4.2 -4.2 4.3 -4.2 -4.2zM564.2 1141.8m0 -4.2l4.2 4.2 -4.2 4.3 -4.2 -4.2zM567.7 1144.5m0 -4.2l4.2 4.2 -4.2 4.3 -4.2 -4.2zM571 1146m0 -4.2l4.2 4.2 -4.2 4.3 -4.2 -4.2zM574.6 1145.3m0 -4.2l4.2 4.2 -4.2 4.3 -4.2 -4.2zM577.7 1143.7m0 -4.2l4.2 4.2 -4.2 4.3 -4.2 -4.2zM581.1 1141.1m0 -4.2l4.2 4.2 -4.2 4.3 -4.2 -4.2zM584.4 1137.8m0 -4.2l4.2 4.2 -4.2 4.3 -4.2 -4.2zM587.7 1134.3m0 -4.2l4.2 4.2 -4.2 4.3 -4.2 -4.2zM591 1131.2m0 -4.2l4.2 4.2 -4.2 4.3 -4.2 -4.2zM594.4 1128.4m0 -4.2l4.2 4.2 -4.2 4.3 -4.2 -4.2zM597.7 1124.7m0 -4.2l4.2 4.2 -4.2 4.3 -4.2 -4.2zM601 1119m0 -4.2l4.2 4.2 -4.2 4.3 -4.2 -4.2zM604.3 1112m0 -4.2l4.2 4.2 -4.2 4.3 -4.2 -4.2zM607.5 1104.6m0 -4.2l4.2 4.2 -4.2 4.3 -4.2 -4.2zM610.6 1097m0 -4.2l4.2 4.2 -4.2 4.3 -4.2 -4.2zM613.8 1088.6m0 -4.2l4.2 4.2 -4.2 4.3 -4.2 -4.2zM617 1078.9m0 -4.2l4.2 4.2 -4.2 4.3 -4.2 -4.2zM620.2 1067.7m0 -4.2l4.2 4.2 -4.2 4.3 -4.2 -4.2zM623.2 1055.6m0 -4.2l4.2 4.2 -4.2 4.3 -4.2 -4.2zM625.9 1043.3m0 -4.2l4.2 4.2 -4.2 4.3 -4.2 -4.2zM628.5 1031m0 -4.2l4.2 4.2 -4.2 4.3 -4.2 -4.2zM631.2 1018.7m0 -4.2l4.2 4.2 -4.2 4.3 -4.2 -4.2zM633.9 1006.3m0 -4.2l4.2 4.2 -4.2 4.3 -4.2 -4.2zM636.5 994m0 -4.2l4.2 4.2 -4.2 4.3 -4.2 -4.2zM639.1 981.6m0 -4.2l4.2 4.2 -4.2 4.3 -4.2 -4.2zM641.6 969m0 -4.2l4.2 4.2 -4.2 4.3 -4.2 -4.2zM644 956.4m0 -4.2l4.2 4.2 -4.2 4.3 -4.2 -4.2zM646.2 943.7m0 -4.2l4.2 4.2 -4.2 4.3 -4.2 -4.2zM648.2 931.2m0 -4.2l4.2 4.2 -4.2 4.3 -4.2 -4.2zM650.2 918.7m0 -4.2l4.2 4.2 -4.2 4.3 -4.2 -4.2zM652.3 906m0 -4.2l4.2 4.2 -4.2 4.3 -4.2 -4.2zM654.6 893.5m0 -4.2l4.2 4.2 -4.2 4.3 -4.2 -4.2zM657 881m0 -4.2l4.2 4.2 -4.2 4.3 -4.2 -4.2zM659.4 868.7m0 -4.2l4.2 4.2 -4.2 4.3 -4.2 -4.2zM662 856.1m0 -4.2l4.2 4.2 -4.2 4.3 -4.2 -4.2zM664.5 843.6m0 -4.2l4.2 4.2 -4.2 4.3 -4.2 -4.2zM667 831.3m0 -4.2l4.2 4.2 -4.2 4.3 -4.2 -4.2zM669.5 818.7m0 -4.2l4.2 4.2 -4.2 4.3 -4.2 -4.2zM672 806.4m0 -4.2l4.2 4.2 -4.2 4.3 -4.2 -4.2zM674.6 794m0 -4.2l4.2 4.2 -4.2 4.3 -4.2 -4.2zM677.3 781.5m0 -4.2l4.2 4.2 -4.2 4.3 -4.2 -4.2zM679.9 769.2m0 -4.2l4.2 4.2 -4.2 4.3 -4.2 -4.2zM682.7 756.8m0 -4.2l4.2 4.2 -4.2 4.3 -4.2 -4.2zM685.4 744.3m0 -4.2l4.2 4.2 -4.2 4.3 -4.2 -4.2zM688.3 731.8m0 -4.2l4.2 4.2 -4.2 4.3 -4.2 -4.2zM691.1 719.3m0 -4.2l4.2 4.2 -4.2 4.3 -4.2 -4.2zM693.9 707m0 -4.2l4.2 4.2 -4.2 4.3 -4.2 -4.2zM696.9 694.7m0 -4.2l4.2 4.2 -4.2 4.3 -4.2 -4.2zM699.9 682.3m0 -4.2l4.2 4.2 -4.2 4.3 -4.2 -4.2z"/>
<path fill="none" stroke="#ff00ff" stroke-width="0.8" d="M286 675l.6 1.2 .9 1.5 1 1.8 1.1 2.1 1.2 2.1 1.3 2.2 1.2 2.1 1.1 2 1.1 1.9 1.1 1.9 1.1 1.8 1.1 1.9 1.1 1.9 1.1 1.8 1.2 1.9 1.1 1.9 1.2 1.9 1.3 1.9 1.2 1.8 1.3 1.9 1.2 1.9 1.3 1.8 1.2 1.9 1.3 1.9 1.2 1.9 1.2 1.9 1.2 1.8 1.2 1.9 1.2 1.9 1.2 1.8 1.2 1.9 1.2 1.9 1.2 1.9 1.2 1.9 1.2 1.8 1.2 1.9 1.2 1.9 1.1 1.8 1.2 1.9 1.1 1.9 1.1 1.9 1.1 1.9 1.1 1.8 1.1 1.9 1 1.9 1.1 1.8 1.1 1.9 1 1.9 1.1 1.9 1.1 1.9 1 1.8 1.1 1.9 1.1 1.9 1 1.8 1.1 1.9 1.2 1.9 1.1 1.9 1.1 1.9 1.2 1.8 1.1 1.9 1.2 1.9 1.2 1.8 1.2 1.9 1.1 1.9 1.3 1.9 1.2 1.9 1.3 1.8 1.2 1.9 1.3 1.9 1.2 1.8 1.3 1.9 1.2 1.9 1.2 1.9 1.2 1.9 1.2 1.8 1.2 1.9 1.2 1.9 1.2 1.8 1.2 1.9 1.1 1.9 .9 1.4 .6 .7 .4 .4 .5 .6 .7 1.1 1.2 2.1 1.9 3.5 2.7 5.2 3.8 7.5 4.8 9.6 5.5 11 5.9 12 6.1 12.2 6 12 5.6 11.1 5.1 9.6 4.5 8.2 4.3 7.5 4.1 6.8 4 6.4 3.8 6.2 3.8 6.1 3.7 6.3 3.8 6.5 3.8 6.8 3.7 6.9 3.6 6.9 3.6 7 3.6 6.8 3.5 6.7 3.6 6.6 3.6 6.3 3.6 6.1 3.6 5.9 3.5 5.7 3.5 5.5 3.6 5.5 3.7 5.5 3.7 5.4 3.8 5.4 4 5.5 4.2 5.5 4.2 5.5 4.4 5.5 4.2 5.3 4.2 5.2 4 4.9 3.8 4.6 3.6 4.5 3.4 4.7 3.3 4.5 3.1 4.3 3.1 3.8 2.9 3.3 2.9 2.4 2.7 1.5 2.6 .4 2.5-.7 2.4-1.4 2.3-2.1 2.2-2.5 2.1-2.6 2-2.7 1.9-2.4 1.8-2.2 1.5-2.2 1.5-2.2 1.3-2.3 1.4-2.7 1.4-3 1.4-3.4 1.7-4 1.8-4.7 2-5.3 2-5.8 2.1-6.2 2.1-6.3 2.1-6.4 2-6.3 1.9-6 1.8-5.7 1.7-5.5 1.6-5.5 1.7-5.5 1.5-5.6 1.6-5.7 1.5-6.1 1.6-6.4 1.6-6.9 1.5-7.2 1.6-7.6 1.5-7.7 1.5-7.8 1.5-7.8 1.4-7.6 1.4-7.4 1.3-7.2 1.3-7 1.2-7 1.1-6.9 1.2-6.9 1.2-7 1.3-6.9 1.4-7.1 1.5-7 1.6-6.8 1.6-6.7 1.6-6.8 1.7-7 1.7-7.4 1.7-7.8 1.6-8.5 1.6-9.3 1.6-10.2 1.5-10.7 1.6-11 1.5-11.1 1.6-10.8 1.5-10.4 1.6-9.5 1.6-9 1.6-8.9 1.7-8.6 1.6-8.3 1.6-7.7 1.6-7.2 1.5-6.6 1.3-5.7 1.3-4.9 1.2-4.1 1.2-3.5 1.1-2.9 1-2.4 .9-2 .7-1.7 .6-1.5"/>
<path fill="#ff00ff" d="M286 675m-4.2 0l7.2 4.1 0 -8.2zM287 679.1m-4.2 0l7.2 4.1 0 -8.2zM290.5 687.2m-4.2 0l7.2 4.1 0 -8.2zM294.6 690.7m-4.2 0l7.2 4.1 0 -8.2zM300.3 701m-4.2 0l7.2 4.1 0 -8.2zM301 704.5m-4.2 0l7.2 4.1 0 -8.2zM304.9 710.5m-4.2 0l7.2 4.1 0 -8.2zM309.2 711.7m-4.2 0l7.2 4.1 0 -8.2zM310.1 714.9m-4.2 0l7.2 4.1 0 -8.2zM314.8 721.8m-4.2 0l7.2 4.1 0 -8.2zM316.3 726.7m-4.2 0l7.2 4.1 0 -8.2zM320.5 734.2m-4.2 0l7.2 4.1 0 -8.2zM322.9 740.5m-4.2 0l7.2 4.1 0 -8.2zM327.9 743.6m-4.2 0l7.2 4.1 0 -8.2zM331 749.8m-4.2 0l7.2 4.1 0 -8.2zM336.1 754m-4.2 0l7.2 4.1 0 -8.2zM337.6 760.4m-4.2 0l7.2 4.1 0 -8.2zM342.6 764.5m-4.2 0l7.2 4.1 0 -8.2zM345.2 772.7m-4.2 0l7.2 4.1 0 -8.2zM347.2 775.1m-4.2 0l7.2 4.1 0 -8.2zM349.6 782.8m-4.2 0l7.2 4.1 0 -8.2zM354.5 788.9m-4.2 0l7.2 4.1 0 -8.2zM358.5 791.3m-4.2 0l7.2 4.1 0 -8.2zM359.3 796.6m-4.2 0l7.2 4.1 0 -8.2zM362.7 803.2m-4.2 0l7.2 4.1 0 -8.2zM368.2 808.6m-4.2 0l7.2 4.1 0 -8.2zM369.3 813.2m-4.2 0l7.2 4.1 0 -8.2zM372.8 816.8m-4.2 0l7.2 4.1 0 -8.2zM377.3 821m-4.2 0l7.2 4.1 0 -8.2zM378.6 828.1m-4.2 0l7.2 4.1 0 -8.2zM382.5 832.1m-4.2 0l7.2 4.1 0 -8.2zM386.5 838.7m-4.2 0l7.2 4.1 0 -8.2zM388.4 844.3m-4.2 0l7.2 4.1 0 -8.2zM392.7 851.1m-4.2 0l7.2 4.1 0 -8.2zM395.4 857.7m-4.2 0l7.2 4.1 0 -8.2zM399.2 864m-4.2 0l7.2 4.1 0 -8.2zM402.4 870.4m-4.2 0l7.2 4.1 0 -8.2zM405.6 876.8m-4.2 0l7.2 4.1 0 -8.2zM408.7 883.2m-4.2 0l7.2 4.1 0 -8.2zM411.9 889.6m-4.2 0l7.2 4.1 0 -8.2zM415.1 896m-4.2 0l7.2 4.1 0 -8.2zM418.3 902.5m-4.2 0l7.2 4.1 0 -8.2zM421.5 908.7m-4.2 0l7.2 4.1 0 -8.2zM424.7 914.9m-4.2 0l7.2 4.1 0 -8.2zM427.8 920.9m-4.2 0l7.2 4.1 0 -8.2zM430.9 926.6m-4.2 0l7.2 4.1 0 -8.2zM434.1 932.4m-4.2 0l7.2 4.1 0 -8.2zM437.3 938m-4.2 0l7.2 4.1 0 -8.2zM440.6 943.6m-4.2 0l7.2 4.1 0 -8.2zM443.7 948.8m-4.2 0l7.2 4.1 0 -8.2zM446.9 953.9m-4.2 0l7.2 4.1 0 -8.2zM450.1 959.2m-4.2 0l7.2 4.1 0 -8.2zM453.4 964.5m-4.2 0l7.2 4.1 0 -8.2zM456.6 969.8m-4.2 0l7.2 4.1 0 -8.2zM459.9 975.5m-4.2 0l7.2 4.1 0 -8.2zM463.2 981.3m-4.2 0l7.2 4.1 0 -8.2zM466.5 987.2m-4.2 0l7.2 4.1 0 -8.2zM469.8 993.4m-4.2 0l7.2 4.1 0 -8.2zM473.1 999.6m-4.2 0l7.2 4.1 0 -8.2zM476.2 1005.6m-4.2 0l7.2 4.1 0 -8.2zM479.5 1012m-4.2 0l7.2 4.1 0 -8.2zM482.9 1018.3m-4.2 0l7.2 4.1 0 -8.2zM486.1 1024.4m-4.2 0l7.2 4.1 0 -8.2zM489.5 1030.3m-4.2 0l7.2 4.1 0 -8.2zM492.8 1036m-4.2 0l7.2 4.1 0 -8.2zM496 1041.4m-4.2 0l7.2 4.1 0 -8.2zM499.3 1046.7m-4.2 0l7.2 4.1 0 -8.2zM502.5 1051.9m-4.2 0l7.2 4.1 0 -8.2zM505.8 1057m-4.2 0l7.2 4.1 0 -8.2zM509.1 1062.1m-4.2 0l7.2 4.1 0 -8.2zM512.5 1067.2m-4.2 0l7.2 4.1 0 -8.2zM515.6 1071.7m-4.2 0l7.2 4.1 0 -8.2zM518.8 1076.3m-4.2 0l7.2 4.1 0 -8.2zM522.2 1081m-4.2 0l7.2 4.1 0 -8.2zM525.5 1085.4m-4.2 0l7.2 4.1 0 -8.2zM528.8 1089.8m-4.2 0l7.2 4.1 0 -8.2zM532.1 1094.1m-4.2 0l7.2 4.1 0 -8.2zM535.4 1098.3m-4.2 0l7.2 4.1 0 -8.2zM538.7 1102.4m-4.2 0l7.2 4.1 0 -8.2zM542 1106.5m-4.2 0l7.2 4.1 0 -8.2zM545.2 1110.5m-4.2 0l7.2 4.1 0 -8.2zM548.6 1114.6m-4.2 0l7.2 4.1 0 -8.2zM551.7 1118.4m-4.2 0l7.2 4.1 0 -8.2zM554.9 1122.5m-4.2 0l7.2 4.1 0 -8.2zM558.1 1126.7m-4.2 0l7.2 4.1 0 -8.2zM561.4 1131.2m-4.2 0l7.2 4.1 0 -8.2zM564.6 1135.5m-4.2 0l7.2 4.1 0 -8.2zM568 1139.9m-4.2 0l7.2 4.1 0 -8.2zM571.1 1143.5m-4.2 0l7.2 4.1 0 -8.2zM574.5 1146.8m-4.2 0l7.2 4.1 0 -8.2zM578 1149m-4.2 0l7.2 4.1 0 -8.2zM581.6 1148.8m-4.2 0l7.2 4.1 0 -8.2zM585 1147.4m-4.2 0l7.2 4.1 0 -8.2zM588.5 1144.2m-4.2 0l7.2 4.1 0 -8.2zM591.7 1140.5m-4.2 0l7.2 4.1 0 -8.2zM595 1136.3m-4.2 0l7.2 4.1 0 -8.2zM598.4 1131.9m-4.2 0l7.2 4.1 0 -8.2zM601.6 1127m-4.2 0l7.2 4.1 0 -8.2zM604.9 1120.4m-4.2 0l7.2 4.1 0 -8.2zM608 1113m-4.2 0l7.2 4.1 0 -8.2zM611.2 1104.4m-4.2 0l7.2 4.1 0 -8.2zM614.4 1095.3m-4.2 0l7.2 4.1 0 -8.2zM617.6 1086.1m-4.2 0l7.2 4.1 0 -8.2zM620.7 1076.4m-4.2 0l7.2 4.1 0 -8.2zM623.8 1066.5m-4.2 0l7.2 4.1 0 -8.2zM627 1056.2m-4.2 0l7.2 4.1 0 -8.2zM630.2 1045.8m-4.2 0l7.2 4.1 0 -8.2zM633.3 1034.4m-4.2 0l7.2 4.1 0 -8.2zM636.5 1022m-4.2 0l7.2 4.1 0 -8.2zM639.2 1009.8m-4.2 0l7.2 4.1 0 -8.2zM641.8 997.5m-4.2 0l7.2 4.1 0 -8.2zM644.3 984.8m-4.2 0l7.2 4.1 0 -8.2zM646.7 972.4m-4.2 0l7.2 4.1 0 -8.2zM649 960m-4.2 0l7.2 4.1 0 -8.2zM651.3 947.3m-4.2 0l7.2 4.1 0 -8.2zM653.4 934.9m-4.2 0l7.2 4.1 0 -8.2zM655.6 922.5m-4.2 0l7.2 4.1 0 -8.2zM657.9 910m-4.2 0l7.2 4.1 0 -8.2zM660.4 897.5m-4.2 0l7.2 4.1 0 -8.2zM663.3 885m-4.2 0l7.2 4.1 0 -8.2zM666.3 872.6m-4.2 0l7.2 4.1 0 -8.2zM669.1 860.4m-4.2 0l7.2 4.1 0 -8.2zM671.6 848m-4.2 0l7.2 4.1 0 -8.2zM673.7 835.5m-4.2 0l7.2 4.1 0 -8.2zM675.6 822.9m-4.2 0l7.2 4.1 0 -8.2zM677.5 810.3m-4.2 0l7.2 4.1 0 -8.2zM679.3 797.7m-4.2 0l7.2 4.1 0 -8.2zM681 785.3m-4.2 0l7.2 4.1 0 -8.2zM682.9 772.5m-4.2 0l7.2 4.1 0 -8.2zM685.1 760m-4.2 0l7.2 4.1 0 -8.2zM687.3 747.6m-4.2 0l7.2 4.1 0 -8.2zM689.7 735.2m-4.2 0l7.2 4.1 0 -8.2zM692.1 722.9m-4.2 0l7.2 4.1 0 -8.2zM694.8 710.7m-4.2 0l7.2 4.1 0 -8.2zM697.8 698.1m-4.2 0l7.2 4.1 0 -8.2zM701 688m-4.2 0l7.2 4.1 0 -8.2zM704.2 680m-4.2 0l7.2 4.1 0 -8.2z"/>
<path fill="none" stroke="#ffff00" stroke-width="0.8" d="M281.7 675l.7 1.2 .8 1.5 1 1.8 1.2 2.1 1.2 2.1 1.2 2.2 1.3 2.1 1.1 2 1.2 1.9 1.1 1.9 1.1 1.8 1.2 1.9 1.2 1.9 1.2 1.8 1.2 1.9 1.2 1.9 1.3 1.9 1.2 1.9 1.3 1.8 1.3 1.9 1.4 1.9 1.3 1.8 1.3 1.9 1.3 1.9 1.2 1.9 1.3 1.9 1.2 1.8 1.3 1.9 1.2 1.9 1.3 1.8 1.2 1.9 1.2 1.9 1.3 1.9 1.2 1.9 1.3 1.8 1.2 1.9 1.2 1.9 1.3 1.8 1.2 1.9 1.2 1.9 1.1 1.9 1.2 1.9 1.1 1.8 1.1 1.9 1.2 1.9 1.1 1.8 1.1 1.9 1.1 1.9 1.1 1.9 1.1 1.9 1.1 1.8 1.1 1.9 1.1 1.9 1.2 1.8 1.1 1.9 1.1 1.9 1.2 1.9 1.2 1.9 1.2 1.8 1.2 1.9 1.2 1.9 1.2 1.8 1.2 1.9 1.2 1.9 1.3 1.9 1.3 1.9 1.3 1.8 1.3 1.9 1.3 1.9 1.3 1.8 1.2 1.9 1.3 1.9 1.2 1.9 1.2 1.9 1.2 1.8 1.2 1.9 1.2 1.9 1.2 1.8 1.1 1.9 1.2 1.9 .9 1.4 .6 .8 .4 .4 .5 .6 .7 1.2 1.2 2.1 1.9 3.4 2.7 5.1 3.9 7.3 4.7 9.3 5.5 10.8 6 11.7 6.1 11.9 6 11.7 5.7 10.8 5.1 9.5 4.5 8.2 4.3 7.4 4.1 6.9 4 6.5 3.8 6.2 3.8 6.2 3.7 6.2 3.8 6.4 3.8 6.6 3.7 6.5 3.6 6.6 3.6 6.4 3.6 6.4 3.5 6.3 3.6 6.2 3.6 6 3.6 5.8 3.5 5.6 3.4 5.5 3.5 5.4 3.5 5.4 3.7 5.3 3.8 5.5 4 5.5 4.3 5.7 4.6 6 4.8 6 4.9 6 4.8 5.9 4.8 5.8 4.6 5.5 4.2 5.1 4 5 3.9 5.2 3.8 5.1 3.6 4.8 3.5 4.3 3.3 3.7 3 3 2.9 1.9 2.6 .8 2.3-.3 2.1-1.2 1.9-1.7 1.8-2.2 1.7-2.3 1.8-2.2 1.8-1.9 1.8-1.5 1.7-1.4 1.7-1.3 1.7-1.5 1.6-1.7 1.8-2.2 1.8-2.8 1.9-3.6 2.1-4.4 2.2-5.3 2.4-5.8 2.4-6.3 2.3-6.5 2.4-6.7 2.2-6.6 2-6.4 1.9-6.3 1.8-6.4 1.7-6.5 1.6-6.6 1.6-6.5 1.5-6.6 1.5-6.6 1.4-6.5 1.4-6.4 1.2-6.4 1.2-6.3 1.2-6.3 1.2-6.4 1.2-6.5 1.2-6.7 1.4-7 1.5-7.2 1.6-7.3 1.7-7.5 1.7-7.6 1.7-7.8 1.7-8 1.6-8.2 1.5-8.4 1.4-8.7 1.2-9 1.2-9.2 1.1-9.4 1.1-9.5 1.2-9.5 1.3-9.4 1.5-9.3 1.6-9.1 1.8-9 1.8-9 1.9-9 2-9 2-9.1 1.9-9.3 2-9.5 2.1-10.3 2.2-11.3 2.3-11.7 2.3-11.8 2.2-11.1 2-10.1 1.7-8.4 1.2-6.3"/>
<path fill="#ffff00" d="M281.7 675m4.2 0l-7.2 4.1 0 -8.2zM288 679.9m4.2 0l-7.2 4.1 0 -8.2zM288.3 683.6m4.2 0l-7.2 4.1 0 -8.2zM289.9 693m4.2 0l-7.2 4.1 0 -8.2zM292.1 699.5m4.2 0l-7.2 4.1 0 -8.2zM300.4 699.7m4.2 0l-7.2 4.1 0 -8.2zM303.7 706.2m4.2 0l-7.2 4.1 0 -8.2zM305.8 713.2m4.2 0l-7.2 4.1 0 -8.2zM306.2 717.3m4.2 0l-7.2 4.1 0 -8.2zM311.5 722.8m4.2 0l-7.2 4.1 0 -8.2zM312.4 727.1m4.2 0l-7.2 4.1 0 -8.2zM319.4 731.3m4.2 0l-7.2 4.1 0 -8.2zM320.2 733.1m4.2 0l-7.2 4.1 0 -8.2zM323.4 739.4m4.2 0l-7.2 4.1 0 -8.2zM327.6 745.9m4.2 0l-7.2 4.1 0 -8.2zM330.1 748.4m4.2 0l-7.2 4.1 0 -8.2zM333.7 755.8m4.2 0l-7.2 4.1 0 -8.2zM334.6 762.2m4.2 0l-7.2 4.1 0 -8.2zM340.1 764.3m4.2 0l-7.2 4.1 0 -8.2zM344.6 770.1m4.2 0l-7.2 4.1 0 -8.2zM345.4 778.2m4.2 0l-7.2 4.1 0 -8.2zM349.7 782.7m4.2 0l-7.2 4.1 0 -8.2zM353 787.3m4.2 0l-7.2 4.1 0 -8.2zM355.1 791.5m4.2 0l-7.2 4.1 0 -8.2zM357.4 798.2m4.2 0l-7.2 4.1 0 -8.2zM363.1 802.2m4.2 0l-7.2 4.1 0 -8.2zM366.3 806.3m4.2 0l-7.2 4.1 0 -8.2zM368 811.5m4.2 0l-7.2 4.1 0 -8.2zM373.3 815.6m4.2 0l-7.2 4.1 0 -8.2zM375.4 821.5m4.2 0l-7.2 4.1 0 -8.2zM379.4 826.7m4.2 0l-7.2 4.1 0 -8.2zM381.3 832m4.2 0l-7.2 4.1 0 -8.2zM385.1 838.9m4.2 0l-7.2 4.1 0 -8.2zM387.8 845m4.2 0l-7.2 4.1 0 -8.2zM390.5 849.9m4.2 0l-7.2 4.1 0 -8.2zM393.8 855.8m4.2 0l-7.2 4.1 0 -8.2zM397.9 862.9m4.2 0l-7.2 4.1 0 -8.2zM401.1 869.2m4.2 0l-7.2 4.1 0 -8.2zM404.3 875.5m4.2 0l-7.2 4.1 0 -8.2zM407.5 881.9m4.2 0l-7.2 4.1 0 -8.2zM410.8 888.3m4.2 0l-7.2 4.1 0 -8.2zM414.1 894.6m4.2 0l-7.2 4.1 0 -8.2zM417.3 900.9m4.2 0l-7.2 4.1 0 -8.2zM420.6 907.2m4.2 0l-7.2 4.1 0 -8.2zM423.9 913.5m4.2 0l-7.2 4.1 0 -8.2zM427.1 919.4m4.2 0l-7.2 4.1 0 -8.2zM430.3 925.3m4.2 0l-7.2 4.1 0 -8.2zM433.5 931.2m4.2 0l-7.2 4.1 0 -8.2zM436.8 936.9m4.2 0l-7.2 4.1 0 -8.2zM440.1 942.5m4.2 0l-7.2 4.1 0 -8.2zM443.3 947.7m4.2 0l-7.2 4.1 0 -8.2zM446.5 953m4.2 0l-7.2 4.1 0 -8.2zM449.7 958.2m4.2 0l-7.2 4.1 0 -8.2zM452.9 963.5m4.2 0l-7.2 4.1 0 -8.2zM456.1 968.8m4.2 0l-7.2 4.1 0 -8.2zM459.5 974.4m4.2 0l-7.2 4.1 0 -8.2zM462.7 980.1m4.2 0l-7.2 4.1 0 -8.2zM466 985.8m4.2 0l-7.2 4.1 0 -8.2zM469.3 991.7m4.2 0l-7.2 4.1 0 -8.2zM472.5 997.4m4.2 0l-7.2 4.1 0 -8.2zM475.7 1003.1m4.2 0l-7.2 4.1 0 -8.2zM479 1009.1m4.2 0l-7.2 4.1 0 -8.2zM482.3 1014.9m4.2 0l-7.2 4.1 0 -8.2zM485.6 1020.7m4.2 0l-7.2 4.1 0 -8.2zM489 1026.3m4.2 0l-7.2 4.1 0 -8.2zM492.2 1031.6m4.2 0l-7.2 4.1 0 -8.2zM495.4 1036.8m4.2 0l-7.2 4.1 0 -8.2zM498.7 1041.9m4.2 0l-7.2 4.1 0 -8.2zM502 1047.2m4.2 0l-7.2 4.1 0 -8.2zM505.3 1052.3m4.2 0l-7.2 4.1 0 -8.2zM508.7 1057.3m4.2 0l-7.2 4.1 0 -8.2zM511.8 1061.9m4.2 0l-7.2 4.1 0 -8.2zM515 1066.5m4.2 0l-7.2 4.1 0 -8.2zM518.4 1071.1m4.2 0l-7.2 4.1 0 -8.2zM521.8 1075.7m4.2 0l-7.2 4.1 0 -8.2zM525.1 1080.1m4.2 0l-7.2 4.1 0 -8.2zM528.3 1084.1m4.2 0l-7.2 4.1 0 -8.2zM531.4 1088.1m4.2 0l-7.2 4.1 0 -8.2zM534.7 1092.1m4.2 0l-7.2 4.1 0 -8.2zM537.9 1096.1m4.2 0l-7.2 4.1 0 -8.2zM541.1 1100m4.2 0l-7.2 4.1 0 -8.2zM544.3 1103.9m4.2 0l-7.2 4.1 0 -8.2zM547.6 1107.8m4.2 0l-7.2 4.1 0 -8.2zM550.8 1111.7m4.2 0l-7.2 4.1 0 -8.2zM554 1115.6m4.2 0l-7.2 4.1 0 -8.2zM557.2 1119.5m4.2 0l-7.2 4.1 0 -8.2zM560.4 1123.7m4.2 0l-7.2 4.1 0 -8.2zM563.6 1127.8m4.2 0l-7.2 4.1 0 -8.2zM566.7 1132m4.2 0l-7.2 4.1 0 -8.2zM570.1 1136.4m4.2 0l-7.2 4.1 0 -8.2zM573.2 1140.4m4.2 0l-7.2 4.1 0 -8.2zM576.3 1144.1m4.2 0l-7.2 4.1 0 -8.2zM579.7 1147.5m4.2 0l-7.2 4.1 0 -8.2zM582.8 1150.1m4.2 0l-7.2 4.1 0 -8.2zM586.1 1151.6m4.2 0l-7.2 4.1 0 -8.2zM589.5 1150.7m4.2 0l-7.2 4.1 0 -8.2zM592.9 1148.6m4.2 0l-7.2 4.1 0 -8.2zM596.1 1144.5m4.2 0l-7.2 4.1 0 -8.2zM599.3 1140.8m4.2 0l-7.2 4.1 0 -8.2zM602.8 1137.8m4.2 0l-7.2 4.1 0 -8.2zM606.1 1135m4.2 0l-7.2 4.1 0 -8.2zM609.2 1131.5m4.2 0l-7.2 4.1 0 -8.2zM612.6 1126.2m4.2 0l-7.2 4.1 0 -8.2zM615.9 1120m4.2 0l-7.2 4.1 0 -8.2zM619.1 1112.3m4.2 0l-7.2 4.1 0 -8.2zM622.3 1104.2m4.2 0l-7.2 4.1 0 -8.2zM625.4 1095.7m4.2 0l-7.2 4.1 0 -8.2zM628.7 1086.2m4.2 0l-7.2 4.1 0 -8.2zM631.8 1076.5m4.2 0l-7.2 4.1 0 -8.2zM635 1065.7m4.2 0l-7.2 4.1 0 -8.2zM638.1 1053.7m4.2 0l-7.2 4.1 0 -8.2zM641 1041.5m4.2 0l-7.2 4.1 0 -8.2zM643.9 1029m4.2 0l-7.2 4.1 0 -8.2zM646.5 1016.7m4.2 0l-7.2 4.1 0 -8.2zM648.9 1004.1m4.2 0l-7.2 4.1 0 -8.2zM651.2 991.7m4.2 0l-7.2 4.1 0 -8.2zM653.6 979m4.2 0l-7.2 4.1 0 -8.2zM656.2 966.3m4.2 0l-7.2 4.1 0 -8.2zM658.9 954m4.2 0l-7.2 4.1 0 -8.2zM661.7 941.5m4.2 0l-7.2 4.1 0 -8.2zM664.4 929.1m4.2 0l-7.2 4.1 0 -8.2zM666.8 916.5m4.2 0l-7.2 4.1 0 -8.2zM668.9 903.9m4.2 0l-7.2 4.1 0 -8.2zM670.6 891.2m4.2 0l-7.2 4.1 0 -8.2zM672.2 878.7m4.2 0l-7.2 4.1 0 -8.2zM673.8 866.2m4.2 0l-7.2 4.1 0 -8.2zM675.4 853.8m4.2 0l-7.2 4.1 0 -8.2zM677.3 841.1m4.2 0l-7.2 4.1 0 -8.2zM679.4 828.4m4.2 0l-7.2 4.1 0 -8.2zM681.8 815.9m4.2 0l-7.2 4.1 0 -8.2zM684.4 803.4m4.2 0l-7.2 4.1 0 -8.2zM687.1 790.9m4.2 0l-7.2 4.1 0 -8.2zM689.8 778.5m4.2 0l-7.2 4.1 0 -8.2zM692.4 766m4.2 0l-7.2 4.1 0 -8.2zM694.9 753.7m4.2 0l-7.2 4.1 0 -8.2zM697.3 741.4m4.2 0l-7.2 4.1 0 -8.2zM699.8 728.9m4.2 0l-7.2 4.1 0 -8.2zM702.2 716.6m4.2 0l-7.2 4.1 0 -8.2zM704.6 704.2m4.2 0l-7.2 4.1 0 -8.2zM707.1 691.8m4.2 0l-7.2 4.1 0 -8.2z"/>
<path fill="none" stroke="#808000" stroke-width="0.8" d="M253.8 675l.7 1.2 .9 1.5 1.1 1.8 1.2 2.1 1.3 2.1 1.4 2.2 1.4 2.1 1.4 2 1.3 1.9 1.5 1.9 1.5 1.8 1.5 1.9 1.6 1.9 1.6 1.8 1.6 1.9 1.5 1.9 1.6 1.9 1.7 1.9 1.6 1.8 1.7 1.9 1.6 1.9 1.7 1.8 1.6 1.9 1.6 1.9 1.5 1.9 1.6 1.9 1.5 1.8 1.5 1.9 1.5 1.9 1.5 1.8 1.5 1.9 1.6 1.9 1.5 1.9 1.6 1.9 1.6 1.8 1.6 1.9 1.6 1.9 1.6 1.8 1.6 1.9 1.5 1.9 1.5 1.9 1.6 1.9 1.5 1.8 1.5 1.9 1.5 1.9 1.4 1.8 1.5 1.9 1.4 1.9 1.4 1.9 1.4 1.9 1.3 1.8 1.3 1.9 1.4 1.9 1.3 1.8 1.3 1.9 1.4 1.9 1.4 1.9 1.5 1.9 1.4 1.8 1.5 1.9 1.4 1.9 1.5 1.8 1.5 1.9 1.5 1.9 1.5 1.9 1.5 1.9 1.6 1.8 1.6 1.9 1.5 1.9 1.5 1.8 1.5 1.9 1.4 1.9 1.3 1.9 1.2 1.9 1.2 1.8 1.2 1.9 1.1 1.9 1.1 1.8 1.2 1.9 1.1 1.9 .9 1.4 .5 .8 .4 .5 .4 .7 .7 1.1 1.3 2.1 2 3.4 3.1 5 4.4 7.1 5.6 9.1 6.4 10.5 7 11.3 7.1 11.6 7 11.4 6.5 10.7 5.6 9.3 4.9 8.2 4.4 7.5 4.1 7.1 3.9 6.8 3.7 6.4 3.6 6.4 3.7 6.2 3.7 6.4 3.8 6.4 3.6 6.2 3.7 6.1 3.5 6 3.6 5.9 3.6 5.8 3.5 5.8 3.7 5.8 3.6 5.6 3.6 5.5 3.5 5.3 3.5 5.4 3.7 5.3 3.8 5.4 4 5.6 4.3 5.9 4.7 6.2 5.1 6.7 5.3 6.8 5.5 7 5.4 6.8 5.3 6.6 5.1 6.3 4.6 5.6 4.3 5.3 4.1 5.4 3.9 5.1 3.8 4.8 3.5 4.2 3.3 3.6 3.2 2.8 2.9 1.8 2.6 .6 2.3-.4 2-1.4 1.9-1.9 1.7-2.4 1.7-2.6 1.8-2.6 2-2.3 2.1-2.1 2.1-2 2.1-2 2.1-2.3 2.2-2.5 2.1-2.8 2.2-3.4 2.1-3.9 2.2-4.6 2.2-5.2 2.2-5.6 2.2-6 2.2-6.3 2.1-6.4 2-6.5 1.9-6.4 1.8-6.4 1.6-6.7 1.6-6.7 1.4-6.9 1.5-6.9 1.4-6.9 1.3-6.8 1.4-6.7 1.3-6.6 1.3-6.4 1.3-6.5 1.2-6.4 1.2-6.4 1.2-6.5 1.2-6.5 1.3-6.7 1.3-6.7 1.4-6.6 1.4-6.6 1.4-6.7 1.4-6.9 1.4-7.1 1.4-7.5 1.3-7.9 1.3-8.4 1.2-8.8 1.1-9.1 1.2-9.4 1.1-9.5 1.3-9.7 1.3-9.6 1.5-9.5 1.6-9.5 1.8-9.5 1.8-9.6 1.9-9.6 1.9-9.6 2-9.7 2-9.8 2-9.7 2.1-10.3 2.4-11.2 2.5-11.5 2.4-11.3 2.4-10.8 2.1-9.7 1.8-8.1 1.3-6.1"/>
<path fill="#808000" d="M253.8 675m3.4 2l-3.4 2 -3.4 -2 0 -3.9 3.4 -2 3.4 2zM258.8 681.8m3.4 2l-3.4 2 -3.4 -2 0 -3.9 3.4 -2 3.4 2zM258 683.4m3.4 2l-3.4 2 -3.4 -2 0 -3.9 3.4 -2 3.4 2zM262.8 691.8m3.4 2l-3.4 2 -3.4 -2 0 -3.9 3.4 -2 3.4 2zM268.6 696m3.4 2l-3.4 2 -3.4 -2 0 -3.9 3.4 -2 3.4 2zM270.5 696.3m3.4 2l-3.4 2 -3.4 -2 0 -3.9 3.4 -2 3.4 2zM272.4 700.4m3.4 2l-3.4 2 -3.4 -2 0 -3.9 3.4 -2 3.4 2zM276.5 706.5m3.4 2l-3.4 2 -3.4 -2 0 -3.9 3.4 -2 3.4 2zM277.7 708.3m3.4 2l-3.4 2 -3.4 -2 0 -3.9 3.4 -2 3.4 2zM284.5 710.8m3.4 2l-3.4 2 -3.4 -2 0 -3.9 3.4 -2 3.4 2zM287.8 719.6m3.4 2l-3.4 2 -3.4 -2 0 -3.9 3.4 -2 3.4 2zM291.8 720.4m3.4 2l-3.4 2 -3.4 -2 0 -3.9 3.4 -2 3.4 2zM293 725.7m3.4 2l-3.4 2 -3.4 -2 0 -3.9 3.4 -2 3.4 2zM296.8 732m3.4 2l-3.4 2 -3.4 -2 0 -3.9 3.4 -2 3.4 2zM300.3 732.3m3.4 2l-3.4 2 -3.4 -2 0 -3.9 3.4 -2 3.4 2zM304.6 737.4m3.4 2l-3.4 2 -3.4 -2 0 -3.9 3.4 -2 3.4 2zM306.5 742.5m3.4 2l-3.4 2 -3.4 -2 0 -3.9 3.4 -2 3.4 2zM306.5 746.4m3.4 2l-3.4 2 -3.4 -2 0 -3.9 3.4 -2 3.4 2zM313 748.7m3.4 2l-3.4 2 -3.4 -2 0 -3.9 3.4 -2 3.4 2zM315.7 752.7m3.4 2l-3.4 2 -3.4 -2 0 -3.9 3.4 -2 3.4 2zM317.5 757.2m3.4 2l-3.4 2 -3.4 -2 0 -3.9 3.4 -2 3.4 2zM320.1 761.3m3.4 2l-3.4 2 -3.4 -2 0 -3.9 3.4 -2 3.4 2zM326.3 765.4m3.4 2l-3.4 2 -3.4 -2 0 -3.9 3.4 -2 3.4 2zM329.2 772.2m3.4 2l-3.4 2 -3.4 -2 0 -3.9 3.4 -2 3.4 2zM334 773.4m3.4 2l-3.4 2 -3.4 -2 0 -3.9 3.4 -2 3.4 2zM336.8 780.1m3.4 2l-3.4 2 -3.4 -2 0 -3.9 3.4 -2 3.4 2zM336.9 783.2m3.4 2l-3.4 2 -3.4 -2 0 -3.9 3.4 -2 3.4 2zM340.8 786.1m3.4 2l-3.4 2 -3.4 -2 0 -3.9 3.4 -2 3.4 2zM345.3 793.5m3.4 2l-3.4 2 -3.4 -2 0 -3.9 3.4 -2 3.4 2zM347.8 797.4m3.4 2l-3.4 2 -3.4 -2 0 -3.9 3.4 -2 3.4 2zM352.6 798.9m3.4 2l-3.4 2 -3.4 -2 0 -3.9 3.4 -2 3.4 2zM356.2 804.3m3.4 2l-3.4 2 -3.4 -2 0 -3.9 3.4 -2 3.4 2zM359.7 808.9m3.4 2l-3.4 2 -3.4 -2 0 -3.9 3.4 -2 3.4 2zM362.4 812.4m3.4 2l-3.4 2 -3.4 -2 0 -3.9 3.4 -2 3.4 2zM365.9 819.4m3.4 2l-3.4 2 -3.4 -2 0 -3.9 3.4 -2 3.4 2zM369.2 823.1m3.4 2l-3.4 2 -3.4 -2 0 -3.9 3.4 -2 3.4 2zM372 828.3m3.4 2l-3.4 2 -3.4 -2 0 -3.9 3.4 -2 3.4 2zM373.4 832.4m3.4 2l-3.4 2 -3.4 -2 0 -3.9 3.4 -2 3.4 2zM376.8 838.3m3.4 2l-3.4 2 -3.4 -2 0 -3.9 3.4 -2 3.4 2zM380.3 844.5m3.4 2l-3.4 2 -3.4 -2 0 -3.9 3.4 -2 3.4 2zM384.8 849.8m3.4 2l-3.4 2 -3.4 -2 0 -3.9 3.4 -2 3.4 2zM387.4 855.2m3.4 2l-3.4 2 -3.4 -2 0 -3.9 3.4 -2 3.4 2zM390.8 860.1m3.4 2l-3.4 2 -3.4 -2 0 -3.9 3.4 -2 3.4 2zM394 865.4m3.4 2l-3.4 2 -3.4 -2 0 -3.9 3.4 -2 3.4 2zM397.2 870.6m3.4 2l-3.4 2 -3.4 -2 0 -3.9 3.4 -2 3.4 2zM400.4 875.8m3.4 2l-3.4 2 -3.4 -2 0 -3.9 3.4 -2 3.4 2zM403.6 881m3.4 2l-3.4 2 -3.4 -2 0 -3.9 3.4 -2 3.4 2zM406.8 886.2m3.4 2l-3.4 2 -3.4 -2 0 -3.9 3.4 -2 3.4 2zM410 891.4m3.4 2l-3.4 2 -3.4 -2 0 -3.9 3.4 -2 3.4 2zM413.2 896.7m3.4 2l-3.4 2 -3.4 -2 0 -3.9 3.4 -2 3.4 2zM416.4 901.8m3.4 2l-3.4 2 -3.4 -2 0 -3.9 3.4 -2 3.4 2zM419.5 907m3.4 2l-3.4 2 -3.4 -2 0 -3.9 3.4 -2 3.4 2zM422.7 912.2m3.4 2l-3.4 2 -3.4 -2 0 -3.9 3.4 -2 3.4 2zM425.9 917.5m3.4 2l-3.4 2 -3.4 -2 0 -3.9 3.4 -2 3.4 2zM429 922.7m3.4 2l-3.4 2 -3.4 -2 0 -3.9 3.4 -2 3.4 2zM432.1 927.9m3.4 2l-3.4 2 -3.4 -2 0 -3.9 3.4 -2 3.4 2zM435.2 933.2m3.4 2l-3.4 2 -3.4 -2 0 -3.9 3.4 -2 3.4 2zM438.3 938.5m3.4 2l-3.4 2 -3.4 -2 0 -3.9 3.4 -2 3.4 2zM441.4 943.8m3.4 2l-3.4 2 -3.4 -2 0 -3.9 3.4 -2 3.4 2zM444.8 949.7m3.4 2l-3.4 2 -3.4 -2 0 -3.9 3.4 -2 3.4 2zM447.9 955.2m3.4 2l-3.4 2 -3.4 -2 0 -3.9 3.4 -2 3.4 2zM451.1 960.6m3.4 2l-3.4 2 -3.4 -2 0 -3.9 3.4 -2 3.4 2zM454.2 966m3.4 2l-3.4 2 -3.4 -2 0 -3.9 3.4 -2 3.4 2zM457.5 971.7m3.4 2l-3.4 2 -3.4 -2 0 -3.9 3.4 -2 3.4 2zM460.6 977m3.4 2l-3.4 2 -3.4 -2 0 -3.9 3.4 -2 3.4 2zM463.8 982.4m3.4 2l-3.4 2 -3.4 -2 0 -3.9 3.4 -2 3.4 2zM466.9 987.7m3.4 2l-3.4 2 -3.4 -2 0 -3.9 3.4 -2 3.4 2zM470 992.9m3.4 2l-3.4 2 -3.4 -2 0 -3.9 3.4 -2 3.4 2zM473.3 998.5m3.4 2l-3.4 2 -3.4 -2 0 -3.9 3.4 -2 3.4 2zM476.6 1003.9m3.4 2l-3.4 2 -3.4 -2 0 -3.9 3.4 -2 3.4 2zM479.8 1009.3m3.4 2l-3.4 2 -3.4 -2 0 -3.9 3.4 -2 3.4 2zM483.1 1014.7m3.4 2l-3.4 2 -3.4 -2 0 -3.9 3.4 -2 3.4 2zM486.3 1019.8m3.4 2l-3.4 2 -3.4 -2 0 -3.9 3.4 -2 3.4 2zM489.6 1024.9m3.4 2l-3.4 2 -3.4 -2 0 -3.9 3.4 -2 3.4 2zM492.9 1030m3.4 2l-3.4 2 -3.4 -2 0 -3.9 3.4 -2 3.4 2zM496.2 1035.1m3.4 2l-3.4 2 -3.4 -2 0 -3.9 3.4 -2 3.4 2zM499.4 1040m3.4 2l-3.4 2 -3.4 -2 0 -3.9 3.4 -2 3.4 2zM502.7 1044.9m3.4 2l-3.4 2 -3.4 -2 0 -3.9 3.4 -2 3.4 2zM505.8 1049.4m3.4 2l-3.4 2 -3.4 -2 0 -3.9 3.4 -2 3.4 2zM509 1054m3.4 2l-3.4 2 -3.4 -2 0 -3.9 3.4 -2 3.4 2zM512.3 1058.7m3.4 2l-3.4 2 -3.4 -2 0 -3.9 3.4 -2 3.4 2zM515.6 1063.4m3.4 2l-3.4 2 -3.4 -2 0 -3.9 3.4 -2 3.4 2zM519 1068m3.4 2l-3.4 2 -3.4 -2 0 -3.9 3.4 -2 3.4 2zM522.1 1072.2m3.4 2l-3.4 2 -3.4 -2 0 -3.9 3.4 -2 3.4 2zM525.3 1076.3m3.4 2l-3.4 2 -3.4 -2 0 -3.9 3.4 -2 3.4 2zM528.4 1080.5m3.4 2l-3.4 2 -3.4 -2 0 -3.9 3.4 -2 3.4 2zM531.6 1084.5m3.4 2l-3.4 2 -3.4 -2 0 -3.9 3.4 -2 3.4 2zM534.8 1088.6m3.4 2l-3.4 2 -3.4 -2 0 -3.9 3.4 -2 3.4 2zM538 1092.7m3.4 2l-3.4 2 -3.4 -2 0 -3.9 3.4 -2 3.4 2zM541.2 1096.7m3.4 2l-3.4 2 -3.4 -2 0 -3.9 3.4 -2 3.4 2zM544.4 1100.7m3.4 2l-3.4 2 -3.4 -2 0 -3.9 3.4 -2 3.4 2zM547.5 1104.6m3.4 2l-3.4 2 -3.4 -2 0 -3.9 3.4 -2 3.4 2zM550.8 1108.7m3.4 2l-3.4 2 -3.4 -2 0 -3.9 3.4 -2 3.4 2zM554.1 1112.7m3.4 2l-3.4 2 -3.4 -2 0 -3.9 3.4 -2 3.4 2zM557.4 1116.8m3.4 2l-3.4 2 -3.4 -2 0 -3.9 3.4 -2 3.4 2zM560.5 1120.7m3.4 2l-3.4 2 -3.4 -2 0 -3.9 3.4 -2 3.4 2zM563.7 1124.6m3.4 2l-3.4 2 -3.4 -2 0 -3.9 3.4 -2 3.4 2zM566.8 1128.6m3.4 2l-3.4 2 -3.4 -2 0 -3.9 3.4 -2 3.4 2zM570.2 1133m3.4 2l-3.4 2 -3.4 -2 0 -3.9 3.4 -2 3.4 2zM573.6 1137.4m3.4 2l-3.4 2 -3.4 -2 0 -3.9 3.4 -2 3.4 2zM576.8 1141.3m3.4 2l-3.4 2 -3.4 -2 0 -3.9 3.4 -2 3.4 2zM580.2 1145.3m3.4 2l-3.4 2 -3.4 -2 0 -3.9 3.4 -2 3.4 2zM583.5 1148.6m3.4 2l-3.4 2 -3.4 -2 0 -3.9 3.4 -2 3.4 2zM586.6 1151.1m3.4 2l-3.4 2 -3.4 -2 0 -3.9 3.4 -2 3.4 2zM589.8 1152.7m3.4 2l-3.4 2 -3.4 -2 0 -3.9 3.4 -2 3.4 2zM593.4 1153.1m3.4 2l-3.4 2 -3.4 -2 0 -3.9 3.4 -2 3.4 2zM596.9 1150.5m3.4 2l-3.4 2 -3.4 -2 0 -3.9 3.4 -2 3.4 2zM600 1146.5m3.4 2l-3.4 2 -3.4 -2 0 -3.9 3.4 -2 3.4 2zM603.1 1142.4m3.4 2l-3.4 2 -3.4 -2 0 -3.9 3.4 -2 3.4 2zM606.4 1138.8m3.4 2l-3.4 2 -3.4 -2 0 -3.9 3.4 -2 3.4 2zM609.8 1135.4m3.4 2l-3.4 2 -3.4 -2 0 -3.9 3.4 -2 3.4 2zM613.1 1132m3.4 2l-3.4 2 -3.4 -2 0 -3.9 3.4 -2 3.4 2zM616.4 1127.9m3.4 2l-3.4 2 -3.4 -2 0 -3.9 3.4 -2 3.4 2zM619.6 1123.3m3.4 2l-3.4 2 -3.4 -2 0 -3.9 3.4 -2 3.4 2zM622.8 1117.1m3.4 2l-3.4 2 -3.4 -2 0 -3.9 3.4 -2 3.4 2zM625.9 1110.2m3.4 2l-3.4 2 -3.4 -2 0 -3.9 3.4 -2 3.4 2zM629.2 1101.8m3.4 2l-3.4 2 -3.4 -2 0 -3.9 3.4 -2 3.4 2zM632.3 1093.2m3.4 2l-3.4 2 -3.4 -2 0 -3.9 3.4 -2 3.4 2zM635.4 1083.6m3.4 2l-3.4 2 -3.4 -2 0 -3.9 3.4 -2 3.4 2zM638.6 1073.5m3.4 2l-3.4 2 -3.4 -2 0 -3.9 3.4 -2 3.4 2zM641.8 1061.4m3.4 2l-3.4 2 -3.4 -2 0 -3.9 3.4 -2 3.4 2zM644.6 1048.8m3.4 2l-3.4 2 -3.4 -2 0 -3.9 3.4 -2 3.4 2zM647.2 1036.5m3.4 2l-3.4 2 -3.4 -2 0 -3.9 3.4 -2 3.4 2zM649.8 1024m3.4 2l-3.4 2 -3.4 -2 0 -3.9 3.4 -2 3.4 2zM652.3 1011.4m3.4 2l-3.4 2 -3.4 -2 0 -3.9 3.4 -2 3.4 2zM654.8 999m3.4 2l-3.4 2 -3.4 -2 0 -3.9 3.4 -2 3.4 2zM657.1 986.7m3.4 2l-3.4 2 -3.4 -2 0 -3.9 3.4 -2 3.4 2zM659.4 974.2m3.4 2l-3.4 2 -3.4 -2 0 -3.9 3.4 -2 3.4 2zM661.9 961.8m3.4 2l-3.4 2 -3.4 -2 0 -3.9 3.4 -2 3.4 2zM664.4 949.5m3.4 2l-3.4 2 -3.4 -2 0 -3.9 3.4 -2 3.4 2zM667 937m3.4 2l-3.4 2 -3.4 -2 0 -3.9 3.4 -2 3.4 2zM669.4 924.4m3.4 2l-3.4 2 -3.4 -2 0 -3.9 3.4 -2 3.4 2zM671.6 912m3.4 2l-3.4 2 -3.4 -2 0 -3.9 3.4 -2 3.4 2zM673.5 899.4m3.4 2l-3.4 2 -3.4 -2 0 -3.9 3.4 -2 3.4 2zM675.2 886.7m3.4 2l-3.4 2 -3.4 -2 0 -3.9 3.4 -2 3.4 2zM676.8 874.3m3.4 2l-3.4 2 -3.4 -2 0 -3.9 3.4 -2 3.4 2zM678.3 861.7m3.4 2l-3.4 2 -3.4 -2 0 -3.9 3.4 -2 3.4 2zM680 849.1m3.4 2l-3.4 2 -3.4 -2 0 -3.9 3.4 -2 3.4 2zM681.9 836.5m3.4 2l-3.4 2 -3.4 -2 0 -3.9 3.4 -2 3.4 2zM684.1 824m3.4 2l-3.4 2 -3.4 -2 0 -3.9 3.4 -2 3.4 2zM686.4 811.5m3.4 2l-3.4 2 -3.4 -2 0 -3.9 3.4 -2 3.4 2zM688.9 798.8m3.4 2l-3.4 2 -3.4 -2 0 -3.9 3.4 -2 3.4 2zM691.4 786.4m3.4 2l-3.4 2 -3.4 -2 0 -3.9 3.4 -2 3.4 2zM693.9 774.1m3.4 2l-3.4 2 -3.4 -2 0 -3.9 3.4 -2 3.4 2zM696.5 761.5m3.4 2l-3.4 2 -3.4 -2 0 -3.9 3.4 -2 3.4 2zM699 749.2m3.4 2l-3.4 2 -3.4 -2 0 -3.9 3.4 -2 3.4 2zM701.7 736.9m3.4 2l-3.4 2 -3.4 -2 0 -3.9 3.4 -2 3.4 2zM704.3 724.5m3.4 2l-3.4 2 -3.4 -2 0 -3.9 3.4 -2 3.4 2zM707 712.3m3.4 2l-3.4 2 -3.4 -2 0 -3.9 3.4 -2 3.4 2zM709.7 699.8m3.4 2l-3.4 2 -3.4 -2 0 -3.9 3.4 -2 3.4 2zM712.5 687.1m3.4 2l-3.4 2 -3.4 -2 0 -3.9 3.4 -2 3.4 2z"/>
<path fill="none" stroke="#000080" stroke-width="0.8" d="M245.2 675l.7 1.2 .9 1.5 1.1 1.8 1.3 2.1 1.3 2.1 1.4 2.2 1.5 2.1 1.4 2 1.5 1.9 1.5 1.9 1.6 1.8 1.7 1.9 1.7 1.9 1.7 1.8 1.7 1.9 1.7 1.9 1.7 1.9 1.7 1.9 1.8 1.8 1.7 1.9 1.8 1.9 1.7 1.8 1.8 1.9 1.6 1.9 1.7 1.9 1.6 1.9 1.6 1.8 1.6 1.9 1.6 1.9 1.6 1.8 1.6 1.9 1.6 1.9 1.7 1.9 1.7 1.9 1.7 1.8 1.7 1.9 1.7 1.9 1.7 1.8 1.6 1.9 1.7 1.9 1.6 1.9 1.7 1.9 1.6 1.8 1.6 1.9 1.6 1.9 1.6 1.8 1.6 1.9 1.5 1.9 1.5 1.9 1.4 1.9 1.4 1.8 1.4 1.9 1.4 1.9 1.4 1.8 1.4 1.9 1.5 1.9 1.5 1.9 1.5 1.9 1.5 1.8 1.6 1.9 1.5 1.9 1.6 1.8 1.5 1.9 1.6 1.9 1.6 1.9 1.6 1.9 1.6 1.8 1.7 1.9 1.6 1.9 1.6 1.8 1.5 1.9 1.4 1.9 1.4 1.9 1.2 1.9 1.2 1.8 1.2 1.9 1.1 1.9 1.1 1.8 1.1 1.9 1.2 1.9 .9 1.4 .6 .8 .4 .6 .5 .6 .8 1.2 1.2 2.1 2 3.3 2.9 5 4.1 7.1 5.2 8.9 5.9 10.3 6.3 11.2 6.6 11.5 6.5 11.2 6 10.6 5.4 9.2 4.8 8.1 4.5 7.6 4.2 7.1 4.1 6.7 3.9 6.5 3.8 6.3 3.9 6.3 3.8 6.4 3.8 6.4 3.7 6.2 3.6 6.1 3.6 6 3.5 5.9 3.6 5.8 3.6 5.8 3.6 5.8 3.8 5.7 3.8 5.7 3.9 5.7 3.9 5.5 3.8 5.5 3.8 5.4 3.6 5.3 3.4 5.2 3.2 5.1 2.9 4.9 2.9 4.8 2.7 4.8 2.7 4.6 2.7 4.7 2.9 4.5 3 4.6 3.2 4.7 3.3 4.8 3.4 4.8 3.4 4.7 3.5 4.5 3.4 4.3 3.4 3.9 3.4 3.3 3.4 2.9 3.4 2.6 3.4 2.3 3.4 2 3.4 1.6 3.2 1.3 3 .8 2.8 .5 2.5 0 2.3-.6 2.1-1 2-1.3 1.9-1.6 2-1.7 2-1.9 2.2-1.9 2.4-1.9 2.5-2 2.6-2.1 2.6-2.2 2.6-2.5 2.6-2.8 2.4-3.1 2.3-3.4 2.1-3.8 2.1-4.1 1.9-4.4 1.9-4.7 1.8-4.9 1.8-5.2 1.7-5.4 1.7-5.5 1.7-5.9 1.5-6.3 1.6-6.6 1.4-6.8 1.5-6.8 1.4-6.8 1.5-6.5 1.4-6.3 1.5-6 1.4-5.8 1.5-5.8 1.5-5.6 1.4-5.5 1.3-5.5 1.3-5.4 1.1-5.4 1-5.3 .9-5.2 .7-5 .7-5.1 .7-5 .6-5 .7-5.2 .7-5.2 .7-5.2 .6-5 .6-5 .7-5.1 .6-5.3 .8-5.6 .9-6.1 1.1-6.7 1.3-7.2 1.4-7.8 1.6-8.1 1.7-8.5 1.7-8.7 1.8-9.1 1.8-9.2 1.7-9.4 1.7-9.7 1.7-10.2 1.7-10.5 1.8-10.7 1.7-10.7 1.8-10.7 1.8-10.4 1.8-10.1 1.9-10.3 2.1-10.8 2.2-10.9 2.2-10.7 2-10 1.9-9 1.5-7.6 1.2-5.7"/>
<path fill="#000080" d="M245.2 675m0 -4.4l1.1 2.9 3.1 .2 -2.4 1.9 .8 3 -2.6 -1.7 -2.6 1.7 .8 -3 -2.4 -1.9 3.1 -.2zM247 680m0 -4.4l1.1 2.9 3.1 .2 -2.4 1.9 .8 3 -2.6 -1.7 -2.6 1.7 .8 -3 -2.4 -1.9 3.1 -.2zM253.4 684.8m0 -4.4l1.1 2.9 3.1 .2 -2.4 1.9 .8 3 -2.6 -1.7 -2.6 1.7 .8 -3 -2.4 -1.9 3.1 -.2zM252.7 692.6m0 -4.4l1.1 2.9 3.1 .2 -2.4 1.9 .8 3 -2.6 -1.7 -2.6 1.7 .8 -3 -2.4 -1.9 3.1 -.2zM259.5 693.2m0 -4.4l1.1 2.9 3.1 .2 -2.4 1.9 .8 3 -2.6 -1.7 -2.6 1.7 .8 -3 -2.4 -1.9 3.1 -.2zM260.6 698m0 -4.4l1.1 2.9 3.1 .2 -2.4 1.9 .8 3 -2.6 -1.7 -2.6 1.7 .8 -3 -2.4 -1.9 3.1 -.2zM265.4 699.9m0 -4.4l1.1 2.9 3.1 .2 -2.4 1.9 .8 3 -2.6 -1.7 -2.6 1.7 .8 -3 -2.4 -1.9 3.1 -.2zM265.1 703.6m0 -4.4l1.1 2.9 3.1 .2 -2.4 1.9 .8 3 -2.6 -1.7 -2.6 1.7 .8 -3 -2.4 -1.9 3.1 -.2zM273 706.6m0 -4.4l1.1 2.9 3.1 .2 -2.4 1.9 .8 3 -2.6 -1.7 -2.6 1.7 .8 -3 -2.4 -1.9 3.1 -.2zM274.2 710.3m0 -4.4l1.1 2.9 3.1 .2 -2.4 1.9 .8 3 -2.6 -1.7 -2.6 1.7 .8 -3 -2.4 -1.9 3.1 -.2zM275.9 713.6m0 -4.4l1.1 2.9 3.1 .2 -2.4 1.9 .8 3 -2.6 -1.7 -2.6 1.7 .8 -3 -2.4 -1.9 3.1 -.2zM280.5 717.3m0 -4.4l1.1 2.9 3.1 .2 -2.4 1.9 .8 3 -2.6 -1.7 -2.6 1.7 .8 -3 -2.4 -1.9 3.1 -.2zM281.6 720.7m0 -4.4l1.1 2.9 3.1 .2 -2.4 1.9 .8 3 -2.6 -1.7 -2.6 1.7 .8 -3 -2.4 -1.9 3.1 -.2zM285.7 726.7m0 -4.4l1.1 2.9 3.1 .2 -2.4 1.9 .8 3 -2.6 -1.7 -2.6 1.7 .8 -3 -2.4 -1.9 3.1 -.2zM288.3 727.8m0 -4.4l1.1 2.9 3.1 .2 -2.4 1.9 .8 3 -2.6 -1.7 -2.6 1.7 .8 -3 -2.4 -1.9 3.1 -.2zM293.7 733.7m0 -4.4l1.1 2.9 3.1 .2 -2.4 1.9 .8 3 -2.6 -1.7 -2.6 1.7 .8 -3 -2.4 -1.9 3.1 -.2zM298.4 735.6m0 -4.4l1.1 2.9 3.1 .2 -2.4 1.9 .8 3 -2.6 -1.7 -2.6 1.7 .8 -3 -2.4 -1.9 3.1 -.2zM300.2 741.2m0 -4.4l1.1 2.9 3.1 .2 -2.4 1.9 .8 3 -2.6 -1.7 -2.6 1.7 .8 -3 -2.4 -1.9 3.1 -.2zM301.7 747.9m0 -4.4l1.1 2.9 3.1 .2 -2.4 1.9 .8 3 -2.6 -1.7 -2.6 1.7 .8 -3 -2.4 -1.9 3.1 -.2zM306 747.2m0 -4.4l1.1 2.9 3.1 .2 -2.4 1.9 .8 3 -2.6 -1.7 -2.6 1.7 .8 -3 -2.4 -1.9 3.1 -.2zM310.5 751.3m0 -4.4l1.1 2.9 3.1 .2 -2.4 1.9 .8 3 -2.6 -1.7 -2.6 1.7 .8 -3 -2.4 -1.9 3.1 -.2zM314.6 756m0 -4.4l1.1 2.9 3.1 .2 -2.4 1.9 .8 3 -2.6 -1.7 -2.6 1.7 .8 -3 -2.4 -1.9 3.1 -.2zM315.4 758.3m0 -4.4l1.1 2.9 3.1 .2 -2.4 1.9 .8 3 -2.6 -1.7 -2.6 1.7 .8 -3 -2.4 -1.9 3.1 -.2zM321.6 763.6m0 -4.4l1.1 2.9 3.1 .2 -2.4 1.9 .8 3 -2.6 -1.7 -2.6 1.7 .8 -3 -2.4 -1.9 3.1 -.2zM325.1 768.6m0 -4.4l1.1 2.9 3.1 .2 -2.4 1.9 .8 3 -2.6 -1.7 -2.6 1.7 .8 -3 -2.4 -1.9 3.1 -.2zM329 772.3m0 -4.4l1.1 2.9 3.1 .2 -2.4 1.9 .8 3 -2.6 -1.7 -2.6 1.7 .8 -3 -2.4 -1.9 3.1 -.2zM329.5 776.7m0 -4.4l1.1 2.9 3.1 .2 -2.4 1.9 .8 3 -2.6 -1.7 -2.6 1.7 .8 -3 -2.4 -1.9 3.1 -.2zM335.1 782.4m0 -4.4l1.1 2.9 3.1 .2 -2.4 1.9 .8 3 -2.6 -1.7 -2.6 1.7 .8 -3 -2.4 -1.9 3.1 -.2zM336.4 784.3m0 -4.4l1.1 2.9 3.1 .2 -2.4 1.9 .8 3 -2.6 -1.7 -2.6 1.7 .8 -3 -2.4 -1.9 3.1 -.2zM341.2 791.8m0 -4.4l1.1 2.9 3.1 .2 -2.4 1.9 .8 3 -2.6 -1.7 -2.6 1.7 .8 -3 -2.4 -1.9 3.1 -.2zM343.9 791.9m0 -4.4l1.1 2.9 3.1 .2 -2.4 1.9 .8 3 -2.6 -1.7 -2.6 1.7 .8 -3 -2.4 -1.9 3.1 -.2zM345.1 796.1m0 -4.4l1.1 2.9 3.1 .2 -2.4 1.9 .8 3 -2.6 -1.7 -2.6 1.7 .8 -3 -2.4 -1.9 3.1 -.2zM348.9 799.7m0 -4.4l1.1 2.9 3.1 .2 -2.4 1.9 .8 3 -2.6 -1.7 -2.6 1.7 .8 -3 -2.4 -1.9 3.1 -.2zM351.7 805.6m0 -4.4l1.1 2.9 3.1 .2 -2.4 1.9 .8 3 -2.6 -1.7 -2.6 1.7 .8 -3 -2.4 -1.9 3.1 -.2zM357.9 808.2m0 -4.4l1.1 2.9 3.1 .2 -2.4 1.9 .8 3 -2.6 -1.7 -2.6 1.7 .8 -3 -2.4 -1.9 3.1 -.2zM361.4 813.7m0 -4.4l1.1 2.9 3.1 .2 -2.4 1.9 .8 3 -2.6 -1.7 -2.6 1.7 .8 -3 -2.4 -1.9 3.1 -.2zM364 820.2m0 -4.4l1.1 2.9 3.1 .2 -2.4 1.9 .8 3 -2.6 -1.7 -2.6 1.7 .8 -3 -2.4 -1.9 3.1 -.2zM367.5 822.8m0 -4.4l1.1 2.9 3.1 .2 -2.4 1.9 .8 3 -2.6 -1.7 -2.6 1.7 .8 -3 -2.4 -1.9 3.1 -.2zM368.7 829.1m0 -4.4l1.1 2.9 3.1 .2 -2.4 1.9 .8 3 -2.6 -1.7 -2.6 1.7 .8 -3 -2.4 -1.9 3.1 -.2zM373.8 833m0 -4.4l1.1 2.9 3.1 .2 -2.4 1.9 .8 3 -2.6 -1.7 -2.6 1.7 .8 -3 -2.4 -1.9 3.1 -.2zM375.3 840.4m0 -4.4l1.1 2.9 3.1 .2 -2.4 1.9 .8 3 -2.6 -1.7 -2.6 1.7 .8 -3 -2.4 -1.9 3.1 -.2zM378.2 845m0 -4.4l1.1 2.9 3.1 .2 -2.4 1.9 .8 3 -2.6 -1.7 -2.6 1.7 .8 -3 -2.4 -1.9 3.1 -.2zM382.1 851.5m0 -4.4l1.1 2.9 3.1 .2 -2.4 1.9 .8 3 -2.6 -1.7 -2.6 1.7 .8 -3 -2.4 -1.9 3.1 -.2zM386.6 856.1m0 -4.4l1.1 2.9 3.1 .2 -2.4 1.9 .8 3 -2.6 -1.7 -2.6 1.7 .8 -3 -2.4 -1.9 3.1 -.2zM388.9 862.4m0 -4.4l1.1 2.9 3.1 .2 -2.4 1.9 .8 3 -2.6 -1.7 -2.6 1.7 .8 -3 -2.4 -1.9 3.1 -.2zM392.2 868.2m0 -4.4l1.1 2.9 3.1 .2 -2.4 1.9 .8 3 -2.6 -1.7 -2.6 1.7 .8 -3 -2.4 -1.9 3.1 -.2zM395.5 874m0 -4.4l1.1 2.9 3.1 .2 -2.4 1.9 .8 3 -2.6 -1.7 -2.6 1.7 .8 -3 -2.4 -1.9 3.1 -.2zM398.8 879.7m0 -4.4l1.1 2.9 3.1 .2 -2.4 1.9 .8 3 -2.6 -1.7 -2.6 1.7 .8 -3 -2.4 -1.9 3.1 -.2zM402.1 885.4m0 -4.4l1.1 2.9 3.1 .2 -2.4 1.9 .8 3 -2.6 -1.7 -2.6 1.7 .8 -3 -2.4 -1.9 3.1 -.2zM405.3 891.1m0 -4.4l1.1 2.9 3.1 .2 -2.4 1.9 .8 3 -2.6 -1.7 -2.6 1.7 .8 -3 -2.4 -1.9 3.1 -.2zM408.6 896.8m0 -4.4l1.1 2.9 3.1 .2 -2.4 1.9 .8 3 -2.6 -1.7 -2.6 1.7 .8 -3 -2.4 -1.9 3.1 -.2zM411.8 902.4m0 -4.4l1.1 2.9 3.1 .2 -2.4 1.9 .8 3 -2.6 -1.7 -2.6 1.7 .8 -3 -2.4 -1.9 3.1 -.2zM415.1 908.1m0 -4.4l1.1 2.9 3.1 .2 -2.4 1.9 .8 3 -2.6 -1.7 -2.6 1.7 .8 -3 -2.4 -1.9 3.1 -.2zM418.4 913.8m0 -4.4l1.1 2.9 3.1 .2 -2.4 1.9 .8 3 -2.6 -1.7 -2.6 1.7 .8 -3 -2.4 -1.9 3.1 -.2zM421.7 919.6m0 -4.4l1.1 2.9 3.1 .2 -2.4 1.9 .8 3 -2.6 -1.7 -2.6 1.7 .8 -3 -2.4 -1.9 3.1 -.2zM424.9 925m0 -4.4l1.1 2.9 3.1 .2 -2.4 1.9 .8 3 -2.6 -1.7 -2.6 1.7 .8 -3 -2.4 -1.9 3.1 -.2zM428.1 930.3m0 -4.4l1.1 2.9 3.1 .2 -2.4 1.9 .8 3 -2.6 -1.7 -2.6 1.7 .8 -3 -2.4 -1.9 3.1 -.2zM431.3 935.7m0 -4.4l1.1 2.9 3.1 .2 -2.4 1.9 .8 3 -2.6 -1.7 -2.6 1.7 .8 -3 -2.4 -1.9 3.1 -.2zM434.4 941m0 -4.4l1.1 2.9 3.1 .2 -2.4 1.9 .8 3 -2.6 -1.7 -2.6 1.7 .8 -3 -2.4 -1.9 3.1 -.2zM437.7 946.4m0 -4.4l1.1 2.9 3.1 .2 -2.4 1.9 .8 3 -2.6 -1.7 -2.6 1.7 .8 -3 -2.4 -1.9 3.1 -.2zM440.8 951.6m0 -4.4l1.1 2.9 3.1 .2 -2.4 1.9 .8 3 -2.6 -1.7 -2.6 1.7 .8 -3 -2.4 -1.9 3.1 -.2zM444 956.8m0 -4.4l1.1 2.9 3.1 .2 -2.4 1.9 .8 3 -2.6 -1.7 -2.6 1.7 .8 -3 -2.4 -1.9 3.1 -.2zM447.1 961.9m0 -4.4l1.1 2.9 3.1 .2 -2.4 1.9 .8 3 -2.6 -1.7 -2.6 1.7 .8 -3 -2.4 -1.9 3.1 -.2zM450.3 967.3m0 -4.4l1.1 2.9 3.1 .2 -2.4 1.9 .8 3 -2.6 -1.7 -2.6 1.7 .8 -3 -2.4 -1.9 3.1 -.2zM453.4 972.4m0 -4.4l1.1 2.9 3.1 .2 -2.4 1.9 .8 3 -2.6 -1.7 -2.6 1.7 .8 -3 -2.4 -1.9 3.1 -.2zM456.7 977.8m0 -4.4l1.1 2.9 3.1 .2 -2.4 1.9 .8 3 -2.6 -1.7 -2.6 1.7 .8 -3 -2.4 -1.9 3.1 -.2zM459.9 983.1m0 -4.4l1.1 2.9 3.1 .2 -2.4 1.9 .8 3 -2.6 -1.7 -2.6 1.7 .8 -3 -2.4 -1.9 3.1 -.2zM463 988.4m0 -4.4l1.1 2.9 3.1 .2 -2.4 1.9 .8 3 -2.6 -1.7 -2.6 1.7 .8 -3 -2.4 -1.9 3.1 -.2zM466.1 993.7m0 -4.4l1.1 2.9 3.1 .2 -2.4 1.9 .8 3 -2.6 -1.7 -2.6 1.7 .8 -3 -2.4 -1.9 3.1 -.2zM469.4 999.2m0 -4.4l1.1 2.9 3.1 .2 -2.4 1.9 .8 3 -2.6 -1.7 -2.6 1.7 .8 -3 -2.4 -1.9 3.1 -.2zM472.7 1004.7m0 -4.4l1.1 2.9 3.1 .2 -2.4 1.9 .8 3 -2.6 -1.7 -2.6 1.7 .8 -3 -2.4 -1.9 3.1 -.2zM476 1010.1m0 -4.4l1.1 2.9 3.1 .2 -2.4 1.9 .8 3 -2.6 -1.7 -2.6 1.7 .8 -3 -2.4 -1.9 3.1 -.2zM479.3 1015.5m0 -4.4l1.1 2.9 3.1 .2 -2.4 1.9 .8 3 -2.6 -1.7 -2.6 1.7 .8 -3 -2.4 -1.9 3.1 -.2zM482.6 1020.8m0 -4.4l1.1 2.9 3.1 .2 -2.4 1.9 .8 3 -2.6 -1.7 -2.6 1.7 .8 -3 -2.4 -1.9 3.1 -.2zM485.7 1025.6m0 -4.4l1.1 2.9 3.1 .2 -2.4 1.9 .8 3 -2.6 -1.7 -2.6 1.7 .8 -3 -2.4 -1.9 3.1 -.2zM489.1 1030.7m0 -4.4l1.1 2.9 3.1 .2 -2.4 1.9 .8 3 -2.6 -1.7 -2.6 1.7 .8 -3 -2.4 -1.9 3.1 -.2zM492.3 1035.4m0 -4.4l1.1 2.9 3.1 .2 -2.4 1.9 .8 3 -2.6 -1.7 -2.6 1.7 .8 -3 -2.4 -1.9 3.1 -.2zM495.5 1040.1m0 -4.4l1.1 2.9 3.1 .2 -2.4 1.9 .8 3 -2.6 -1.7 -2.6 1.7 .8 -3 -2.4 -1.9 3.1 -.2zM498.8 1044.8m0 -4.4l1.1 2.9 3.1 .2 -2.4 1.9 .8 3 -2.6 -1.7 -2.6 1.7 .8 -3 -2.4 -1.9 3.1 -.2zM502 1049.4m0 -4.4l1.1 2.9 3.1 .2 -2.4 1.9 .8 3 -2.6 -1.7 -2.6 1.7 .8 -3 -2.4 -1.9 3.1 -.2zM505.2 1054m0 -4.4l1.1 2.9 3.1 .2 -2.4 1.9 .8 3 -2.6 -1.7 -2.6 1.7 .8 -3 -2.4 -1.9 3.1 -.2zM508.5 1058.8m0 -4.4l1.1 2.9 3.1 .2 -2.4 1.9 .8 3 -2.6 -1.7 -2.6 1.7 .8 -3 -2.4 -1.9 3.1 -.2zM511.7 1063.5m0 -4.4l1.1 2.9 3.1 .2 -2.4 1.9 .8 3 -2.6 -1.7 -2.6 1.7 .8 -3 -2.4 -1.9 3.1 -.2zM515 1068.7m0 -4.4l1.1 2.9 3.1 .2 -2.4 1.9 .8 3 -2.6 -1.7 -2.6 1.7 .8 -3 -2.4 -1.9 3.1 -.2zM518.2 1073.9m0 -4.4l1.1 2.9 3.1 .2 -2.4 1.9 .8 3 -2.6 -1.7 -2.6 1.7 .8 -3 -2.4 -1.9 3.1 -.2zM521.4 1079.2m0 -4.4l1.1 2.9 3.1 .2 -2.4 1.9 .8 3 -2.6 -1.7 -2.6 1.7 .8 -3 -2.4 -1.9 3.1 -.2zM524.7 1084.8m0 -4.4l1.1 2.9 3.1 .2 -2.4 1.9 .8 3 -2.6 -1.7 -2.6 1.7 .8 -3 -2.4 -1.9 3.1 -.2zM527.9 1090.3m0 -4.4l1.1 2.9 3.1 .2 -2.4 1.9 .8 3 -2.6 -1.7 -2.6 1.7 .8 -3 -2.4 -1.9 3.1 -.2zM531.1 1095.9m0 -4.4l1.1 2.9 3.1 .2 -2.4 1.9 .8 3 -2.6 -1.7 -2.6 1.7 .8 -3 -2.4 -1.9 3.1 -.2zM534.5 1101.1m0 -4.4l1.1 2.9 3.1 .2 -2.4 1.9 .8 3 -2.6 -1.7 -2.6 1.7 .8 -3 -2.4 -1.9 3.1 -.2zM537.6 1105.8m0 -4.4l1.1 2.9 3.1 .2 -2.4 1.9 .8 3 -2.6 -1.7 -2.6 1.7 .8 -3 -2.4 -1.9 3.1 -.2zM540.9 1110.6m0 -4.4l1.1 2.9 3.1 .2 -2.4 1.9 .8 3 -2.6 -1.7 -2.6 1.7 .8 -3 -2.4 -1.9 3.1 -.2zM544 1115.1m0 -4.4l1.1 2.9 3.1 .2 -2.4 1.9 .8 3 -2.6 -1.7 -2.6 1.7 .8 -3 -2.4 -1.9 3.1 -.2zM547.3 1119.8m0 -4.4l1.1 2.9 3.1 .2 -2.4 1.9 .8 3 -2.6 -1.7 -2.6 1.7 .8 -3 -2.4 -1.9 3.1 -.2zM550.7 1124.4m0 -4.4l1.1 2.9 3.1 .2 -2.4 1.9 .8 3 -2.6 -1.7 -2.6 1.7 .8 -3 -2.4 -1.9 3.1 -.2zM553.8 1128.4m0 -4.4l1.1 2.9 3.1 .2 -2.4 1.9 .8 3 -2.6 -1.7 -2.6 1.7 .8 -3 -2.4 -1.9 3.1 -.2zM556.9 1132.4m0 -4.4l1.1 2.9 3.1 .2 -2.4 1.9 .8 3 -2.6 -1.7 -2.6 1.7 .8 -3 -2.4 -1.9 3.1 -.2zM560.3 1136.3m0 -4.4l1.1 2.9 3.1 .2 -2.4 1.9 .8 3 -2.6 -1.7 -2.6 1.7 .8 -3 -2.4 -1.9 3.1 -.2zM563.6 1139.6m0 -4.4l1.1 2.9 3.1 .2 -2.4 1.9 .8 3 -2.6 -1.7 -2.6 1.7 .8 -3 -2.4 -1.9 3.1 -.2zM566.9 1142.6m0 -4.4l1.1 2.9 3.1 .2 -2.4 1.9 .8 3 -2.6 -1.7 -2.6 1.7 .8 -3 -2.4 -1.9 3.1 -.2zM570.4 1145.2m0 -4.4l1.1 2.9 3.1 .2 -2.4 1.9 .8 3 -2.6 -1.7 -2.6 1.7 .8 -3 -2.4 -1.9 3.1 -.2zM573.8 1147.5m0 -4.4l1.1 2.9 3.1 .2 -2.4 1.9 .8 3 -2.6 -1.7 -2.6 1.7 .8 -3 -2.4 -1.9 3.1 -.2zM577.1 1149.5m0 -4.4l1.1 2.9 3.1 .2 -2.4 1.9 .8 3 -2.6 -1.7 -2.6 1.7 .8 -3 -2.4 -1.9 3.1 -.2zM580.5 1151.2m0 -4.4l1.1 2.9 3.1 .2 -2.4 1.9 .8 3 -2.6 -1.7 -2.6 1.7 .8 -3 -2.4 -1.9 3.1 -.2zM583.6 1152.5m0 -4.4l1.1 2.9 3.1 .2 -2.4 1.9 .8 3 -2.6 -1.7 -2.6 1.7 .8 -3 -2.4 -1.9 3.1 -.2zM587.2 1153.5m0 -4.4l1.1 2.9 3.1 .2 -2.4 1.9 .8 3 -2.6 -1.7 -2.6 1.7 .8 -3 -2.4 -1.9 3.1 -.2zM590.4 1153.8m0 -4.4l1.1 2.9 3.1 .2 -2.4 1.9 .8 3 -2.6 -1.7 -2.6 1.7 .8 -3 -2.4 -1.9 3.1 -.2zM593.7 1153.5m0 -4.4l1.1 2.9 3.1 .2 -2.4 1.9 .8 3 -2.6 -1.7 -2.6 1.7 .8 -3 -2.4 -1.9 3.1 -.2zM596.9 1152.4m0 -4.4l1.1 2.9 3.1 .2 -2.4 1.9 .8 3 -2.6 -1.7 -2.6 1.7 .8 -3 -2.4 -1.9 3.1 -.2zM600.4 1149.9m0 -4.4l1.1 2.9 3.1 .2 -2.4 1.9 .8 3 -2.6 -1.7 -2.6 1.7 .8 -3 -2.4 -1.9 3.1 -.2zM603.6 1147m0 -4.4l1.1 2.9 3.1 .2 -2.4 1.9 .8 3 -2.6 -1.7 -2.6 1.7 .8 -3 -2.4 -1.9 3.1 -.2zM607 1144m0 -4.4l1.1 2.9 3.1 .2 -2.4 1.9 .8 3 -2.6 -1.7 -2.6 1.7 .8 -3 -2.4 -1.9 3.1 -.2zM610.3 1141.4m0 -4.4l1.1 2.9 3.1 .2 -2.4 1.9 .8 3 -2.6 -1.7 -2.6 1.7 .8 -3 -2.4 -1.9 3.1 -.2zM613.7 1138.7m0 -4.4l1.1 2.9 3.1 .2 -2.4 1.9 .8 3 -2.6 -1.7 -2.6 1.7 .8 -3 -2.4 -1.9 3.1 -.2zM617.1 1135.8m0 -4.4l1.1 2.9 3.1 .2 -2.4 1.9 .8 3 -2.6 -1.7 -2.6 1.7 .8 -3 -2.4 -1.9 3.1 -.2zM620.4 1132.4m0 -4.4l1.1 2.9 3.1 .2 -2.4 1.9 .8 3 -2.6 -1.7 -2.6 1.7 .8 -3 -2.4 -1.9 3.1 -.2zM623.7 1128.6m0 -4.4l1.1 2.9 3.1 .2 -2.4 1.9 .8 3 -2.6 -1.7 -2.6 1.7 .8 -3 -2.4 -1.9 3.1 -.2zM627 1124m0 -4.4l1.1 2.9 3.1 .2 -2.4 1.9 .8 3 -2.6 -1.7 -2.6 1.7 .8 -3 -2.4 -1.9 3.1 -.2zM630.2 1118m0 -4.4l1.1 2.9 3.1 .2 -2.4 1.9 .8 3 -2.6 -1.7 -2.6 1.7 .8 -3 -2.4 -1.9 3.1 -.2zM633.3 1110.8m0 -4.4l1.1 2.9 3.1 .2 -2.4 1.9 .8 3 -2.6 -1.7 -2.6 1.7 .8 -3 -2.4 -1.9 3.1 -.2zM636.6 1102.6m0 -4.4l1.1 2.9 3.1 .2 -2.4 1.9 .8 3 -2.6 -1.7 -2.6 1.7 .8 -3 -2.4 -1.9 3.1 -.2zM639.8 1093m0 -4.4l1.1 2.9 3.1 .2 -2.4 1.9 .8 3 -2.6 -1.7 -2.6 1.7 .8 -3 -2.4 -1.9 3.1 -.2zM643.1 1082.1m0 -4.4l1.1 2.9 3.1 .2 -2.4 1.9 .8 3 -2.6 -1.7 -2.6 1.7 .8 -3 -2.4 -1.9 3.1 -.2zM646.1 1069.7m0 -4.4l1.1 2.9 3.1 .2 -2.4 1.9 .8 3 -2.6 -1.7 -2.6 1.7 .8 -3 -2.4 -1.9 3.1 -.2zM648.9 1057.1m0 -4.4l1.1 2.9 3.1 .2 -2.4 1.9 .8 3 -2.6 -1.7 -2.6 1.7 .8 -3 -2.4 -1.9 3.1 -.2zM651.6 1044.7m0 -4.4l1.1 2.9 3.1 .2 -2.4 1.9 .8 3 -2.6 -1.7 -2.6 1.7 .8 -3 -2.4 -1.9 3.1 -.2zM654.4 1032.4m0 -4.4l1.1 2.9 3.1 .2 -2.4 1.9 .8 3 -2.6 -1.7 -2.6 1.7 .8 -3 -2.4 -1.9 3.1 -.2zM657.5 1019.9m0 -4.4l1.1 2.9 3.1 .2 -2.4 1.9 .8 3 -2.6 -1.7 -2.6 1.7 .8 -3 -2.4 -1.9 3.1 -.2zM660.7 1007.7m0 -4.4l1.1 2.9 3.1 .2 -2.4 1.9 .8 3 -2.6 -1.7 -2.6 1.7 .8 -3 -2.4 -1.9 3.1 -.2zM663.6 995.4m0 -4.4l1.1 2.9 3.1 .2 -2.4 1.9 .8 3 -2.6 -1.7 -2.6 1.7 .8 -3 -2.4 -1.9 3.1 -.2zM666 983m0 -4.4l1.1 2.9 3.1 .2 -2.4 1.9 .8 3 -2.6 -1.7 -2.6 1.7 .8 -3 -2.4 -1.9 3.1 -.2zM668 970.4m0 -4.4l1.1 2.9 3.1 .2 -2.4 1.9 .8 3 -2.6 -1.7 -2.6 1.7 .8 -3 -2.4 -1.9 3.1 -.2zM669.7 957.8m0 -4.4l1.1 2.9 3.1 .2 -2.4 1.9 .8 3 -2.6 -1.7 -2.6 1.7 .8 -3 -2.4 -1.9 3.1 -.2zM671.4 945.3m0 -4.4l1.1 2.9 3.1 .2 -2.4 1.9 .8 3 -2.6 -1.7 -2.6 1.7 .8 -3 -2.4 -1.9 3.1 -.2zM672.9 932.8m0 -4.4l1.1 2.9 3.1 .2 -2.4 1.9 .8 3 -2.6 -1.7 -2.6 1.7 .8 -3 -2.4 -1.9 3.1 -.2zM674.6 920.3m0 -4.4l1.1 2.9 3.1 .2 -2.4 1.9 .8 3 -2.6 -1.7 -2.6 1.7 .8 -3 -2.4 -1.9 3.1 -.2zM676.5 907.6m0 -4.4l1.1 2.9 3.1 .2 -2.4 1.9 .8 3 -2.6 -1.7 -2.6 1.7 .8 -3 -2.4 -1.9 3.1 -.2zM678.7 895m0 -4.4l1.1 2.9 3.1 .2 -2.4 1.9 .8 3 -2.6 -1.7 -2.6 1.7 .8 -3 -2.4 -1.9 3.1 -.2zM681 882.4m0 -4.4l1.1 2.9 3.1 .2 -2.4 1.9 .8 3 -2.6 -1.7 -2.6 1.7 .8 -3 -2.4 -1.9 3.1 -.2zM683.5 870.1m0 -4.4l1.1 2.9 3.1 .2 -2.4 1.9 .8 3 -2.6 -1.7 -2.6 1.7 .8 -3 -2.4 -1.9 3.1 -.2zM685.9 857.6m0 -4.4l1.1 2.9 3.1 .2 -2.4 1.9 .8 3 -2.6 -1.7 -2.6 1.7 .8 -3 -2.4 -1.9 3.1 -.2zM688.3 845m0 -4.4l1.1 2.9 3.1 .2 -2.4 1.9 .8 3 -2.6 -1.7 -2.6 1.7 .8 -3 -2.4 -1.9 3.1 -.2zM690.5 832.7m0 -4.4l1.1 2.9 3.1 .2 -2.4 1.9 .8 3 -2.6 -1.7 -2.6 1.7 .8 -3 -2.4 -1.9 3.1 -.2zM692.7 820.1m0 -4.4l1.1 2.9 3.1 .2 -2.4 1.9 .8 3 -2.6 -1.7 -2.6 1.7 .8 -3 -2.4 -1.9 3.1 -.2zM694.8 807.6m0 -4.4l1.1 2.9 3.1 .2 -2.4 1.9 .8 3 -2.6 -1.7 -2.6 1.7 .8 -3 -2.4 -1.9 3.1 -.2zM696.9 794.9m0 -4.4l1.1 2.9 3.1 .2 -2.4 1.9 .8 3 -2.6 -1.7 -2.6 1.7 .8 -3 -2.4 -1.9 3.1 -.2zM698.9 782.5m0 -4.4l1.1 2.9 3.1 .2 -2.4 1.9 .8 3 -2.6 -1.7 -2.6 1.7 .8 -3 -2.4 -1.9 3.1 -.2zM701 770.1m0 -4.4l1.1 2.9 3.1 .2 -2.4 1.9 .8 3 -2.6 -1.7 -2.6 1.7 .8 -3 -2.4 -1.9 3.1 -.2zM703.2 757.5m0 -4.4l1.1 2.9 3.1 .2 -2.4 1.9 .8 3 -2.6 -1.7 -2.6 1.7 .8 -3 -2.4 -1.9 3.1 -.2zM705.5 745.2m0 -4.4l1.1 2.9 3.1 .2 -2.4 1.9 .8 3 -2.6 -1.7 -2.6 1.7 .8 -3 -2.4 -1.9 3.1 -.2zM707.8 732.9m0 -4.4l1.1 2.9 3.1 .2 -2.4 1.9 .8 3 -2.6 -1.7 -2.6 1.7 .8 -3 -2.4 -1.9 3.1 -.2zM710.3 720.6m0 -4.4l1.1 2.9 3.1 .2 -2.4 1.9 .8 3 -2.6 -1.7 -2.6 1.7 .8 -3 -2.4 -1.9 3.1 -.2zM712.8 708.2m0 -4.4l1.1 2.9 3.1 .2 -2.4 1.9 .8 3 -2.6 -1.7 -2.6 1.7 .8 -3 -2.4 -1.9 3.1 -.2zM715.4 695.8m0 -4.4l1.1 2.9 3.1 .2 -2.4 1.9 .8 3 -2.6 -1.7 -2.6 1.7 .8 -3 -2.4 -1.9 3.1 -.2zM717.9 683.4m0 -4.4l1.1 2.9 3.1 .2 -2.4 1.9 .8 3 -2.6 -1.7 -2.6 1.7 .8 -3 -2.4 -1.9 3.1 -.2z"/>
<path fill="none" stroke="#800080" stroke-width="0.8" d="M248.2 675l.7 1.2 .9 1.5 1.1 1.8 1.3 2.1 1.3 2.1 1.4 2.2 1.4 2.1 1.4 2 1.5 1.9 1.5 1.9 1.6 1.8 1.6 1.9 1.6 1.9 1.7 1.8 1.6 1.9 1.7 1.9 1.6 1.9 1.7 1.9 1.8 1.8 1.7 1.9 1.7 1.9 1.7 1.8 1.7 1.9 1.7 1.9 1.6 1.9 1.6 1.9 1.6 1.8 1.5 1.9 1.6 1.9 1.5 1.8 1.6 1.9 1.6 1.9 1.6 1.9 1.7 1.9 1.6 1.8 1.7 1.9 1.7 1.9 1.6 1.8 1.7 1.9 1.6 1.9 1.6 1.9 1.6 1.9 1.6 1.8 1.6 1.9 1.5 1.9 1.6 1.8 1.5 1.9 1.5 1.9 1.4 1.9 1.4 1.9 1.4 1.8 1.4 1.9 1.4 1.9 1.3 1.8 1.4 1.9 1.5 1.9 1.4 1.9 1.5 1.9 1.5 1.8 1.5 1.9 1.5 1.9 1.6 1.8 1.5 1.9 1.5 1.9 1.6 1.9 1.6 1.9 1.6 1.8 1.6 1.9 1.6 1.9 1.6 1.8 1.5 1.9 1.4 1.9 1.3 1.9 1.3 1.9 1.2 1.8 1.1 1.9 1.1 1.9 1.2 1.8 1.1 1.9 1.1 1.9 1 1.4 .5 .8 .3 .6 .5 .6 .7 1.2 1.3 2.1 2.1 3.3 3 5 4.2 7.1 5.4 8.9 6.2 10.3 6.8 11.2 6.9 11.5 6.7 11.2 6.3 10.6 5.6 9.2 4.9 8.1 4.5 7.6 4.3 7.1 4 6.7 3.9 6.5 3.8 6.3 3.8 6.3 3.8 6.4 3.8 6.4 3.7 6.2 3.6 6.1 3.6 6 3.5 5.9 3.6 5.8 3.6 5.8 3.6 5.8 3.8 5.7 3.8 5.7 3.9 5.7 3.9 5.5 3.8 5.5 3.8 5.4 3.6 5.3 3.4 5.2 3.2 5.1 2.9 4.9 2.9 4.8 2.7 4.8 2.7 4.6 2.7 4.7 2.9 4.5 3 4.6 3.2 4.7 3.3 4.8 3.4 4.8 3.4 4.7 3.5 4.5 3.4 4.3 3.4 3.9 3.4 3.3 3.4 2.9 3.4 2.6 3.4 2.3 3.4 2 3.4 1.6 3.2 1.3 3 .8 2.8 .5 2.5 0 2.3-.6 2.1-1 2-1.3 1.9-1.6 2-1.7 2-1.9 2.2-1.9 2.4-1.9 2.5-2 2.6-2.1 2.6-2.2 2.6-2.5 2.6-2.8 2.4-3.1 2.3-3.4 2.1-3.8 2.1-4.1 1.9-4.4 1.9-4.7 1.8-4.9 1.8-5.2 1.7-5.4 1.7-5.5 1.7-5.9 1.5-6.3 1.6-6.6 1.4-6.8 1.5-6.8 1.4-6.8 1.5-6.5 1.4-6.3 1.5-6 1.4-5.8 1.5-5.8 1.5-5.6 1.4-5.5 1.3-5.5 1.3-5.4 1.1-5.4 1-5.3 .9-5.2 .7-5 .7-5.1 .7-5 .6-5 .7-5.2 .7-5.2 .7-5.2 .6-5 .6-5 .7-5.1 .6-5.3 .8-5.6 .9-6.1 1.1-6.7 1.3-7.2 1.4-7.8 1.6-8.1 1.7-8.5 1.7-8.7 1.8-9.1 1.8-9.2 1.7-9.4 1.7-9.7 1.7-10.2 1.7-10.5 1.8-10.7 1.7-10.7 1.8-10.7 1.8-10.4 1.8-10.1 1.9-10.3 2.1-10.8 2.2-10.9 2.2-10.7 2-10 1.9-9 1.5-7.6 1.2-5.7"/>
<path fill="#800080" d="M248.2 675m0 -4.1l3.9 2.8 -1.5 4.6 -4.8 0 -1.5 -4.6zM253 681.9m0 -4.1l3.9 2.8 -1.5 4.6 -4.8 0 -1.5 -4.6zM256.9 685.8m0 -4.1l3.9 2.8 -1.5 4.6 -4.8 0 -1.5 -4.6zM260.5 689.1m0 -4.1l3.9 2.8 -1.5 4.6 -4.8 0 -1.5 -4.6zM260.4 692.3m0 -4.1l3.9 2.8 -1.5 4.6 -4.8 0 -1.5 -4.6zM266 697.7m0 -4.1l3.9 2.8 -1.5 4.6 -4.8 0 -1.5 -4.6zM266.1 699.5m0 -4.1l3.9 2.8 -1.5 4.6 -4.8 0 -1.5 -4.6zM272.2 706m0 -4.1l3.9 2.8 -1.5 4.6 -4.8 0 -1.5 -4.6zM275.5 708.4m0 -4.1l3.9 2.8 -1.5 4.6 -4.8 0 -1.5 -4.6zM277.6 710.8m0 -4.1l3.9 2.8 -1.5 4.6 -4.8 0 -1.5 -4.6zM282.3 713.8m0 -4.1l3.9 2.8 -1.5 4.6 -4.8 0 -1.5 -4.6zM284.2 721.9m0 -4.1l3.9 2.8 -1.5 4.6 -4.8 0 -1.5 -4.6zM288.5 721.7m0 -4.1l3.9 2.8 -1.5 4.6 -4.8 0 -1.5 -4.6zM289.2 729.8m0 -4.1l3.9 2.8 -1.5 4.6 -4.8 0 -1.5 -4.6zM294.9 734m0 -4.1l3.9 2.8 -1.5 4.6 -4.8 0 -1.5 -4.6zM299.3 735.5m0 -4.1l3.9 2.8 -1.5 4.6 -4.8 0 -1.5 -4.6zM302.7 740.7m0 -4.1l3.9 2.8 -1.5 4.6 -4.8 0 -1.5 -4.6zM303.1 742.6m0 -4.1l3.9 2.8 -1.5 4.6 -4.8 0 -1.5 -4.6zM305 746.4m0 -4.1l3.9 2.8 -1.5 4.6 -4.8 0 -1.5 -4.6zM312.8 748.8m0 -4.1l3.9 2.8 -1.5 4.6 -4.8 0 -1.5 -4.6zM314 752.5m0 -4.1l3.9 2.8 -1.5 4.6 -4.8 0 -1.5 -4.6zM314.8 758.8m0 -4.1l3.9 2.8 -1.5 4.6 -4.8 0 -1.5 -4.6zM319 760.2m0 -4.1l3.9 2.8 -1.5 4.6 -4.8 0 -1.5 -4.6zM321.9 767.1m0 -4.1l3.9 2.8 -1.5 4.6 -4.8 0 -1.5 -4.6zM327 768.5m0 -4.1l3.9 2.8 -1.5 4.6 -4.8 0 -1.5 -4.6zM328.6 777m0 -4.1l3.9 2.8 -1.5 4.6 -4.8 0 -1.5 -4.6zM331.8 779.4m0 -4.1l3.9 2.8 -1.5 4.6 -4.8 0 -1.5 -4.6zM335.9 784.5m0 -4.1l3.9 2.8 -1.5 4.6 -4.8 0 -1.5 -4.6zM339.9 788.6m0 -4.1l3.9 2.8 -1.5 4.6 -4.8 0 -1.5 -4.6zM342.9 790.3m0 -4.1l3.9 2.8 -1.5 4.6 -4.8 0 -1.5 -4.6zM345 794.1m0 -4.1l3.9 2.8 -1.5 4.6 -4.8 0 -1.5 -4.6zM350.6 798.1m0 -4.1l3.9 2.8 -1.5 4.6 -4.8 0 -1.5 -4.6zM350.9 804.8m0 -4.1l3.9 2.8 -1.5 4.6 -4.8 0 -1.5 -4.6zM355 808.6m0 -4.1l3.9 2.8 -1.5 4.6 -4.8 0 -1.5 -4.6zM357.7 811.3m0 -4.1l3.9 2.8 -1.5 4.6 -4.8 0 -1.5 -4.6zM361.6 817.7m0 -4.1l3.9 2.8 -1.5 4.6 -4.8 0 -1.5 -4.6zM366 822.3m0 -4.1l3.9 2.8 -1.5 4.6 -4.8 0 -1.5 -4.6zM369.7 828.3m0 -4.1l3.9 2.8 -1.5 4.6 -4.8 0 -1.5 -4.6zM371.8 832.7m0 -4.1l3.9 2.8 -1.5 4.6 -4.8 0 -1.5 -4.6zM375.4 836.8m0 -4.1l3.9 2.8 -1.5 4.6 -4.8 0 -1.5 -4.6zM379.5 843.3m0 -4.1l3.9 2.8 -1.5 4.6 -4.8 0 -1.5 -4.6zM382.6 847.6m0 -4.1l3.9 2.8 -1.5 4.6 -4.8 0 -1.5 -4.6zM385.1 853.4m0 -4.1l3.9 2.8 -1.5 4.6 -4.8 0 -1.5 -4.6zM388.5 857.7m0 -4.1l3.9 2.8 -1.5 4.6 -4.8 0 -1.5 -4.6zM391.2 863.8m0 -4.1l3.9 2.8 -1.5 4.6 -4.8 0 -1.5 -4.6zM394.3 868.9m0 -4.1l3.9 2.8 -1.5 4.6 -4.8 0 -1.5 -4.6zM397.4 874.1m0 -4.1l3.9 2.8 -1.5 4.6 -4.8 0 -1.5 -4.6zM400.6 879.3m0 -4.1l3.9 2.8 -1.5 4.6 -4.8 0 -1.5 -4.6zM403.7 884.6m0 -4.1l3.9 2.8 -1.5 4.6 -4.8 0 -1.5 -4.6zM406.9 889.8m0 -4.1l3.9 2.8 -1.5 4.6 -4.8 0 -1.5 -4.6zM410 895m0 -4.1l3.9 2.8 -1.5 4.6 -4.8 0 -1.5 -4.6zM413.1 900.2m0 -4.1l3.9 2.8 -1.5 4.6 -4.8 0 -1.5 -4.6zM416.3 905.5m0 -4.1l3.9 2.8 -1.5 4.6 -4.8 0 -1.5 -4.6zM419.4 910.8m0 -4.1l3.9 2.8 -1.5 4.6 -4.8 0 -1.5 -4.6zM422.6 916m0 -4.1l3.9 2.8 -1.5 4.6 -4.8 0 -1.5 -4.6zM425.7 921.2m0 -4.1l3.9 2.8 -1.5 4.6 -4.8 0 -1.5 -4.6zM428.8 926.4m0 -4.1l3.9 2.8 -1.5 4.6 -4.8 0 -1.5 -4.6zM432 931.7m0 -4.1l3.9 2.8 -1.5 4.6 -4.8 0 -1.5 -4.6zM435.2 937m0 -4.1l3.9 2.8 -1.5 4.6 -4.8 0 -1.5 -4.6zM438.4 942.3m0 -4.1l3.9 2.8 -1.5 4.6 -4.8 0 -1.5 -4.6zM441.6 947.7m0 -4.1l3.9 2.8 -1.5 4.6 -4.8 0 -1.5 -4.6zM444.8 952.9m0 -4.1l3.9 2.8 -1.5 4.6 -4.8 0 -1.5 -4.6zM448 958.3m0 -4.1l3.9 2.8 -1.5 4.6 -4.8 0 -1.5 -4.6zM451.3 963.9m0 -4.1l3.9 2.8 -1.5 4.6 -4.8 0 -1.5 -4.6zM454.5 969.2m0 -4.1l3.9 2.8 -1.5 4.6 -4.8 0 -1.5 -4.6zM457.7 974.6m0 -4.1l3.9 2.8 -1.5 4.6 -4.8 0 -1.5 -4.6zM461 980m0 -4.1l3.9 2.8 -1.5 4.6 -4.8 0 -1.5 -4.6zM464.2 985.4m0 -4.1l3.9 2.8 -1.5 4.6 -4.8 0 -1.5 -4.6zM467.3 990.6m0 -4.1l3.9 2.8 -1.5 4.6 -4.8 0 -1.5 -4.6zM470.6 996.2m0 -4.1l3.9 2.8 -1.5 4.6 -4.8 0 -1.5 -4.6zM473.8 1001.6m0 -4.1l3.9 2.8 -1.5 4.6 -4.8 0 -1.5 -4.6zM476.9 1006.7m0 -4.1l3.9 2.8 -1.5 4.6 -4.8 0 -1.5 -4.6zM480.1 1012m0 -4.1l3.9 2.8 -1.5 4.6 -4.8 0 -1.5 -4.6zM483.4 1017.2m0 -4.1l3.9 2.8 -1.5 4.6 -4.8 0 -1.5 -4.6zM486.7 1022.6m0 -4.1l3.9 2.8 -1.5 4.6 -4.8 0 -1.5 -4.6zM489.9 1027.4m0 -4.1l3.9 2.8 -1.5 4.6 -4.8 0 -1.5 -4.6zM493.1 1032.2m0 -4.1l3.9 2.8 -1.5 4.6 -4.8 0 -1.5 -4.6zM496.4 1037m0 -4.1l3.9 2.8 -1.5 4.6 -4.8 0 -1.5 -4.6zM499.7 1041.7m0 -4.1l3.9 2.8 -1.5 4.6 -4.8 0 -1.5 -4.6zM503 1046.4m0 -4.1l3.9 2.8 -1.5 4.6 -4.8 0 -1.5 -4.6zM506.2 1051.1m0 -4.1l3.9 2.8 -1.5 4.6 -4.8 0 -1.5 -4.6zM509.4 1055.7m0 -4.1l3.9 2.8 -1.5 4.6 -4.8 0 -1.5 -4.6zM512.7 1060.5m0 -4.1l3.9 2.8 -1.5 4.6 -4.8 0 -1.5 -4.6zM515.8 1065.3m0 -4.1l3.9 2.8 -1.5 4.6 -4.8 0 -1.5 -4.6zM519.1 1070.4m0 -4.1l3.9 2.8 -1.5 4.6 -4.8 0 -1.5 -4.6zM522.3 1075.7m0 -4.1l3.9 2.8 -1.5 4.6 -4.8 0 -1.5 -4.6zM525.4 1080.9m0 -4.1l3.9 2.8 -1.5 4.6 -4.8 0 -1.5 -4.6zM528.7 1086.6m0 -4.1l3.9 2.8 -1.5 4.6 -4.8 0 -1.5 -4.6zM531.8 1091.9m0 -4.1l3.9 2.8 -1.5 4.6 -4.8 0 -1.5 -4.6zM534.9 1097m0 -4.1l3.9 2.8 -1.5 4.6 -4.8 0 -1.5 -4.6zM538 1101.9m0 -4.1l3.9 2.8 -1.5 4.6 -4.8 0 -1.5 -4.6zM541.2 1106.6m0 -4.1l3.9 2.8 -1.5 4.6 -4.8 0 -1.5 -4.6zM544.4 1111.4m0 -4.1l3.9 2.8 -1.5 4.6 -4.8 0 -1.5 -4.6zM547.6 1116m0 -4.1l3.9 2.8 -1.5 4.6 -4.8 0 -1.5 -4.6zM550.9 1120.6m0 -4.1l3.9 2.8 -1.5 4.6 -4.8 0 -1.5 -4.6zM554.3 1125.2m0 -4.1l3.9 2.8 -1.5 4.6 -4.8 0 -1.5 -4.6zM557.4 1129.2m0 -4.1l3.9 2.8 -1.5 4.6 -4.8 0 -1.5 -4.6zM560.7 1133.1m0 -4.1l3.9 2.8 -1.5 4.6 -4.8 0 -1.5 -4.6zM563.8 1136.6m0 -4.1l3.9 2.8 -1.5 4.6 -4.8 0 -1.5 -4.6zM567 1140m0 -4.1l3.9 2.8 -1.5 4.6 -4.8 0 -1.5 -4.6zM570.4 1142.9m0 -4.1l3.9 2.8 -1.5 4.6 -4.8 0 -1.5 -4.6zM573.8 1145.5m0 -4.1l3.9 2.8 -1.5 4.6 -4.8 0 -1.5 -4.6zM577.2 1147.8m0 -4.1l3.9 2.8 -1.5 4.6 -4.8 0 -1.5 -4.6zM580.6 1149.8m0 -4.1l3.9 2.8 -1.5 4.6 -4.8 0 -1.5 -4.6zM584 1151.4m0 -4.1l3.9 2.8 -1.5 4.6 -4.8 0 -1.5 -4.6zM587.2 1152.7m0 -4.1l3.9 2.8 -1.5 4.6 -4.8 0 -1.5 -4.6zM590.3 1153.4m0 -4.1l3.9 2.8 -1.5 4.6 -4.8 0 -1.5 -4.6zM593.5 1153.7m0 -4.1l3.9 2.8 -1.5 4.6 -4.8 0 -1.5 -4.6zM596.7 1153.5m0 -4.1l3.9 2.8 -1.5 4.6 -4.8 0 -1.5 -4.6zM599.9 1152.4m0 -4.1l3.9 2.8 -1.5 4.6 -4.8 0 -1.5 -4.6zM603.4 1149.9m0 -4.1l3.9 2.8 -1.5 4.6 -4.8 0 -1.5 -4.6zM606.6 1147m0 -4.1l3.9 2.8 -1.5 4.6 -4.8 0 -1.5 -4.6zM610 1144m0 -4.1l3.9 2.8 -1.5 4.6 -4.8 0 -1.5 -4.6zM613.3 1141.4m0 -4.1l3.9 2.8 -1.5 4.6 -4.8 0 -1.5 -4.6zM616.7 1138.7m0 -4.1l3.9 2.8 -1.5 4.6 -4.8 0 -1.5 -4.6zM620.1 1135.8m0 -4.1l3.9 2.8 -1.5 4.6 -4.8 0 -1.5 -4.6zM623.4 1132.4m0 -4.1l3.9 2.8 -1.5 4.6 -4.8 0 -1.5 -4.6zM626.7 1128.6m0 -4.1l3.9 2.8 -1.5 4.6 -4.8 0 -1.5 -4.6zM630 1124m0 -4.1l3.9 2.8 -1.5 4.6 -4.8 0 -1.5 -4.6zM633.2 1118m0 -4.1l3.9 2.8 -1.5 4.6 -4.8 0 -1.5 -4.6zM636.3 1110.8m0 -4.1l3.9 2.8 -1.5 4.6 -4.8 0 -1.5 -4.6zM639.6 1102.6m0 -4.1l3.9 2.8 -1.5 4.6 -4.8 0 -1.5 -4.6zM642.8 1093m0 -4.1l3.9 2.8 -1.5 4.6 -4.8 0 -1.5 -4.6zM646.1 1082.1m0 -4.1l3.9 2.8 -1.5 4.6 -4.8 0 -1.5 -4.6zM649.1 1069.7m0 -4.1l3.9 2.8 -1.5 4.6 -4.8 0 -1.5 -4.6zM651.9 1057.1m0 -4.1l3.9 2.8 -1.5 4.6 -4.8 0 -1.5 -4.6zM654.6 1044.7m0 -4.1l3.9 2.8 -1.5 4.6 -4.8 0 -1.5 -4.6zM657.4 1032.4m0 -4.1l3.9 2.8 -1.5 4.6 -4.8 0 -1.5 -4.6zM660.5 1019.9m0 -4.1l3.9 2.8 -1.5 4.6 -4.8 0 -1.5 -4.6zM663.7 1007.7m0 -4.1l3.9 2.8 -1.5 4.6 -4.8 0 -1.5 -4.6zM666.6 995.4m0 -4.1l3.9 2.8 -1.5 4.6 -4.8 0 -1.5 -4.6zM669 983m0 -4.1l3.9 2.8 -1.5 4.6 -4.8 0 -1.5 -4.6zM671 970.4m0 -4.1l3.9 2.8 -1.5 4.6 -4.8 0 -1.5 -4.6zM672.7 957.8m0 -4.1l3.9 2.8 -1.5 4.6 -4.8 0 -1.5 -4.6zM674.4 945.3m0 -4.1l3.9 2.8 -1.5 4.6 -4.8 0 -1.5 -4.6zM675.9 932.8m0 -4.1l3.9 2.8 -1.5 4.6 -4.8 0 -1.5 -4.6zM677.6 920.3m0 -4.1l3.9 2.8 -1.5 4.6 -4.8 0 -1.5 -4.6zM679.5 907.6m0 -4.1l3.9 2.8 -1.5 4.6 -4.8 0 -1.5 -4.6zM681.7 895m0 -4.1l3.9 2.8 -1.5 4.6 -4.8 0 -1.5 -4.6zM684 882.4m0 -4.1l3.9 2.8 -1.5 4.6 -4.8 0 -1.5 -4.6zM686.5 870.1m0 -4.1l3.9 2.8 -1.5 4.6 -4.8 0 -1.5 -4.6zM688.9 857.6m0 -4.1l3.9 2.8 -1.5 4.6 -4.8 0 -1.5 -4.6zM691.3 845m0 -4.1l3.9 2.8 -1.5 4.6 -4.8 0 -1.5 -4.6zM693.5 832.7m0 -4.1l3.9 2.8 -1.5 4.6 -4.8 0 -1.5 -4.6zM695.7 820.1m0 -4.1l3.9 2.8 -1.5 4.6 -4.8 0 -1.5 -4.6zM697.8 807.6m0 -4.1l3.9 2.8 -1.5 4.6 -4.8 0 -1.5 -4.6zM699.9 794.9m0 -4.1l3.9 2.8 -1.5 4.6 -4.8 0 -1.5 -4.6zM701.9 782.5m0 -4.1l3.9 2.8 -1.5 4.6 -4.8 0 -1.5 -4.6zM704 770.1m0 -4.1l3.9 2.8 -1.5 4.6 -4.8 0 -1.5 -4.6zM706.2 757.5m0 -4.1l3.9 2.8 -1.5 4.6 -4.8 0 -1.5 -4.6zM708.5 745.2m0 -4.1l3.9 2.8 -1.5 4.6 -4.8 0 -1.5 -4.6zM710.8 732.9m0 -4.1l3.9 2.8 -1.5 4.6 -4.8 0 -1.5 -4.6zM713.3 720.6m0 -4.1l3.9 2.8 -1.5 4.6 -4.8 0 -1.5 -4.6zM715.8 708.2m0 -4.1l3.9 2.8 -1.5 4.6 -4.8 0 -1.5 -4.6zM718.4 695.8m0 -4.1l3.9 2.8 -1.5 4.6 -4.8 0 -1.5 -4.6zM720.9 683.4m0 -4.1l3.9 2.8 -1.5 4.6 -4.8 0 -1.5 -4.6z"/>
<path fill="none" stroke="#800000" stroke-width="0.8" d="M243 675l.7 1.2 1 1.5 1.1 1.8 1.2 2.1 1.4 2.1 1.4 2.2 1.5 2.1 1.5 2 1.4 1.9 1.6 1.9 1.6 1.8 1.7 1.9 1.7 1.9 1.7 1.8 1.8 1.9 1.7 1.9 1.7 1.9 1.8 1.9 1.8 1.8 1.8 1.9 1.7 1.9 1.8 1.8 1.8 1.9 1.7 1.9 1.7 1.9 1.6 1.9 1.6 1.8 1.6 1.9 1.6 1.9 1.6 1.8 1.7 1.9 1.6 1.9 1.7 1.9 1.7 1.9 1.8 1.8 1.7 1.9 1.7 1.9 1.7 1.8 1.7 1.9 1.7 1.9 1.7 1.9 1.7 1.9 1.6 1.8 1.7 1.9 1.6 1.9 1.6 1.8 1.6 1.9 1.5 1.9 1.6 1.9 1.4 1.9 1.4 1.8 1.5 1.9 1.4 1.9 1.4 1.8 1.4 1.9 1.5 1.9 1.5 1.9 1.5 1.9 1.6 1.8 1.5 1.9 1.6 1.9 1.6 1.8 1.5 1.9 1.6 1.9 1.6 1.9 1.7 1.9 1.6 1.8 1.7 1.9 1.7 1.9 1.6 1.8 1.5 1.9 1.4 1.9 1.4 1.9 1.2 1.9 1.2 1.8 1.2 1.9 1.1 1.9 1.1 1.8 1.1 1.9 1.2 1.9 .9 1.4 .4 .8 .3 .6 .4 .6 .8 1.2 1.3 2.1 2.1 3.3 3.2 5 4.5 7.1 5.8 8.9 6.7 10.3 7.3 11.2 7.4 11.5 7.2 11.2 6.8 10.6 5.8 9.2 5 8.1 4.6 7.6 4.3 7.1 4 6.7 3.8 6.5 3.8 6.3 3.7 6.3 3.8 6.4 3.8 6.4 3.7 6.2 3.6 6.1 3.6 6 3.5 5.9 3.6 5.8 3.6 5.8 3.6 5.8 3.8 5.7 3.8 5.7 3.9 5.7 3.9 5.5 3.8 5.5 3.8 5.4 3.6 5.3 3.4 5.2 3.2 5.1 2.9 4.9 2.9 4.8 2.7 4.8 2.7 4.6 2.7 4.7 2.9 4.5 3 4.6 3.2 4.7 3.3 4.8 3.4 4.8 3.4 4.7 3.5 4.5 3.4 4.3 3.4 3.9 3.4 3.3 3.4 2.9 3.4 2.6 3.4 2.3 3.4 2 3.4 1.6 3.2 1.3 3 .8 2.8 .5 2.5 0 2.3-.6 2.1-1 2-1.3 1.9-1.6 2-1.7 2-1.9 2.2-1.9 2.4-1.9 2.5-2 2.6-2.1 2.6-2.2 2.6-2.5 2.6-2.8 2.4-3.1 2.3-3.4 2.1-3.8 2.1-4.1 1.9-4.4 1.9-4.7 1.8-4.9 1.8-5.2 1.7-5.4 1.7-5.5 1.7-5.9 1.5-6.3 1.6-6.6 1.4-6.8 1.5-6.8 1.4-6.8 1.5-6.5 1.4-6.3 1.5-6 1.4-5.8 1.5-5.8 1.5-5.6 1.4-5.5 1.3-5.5 1.3-5.4 1.1-5.4 1-5.3 .9-5.2 .7-5 .7-5.1 .7-5 .6-5 .7-5.2 .7-5.2 .7-5.2 .6-5 .6-5 .7-5.1 .6-5.3 .8-5.6 .9-6.1 1.1-6.7 1.3-7.2 1.4-7.8 1.6-8.1 1.7-8.5 1.7-8.7 1.8-9.1 1.8-9.2 1.7-9.4 1.7-9.7 1.7-10.2 1.7-10.5 1.8-10.7 1.7-10.7 1.8-10.7 1.8-10.4 1.8-10.1 1.9-10.3 2.1-10.8 2.2-10.9 2.2-10.7 2-10 1.9-9 1.5-7.6 1.2-5.7"/>
<path fill="#800000" d="M243 675m4.1 0l-2 3.2 -4.1 0 -2.1 -3.2 2.1 -3.2 4.1 0zM245.2 680.1m4.1 0l-2 3.2 -4.1 0 -2.1 -3.2 2.1 -3.2 4.1 0zM246.7 685.8m4.1 0l-2 3.2 -4.1 0 -2.1 -3.2 2.1 -3.2 4.1 0zM254.3 689.5m4.1 0l-2 3.2 -4.1 0 -2.1 -3.2 2.1 -3.2 4.1 0zM257.1 694.7m4.1 0l-2 3.2 -4.1 0 -2.1 -3.2 2.1 -3.2 4.1 0zM257.6 696.9m4.1 0l-2 3.2 -4.1 0 -2.1 -3.2 2.1 -3.2 4.1 0zM266 700.6m4.1 0l-2 3.2 -4.1 0 -2.1 -3.2 2.1 -3.2 4.1 0zM265.6 702.4m4.1 0l-2 3.2 -4.1 0 -2.1 -3.2 2.1 -3.2 4.1 0zM267.4 706.3m4.1 0l-2 3.2 -4.1 0 -2.1 -3.2 2.1 -3.2 4.1 0zM274.9 713.1m4.1 0l-2 3.2 -4.1 0 -2.1 -3.2 2.1 -3.2 4.1 0zM277.8 718m4.1 0l-2 3.2 -4.1 0 -2.1 -3.2 2.1 -3.2 4.1 0zM279.3 721m4.1 0l-2 3.2 -4.1 0 -2.1 -3.2 2.1 -3.2 4.1 0zM282.3 721.8m4.1 0l-2 3.2 -4.1 0 -2.1 -3.2 2.1 -3.2 4.1 0zM287.7 728.2m4.1 0l-2 3.2 -4.1 0 -2.1 -3.2 2.1 -3.2 4.1 0zM291 729.6m4.1 0l-2 3.2 -4.1 0 -2.1 -3.2 2.1 -3.2 4.1 0zM293.3 733m4.1 0l-2 3.2 -4.1 0 -2.1 -3.2 2.1 -3.2 4.1 0zM297.8 739.5m4.1 0l-2 3.2 -4.1 0 -2.1 -3.2 2.1 -3.2 4.1 0zM297.5 743.3m4.1 0l-2 3.2 -4.1 0 -2.1 -3.2 2.1 -3.2 4.1 0zM300.1 742.3m4.1 0l-2 3.2 -4.1 0 -2.1 -3.2 2.1 -3.2 4.1 0zM306.3 747.1m4.1 0l-2 3.2 -4.1 0 -2.1 -3.2 2.1 -3.2 4.1 0zM308.6 752.6m4.1 0l-2 3.2 -4.1 0 -2.1 -3.2 2.1 -3.2 4.1 0zM309.6 756.8m4.1 0l-2 3.2 -4.1 0 -2.1 -3.2 2.1 -3.2 4.1 0zM314 759.1m4.1 0l-2 3.2 -4.1 0 -2.1 -3.2 2.1 -3.2 4.1 0zM317.6 764.2m4.1 0l-2 3.2 -4.1 0 -2.1 -3.2 2.1 -3.2 4.1 0zM322.6 766.2m4.1 0l-2 3.2 -4.1 0 -2.1 -3.2 2.1 -3.2 4.1 0zM323 770.4m4.1 0l-2 3.2 -4.1 0 -2.1 -3.2 2.1 -3.2 4.1 0zM327.5 773.6m4.1 0l-2 3.2 -4.1 0 -2.1 -3.2 2.1 -3.2 4.1 0zM329.6 780.7m4.1 0l-2 3.2 -4.1 0 -2.1 -3.2 2.1 -3.2 4.1 0zM335.2 785.7m4.1 0l-2 3.2 -4.1 0 -2.1 -3.2 2.1 -3.2 4.1 0zM339.4 789m4.1 0l-2 3.2 -4.1 0 -2.1 -3.2 2.1 -3.2 4.1 0zM340.2 789.9m4.1 0l-2 3.2 -4.1 0 -2.1 -3.2 2.1 -3.2 4.1 0zM343.1 794.9m4.1 0l-2 3.2 -4.1 0 -2.1 -3.2 2.1 -3.2 4.1 0zM347.2 798.9m4.1 0l-2 3.2 -4.1 0 -2.1 -3.2 2.1 -3.2 4.1 0zM349.9 803.8m4.1 0l-2 3.2 -4.1 0 -2.1 -3.2 2.1 -3.2 4.1 0zM352.9 806.1m4.1 0l-2 3.2 -4.1 0 -2.1 -3.2 2.1 -3.2 4.1 0zM358.3 811.7m4.1 0l-2 3.2 -4.1 0 -2.1 -3.2 2.1 -3.2 4.1 0zM359.8 814.8m4.1 0l-2 3.2 -4.1 0 -2.1 -3.2 2.1 -3.2 4.1 0zM364.5 819.3m4.1 0l-2 3.2 -4.1 0 -2.1 -3.2 2.1 -3.2 4.1 0zM365.6 826.1m4.1 0l-2 3.2 -4.1 0 -2.1 -3.2 2.1 -3.2 4.1 0zM370 830.3m4.1 0l-2 3.2 -4.1 0 -2.1 -3.2 2.1 -3.2 4.1 0zM372 835.7m4.1 0l-2 3.2 -4.1 0 -2.1 -3.2 2.1 -3.2 4.1 0zM377.2 841.5m4.1 0l-2 3.2 -4.1 0 -2.1 -3.2 2.1 -3.2 4.1 0zM380.9 847.3m4.1 0l-2 3.2 -4.1 0 -2.1 -3.2 2.1 -3.2 4.1 0zM384.1 850.7m4.1 0l-2 3.2 -4.1 0 -2.1 -3.2 2.1 -3.2 4.1 0zM385.7 855.9m4.1 0l-2 3.2 -4.1 0 -2.1 -3.2 2.1 -3.2 4.1 0zM389.7 862m4.1 0l-2 3.2 -4.1 0 -2.1 -3.2 2.1 -3.2 4.1 0zM393.1 867.2m4.1 0l-2 3.2 -4.1 0 -2.1 -3.2 2.1 -3.2 4.1 0zM396.4 872.3m4.1 0l-2 3.2 -4.1 0 -2.1 -3.2 2.1 -3.2 4.1 0zM399.8 877.5m4.1 0l-2 3.2 -4.1 0 -2.1 -3.2 2.1 -3.2 4.1 0zM403.1 882.6m4.1 0l-2 3.2 -4.1 0 -2.1 -3.2 2.1 -3.2 4.1 0zM406.4 887.7m4.1 0l-2 3.2 -4.1 0 -2.1 -3.2 2.1 -3.2 4.1 0zM409.7 892.9m4.1 0l-2 3.2 -4.1 0 -2.1 -3.2 2.1 -3.2 4.1 0zM413 898.1m4.1 0l-2 3.2 -4.1 0 -2.1 -3.2 2.1 -3.2 4.1 0zM416.3 903.1m4.1 0l-2 3.2 -4.1 0 -2.1 -3.2 2.1 -3.2 4.1 0zM419.5 908.2m4.1 0l-2 3.2 -4.1 0 -2.1 -3.2 2.1 -3.2 4.1 0zM422.9 913.5m4.1 0l-2 3.2 -4.1 0 -2.1 -3.2 2.1 -3.2 4.1 0zM426.2 918.7m4.1 0l-2 3.2 -4.1 0 -2.1 -3.2 2.1 -3.2 4.1 0zM429.4 923.8m4.1 0l-2 3.2 -4.1 0 -2.1 -3.2 2.1 -3.2 4.1 0zM432.6 929.1m4.1 0l-2 3.2 -4.1 0 -2.1 -3.2 2.1 -3.2 4.1 0zM435.8 934.4m4.1 0l-2 3.2 -4.1 0 -2.1 -3.2 2.1 -3.2 4.1 0zM439 939.7m4.1 0l-2 3.2 -4.1 0 -2.1 -3.2 2.1 -3.2 4.1 0zM442.2 945m4.1 0l-2 3.2 -4.1 0 -2.1 -3.2 2.1 -3.2 4.1 0zM445.4 950.3m4.1 0l-2 3.2 -4.1 0 -2.1 -3.2 2.1 -3.2 4.1 0zM448.5 955.5m4.1 0l-2 3.2 -4.1 0 -2.1 -3.2 2.1 -3.2 4.1 0zM451.7 961m4.1 0l-2 3.2 -4.1 0 -2.1 -3.2 2.1 -3.2 4.1 0zM454.9 966.4m4.1 0l-2 3.2 -4.1 0 -2.1 -3.2 2.1 -3.2 4.1 0zM458.2 972m4.1 0l-2 3.2 -4.1 0 -2.1 -3.2 2.1 -3.2 4.1 0zM461.4 977.3m4.1 0l-2 3.2 -4.1 0 -2.1 -3.2 2.1 -3.2 4.1 0zM464.6 982.7m4.1 0l-2 3.2 -4.1 0 -2.1 -3.2 2.1 -3.2 4.1 0zM467.7 988m4.1 0l-2 3.2 -4.1 0 -2.1 -3.2 2.1 -3.2 4.1 0zM470.9 993.2m4.1 0l-2 3.2 -4.1 0 -2.1 -3.2 2.1 -3.2 4.1 0zM474.1 998.8m4.1 0l-2 3.2 -4.1 0 -2.1 -3.2 2.1 -3.2 4.1 0zM477.4 1004.2m4.1 0l-2 3.2 -4.1 0 -2.1 -3.2 2.1 -3.2 4.1 0zM480.7 1009.6m4.1 0l-2 3.2 -4.1 0 -2.1 -3.2 2.1 -3.2 4.1 0zM484 1015m4.1 0l-2 3.2 -4.1 0 -2.1 -3.2 2.1 -3.2 4.1 0zM487.3 1020.3m4.1 0l-2 3.2 -4.1 0 -2.1 -3.2 2.1 -3.2 4.1 0zM490.5 1025.2m4.1 0l-2 3.2 -4.1 0 -2.1 -3.2 2.1 -3.2 4.1 0zM493.8 1030.2m4.1 0l-2 3.2 -4.1 0 -2.1 -3.2 2.1 -3.2 4.1 0zM497 1034.9m4.1 0l-2 3.2 -4.1 0 -2.1 -3.2 2.1 -3.2 4.1 0zM500.2 1039.6m4.1 0l-2 3.2 -4.1 0 -2.1 -3.2 2.1 -3.2 4.1 0zM503.5 1044.3m4.1 0l-2 3.2 -4.1 0 -2.1 -3.2 2.1 -3.2 4.1 0zM506.7 1049m4.1 0l-2 3.2 -4.1 0 -2.1 -3.2 2.1 -3.2 4.1 0zM509.9 1053.6m4.1 0l-2 3.2 -4.1 0 -2.1 -3.2 2.1 -3.2 4.1 0zM513.2 1058.4m4.1 0l-2 3.2 -4.1 0 -2.1 -3.2 2.1 -3.2 4.1 0zM516.4 1063.1m4.1 0l-2 3.2 -4.1 0 -2.1 -3.2 2.1 -3.2 4.1 0zM519.7 1068.2m4.1 0l-2 3.2 -4.1 0 -2.1 -3.2 2.1 -3.2 4.1 0zM523 1073.5m4.1 0l-2 3.2 -4.1 0 -2.1 -3.2 2.1 -3.2 4.1 0zM526.1 1078.7m4.1 0l-2 3.2 -4.1 0 -2.1 -3.2 2.1 -3.2 4.1 0zM529.4 1084.4m4.1 0l-2 3.2 -4.1 0 -2.1 -3.2 2.1 -3.2 4.1 0zM532.6 1089.9m4.1 0l-2 3.2 -4.1 0 -2.1 -3.2 2.1 -3.2 4.1 0zM535.9 1095.4m4.1 0l-2 3.2 -4.1 0 -2.1 -3.2 2.1 -3.2 4.1 0zM539 1100.4m4.1 0l-2 3.2 -4.1 0 -2.1 -3.2 2.1 -3.2 4.1 0zM542.1 1105m4.1 0l-2 3.2 -4.1 0 -2.1 -3.2 2.1 -3.2 4.1 0zM545.2 1109.7m4.1 0l-2 3.2 -4.1 0 -2.1 -3.2 2.1 -3.2 4.1 0zM548.5 1114.5m4.1 0l-2 3.2 -4.1 0 -2.1 -3.2 2.1 -3.2 4.1 0zM551.9 1119.3m4.1 0l-2 3.2 -4.1 0 -2.1 -3.2 2.1 -3.2 4.1 0zM555 1123.6m4.1 0l-2 3.2 -4.1 0 -2.1 -3.2 2.1 -3.2 4.1 0zM558.1 1127.7m4.1 0l-2 3.2 -4.1 0 -2.1 -3.2 2.1 -3.2 4.1 0zM561.3 1131.6m4.1 0l-2 3.2 -4.1 0 -2.1 -3.2 2.1 -3.2 4.1 0zM564.6 1135.5m4.1 0l-2 3.2 -4.1 0 -2.1 -3.2 2.1 -3.2 4.1 0zM567.9 1138.9m4.1 0l-2 3.2 -4.1 0 -2.1 -3.2 2.1 -3.2 4.1 0zM571.2 1141.9m4.1 0l-2 3.2 -4.1 0 -2.1 -3.2 2.1 -3.2 4.1 0zM574.5 1144.5m4.1 0l-2 3.2 -4.1 0 -2.1 -3.2 2.1 -3.2 4.1 0zM577.9 1146.9m4.1 0l-2 3.2 -4.1 0 -2.1 -3.2 2.1 -3.2 4.1 0zM581.2 1149m4.1 0l-2 3.2 -4.1 0 -2.1 -3.2 2.1 -3.2 4.1 0zM584.5 1150.7m4.1 0l-2 3.2 -4.1 0 -2.1 -3.2 2.1 -3.2 4.1 0zM587.8 1152.1m4.1 0l-2 3.2 -4.1 0 -2.1 -3.2 2.1 -3.2 4.1 0zM591.2 1153.2m4.1 0l-2 3.2 -4.1 0 -2.1 -3.2 2.1 -3.2 4.1 0zM594.5 1153.9m4.1 0l-2 3.2 -4.1 0 -2.1 -3.2 2.1 -3.2 4.1 0zM597.7 1153.6m4.1 0l-2 3.2 -4.1 0 -2.1 -3.2 2.1 -3.2 4.1 0zM600.8 1152.7m4.1 0l-2 3.2 -4.1 0 -2.1 -3.2 2.1 -3.2 4.1 0zM604 1150.7m4.1 0l-2 3.2 -4.1 0 -2.1 -3.2 2.1 -3.2 4.1 0zM607.3 1148.1m4.1 0l-2 3.2 -4.1 0 -2.1 -3.2 2.1 -3.2 4.1 0zM610.4 1145.4m4.1 0l-2 3.2 -4.1 0 -2.1 -3.2 2.1 -3.2 4.1 0zM613.6 1142.8m4.1 0l-2 3.2 -4.1 0 -2.1 -3.2 2.1 -3.2 4.1 0zM616.9 1140.1m4.1 0l-2 3.2 -4.1 0 -2.1 -3.2 2.1 -3.2 4.1 0zM620.1 1137.4m4.1 0l-2 3.2 -4.1 0 -2.1 -3.2 2.1 -3.2 4.1 0zM623.6 1134.3m4.1 0l-2 3.2 -4.1 0 -2.1 -3.2 2.1 -3.2 4.1 0zM626.9 1130.9m4.1 0l-2 3.2 -4.1 0 -2.1 -3.2 2.1 -3.2 4.1 0zM630.2 1126.4m4.1 0l-2 3.2 -4.1 0 -2.1 -3.2 2.1 -3.2 4.1 0zM633.6 1121.1m4.1 0l-2 3.2 -4.1 0 -2.1 -3.2 2.1 -3.2 4.1 0zM636.8 1114.5m4.1 0l-2 3.2 -4.1 0 -2.1 -3.2 2.1 -3.2 4.1 0zM640 1107m4.1 0l-2 3.2 -4.1 0 -2.1 -3.2 2.1 -3.2 4.1 0zM643.2 1097.9m4.1 0l-2 3.2 -4.1 0 -2.1 -3.2 2.1 -3.2 4.1 0zM646.4 1088m4.1 0l-2 3.2 -4.1 0 -2.1 -3.2 2.1 -3.2 4.1 0zM649.6 1076.3m4.1 0l-2 3.2 -4.1 0 -2.1 -3.2 2.1 -3.2 4.1 0zM652.4 1063.9m4.1 0l-2 3.2 -4.1 0 -2.1 -3.2 2.1 -3.2 4.1 0zM655.2 1051.4m4.1 0l-2 3.2 -4.1 0 -2.1 -3.2 2.1 -3.2 4.1 0zM657.9 1039m4.1 0l-2 3.2 -4.1 0 -2.1 -3.2 2.1 -3.2 4.1 0zM660.9 1026.6m4.1 0l-2 3.2 -4.1 0 -2.1 -3.2 2.1 -3.2 4.1 0zM664 1014.3m4.1 0l-2 3.2 -4.1 0 -2.1 -3.2 2.1 -3.2 4.1 0zM667.1 1001.8m4.1 0l-2 3.2 -4.1 0 -2.1 -3.2 2.1 -3.2 4.1 0zM669.9 989.5m4.1 0l-2 3.2 -4.1 0 -2.1 -3.2 2.1 -3.2 4.1 0zM672 977m4.1 0l-2 3.2 -4.1 0 -2.1 -3.2 2.1 -3.2 4.1 0zM673.8 964.4m4.1 0l-2 3.2 -4.1 0 -2.1 -3.2 2.1 -3.2 4.1 0zM675.5 952m4.1 0l-2 3.2 -4.1 0 -2.1 -3.2 2.1 -3.2 4.1 0zM677.1 939.3m4.1 0l-2 3.2 -4.1 0 -2.1 -3.2 2.1 -3.2 4.1 0zM678.7 926.9m4.1 0l-2 3.2 -4.1 0 -2.1 -3.2 2.1 -3.2 4.1 0zM680.4 914.2m4.1 0l-2 3.2 -4.1 0 -2.1 -3.2 2.1 -3.2 4.1 0zM682.5 901.7m4.1 0l-2 3.2 -4.1 0 -2.1 -3.2 2.1 -3.2 4.1 0zM684.7 889m4.1 0l-2 3.2 -4.1 0 -2.1 -3.2 2.1 -3.2 4.1 0zM687.2 876.5m4.1 0l-2 3.2 -4.1 0 -2.1 -3.2 2.1 -3.2 4.1 0zM689.6 864.1m4.1 0l-2 3.2 -4.1 0 -2.1 -3.2 2.1 -3.2 4.1 0zM692 851.8m4.1 0l-2 3.2 -4.1 0 -2.1 -3.2 2.1 -3.2 4.1 0zM694.4 839.5m4.1 0l-2 3.2 -4.1 0 -2.1 -3.2 2.1 -3.2 4.1 0zM696.6 826.8m4.1 0l-2 3.2 -4.1 0 -2.1 -3.2 2.1 -3.2 4.1 0zM698.7 814.2m4.1 0l-2 3.2 -4.1 0 -2.1 -3.2 2.1 -3.2 4.1 0zM700.7 801.8m4.1 0l-2 3.2 -4.1 0 -2.1 -3.2 2.1 -3.2 4.1 0zM702.8 789.2m4.1 0l-2 3.2 -4.1 0 -2.1 -3.2 2.1 -3.2 4.1 0zM704.9 776.6m4.1 0l-2 3.2 -4.1 0 -2.1 -3.2 2.1 -3.2 4.1 0zM707 764.1m4.1 0l-2 3.2 -4.1 0 -2.1 -3.2 2.1 -3.2 4.1 0zM709.3 751.7m4.1 0l-2 3.2 -4.1 0 -2.1 -3.2 2.1 -3.2 4.1 0zM711.6 739.3m4.1 0l-2 3.2 -4.1 0 -2.1 -3.2 2.1 -3.2 4.1 0zM714 726.9m4.1 0l-2 3.2 -4.1 0 -2.1 -3.2 2.1 -3.2 4.1 0zM716.6 714.3m4.1 0l-2 3.2 -4.1 0 -2.1 -3.2 2.1 -3.2 4.1 0zM719.1 701.8m4.1 0l-2 3.2 -4.1 0 -2.1 -3.2 2.1 -3.2 4.1 0zM721.7 689.2m4.1 0l-2 3.2 -4.1 0 -2.1 -3.2 2.1 -3.2 4.1 0z"/>
<path fill="none" stroke="#008000" stroke-width="0.8" d="M250.7 675l.8 1.2 .9 1.5 1.1 1.8 1.2 2.1 1.3 2.1 1.4 2.2 1.5 2.1 1.3 2 1.5 1.9 1.4 1.9 1.6 1.8 1.5 1.9 1.6 1.9 1.7 1.8 1.6 1.9 1.6 1.9 1.7 1.9 1.6 1.9 1.7 1.8 1.7 1.9 1.7 1.9 1.7 1.8 1.6 1.9 1.7 1.9 1.6 1.9 1.5 1.9 1.6 1.8 1.5 1.9 1.5 1.9 1.6 1.8 1.5 1.9 1.6 1.9 1.6 1.9 1.6 1.9 1.6 1.8 1.7 1.9 1.6 1.9 1.6 1.8 1.6 1.9 1.6 1.9 1.6 1.9 1.6 1.9 1.5 1.8 1.5 1.9 1.6 1.9 1.5 1.8 1.5 1.9 1.4 1.9 1.5 1.9 1.4 1.9 1.3 1.8 1.4 1.9 1.3 1.9 1.4 1.8 1.3 1.9 1.5 1.9 1.4 1.9 1.5 1.9 1.4 1.8 1.5 1.9 1.5 1.9 1.5 1.8 1.5 1.9 1.5 1.9 1.6 1.9 1.5 1.9 1.6 1.8 1.6 1.9 1.6 1.9 1.5 1.8 1.5 1.9 1.4 1.9 1.3 1.9 1.3 1.9 1.2 1.8 1.1 1.9 1.2 1.9 1.1 1.8 1.1 1.9 1.2 1.9 .9 1.4 .4 .8 .3 .6 .3 .6 .7 1.2 1.3 2.1 2.2 3.3 3.2 5 4.6 7.1 5.9 8.9 6.8 10.3 7.4 11.2 7.6 11.5 7.3 11.2 6.9 10.6 5.9 9.2 5.1 8.1 4.6 7.6 4.3 7.1 4 6.7 3.8 6.5 3.7 6.3 3.7 6.3 3.8 6.4 3.8 6.4 3.7 6.2 3.6 6.1 3.6 6 3.5 5.9 3.6 5.8 3.6 5.8 3.6 5.8 3.8 5.7 3.8 5.7 3.9 5.7 3.9 5.5 3.8 5.5 3.8 5.4 3.6 5.3 3.4 5.2 3.2 5.1 2.9 4.9 2.9 4.8 2.7 4.8 2.7 4.6 2.7 4.7 2.9 4.5 3 4.6 3.2 4.7 3.3 4.8 3.4 4.8 3.4 4.7 3.5 4.5 3.4 4.3 3.4 3.9 3.4 3.3 3.4 2.9 3.4 2.6 3.4 2.3 3.4 2 3.4 1.6 3.2 1.3 3 .8 2.8 .5 2.5 0 2.3-.6 2.1-1 2-1.3 1.9-1.6 2-1.7 2-1.9 2.2-1.9 2.4-1.9 2.5-2 2.6-2.1 2.6-2.2 2.6-2.5 2.6-2.8 2.4-3.1 2.3-3.4 2.1-3.8 2.1-4.1 1.9-4.4 1.9-4.7 1.8-4.9 1.8-5.2 1.7-5.4 1.7-5.5 1.7-5.9 1.5-6.3 1.6-6.6 1.4-6.8 1.5-6.8 1.4-6.8 1.5-6.5 1.4-6.3 1.5-6 1.4-5.8 1.5-5.8 1.5-5.6 1.4-5.5 1.3-5.5 1.3-5.4 1.1-5.4 1-5.3 .9-5.2 .7-5 .7-5.1 .7-5 .6-5 .7-5.2 .7-5.2 .7-5.2 .6-5 .6-5 .7-5.1 .6-5.3 .8-5.6 .9-6.1 1.1-6.7 1.3-7.2 1.4-7.8 1.6-8.1 1.7-8.5 1.7-8.7 1.8-9.1 1.8-9.2 1.7-9.4 1.7-9.7 1.7-10.2 1.7-10.5 1.8-10.7 1.7-10.7 1.8-10.7 1.8-10.4 1.8-10.1 1.9-10.3 2.1-10.8 2.2-10.9 2.2-10.7 2-10 1.9-9 1.5-7.6 1.2-5.7"/>
<path stroke="#008000" stroke-width="0.8" fill="none" d="M250.7 675m-3.4 0h6.8m-3.4 -3.4v6.8M253.5 679.1m-3.4 0h6.8m-3.4 -3.4v6.8M254.2 685.8m-3.4 0h6.8m-3.4 -3.4v6.8M257.8 688.9m-3.4 0h6.8m-3.4 -3.4v6.8M262.1 696.3m-3.4 0h6.8m-3.4 -3.4v6.8M266.4 696.7m-3.4 0h6.8m-3.4 -3.4v6.8M267.2 701.5m-3.4 0h6.8m-3.4 -3.4v6.8M274.1 706.8m-3.4 0h6.8m-3.4 -3.4v6.8M279.2 711.4m-3.4 0h6.8m-3.4 -3.4v6.8M278.6 711.1m-3.4 0h6.8m-3.4 -3.4v6.8M284.9 718.7m-3.4 0h6.8m-3.4 -3.4v6.8M286.7 722.6m-3.4 0h6.8m-3.4 -3.4v6.8M290 723.1m-3.4 0h6.8m-3.4 -3.4v6.8M291.3 725.9m-3.4 0h6.8m-3.4 -3.4v6.8M297.4 734.9m-3.4 0h6.8m-3.4 -3.4v6.8M301.9 736.3m-3.4 0h6.8m-3.4 -3.4v6.8M303.9 742.5m-3.4 0h6.8m-3.4 -3.4v6.8M307.9 744.5m-3.4 0h6.8m-3.4 -3.4v6.8M309 747.8m-3.4 0h6.8m-3.4 -3.4v6.8M311 749.9m-3.4 0h6.8m-3.4 -3.4v6.8M316.6 757.6m-3.4 0h6.8m-3.4 -3.4v6.8M319.4 758.9m-3.4 0h6.8m-3.4 -3.4v6.8M321.7 763.2m-3.4 0h6.8m-3.4 -3.4v6.8M326.9 767.3m-3.4 0h6.8m-3.4 -3.4v6.8M330.9 770.6m-3.4 0h6.8m-3.4 -3.4v6.8M331.2 776.5m-3.4 0h6.8m-3.4 -3.4v6.8M334.8 782.1m-3.4 0h6.8m-3.4 -3.4v6.8M339.7 786.5m-3.4 0h6.8m-3.4 -3.4v6.8M342.1 787.1m-3.4 0h6.8m-3.4 -3.4v6.8M345.3 793.3m-3.4 0h6.8m-3.4 -3.4v6.8M348.3 796.3m-3.4 0h6.8m-3.4 -3.4v6.8M352.3 802.4m-3.4 0h6.8m-3.4 -3.4v6.8M353.5 805.6m-3.4 0h6.8m-3.4 -3.4v6.8M357.7 809.2m-3.4 0h6.8m-3.4 -3.4v6.8M362.7 815.2m-3.4 0h6.8m-3.4 -3.4v6.8M365 818m-3.4 0h6.8m-3.4 -3.4v6.8M369 823.2m-3.4 0h6.8m-3.4 -3.4v6.8M370.6 830.5m-3.4 0h6.8m-3.4 -3.4v6.8M373.6 833.9m-3.4 0h6.8m-3.4 -3.4v6.8M378.4 840.7m-3.4 0h6.8m-3.4 -3.4v6.8M380 844.1m-3.4 0h6.8m-3.4 -3.4v6.8M383.1 848.3m-3.4 0h6.8m-3.4 -3.4v6.8M386.2 854.9m-3.4 0h6.8m-3.4 -3.4v6.8M389 858m-3.4 0h6.8m-3.4 -3.4v6.8M392.9 863.3m-3.4 0h6.8m-3.4 -3.4v6.8M396.1 868.1m-3.4 0h6.8m-3.4 -3.4v6.8M399.2 872.8m-3.4 0h6.8m-3.4 -3.4v6.8M402.3 877.5m-3.4 0h6.8m-3.4 -3.4v6.8M405.7 882.6m-3.4 0h6.8m-3.4 -3.4v6.8M409 887.7m-3.4 0h6.8m-3.4 -3.4v6.8M412.1 892.5m-3.4 0h6.8m-3.4 -3.4v6.8M415.3 897.2m-3.4 0h6.8m-3.4 -3.4v6.8M418.6 902.3m-3.4 0h6.8m-3.4 -3.4v6.8M421.9 907.4m-3.4 0h6.8m-3.4 -3.4v6.8M425.1 912.4m-3.4 0h6.8m-3.4 -3.4v6.8M428.4 917.5m-3.4 0h6.8m-3.4 -3.4v6.8M431.6 922.6m-3.4 0h6.8m-3.4 -3.4v6.8M434.8 927.7m-3.4 0h6.8m-3.4 -3.4v6.8M438.1 933m-3.4 0h6.8m-3.4 -3.4v6.8M441.3 938.3m-3.4 0h6.8m-3.4 -3.4v6.8M444.6 943.9m-3.4 0h6.8m-3.4 -3.4v6.8M448 949.5m-3.4 0h6.8m-3.4 -3.4v6.8M451.3 955.1m-3.4 0h6.8m-3.4 -3.4v6.8M454.4 960.5m-3.4 0h6.8m-3.4 -3.4v6.8M457.6 965.9m-3.4 0h6.8m-3.4 -3.4v6.8M460.9 971.5m-3.4 0h6.8m-3.4 -3.4v6.8M464.1 976.9m-3.4 0h6.8m-3.4 -3.4v6.8M467.3 982.2m-3.4 0h6.8m-3.4 -3.4v6.8M470.5 987.6m-3.4 0h6.8m-3.4 -3.4v6.8M473.9 993.3m-3.4 0h6.8m-3.4 -3.4v6.8M477.1 998.8m-3.4 0h6.8m-3.4 -3.4v6.8M480.4 1004.2m-3.4 0h6.8m-3.4 -3.4v6.8M483.7 1009.6m-3.4 0h6.8m-3.4 -3.4v6.8M487 1015m-3.4 0h6.8m-3.4 -3.4v6.8M490.3 1020.3m-3.4 0h6.8m-3.4 -3.4v6.8M493.5 1025.2m-3.4 0h6.8m-3.4 -3.4v6.8M496.8 1030.2m-3.4 0h6.8m-3.4 -3.4v6.8M500 1034.9m-3.4 0h6.8m-3.4 -3.4v6.8M503.2 1039.6m-3.4 0h6.8m-3.4 -3.4v6.8M506.5 1044.3m-3.4 0h6.8m-3.4 -3.4v6.8M509.7 1049m-3.4 0h6.8m-3.4 -3.4v6.8M512.9 1053.6m-3.4 0h6.8m-3.4 -3.4v6.8M516.2 1058.4m-3.4 0h6.8m-3.4 -3.4v6.8M519.4 1063.1m-3.4 0h6.8m-3.4 -3.4v6.8M522.7 1068.2m-3.4 0h6.8m-3.4 -3.4v6.8M526 1073.5m-3.4 0h6.8m-3.4 -3.4v6.8M529.1 1078.7m-3.4 0h6.8m-3.4 -3.4v6.8M532.4 1084.4m-3.4 0h6.8m-3.4 -3.4v6.8M535.6 1089.9m-3.4 0h6.8m-3.4 -3.4v6.8M538.9 1095.4m-3.4 0h6.8m-3.4 -3.4v6.8M542 1100.4m-3.4 0h6.8m-3.4 -3.4v6.8M545.1 1105m-3.4 0h6.8m-3.4 -3.4v6.8M548.2 1109.7m-3.4 0h6.8m-3.4 -3.4v6.8M551.5 1114.5m-3.4 0h6.8m-3.4 -3.4v6.8M554.9 1119.3m-3.4 0h6.8m-3.4 -3.4v6.8M558 1123.6m-3.4 0h6.8m-3.4 -3.4v6.8M561.1 1127.7m-3.4 0h6.8m-3.4 -3.4v6.8M564.3 1131.6m-3.4 0h6.8m-3.4 -3.4v6.8M567.6 1135.5m-3.4 0h6.8m-3.4 -3.4v6.8M570.9 1138.9m-3.4 0h6.8m-3.4 -3.4v6.8M574.2 1141.9m-3.4 0h6.8m-3.4 -3.4v6.8M577.5 1144.5m-3.4 0h6.8m-3.4 -3.4v6.8M580.9 1146.9m-3.4 0h6.8m-3.4 -3.4v6.8M584.2 1149m-3.4 0h6.8m-3.4 -3.4v6.8M587.5 1150.7m-3.4 0h6.8m-3.4 -3.4v6.8M590.8 1152.1m-3.4 0h6.8m-3.4 -3.4v6.8M594.2 1153.2m-3.4 0h6.8m-3.4 -3.4v6.8M597.5 1153.9m-3.4 0h6.8m-3.4 -3.4v6.8M600.7 1153.6m-3.4 0h6.8m-3.4 -3.4v6.8M603.8 1152.7m-3.4 0h6.8m-3.4 -3.4v6.8M607 1150.7m-3.4 0h6.8m-3.4 -3.4v6.8M610.3 1148.1m-3.4 0h6.8m-3.4 -3.4v6.8M613.4 1145.4m-3.4 0h6.8m-3.4 -3.4v6.8M616.6 1142.8m-3.4 0h6.8m-3.4 -3.4v6.8M619.9 1140.1m-3.4 0h6.8m-3.4 -3.4v6.8M623.1 1137.4m-3.4 0h6.8m-3.4 -3.4v6.8M626.6 1134.3m-3.4 0h6.8m-3.4 -3.4v6.8M629.9 1130.9m-3.4 0h6.8m-3.4 -3.4v6.8M633.2 1126.4m-3.4 0h6.8m-3.4 -3.4v6.8M636.6 1121.1m-3.4 0h6.8m-3.4 -3.4v6.8M639.8 1114.5m-3.4 0h6.8m-3.4 -3.4v6.8M643 1107m-3.4 0h6.8m-3.4 -3.4v6.8M646.2 1097.9m-3.4 0h6.8m-3.4 -3.4v6.8M649.4 1088m-3.4 0h6.8m-3.4 -3.4v6.8M652.6 1076.3m-3.4 0h6.8m-3.4 -3.4v6.8M655.4 1063.9m-3.4 0h6.8m-3.4 -3.4v6.8M658.2 1051.4m-3.4 0h6.8m-3.4 -3.4v6.8M660.9 1039m-3.4 0h6.8m-3.4 -3.4v6.8M663.9 1026.6m-3.4 0h6.8m-3.4 -3.4v6.8M667 1014.3m-3.4 0h6.8m-3.4 -3.4v6.8M670.1 1001.8m-3.4 0h6.8m-3.4 -3.4v6.8M672.9 989.5m-3.4 0h6.8m-3.4 -3.4v6.8M675 977m-3.4 0h6.8m-3.4 -3.4v6.8M676.8 964.4m-3.4 0h6.8m-3.4 -3.4v6.8M678.5 952m-3.4 0h6.8m-3.4 -3.4v6.8M680.1 939.3m-3.4 0h6.8m-3.4 -3.4v6.8M681.7 926.9m-3.4 0h6.8m-3.4 -3.4v6.8M683.4 914.2m-3.4 0h6.8m-3.4 -3.4v6.8M685.5 901.7m-3.4 0h6.8m-3.4 -3.4v6.8M687.7 889m-3.4 0h6.8m-3.4 -3.4v6.8M690.2 876.5m-3.4 0h6.8m-3.4 -3.4v6.8M692.6 864.1m-3.4 0h6.8m-3.4 -3.4v6.8M695 851.8m-3.4 0h6.8m-3.4 -3.4v6.8M697.4 839.5m-3.4 0h6.8m-3.4 -3.4v6.8M699.6 826.8m-3.4 0h6.8m-3.4 -3.4v6.8M701.7 814.2m-3.4 0h6.8m-3.4 -3.4v6.8M703.7 801.8m-3.4 0h6.8m-3.4 -3.4v6.8M705.8 789.2m-3.4 0h6.8m-3.4 -3.4v6.8M707.9 776.6m-3.4 0h6.8m-3.4 -3.4v6.8M710 764.1m-3.4 0h6.8m-3.4 -3.4v6.8M712.3 751.7m-3.4 0h6.8m-3.4 -3.4v6.8M714.6 739.3m-3.4 0h6.8m-3.4 -3.4v6.8M717 726.9m-3.4 0h6.8m-3.4 -3.4v6.8M719.6 714.3m-3.4 0h6.8m-3.4 -3.4v6.8M722.1 701.8m-3.4 0h6.8m-3.4 -3.4v6.8M724.7 689.2m-3.4 0h6.8m-3.4 -3.4v6.8"/>
<path fill="none" stroke="#008080" stroke-width="0.8" d="M246.4 675l.8 1.2 .9 1.5 1.1 1.8 1.3 2.1 1.3 2.1 1.4 2.2 1.5 2.1 1.4 2 1.4 1.9 1.6 1.9 1.5 1.8 1.7 1.9 1.6 1.9 1.7 1.8 1.7 1.9 1.7 1.9 1.7 1.9 1.7 1.9 1.7 1.8 1.8 1.9 1.7 1.9 1.8 1.8 1.7 1.9 1.6 1.9 1.7 1.9 1.6 1.9 1.6 1.8 1.6 1.9 1.5 1.9 1.6 1.8 1.6 1.9 1.6 1.9 1.7 1.9 1.6 1.9 1.7 1.8 1.7 1.9 1.7 1.9 1.7 1.8 1.6 1.9 1.7 1.9 1.6 1.9 1.6 1.9 1.6 1.8 1.6 1.9 1.6 1.9 1.6 1.8 1.5 1.9 1.5 1.9 1.5 1.9 1.4 1.9 1.4 1.8 1.4 1.9 1.4 1.9 1.4 1.8 1.4 1.9 1.4 1.9 1.5 1.9 1.5 1.9 1.5 1.8 1.6 1.9 1.5 1.9 1.5 1.8 1.6 1.9 1.5 1.9 1.6 1.9 1.6 1.9 1.7 1.8 1.6 1.9 1.6 1.9 1.6 1.8 1.5 1.9 1.4 1.9 1.3 1.9 1.3 1.9 1.2 1.8 1.1 1.9 1.2 1.9 1.1 1.8 1.1 1.9 1.2 1.9 .8 1.4 .4 .8 .2 .6 .3 .6 .6 1.2 1.3 2.1 2.3 3.3 3.4 5 5 7.1 6.4 8.9 7.4 10.3 8 11.2 8.2 11.5 8 11.2 7.3 10.6 6.3 9.2 5.3 8.1 4.7 7.6 4.3 7.1 3.9 6.7 3.8 6.5 3.6 6.3 3.6 6.3 3.8 6.4 3.8 6.4 3.7 6.2 3.6 6.1 3.6 6 3.5 5.9 3.6 5.8 3.6 5.8 3.6 5.8 3.8 5.7 3.8 5.7 3.9 5.7 3.9 5.5 3.8 5.5 3.8 5.4 3.6 5.3 3.4 5.2 3.2 5.1 2.9 4.9 2.9 4.8 2.7 4.8 2.7 4.6 2.7 4.7 2.9 4.5 3 4.6 3.2 4.7 3.3 4.8 3.4 4.8 3.4 4.7 3.5 4.5 3.4 4.3 3.4 3.9 3.4 3.3 3.4 2.9 3.4 2.6 3.4 2.3 3.4 2 3.4 1.6 3.2 1.3 3 .8 2.8 .5 2.5 0 2.3-.6 2.1-1 2-1.3 1.9-1.6 2-1.7 2-1.9 2.2-1.9 2.4-1.9 2.5-2 2.6-2.1 2.6-2.2 2.6-2.5 2.6-2.8 2.4-3.1 2.3-3.4 2.1-3.8 2.1-4.1 1.9-4.4 1.9-4.7 1.8-4.9 1.8-5.2 1.7-5.4 1.7-5.5 1.7-5.9 1.5-6.3 1.6-6.6 1.4-6.8 1.5-6.8 1.4-6.8 1.5-6.5 1.4-6.3 1.5-6 1.4-5.8 1.5-5.8 1.5-5.6 1.4-5.5 1.3-5.5 1.3-5.4 1.1-5.4 1-5.3 .9-5.2 .7-5 .7-5.1 .7-5 .6-5 .7-5.2 .7-5.2 .7-5.2 .6-5 .6-5 .7-5.1 .6-5.3 .8-5.6 .9-6.1 1.1-6.7 1.3-7.2 1.4-7.8 1.6-8.1 1.7-8.5 1.7-8.7 1.8-9.1 1.8-9.2 1.7-9.4 1.7-9.7 1.7-10.2 1.7-10.5 1.8-10.7 1.7-10.7 1.8-10.7 1.8-10.4 1.8-10.1 1.9-10.3 2.1-10.8 2.2-10.9 2.2-10.7 2-10 1.9-9 1.5-7.6 1.2-5.7"/>
<path stroke="#008080" stroke-width="0.8" fill="none" d="M246.4 675m-3 -3l6 6m0 -6l-6 6M247.6 677.4m-3 -3l6 6m0 -6l-6 6M253.1 687.1m-3 -3l6 6m0 -6l-6 6M258.3 690.9m-3 -3l6 6m0 -6l-6 6M261.4 690.8m-3 -3l6 6m0 -6l-6 6M261.2 700.8m-3 -3l6 6m0 -6l-6 6M263.3 700.2m-3 -3l6 6m0 -6l-6 6M269.2 703.9m-3 -3l6 6m0 -6l-6 6M273 706.4m-3 -3l6 6m0 -6l-6 6M274.3 715.2m-3 -3l6 6m0 -6l-6 6M276.9 718.3m-3 -3l6 6m0 -6l-6 6M280.5 722.5m-3 -3l6 6m0 -6l-6 6M286.6 724.2m-3 -3l6 6m0 -6l-6 6M286.8 724.6m-3 -3l6 6m0 -6l-6 6M293.4 729.1m-3 -3l6 6m0 -6l-6 6M293.5 736.3m-3 -3l6 6m0 -6l-6 6M300.5 736m-3 -3l6 6m0 -6l-6 6M304.3 742.3m-3 -3l6 6m0 -6l-6 6M304.6 743.9m-3 -3l6 6m0 -6l-6 6M308 752.1m-3 -3l6 6m0 -6l-6 6M310.7 751.5m-3 -3l6 6m0 -6l-6 6M313.3 755.3m-3 -3l6 6m0 -6l-6 6M317.4 762.8m-3 -3l6 6m0 -6l-6 6M319.6 763.6m-3 -3l6 6m0 -6l-6 6M326.9 771.6m-3 -3l6 6m0 -6l-6 6M330.4 772.9m-3 -3l6 6m0 -6l-6 6M330.8 780m-3 -3l6 6m0 -6l-6 6M334.5 783m-3 -3l6 6m0 -6l-6 6M337.1 784.4m-3 -3l6 6m0 -6l-6 6M340.7 791.4m-3 -3l6 6m0 -6l-6 6M345.7 794.8m-3 -3l6 6m0 -6l-6 6M347.7 798.5m-3 -3l6 6m0 -6l-6 6M351 802.2m-3 -3l6 6m0 -6l-6 6M355.5 804.8m-3 -3l6 6m0 -6l-6 6M357.9 811.5m-3 -3l6 6m0 -6l-6 6M361.9 813.7m-3 -3l6 6m0 -6l-6 6M365.4 821m-3 -3l6 6m0 -6l-6 6M366.1 824.4m-3 -3l6 6m0 -6l-6 6M369.4 829.5m-3 -3l6 6m0 -6l-6 6M374.9 835.6m-3 -3l6 6m0 -6l-6 6M377.7 839.4m-3 -3l6 6m0 -6l-6 6M378.8 845.9m-3 -3l6 6m0 -6l-6 6M383.8 850.6m-3 -3l6 6m0 -6l-6 6M386.7 854m-3 -3l6 6m0 -6l-6 6M390.1 857.7m-3 -3l6 6m0 -6l-6 6M392.8 863m-3 -3l6 6m0 -6l-6 6M396.1 867.6m-3 -3l6 6m0 -6l-6 6M399.4 872.1m-3 -3l6 6m0 -6l-6 6M402.6 876.7m-3 -3l6 6m0 -6l-6 6M405.9 881.2m-3 -3l6 6m0 -6l-6 6M409.1 885.7m-3 -3l6 6m0 -6l-6 6M412.3 890.3m-3 -3l6 6m0 -6l-6 6M415.6 894.8m-3 -3l6 6m0 -6l-6 6M418.8 899.4m-3 -3l6 6m0 -6l-6 6M422 904m-3 -3l6 6m0 -6l-6 6M425.3 908.7m-3 -3l6 6m0 -6l-6 6M428.4 913.3m-3 -3l6 6m0 -6l-6 6M431.6 917.9m-3 -3l6 6m0 -6l-6 6M434.9 923m-3 -3l6 6m0 -6l-6 6M438.3 928.1m-3 -3l6 6m0 -6l-6 6M441.6 933.5m-3 -3l6 6m0 -6l-6 6M444.9 938.8m-3 -3l6 6m0 -6l-6 6M448 944.1m-3 -3l6 6m0 -6l-6 6M451.2 949.5m-3 -3l6 6m0 -6l-6 6M454.4 955.1m-3 -3l6 6m0 -6l-6 6M457.5 960.5m-3 -3l6 6m0 -6l-6 6M460.7 965.9m-3 -3l6 6m0 -6l-6 6M464 971.5m-3 -3l6 6m0 -6l-6 6M467.2 976.9m-3 -3l6 6m0 -6l-6 6M470.3 982.2m-3 -3l6 6m0 -6l-6 6M473.5 987.6m-3 -3l6 6m0 -6l-6 6M476.9 993.3m-3 -3l6 6m0 -6l-6 6M480.1 998.8m-3 -3l6 6m0 -6l-6 6M483.4 1004.2m-3 -3l6 6m0 -6l-6 6M486.7 1009.6m-3 -3l6 6m0 -6l-6 6M490 1015m-3 -3l6 6m0 -6l-6 6M493.3 1020.3m-3 -3l6 6m0 -6l-6 6M496.5 1025.2m-3 -3l6 6m0 -6l-6 6M499.8 1030.2m-3 -3l6 6m0 -6l-6 6M503 1034.9m-3 -3l6 6m0 -6l-6 6M506.2 1039.6m-3 -3l6 6m0 -6l-6 6M509.5 1044.3m-3 -3l6 6m0 -6l-6 6M512.7 1049m-3 -3l6 6m0 -6l-6 6M515.9 1053.6m-3 -3l6 6m0 -6l-6 6M519.2 1058.4m-3 -3l6 6m0 -6l-6 6M522.4 1063.1m-3 -3l6 6m0 -6l-6 6M525.7 1068.2m-3 -3l6 6m0 -6l-6 6M529 1073.5m-3 -3l6 6m0 -6l-6 6M532.1 1078.7m-3 -3l6 6m0 -6l-6 6M535.4 1084.4m-3 -3l6 6m0 -6l-6 6M538.6 1089.9m-3 -3l6 6m0 -6l-6 6M541.9 1095.4m-3 -3l6 6m0 -6l-6 6M545 1100.4m-3 -3l6 6m0 -6l-6 6M548.1 1105m-3 -3l6 6m0 -6l-6 6M551.2 1109.7m-3 -3l6 6m0 -6l-6 6M554.5 1114.5m-3 -3l6 6m0 -6l-6 6M557.9 1119.3m-3 -3l6 6m0 -6l-6 6M561 1123.6m-3 -3l6 6m0 -6l-6 6M564.1 1127.7m-3 -3l6 6m0 -6l-6 6M567.3 1131.6m-3 -3l6 6m0 -6l-6 6M570.6 1135.5m-3 -3l6 6m0 -6l-6 6M573.9 1138.9m-3 -3l6 6m0 -6l-6 6M577.2 1141.9m-3 -3l6 6m0 -6l-6 6M580.5 1144.5m-3 -3l6 6m0 -6l-6 6M583.9 1146.9m-3 -3l6 6m0 -6l-6 6M587.2 1149m-3 -3l6 6m0 -6l-6 6M590.5 1150.7m-3 -3l6 6m0 -6l-6 6M593.8 1152.1m-3 -3l6 6m0 -6l-6 6M597.2 1153.2m-3 -3l6 6m0 -6l-6 6M600.5 1153.9m-3 -3l6 6m0 -6l-6 6M603.7 1153.6m-3 -3l6 6m0 -6l-6 6M606.8 1152.7m-3 -3l6 6m0 -6l-6 6M610 1150.7m-3 -3l6 6m0 -6l-6 6M613.3 1148.1m-3 -3l6 6m0 -6l-6 6M616.4 1145.4m-3 -3l6 6m0 -6l-6 6M619.6 1142.8m-3 -3l6 6m0 -6l-6 6M622.9 1140.1m-3 -3l6 6m0 -6l-6 6M626.1 1137.4m-3 -3l6 6m0 -6l-6 6M629.6 1134.3m-3 -3l6 6m0 -6l-6 6M632.9 1130.9m-3 -3l6 6m0 -6l-6 6M636.2 1126.4m-3 -3l6 6m0 -6l-6 6M639.6 1121.1m-3 -3l6 6m0 -6l-6 6M642.8 1114.5m-3 -3l6 6m0 -6l-6 6M646 1107m-3 -3l6 6m0 -6l-6 6M649.2 1097.9m-3 -3l6 6m0 -6l-6 6M652.4 1088m-3 -3l6 6m0 -6l-6 6M655.6 1076.3m-3 -3l6 6m0 -6l-6 6M658.4 1063.9m-3 -3l6 6m0 -6l-6 6M661.2 1051.4m-3 -3l6 6m0 -6l-6 6M663.9 1039m-3 -3l6 6m0 -6l-6 6M666.9 1026.6m-3 -3l6 6m0 -6l-6 6M670 1014.3m-3 -3l6 6m0 -6l-6 6M673.1 1001.8m-3 -3l6 6m0 -6l-6 6M675.9 989.5m-3 -3l6 6m0 -6l-6 6M678 977m-3 -3l6 6m0 -6l-6 6M679.8 964.4m-3 -3l6 6m0 -6l-6 6M681.5 952m-3 -3l6 6m0 -6l-6 6M683.1 939.3m-3 -3l6 6m0 -6l-6 6M684.7 926.9m-3 -3l6 6m0 -6l-6 6M686.4 914.2m-3 -3l6 6m0 -6l-6 6M688.5 901.7m-3 -3l6 6m0 -6l-6 6M690.7 889m-3 -3l6 6m0 -6l-6 6M693.2 876.5m-3 -3l6 6m0 -6l-6 6M695.6 864.1m-3 -3l6 6m0 -6l-6 6M698 851.8m-3 -3l6 6m0 -6l-6 6M700.4 839.5m-3 -3l6 6m0 -6l-6 6M702.6 826.8m-3 -3l6 6m0 -6l-6 6M704.7 814.2m-3 -3l6 6m0 -6l-6 6M706.7 801.8m-3 -3l6 6m0 -6l-6 6M708.8 789.2m-3 -3l6 6m0 -6l-6 6M710.9 776.6m-3 -3l6 6m0 -6l-6 6M713 764.1m-3 -3l6 6m0 -6l-6 6M715.3 751.7m-3 -3l6 6m0 -6l-6 6M717.6 739.3m-3 -3l6 6m0 -6l-6 6M720 726.9m-3 -3l6 6m0 -6l-6 6M722.6 714.3m-3 -3l6 6m0 -6l-6 6M725.1 701.8m-3 -3l6 6m0 -6l-6 6M727.7 689.2m-3 -3l6 6m0 -6l-6 6"/>
<path fill="none" stroke="#2020b0" stroke-width="0.8" d="M359 675l2.2 4.2 3 5.7 3.5 6.7 3.9 7.4 4.2 7.9 4.2 8 4.1 7.8 3.9 7.3 3.8 7.1 3.9 7.3 3.9 7.4 4 7.3 3.8 7.2 3.8 7 3.5 6.6 3.3 6.1 2.9 5.4 2.5 4.7 2.3 4.2 2.2 4 2.2 4 2.4 4.3 2.5 4.9 3 5.5 3.4 6.4 3.7 7.1 4 7.5 4.1 7.8 4.1 7.9 4.1 7.8 3.9 7.5 3.7 7 3.4 6.5 3.3 6.3 3.1 6 3.1 5.9 3 5.8 3 5.8 3 5.8 3.1 5.9 3.1 5.9 3.1 5.8 3.1 5.8 3.1 5.7 3.1 5.9 3.1 6.1 3.2 6.2 3.2 6.6 3.3 7 3.3 7.3 3.4 7.6 3.4 7.7 3.5 7.8 3.4 7.7 3.4 7.6 3.3 7.3 3.3 7.3 3.4 7.4 3.4 7.4 3.4 7.3 3.3 7 3.2 6.6 3.1 5.9 2.9 5.1 2.7 4.2 2.5 3.4 2.3 2.8 2.3 2.4 2.2 2 2.3 1.9 2.3 2 2.4 2.3 2.5 2.5 2.4 2.7 2.5 2.7 2.5 2.6 2.6 2.4 2.7 2.1 2.8 1.8 3 1.2 3.3 .7 3.5 .4 3.8 0 3.8-.3 3.7-.7 3.7-.8 3.3-1.1 2.9-1.2 2.5-1.5 2.3-1.7 2-2 1.8-2.2 1.6-2.5 1.6-2.5 1.6-2.8 1.6-2.8 1.6-2.9 1.4-3.1 1.4-3.2 1.4-3.4 1.3-3.5 1.2-3.8 1.4-3.9 1.3-4.2 1.4-4.5 1.4-4.8 1.4-5.1 1.4-5.2 1.4-5.4 1.4-5.4 1.3-5.3 1.3-5.3 1.2-5.2 1.2-5.1 1.1-5.2 1.2-5.1 1-5.2 1.1-5.3 1.1-5.4 1.1-5.5 1.1-5.6 1.1-5.7 1-5.8 1.1-5.9 1-5.9 1.1-6 1-6 1.1-6.1 1-5.9 1-5.5 1-5.5 1-5.6 1-5.9 1.1-6.4 1.1-7.2 1.3-8 1.4-9.2 1.6-10.1 1.6-11 1.7-11.4 1.7-11.6 1.7-11.6 1.7-11.4 1.6-10.7 1.6-10.4 1.6-10.4 1.5-10.3 1.6-10.2 1.5-10 1.5-9.6 1.4-9.3 1.3-8.8 1.2-8.7 1.3-8.6 1.1-8.5 1.2-8.1 1-7.5 .9-6.7 .7-5.6 .6-4.3"/>
<path stroke="#2020b0" stroke-width="1.3" fill="none" d="M359 670.8l0 8.4M362.6 672.9l-7.3 4.2M362.6 677.1l-7.3 -4.2M362.8 678l0 8.4M366.4 680.1l-7.3 4.2M366.4 684.3l-7.3 -4.2M366.5 685.1l0 8.4M370.2 687.2l-7.3 4.2M370.2 691.4l-7.3 -4.2M370.2 692l0 8.4M373.8 694.1l-7.3 4.2M373.8 698.3l-7.3 -4.2M373.9 699.1l0 8.4M377.6 701.2l-7.3 4.2M377.6 705.4l-7.3 -4.2M377.7 706.2l0 8.4M381.3 708.3l-7.3 4.2M381.3 712.5l-7.3 -4.2M381.5 713.5l0 8.4M385.1 715.6l-7.3 4.2M385.1 719.8l-7.3 -4.2M385.1 720.3l0 8.4M388.8 722.4l-7.3 4.2M388.8 726.6l-7.3 -4.2M388.9 727.5l0 8.4M392.6 729.6l-7.3 4.2M392.6 733.8l-7.3 -4.2M392.5 734.3l0 8.4M396.2 736.4l-7.3 4.2M396.2 740.6l-7.3 -4.2M396.3 741.4l0 8.4M400 743.5l-7.3 4.2M400 747.7l-7.3 -4.2M399.9 748.1l0 8.4M403.6 750.2l-7.3 4.2M403.6 754.5l-7.3 -4.2M403.6 754.9l0 8.4M407.2 757l-7.3 4.2M407.2 761.2l-7.3 -4.2M407.2 761.7l0 8.4M410.8 763.8l-7.3 4.2M410.8 768l-7.3 -4.2M410.9 768.6l0 8.4M414.6 770.7l-7.3 4.2M414.6 775l-7.3 -4.2M414.7 775.7l0 8.4M418.4 777.8l-7.3 4.2M418.4 782l-7.3 -4.2M418.5 782.8l0 8.4M422.2 784.9l-7.3 4.2M422.2 789.1l-7.3 -4.2M422.2 789.6l0 8.4M425.9 791.7l-7.3 4.2M425.9 795.9l-7.3 -4.2M425.9 796.4l0 8.4M429.6 798.6l-7.3 4.2M429.6 802.8l-7.3 -4.2M429.6 803.2l0 8.4M433.3 805.3l-7.3 4.2M433.3 809.5l-7.3 -4.2M433.3 810.1l0 8.4M437 812.2l-7.3 4.2M437 816.4l-7.3 -4.2M437 817l0 8.4M440.7 819.1l-7.3 4.2M440.7 823.3l-7.3 -4.2M440.7 823.8l0 8.4M444.3 825.9l-7.3 4.2M444.3 830.1l-7.3 -4.2M444.4 830.9l0 8.4M448.1 833l-7.3 4.2M448.1 837.2l-7.3 -4.2M448.1 838l0 8.4M451.8 840.1l-7.3 4.2M451.8 844.3l-7.3 -4.2M452 845.3l0 8.4M455.6 847.4l-7.3 4.2M455.6 851.6l-7.3 -4.2M455.7 852.4l0 8.4M459.3 854.5l-7.3 4.2M459.3 858.7l-7.3 -4.2M459.5 859.7l0 8.4M463.2 861.8l-7.3 4.2M463.2 866l-7.3 -4.2M463.2 866.8l0 8.4M466.9 868.9l-7.3 4.2M466.9 873.1l-7.3 -4.2M466.8 873.7l0 8.4M470.5 875.8l-7.3 4.2M470.5 880l-7.3 -4.2M470.6 880.8l0 8.4M474.2 882.9l-7.3 4.2M474.2 887.1l-7.3 -4.2M474.3 887.9l0 8.4M477.9 890l-7.3 4.2M477.9 894.2l-7.3 -4.2M478.1 895.2l0 8.4M481.7 897.3l-7.3 4.2M481.7 901.5l-7.3 -4.2M481.9 902.5l0 8.4M485.5 904.6l-7.3 4.2M485.5 908.8l-7.3 -4.2M485.6 909.6l0 8.4M489.2 911.7l-7.3 4.2M489.2 915.9l-7.3 -4.2M489.3 916.7l0 8.4M492.9 918.8l-7.3 4.2M492.9 923.1l-7.3 -4.2M493.1 924l0 8.4M496.7 926.1l-7.3 4.2M496.7 930.3l-7.3 -4.2M496.9 931.3l0 8.4M500.5 933.4l-7.3 4.2M500.5 937.6l-7.3 -4.2M500.7 938.4l0 8.4M504.3 940.5l-7.3 4.2M504.3 944.7l-7.3 -4.2M504.5 945.5l0 8.4M508.1 947.6l-7.3 4.2M508.1 951.8l-7.3 -4.2M508.3 952.7l0 8.4M511.9 954.8l-7.3 4.2M511.9 959l-7.3 -4.2M511.9 959.6l0 8.4M515.5 961.7l-7.3 4.2M515.5 965.9l-7.3 -4.2M515.6 966.8l0 8.4M519.2 968.9l-7.3 4.2M519.2 973.1l-7.3 -4.2M519.2 974.4l0 8.4M522.9 976.5l-7.3 4.2M522.9 980.8l-7.3 -4.2M522.9 982.2l0 8.4M526.5 984.3l-7.3 4.2M526.5 988.5l-7.3 -4.2M526.5 990.1l0 8.4M530.1 992.2l-7.3 4.2M530.1 996.4l-7.3 -4.2M530.2 998.4l0 8.4M533.8 1000.5l-7.3 4.2M533.8 1004.7l-7.3 -4.2M533.8 1006.6l0 8.4M537.5 1008.7l-7.3 4.2M537.5 1012.9l-7.3 -4.2M537.6 1015.1l0 8.4M541.2 1017.2l-7.3 4.2M541.2 1021.5l-7.3 -4.2M541.4 1023.7l0 8.4M545 1025.8l-7.3 4.2M545 1030l-7.3 -4.2M545.2 1032l0 8.4M548.8 1034.1l-7.3 4.2M548.8 1038.3l-7.3 -4.2M548.9 1040.1l0 8.4M552.6 1042.2l-7.3 4.2M552.6 1046.5l-7.3 -4.2M552.7 1048.5l0 8.4M556.4 1050.6l-7.3 4.2M556.4 1054.8l-7.3 -4.2M556.5 1056.8l0 8.4M560.2 1058.9l-7.3 4.2M560.2 1063.1l-7.3 -4.2M560.2 1064.7l0 8.4M563.9 1066.8l-7.3 4.2M563.9 1071l-7.3 -4.2M564 1072.6l0 8.4M567.7 1074.7l-7.3 4.2M567.7 1078.9l-7.3 -4.2M567.7 1079.9l0 8.4M571.3 1082l-7.3 4.2M571.3 1086.2l-7.3 -4.2M571.5 1086.9l0 8.4M575.1 1089l-7.3 4.2M575.1 1093.2l-7.3 -4.2M575.2 1092.4l0 8.4M578.8 1094.5l-7.3 4.2M578.8 1098.7l-7.3 -4.2M578.9 1097.4l0 8.4M582.6 1099.5l-7.3 4.2M582.6 1103.7l-7.3 -4.2M582.6 1101.1l0 8.4M586.2 1103.2l-7.3 4.2M586.2 1107.4l-7.3 -4.2M586.3 1104.5l0 8.4M589.9 1106.6l-7.3 4.2M589.9 1110.8l-7.3 -4.2M590.2 1108.1l0 8.4M593.9 1110.2l-7.3 4.2M593.9 1114.4l-7.3 -4.2M594.2 1112.1l0 8.4M597.8 1114.3l-7.3 4.2M597.8 1118.5l-7.3 -4.2M598.1 1116.3l0 8.4M601.7 1118.4l-7.3 4.2M601.7 1122.6l-7.3 -4.2M601.7 1119.9l0 8.4M605.3 1122l-7.3 4.2M605.3 1126.2l-7.3 -4.2M605.4 1123.1l0 8.4M609 1125.2l-7.3 4.2M609 1129.4l-7.3 -4.2M609 1125.6l0 8.4M612.7 1127.7l-7.3 4.2M612.7 1131.9l-7.3 -4.2M612.9 1126.8l0 8.4M616.5 1128.9l-7.3 4.2M616.5 1133.1l-7.3 -4.2M616.8 1127.5l0 8.4M620.5 1129.6l-7.3 4.2M620.5 1133.8l-7.3 -4.2M620.5 1127.7l0 8.4M624.1 1129.8l-7.3 4.2M624.1 1134l-7.3 -4.2M624.2 1127.6l0 8.4M627.9 1129.7l-7.3 4.2M627.9 1133.9l-7.3 -4.2M628 1127.2l0 8.4M631.6 1129.3l-7.3 4.2M631.6 1133.5l-7.3 -4.2M631.7 1126.5l0 8.4M635.3 1128.6l-7.3 4.2M635.3 1132.8l-7.3 -4.2M635.6 1125.4l0 8.4M639.2 1127.5l-7.3 4.2M639.2 1131.7l-7.3 -4.2M639.5 1124l0 8.4M643.2 1126.1l-7.3 4.2M643.2 1130.3l-7.3 -4.2M643.4 1121.4l0 8.4M647.1 1123.5l-7.3 4.2M647.1 1127.7l-7.3 -4.2M647.1 1117.8l0 8.4M650.7 1119.9l-7.3 4.2M650.7 1124.1l-7.3 -4.2M650.9 1112.6l0 8.4M654.6 1114.7l-7.3 4.2M654.6 1118.9l-7.3 -4.2M654.7 1106.2l0 8.4M658.4 1108.3l-7.3 4.2M658.4 1112.6l-7.3 -4.2M658.5 1098.4l0 8.4M662.2 1100.5l-7.3 4.2M662.2 1104.7l-7.3 -4.2M662.2 1088.8l0 8.4M665.9 1090.9l-7.3 4.2M665.9 1095.1l-7.3 -4.2M665.8 1078.3l0 8.4M669.5 1080.4l-7.3 4.2M669.5 1084.6l-7.3 -4.2M669.5 1065.9l0 8.4M673.1 1068l-7.3 4.2M673.1 1072.2l-7.3 -4.2M672.8 1053.8l0 8.4M676.4 1055.9l-7.3 4.2M676.4 1060.1l-7.3 -4.2M675.8 1041.6l0 8.4M679.4 1043.8l-7.3 4.2M679.4 1048l-7.3 -4.2M678.7 1029.4l0 8.4M682.3 1031.5l-7.3 4.2M682.3 1035.7l-7.3 -4.2M681.4 1017.1l0 8.4M685.1 1019.3l-7.3 4.2M685.1 1023.5l-7.3 -4.2M684 1004.8l0 8.4M687.6 1006.9l-7.3 4.2M687.6 1011.1l-7.3 -4.2M686.5 992.2l0 8.4M690.1 994.3l-7.3 4.2M690.1 998.5l-7.3 -4.2M688.8 979.7l0 8.4M692.5 981.8l-7.3 4.2M692.5 986l-7.3 -4.2M691.1 967.3l0 8.4M694.7 969.4l-7.3 4.2M694.7 973.6l-7.3 -4.2M693.3 954.8l0 8.4M696.9 956.9l-7.3 4.2M696.9 961.2l-7.3 -4.2M695.4 942.4l0 8.4M699.1 944.5l-7.3 4.2M699.1 948.7l-7.3 -4.2M697.7 929.8l0 8.4M701.3 931.9l-7.3 4.2M701.3 936.1l-7.3 -4.2M699.8 917.4l0 8.4M703.4 919.5l-7.3 4.2M703.4 923.7l-7.3 -4.2M701.8 904.8l0 8.4M705.5 906.9l-7.3 4.2M705.5 911.2l-7.3 -4.2M703.9 892.2l0 8.4M707.5 894.3l-7.3 4.2M707.5 898.5l-7.3 -4.2M705.8 879.5l0 8.4M709.4 881.6l-7.3 4.2M709.4 885.8l-7.3 -4.2M707.7 867l0 8.4M711.3 869.1l-7.3 4.2M711.3 873.4l-7.3 -4.2M709.5 854.5l0 8.4M713.2 856.6l-7.3 4.2M713.2 860.8l-7.3 -4.2M711.4 841.9l0 8.4M715 844l-7.3 4.2M715 848.2l-7.3 -4.2M713.2 829.5l0 8.4M716.9 831.6l-7.3 4.2M716.9 835.8l-7.3 -4.2M715.1 816.9l0 8.4M718.7 819l-7.3 4.2M718.7 823.2l-7.3 -4.2M717 804.4l0 8.4M720.6 806.5l-7.3 4.2M720.6 810.7l-7.3 -4.2M718.9 792l0 8.4M722.5 794.1l-7.3 4.2M722.5 798.3l-7.3 -4.2M720.8 779.5l0 8.4M724.4 781.6l-7.3 4.2M724.4 785.8l-7.3 -4.2M722.7 767l0 8.4M726.3 769.1l-7.3 4.2M726.3 773.3l-7.3 -4.2M724.6 754.4l0 8.4M728.3 756.5l-7.3 4.2M728.3 760.7l-7.3 -4.2M726.5 741.6l0 8.4M730.2 743.7l-7.3 4.2M730.2 747.9l-7.3 -4.2M728.4 729.1l0 8.4M732 731.2l-7.3 4.2M732 735.4l-7.3 -4.2M730.2 716.5l0 8.4M733.8 718.6l-7.3 4.2M733.8 722.8l-7.3 -4.2M731.9 703.9l0 8.4M735.6 706l-7.3 4.2M735.6 710.2l-7.3 -4.2M733.6 691.4l0 8.4M737.3 693.5l-7.3 4.2M737.3 697.7l-7.3 -4.2M735.3 678.6l0 8.4M739 680.7l-7.3 4.2M739 684.9l-7.3 -4.2"/>
</g>
<path d="M242.0,1201.0H894.2V675.2H242.0Z" fill="none" stroke="#000" stroke-width="2.4"/>
<path d="M242.0,1201.0V1191.0M307.2,1201.0V1196.0M372.4,1201.0V1191.0M437.7,1201.0V1196.0M502.9,1201.0V1191.0M568.1,1201.0V1196.0M633.3,1201.0V1191.0M698.5,1201.0V1196.0M763.8,1201.0V1191.0M829.0,1201.0V1196.0M894.2,1201.0V1191.0M242.0,1201.6H253.0M242.0,1157.8H248.0M242.0,1114.0H253.0M242.0,1070.1H248.0M242.0,1026.3H253.0M242.0,982.5H248.0M242.0,938.7H253.0M242.0,894.9H248.0M242.0,851.1H253.0M242.0,807.3H248.0M242.0,763.4H253.0M242.0,719.6H248.0M242.0,675.8H253.0" stroke="#000" stroke-width="2"/>
<g font-family='"Liberation Sans", sans-serif' font-size="25" fill="#000" stroke="#000" stroke-width="0.3" style="letter-spacing:1.2px">
<text x="230.6" y="1208.0" text-anchor="end">0.050</text>
<text x="230.6" y="1120.4" text-anchor="end">0.075</text>
<text x="230.6" y="1032.7" text-anchor="end">0.100</text>
<text x="230.6" y="945.1" text-anchor="end">0.125</text>
<text x="230.6" y="857.5" text-anchor="end">0.150</text>
<text x="230.6" y="769.8" text-anchor="end">0.175</text>
<text x="230.6" y="682.2" text-anchor="end">0.200</text>
<text x="242.1" y="1233.9" text-anchor="middle">1450</text>
<text x="372.5" y="1233.9" text-anchor="middle">1460</text>
<text x="503.0" y="1233.9" text-anchor="middle">1470</text>
<text x="633.4" y="1233.9" text-anchor="middle">1480</text>
<text x="763.9" y="1233.9" text-anchor="middle">1490</text>
<text x="894.3" y="1233.9" text-anchor="middle">1500</text>
</g>
<text x="568.2" y="1279.8" text-anchor="middle" font-family='"Liberation Sans", sans-serif' font-size="31" stroke="#000" stroke-width="0.3" style="letter-spacing:0.72px">Wavelength (nm)</text>
<text transform="translate(135.7,954.6) rotate(-90)" text-anchor="middle" font-family='"Liberation Sans", sans-serif' font-size="31" stroke="#000" stroke-width="0.3" style="letter-spacing:0.55px">Reflectivity</text>
<text x="47" y="1294.5" font-family='"Liberation Serif", serif' font-size="44" stroke="#000" stroke-width="0.3">(b)</text>
<rect x="750.5" y="685.5" width="198.5" height="506" fill="#fff" stroke="#555" stroke-width="1.3"/>
<path d="M758.7,761.8H772M785,761.8H799.8" stroke="#000000" stroke-opacity="0.75" stroke-width="1.3"/>
<path fill="#000000" d="M778.8 761.8m-3.3 -3.3l6.6 0 0 6.6 -6.6 0z"/>
<text x="805.5" y="766.8" font-family='"Liberation Sans", sans-serif' font-size="22" stroke="#000" stroke-width="0.3" style="letter-spacing:0.65px;white-space:pre" xml:space="preserve">Water 150mL</text>
<path d="M758.7,789.7H772M785,789.7H799.8" stroke="#ff0000" stroke-opacity="0.75" stroke-width="1.3"/>
<path stroke="#ff0000" stroke-width="6.72" stroke-linecap="round" fill="none" d="M778.8 789.7h.01"/>
<text x="805.5" y="794.7" font-family='"Liberation Sans", sans-serif' font-size="22" stroke="#000" stroke-width="0.3" style="letter-spacing:0.65px;white-space:pre" xml:space="preserve">IPA  30mL</text>
<path d="M758.7,817.7H772M785,817.7H799.8" stroke="#00ff00" stroke-opacity="0.75" stroke-width="1.3"/>
<path fill="#00ff00" d="M778.8 817.7m0 -4l3.8 6.8 -7.6 0z"/>
<text x="805.5" y="822.7" font-family='"Liberation Sans", sans-serif' font-size="22" stroke="#000" stroke-width="0.3" style="letter-spacing:0.65px;white-space:pre" xml:space="preserve">IPA  60mL</text>
<path d="M758.7,845.6H772M785,845.6H799.8" stroke="#0000ff" stroke-opacity="0.75" stroke-width="1.3"/>
<path fill="#0000ff" d="M778.8 845.6m0 4l3.8 -6.8 -7.6 0z"/>
<text x="805.5" y="850.6" font-family='"Liberation Sans", sans-serif' font-size="22" stroke="#000" stroke-width="0.3" style="letter-spacing:0.65px;white-space:pre" xml:space="preserve">IPA  90mL</text>
<path d="M758.7,873.5H772M785,873.5H799.8" stroke="#00ffff" stroke-opacity="0.75" stroke-width="1.3"/>
<path fill="#00ffff" d="M778.8 873.5m0 -4l4 4 -4 4 -4 -4z"/>
<text x="805.5" y="878.5" font-family='"Liberation Sans", sans-serif' font-size="22" stroke="#000" stroke-width="0.3" style="letter-spacing:0.65px;white-space:pre" xml:space="preserve">IPA 120mL</text>
<path d="M758.7,901.5H772M785,901.5H799.8" stroke="#ff00ff" stroke-opacity="0.75" stroke-width="1.3"/>
<path fill="#ff00ff" d="M778.8 901.5m-4 0l6.8 3.8 0 -7.6z"/>
<text x="805.5" y="906.5" font-family='"Liberation Sans", sans-serif' font-size="22" stroke="#000" stroke-width="0.3" style="letter-spacing:0.65px;white-space:pre" xml:space="preserve">IPA 150mL</text>
<path d="M758.7,929.4H772M785,929.4H799.8" stroke="#ffff00" stroke-opacity="0.75" stroke-width="1.3"/>
<path fill="#ffff00" d="M778.8 929.4m4 0l-6.8 3.8 0 -7.6z"/>
<text x="805.5" y="934.4" font-family='"Liberation Sans", sans-serif' font-size="22" stroke="#000" stroke-width="0.3" style="letter-spacing:0.65px;white-space:pre" xml:space="preserve">IPA 180mL</text>
<path d="M758.7,957.3H772M785,957.3H799.8" stroke="#808000" stroke-opacity="0.75" stroke-width="1.3"/>
<path fill="#808000" d="M778.8 957.3m3.2 1.8l-3.2 1.8 -3.2 -1.8 0 -3.7 3.2 -1.8 3.2 1.8z"/>
<text x="805.5" y="962.3" font-family='"Liberation Sans", sans-serif' font-size="22" stroke="#000" stroke-width="0.3" style="letter-spacing:0.65px;white-space:pre" xml:space="preserve">IPA 210mL</text>
<path d="M758.7,985.2H772M785,985.2H799.8" stroke="#000080" stroke-opacity="0.75" stroke-width="1.3"/>
<path fill="#000080" d="M778.8 985.2m0 -4.2l1 2.7 3 .2 -2.3 1.8 .7 2.8 -2.4 -1.6 -2.4 1.6 .7 -2.8 -2.3 -1.8 3 -.2z"/>
<text x="805.5" y="990.2" font-family='"Liberation Sans", sans-serif' font-size="22" stroke="#000" stroke-width="0.3" style="letter-spacing:0.65px;white-space:pre" xml:space="preserve">IPA 240mL</text>
<path d="M758.7,1013.2H772M785,1013.2H799.8" stroke="#800080" stroke-opacity="0.75" stroke-width="1.3"/>
<path fill="#800080" d="M778.8 1013.2m0 -3.8l3.7 2.7 -1.4 4.2 -4.6 0 -1.4 -4.2z"/>
<text x="805.5" y="1018.2" font-family='"Liberation Sans", sans-serif' font-size="22" stroke="#000" stroke-width="0.3" style="letter-spacing:0.65px;white-space:pre" xml:space="preserve">IPA 270mL</text>
<path d="M758.7,1041.1H772M785,1041.1H799.8" stroke="#800000" stroke-opacity="0.75" stroke-width="1.3"/>
<path fill="#800000" d="M778.8 1041.1m3.8 0l-1.9 3 -3.9 0 -1.9 -3 1.9 -3 3.9 0z"/>
<text x="805.5" y="1046.1" font-family='"Liberation Sans", sans-serif' font-size="22" stroke="#000" stroke-width="0.3" style="letter-spacing:0.65px;white-space:pre" xml:space="preserve">IPA 300mL</text>
<path d="M758.7,1069.0H772M785,1069.0H799.8" stroke="#008000" stroke-opacity="0.75" stroke-width="1.3"/>
<path stroke="#008000" stroke-width="0.8" fill="none" d="M778.8 1069m-3.2 0h6.4m-3.2 -3.2v6.4"/>
<text x="805.5" y="1074.0" font-family='"Liberation Sans", sans-serif' font-size="22" stroke="#000" stroke-width="0.3" style="letter-spacing:0.65px;white-space:pre" xml:space="preserve">IPA 330mL</text>
<path d="M758.7,1097.0H772M785,1097.0H799.8" stroke="#008080" stroke-opacity="0.75" stroke-width="1.3"/>
<path stroke="#008080" stroke-width="0.8" fill="none" d="M778.8 1097m-2.8 -2.8l5.6 5.6m0 -5.6l-5.6 5.6"/>
<text x="805.5" y="1102.0" font-family='"Liberation Sans", sans-serif' font-size="22" stroke="#000" stroke-width="0.3" style="letter-spacing:0.65px;white-space:pre" xml:space="preserve">IPA 360mL</text>
<path d="M758.7,1124.9H772M785,1124.9H799.8" stroke="#2020b0" stroke-opacity="0.75" stroke-width="1.3"/>
<path stroke="#2020b0" stroke-width="1.3" fill="none" d="M778.8 1120.9l0 7.9M782.2 1122.9l-6.9 4M782.2 1126.9l-6.9 -4"/>
<text x="805.5" y="1129.9" font-family='"Liberation Sans", sans-serif' font-size="22" stroke="#000" stroke-width="0.3" style="letter-spacing:0.65px;white-space:pre" xml:space="preserve">IPA 100%</text>
</svg></body></html>
